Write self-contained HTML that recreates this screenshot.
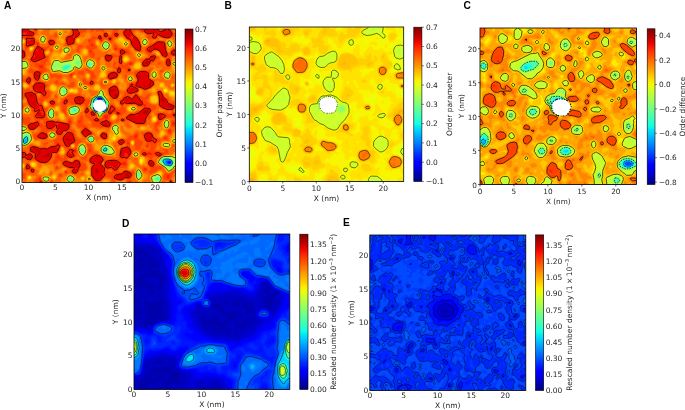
<!DOCTYPE html>
<html><head><meta charset="utf-8"><style>
html,body{margin:0;padding:0;background:#fff;}
svg{display:block;}
</style></head><body>
<svg width="685" height="410" viewBox="0 0 685 410">
<defs><linearGradient id="cbA" x1="0" y1="0" x2="0" y2="1"><stop offset="0.000" stop-color="#800000"/><stop offset="0.025" stop-color="#9b0000"/><stop offset="0.050" stop-color="#b60000"/><stop offset="0.075" stop-color="#d60000"/><stop offset="0.100" stop-color="#f10800"/><stop offset="0.125" stop-color="#ff1e00"/><stop offset="0.150" stop-color="#ff3800"/><stop offset="0.175" stop-color="#ff4e00"/><stop offset="0.200" stop-color="#ff6800"/><stop offset="0.225" stop-color="#ff7e00"/><stop offset="0.250" stop-color="#ff9400"/><stop offset="0.275" stop-color="#ffae00"/><stop offset="0.300" stop-color="#ffc400"/><stop offset="0.325" stop-color="#ffde00"/><stop offset="0.350" stop-color="#f8f500"/><stop offset="0.375" stop-color="#e4ff13"/><stop offset="0.400" stop-color="#ceff29"/><stop offset="0.425" stop-color="#baff3c"/><stop offset="0.450" stop-color="#a4ff53"/><stop offset="0.475" stop-color="#90ff66"/><stop offset="0.500" stop-color="#7dff7a"/><stop offset="0.525" stop-color="#66ff90"/><stop offset="0.550" stop-color="#53ffa4"/><stop offset="0.575" stop-color="#3cffba"/><stop offset="0.600" stop-color="#29ffce"/><stop offset="0.625" stop-color="#16ffe1"/><stop offset="0.650" stop-color="#00e4f8"/><stop offset="0.675" stop-color="#00ccff"/><stop offset="0.700" stop-color="#00b0ff"/><stop offset="0.725" stop-color="#0098ff"/><stop offset="0.750" stop-color="#0080ff"/><stop offset="0.775" stop-color="#0064ff"/><stop offset="0.800" stop-color="#004cff"/><stop offset="0.825" stop-color="#0030ff"/><stop offset="0.850" stop-color="#0018ff"/><stop offset="0.875" stop-color="#0000ff"/><stop offset="0.900" stop-color="#0000f1"/><stop offset="0.925" stop-color="#0000d6"/><stop offset="0.950" stop-color="#0000b6"/><stop offset="0.975" stop-color="#00009b"/><stop offset="1.000" stop-color="#000080"/></linearGradient>
<linearGradient id="cbB" x1="0" y1="0" x2="0" y2="1"><stop offset="0.000" stop-color="#800000"/><stop offset="0.025" stop-color="#9b0000"/><stop offset="0.050" stop-color="#b60000"/><stop offset="0.075" stop-color="#d60000"/><stop offset="0.100" stop-color="#f10800"/><stop offset="0.125" stop-color="#ff1e00"/><stop offset="0.150" stop-color="#ff3800"/><stop offset="0.175" stop-color="#ff4e00"/><stop offset="0.200" stop-color="#ff6800"/><stop offset="0.225" stop-color="#ff7e00"/><stop offset="0.250" stop-color="#ff9400"/><stop offset="0.275" stop-color="#ffae00"/><stop offset="0.300" stop-color="#ffc400"/><stop offset="0.325" stop-color="#ffde00"/><stop offset="0.350" stop-color="#f8f500"/><stop offset="0.375" stop-color="#e4ff13"/><stop offset="0.400" stop-color="#ceff29"/><stop offset="0.425" stop-color="#baff3c"/><stop offset="0.450" stop-color="#a4ff53"/><stop offset="0.475" stop-color="#90ff66"/><stop offset="0.500" stop-color="#7dff7a"/><stop offset="0.525" stop-color="#66ff90"/><stop offset="0.550" stop-color="#53ffa4"/><stop offset="0.575" stop-color="#3cffba"/><stop offset="0.600" stop-color="#29ffce"/><stop offset="0.625" stop-color="#16ffe1"/><stop offset="0.650" stop-color="#00e4f8"/><stop offset="0.675" stop-color="#00ccff"/><stop offset="0.700" stop-color="#00b0ff"/><stop offset="0.725" stop-color="#0098ff"/><stop offset="0.750" stop-color="#0080ff"/><stop offset="0.775" stop-color="#0064ff"/><stop offset="0.800" stop-color="#004cff"/><stop offset="0.825" stop-color="#0030ff"/><stop offset="0.850" stop-color="#0018ff"/><stop offset="0.875" stop-color="#0000ff"/><stop offset="0.900" stop-color="#0000f1"/><stop offset="0.925" stop-color="#0000d6"/><stop offset="0.950" stop-color="#0000b6"/><stop offset="0.975" stop-color="#00009b"/><stop offset="1.000" stop-color="#000080"/></linearGradient>
<linearGradient id="cbC" x1="0" y1="0" x2="0" y2="1"><stop offset="0.000" stop-color="#800000"/><stop offset="0.025" stop-color="#9b0000"/><stop offset="0.050" stop-color="#b60000"/><stop offset="0.075" stop-color="#d60000"/><stop offset="0.100" stop-color="#f10800"/><stop offset="0.125" stop-color="#ff1e00"/><stop offset="0.150" stop-color="#ff3800"/><stop offset="0.175" stop-color="#ff4e00"/><stop offset="0.200" stop-color="#ff6800"/><stop offset="0.225" stop-color="#ff7e00"/><stop offset="0.250" stop-color="#ff9400"/><stop offset="0.275" stop-color="#ffae00"/><stop offset="0.300" stop-color="#ffc400"/><stop offset="0.325" stop-color="#ffde00"/><stop offset="0.350" stop-color="#f8f500"/><stop offset="0.375" stop-color="#e4ff13"/><stop offset="0.400" stop-color="#ceff29"/><stop offset="0.425" stop-color="#baff3c"/><stop offset="0.450" stop-color="#a4ff53"/><stop offset="0.475" stop-color="#90ff66"/><stop offset="0.500" stop-color="#7dff7a"/><stop offset="0.525" stop-color="#66ff90"/><stop offset="0.550" stop-color="#53ffa4"/><stop offset="0.575" stop-color="#3cffba"/><stop offset="0.600" stop-color="#29ffce"/><stop offset="0.625" stop-color="#16ffe1"/><stop offset="0.650" stop-color="#00e4f8"/><stop offset="0.675" stop-color="#00ccff"/><stop offset="0.700" stop-color="#00b0ff"/><stop offset="0.725" stop-color="#0098ff"/><stop offset="0.750" stop-color="#0080ff"/><stop offset="0.775" stop-color="#0064ff"/><stop offset="0.800" stop-color="#004cff"/><stop offset="0.825" stop-color="#0030ff"/><stop offset="0.850" stop-color="#0018ff"/><stop offset="0.875" stop-color="#0000ff"/><stop offset="0.900" stop-color="#0000f1"/><stop offset="0.925" stop-color="#0000d6"/><stop offset="0.950" stop-color="#0000b6"/><stop offset="0.975" stop-color="#00009b"/><stop offset="1.000" stop-color="#000080"/></linearGradient>
<linearGradient id="cbD" x1="0" y1="0" x2="0" y2="1"><stop offset="0.000" stop-color="#800000"/><stop offset="0.025" stop-color="#9b0000"/><stop offset="0.050" stop-color="#b60000"/><stop offset="0.075" stop-color="#d60000"/><stop offset="0.100" stop-color="#f10800"/><stop offset="0.125" stop-color="#ff1e00"/><stop offset="0.150" stop-color="#ff3800"/><stop offset="0.175" stop-color="#ff4e00"/><stop offset="0.200" stop-color="#ff6800"/><stop offset="0.225" stop-color="#ff7e00"/><stop offset="0.250" stop-color="#ff9800"/><stop offset="0.275" stop-color="#ffae00"/><stop offset="0.300" stop-color="#ffc400"/><stop offset="0.325" stop-color="#ffde00"/><stop offset="0.350" stop-color="#f8f500"/><stop offset="0.375" stop-color="#e4ff13"/><stop offset="0.400" stop-color="#ceff29"/><stop offset="0.425" stop-color="#baff3c"/><stop offset="0.450" stop-color="#a4ff53"/><stop offset="0.475" stop-color="#90ff66"/><stop offset="0.500" stop-color="#7dff7a"/><stop offset="0.525" stop-color="#66ff90"/><stop offset="0.550" stop-color="#53ffa4"/><stop offset="0.575" stop-color="#3cffba"/><stop offset="0.600" stop-color="#29ffce"/><stop offset="0.625" stop-color="#13fce4"/><stop offset="0.650" stop-color="#00e4f8"/><stop offset="0.675" stop-color="#00ccff"/><stop offset="0.700" stop-color="#00b0ff"/><stop offset="0.725" stop-color="#0098ff"/><stop offset="0.750" stop-color="#0080ff"/><stop offset="0.775" stop-color="#0064ff"/><stop offset="0.800" stop-color="#004cff"/><stop offset="0.825" stop-color="#0030ff"/><stop offset="0.850" stop-color="#0018ff"/><stop offset="0.875" stop-color="#0000ff"/><stop offset="0.900" stop-color="#0000f1"/><stop offset="0.925" stop-color="#0000d6"/><stop offset="0.950" stop-color="#0000b6"/><stop offset="0.975" stop-color="#00009b"/><stop offset="1.000" stop-color="#000080"/></linearGradient>
<linearGradient id="cbE" x1="0" y1="0" x2="0" y2="1"><stop offset="0.000" stop-color="#800000"/><stop offset="0.025" stop-color="#9b0000"/><stop offset="0.050" stop-color="#b60000"/><stop offset="0.075" stop-color="#d60000"/><stop offset="0.100" stop-color="#f10800"/><stop offset="0.125" stop-color="#ff1e00"/><stop offset="0.150" stop-color="#ff3800"/><stop offset="0.175" stop-color="#ff4e00"/><stop offset="0.200" stop-color="#ff6800"/><stop offset="0.225" stop-color="#ff7e00"/><stop offset="0.250" stop-color="#ff9800"/><stop offset="0.275" stop-color="#ffae00"/><stop offset="0.300" stop-color="#ffc400"/><stop offset="0.325" stop-color="#ffde00"/><stop offset="0.350" stop-color="#f8f500"/><stop offset="0.375" stop-color="#e4ff13"/><stop offset="0.400" stop-color="#ceff29"/><stop offset="0.425" stop-color="#baff3c"/><stop offset="0.450" stop-color="#a4ff53"/><stop offset="0.475" stop-color="#90ff66"/><stop offset="0.500" stop-color="#7dff7a"/><stop offset="0.525" stop-color="#66ff90"/><stop offset="0.550" stop-color="#53ffa4"/><stop offset="0.575" stop-color="#3cffba"/><stop offset="0.600" stop-color="#29ffce"/><stop offset="0.625" stop-color="#13fce4"/><stop offset="0.650" stop-color="#00e4f8"/><stop offset="0.675" stop-color="#00ccff"/><stop offset="0.700" stop-color="#00b0ff"/><stop offset="0.725" stop-color="#0098ff"/><stop offset="0.750" stop-color="#0080ff"/><stop offset="0.775" stop-color="#0064ff"/><stop offset="0.800" stop-color="#004cff"/><stop offset="0.825" stop-color="#0030ff"/><stop offset="0.850" stop-color="#0018ff"/><stop offset="0.875" stop-color="#0000ff"/><stop offset="0.900" stop-color="#0000f1"/><stop offset="0.925" stop-color="#0000d6"/><stop offset="0.950" stop-color="#0000b6"/><stop offset="0.975" stop-color="#00009b"/><stop offset="1.000" stop-color="#000080"/></linearGradient></defs>
<rect width="685" height="410" fill="#fff"/>
<filter id="blA" x="-2%" y="-2%" width="104%" height="104%"><feGaussianBlur stdDeviation="0.50"/></filter><clipPath id="clipA"><rect x="22.00" y="29.00" width="153.50" height="153.50"/></clipPath><g clip-path="url(#clipA)"><g filter="url(#blA)"><rect x="20.00" y="27.00" width="157.50" height="157.50" fill="#0000bb"/><path fill="#0000e3" d="M22 29l154 0l0 154l-154 0l0-154z"/><path fill="#0000ff" d="M22 29l154 0l0 154l-154 0l0-154zM95.5 108.1l-.2 1.4l1.2 .4l.6-1.4l-.6-.6l-1 .2zM98.5 98.3l.1 1.2l.9 .2l1.3-.2l.7-1l-3-.2z"/><path fill="#0024ff" d="M22 29l154 0l0 154l-154 0l0-154zM96.5 107.4l-1 .2l-.7 .9l.7 1.7l1 .2l1-.9l0-1.2l-1-.9zM98.5 97.9l-.7 .6l.7 1.4l1 .3l2.1-.7l.2-1l-.3-.3l-3-.3zM169.5 161.4l-.7 .1l-.6 1l1.3 1l1-1l-1-1.1z"/><path fill="#0048ff" d="M22 29l154 0l0 154l-154 0l0-154zM95.5 107.3l-1 .9l0 1.3l1 1.1l1.6-.1l.7-1l-.3-1.9l-2-.3zM98.5 97.5l-1.1 1l.2 1l.9 .8l1.5 .2l2.1-1l.1-1l-.7-.7l-3-.3zM104.5 108.7l-.9 .8l.9 1l1-.3l.4-.7l-.4-.7l-1-.1zM167.5 161.4l-.3 1.1l.7 1l1.6 .5l1.1-.5l.4-1l-.5-1.3l-1-.3l-2 .5z"/><path fill="#006cff" d="M22 29l154 0l0 154l-154 0l0-154zM94.5 107.5l-.2 2l.6 1l1.6 .4l1.2-.4l.4-1l-.3-2l-1.3-.5l-2 .5zM98.5 97.3l-1 .3l-.4 .9l.2 1l1.2 1.1l2 .1l2.1-1.2l-.1-1l-1-1l-3-.2zM104.5 108.3l-1 .6l0 1.6l2 .1l.8-1.1l-.6-1l-1.2-.2zM168.5 160.5l-2 .7l-.2 1.3l2.2 1.8l2-.2l1-1.6l-.3-1l-1.4-1l-1.3 0z"/><path fill="#0090ff" d="M22 29l154 0l0 154l-154 0l0-154zM94.5 107.1l-.5 1.4l.5 2l2 .6l1.5-.6l.1-3l-1.6-.7l-2 .3zM97.5 97.4l-.6 1.1l.1 1l1.5 1.4l2 0l2.3-1.4l-.1-1l-1.2-1.2l-4 .1zM103.5 108.3l-.5 1.2l.5 1.3l2-.1l1-1.1l-.3-1.1l-.7-.4l-2 .2zM166.5 160.4l-1.1 1.1l.2 1l.9 1.1l3 1.2l1-.2l1-1.1l.1-2l-1.1-1.1l-4 0z"/><path fill="#00b4ff" d="M22 29l154 0l0 154l-154 0l0-154zM94.5 106.8l-.6 .7l0 1l.6 2.1l2 .7l1.9-.8l0-3l-.9-.8l-3 .1zM97.5 97.2l-.9 1.3l.1 1l1.8 1.7l2 0l2-.9l.6-.8l-.2-1l-1.4-1.3l-4 0zM103.5 108l-.8 1.5l.1 1l1.7 .6l1.6-.6l.5-1l-.1-1.1l-1-.6l-2 .2zM165.5 160.3l-.6 1.2l.1 1l1.5 1.6l3 .9l2-.9l.5-1.6l-.2-1l-1.3-1.4l-2-.3l-3 .5z"/><path fill="#00d8ff" d="M22 29l154 0l0 154l-154 0l0-154zM24.5 139.3l-.4 1.2l.2 2l1.2 .1l1.2-1.1l0-2l-1.2-.6l-1 .4zM94.5 106.5l-.9 1l.9 3.3l2 .7l2.4-1l.2-2l-.6-1.3l-2-1.1l-2 .4zM97.5 97l-1.3 1.5l-.1 1l1.4 1.6l3 .4l2.3-1l.6-1l-.3-1l-1.6-1.5l-4 0zM104.5 107.5l-1 .1l-1.3 1.9l.1 1l1.2 .8l2-.3l.8-.5l.5-1l-.3-1.5l-2-.5zM165.5 159.8l-.9 .7l-.3 1l1.2 2.5l4 1.3l2.1-.8l.7-2l-.9-2l-1.9-.9l-4 .2z"/><path fill="#16ffe1" d="M22 29l154 0l0 154l-154 0l0-154zM25.5 137.5l-1 .8l-.9 2.2l.1 2l.8 .8l2-.8l1.1-2l-.1-2.1l-1-1.1l-1 .2zM96.5 97.5l-1 1.7l-1 .3l0 1.2l1 .5l5 .9l3.3-1.6l-.6-2l-1.7-1.6l-3-.2l-2 .8zM165.5 159.2l-1 .3l-.9 1l.2 2l1.6 2l4.1 1.1l2-.6l1-2.5l-1-2.2l-2-1l-4-.1zM94.5 105.8l-1.2 1.7l1.2 3.4l1 .6l2 .1l2.7-1.1l.1-1l-1.8-3l-1-.7l-3 0zM103.5 106.9l-1.6 1.6l-.3 2l1.6 1l1.3 0l2-1l.4-2l-1.4-1.5l-2-.1zM104.5 148.5l-.7 1l.2 1l1.5 .3l.8-.3l.4-1l-.5-1l-1.7 0z"/><path fill="#33ffc4" d="M22 29l154 0l0 154l-154 0l0-154zM26.5 136.2l-2 1.2l-1.2 2.1l0 3l1.2 1.2l1-.2l1.4-1l1-2l-.1-3l-1.3-1.3zM66.5 66.4l-2.4 1.1l.1 1l2 0l1.8-1l.5-1l-2-.1zM74.5 109.3l-.1 1.2l1.1 0l.1-1l-1.1-.2zM96.5 97.3l-2.9 2.2l-1.1 3l.4 5l1.1 3l1.5 1.1l2 .2l4-.5l3 .4l2-1l.5-2.2l-1.2-2l.9-2l-.9-3l-3.1-4l-1.2-.8l-3-.1l-2 .7zM163.5 159.3l-1.1 1.2l.2 1l1.1 2l1.8 1.6l5 .7l1.8-1.3l.3-3l-2.1-2.2l-4-.6l-3 .6zM104.5 147.9l-1.3 1.6l0 1l1.3 .9l1 .1l1.5-1l.2-1l-.7-1.5l-1-.5l-1 .4zM97.2 103.5l1.3-.6l2 .6l1 1.7l.1 1.3l-1.1 .2l-3.5-2.2l.2-1z"/><path fill="#50ffa7" d="M22 29l154 0l0 154l-154 0l0-154zM25.5 136l-1 .7l-1.6 2.8l0 3l.4 1l1.2 .5l1-.2l1.8-1.3l1.3-3l-.1-1.9l-1-1.7l-1-.3l-1 .4zM64.5 66.3l-1.4 1.2l-.2 1l1.6 .9l3.4-.9l1.9-2l-.3-.7l-1-.3l-4 .8zM74.5 108.5l-1.1 1l.2 1l.9 1l1-.2l1-1.8l-1-1l-1 0zM82.5 149.8l-.7 .7l.7 .8l.7-.8l-.7-.7zM89.5 63.7l-.7 .8l.7 .6l1-.4l0-.4l-1-.6zM98.5 96.4l-1 .1l-4 2.4l-1.8 4.6l.9 4l1.2 3l.7 .8l2 .7l7 0l2-.6l1.2-.9l.4-1l-.5-3l.9-2l-1-3l-4-4.4l-2-.8l-2 .1zM157.5 177.6l-.9 .9l.3 1l.6 .6l1-.1l.7-1.5l-.7-.8l-1-.1zM164.5 158.4l-2.4 1.1l-.5 1l1.5 3l2.3 2l1.1 .3l4 .3l1.3-.6l.8-1l.5-2l-.2-1l-1.4-1.8l-3-1.2l-4-.1zM90.5 138.4l-.1 1.1l1.1 .1l.1-1.1l-1.1-.1zM104.5 147.3l-1.8 2.2l.1 1l.7 .9l1 .4l2-.2l1-1.1l-.1-2l-.9-1.1l-2-.1z"/><path fill="#6dff8a" d="M22 29l154 0l0 154l-154 0l0-42l.5 0l.3 2.5l1.7 .7l1-.1l2.2-1.6l1.4-4l-1.2-3l-1.4-.5l-2.4 1.5l-1.3 2l-.3 1.9l-.5 0l0-111.4zM51.5 112.1l-.9 1.4l.2 1l.7 .6l.8-1.6l-.8-1.4zM65.5 65.3l-2 1l-1.1 1.2l.1 1.6l1 .8l2 0l2-.6l2-1.3l1-1.5l-.1-1l-.9-.5l-4 .3zM73.5 108.3l-.6 1.2l.5 2l1.1 .6l1.7-.6l.7-1l-.3-2l-1.1-.4l-2 .2zM77.5 61.9l0 1.6l1 .1l.3-1.1l-.3-.6l-1 0zM81.5 149.4l-.4 1.1l.4 1l1 .5l1-.3l.4-1.2l-.4-.8l-1-.6l-1 .3zM88.5 63.3l-.4 1.2l.4 .7l1 .6l1.3-.3l.6-1l-.6-1l-1.3-.5l-1 .3zM97.5 96.3l-4.1 2.2l-2 5l.7 4l1.6 3l1.8 1.4l4 .7l6-1l1.4-1.1l.3-1l-.2-3l.6-1l.2-2l-.9-2l-5.4-5.2l-4 0zM138.5 172.8l-.4 .7l.4 1.8l1.1-.8l-.1-1l-1-.7zM156.5 177.5l-.5 1l.5 1.5l1 .8l1-.2l1.1-1.1l-.1-1.6l-1-.7l-2 .3zM163.5 158.2l-2 1.2l-.4 1.1l1.4 3l2 1.7l2 1l4 .2l1-.2l1-.9l.8-1.8l-.1-2l-1.7-2.2l-4-1.3l-4 .2zM64.5 89.8l-.8 .7l0 1l.8 1l1.1-1l-1.1-1.7zM69.5 178l-.6 1.5l.6 .7l1 .5l1.1-.2l.1-1l-.8-1l-1.4-.5zM90.5 137.6l-.9 .9l0 1l.9 1l1-.1l.9-.9l0-1l-.9-.9l-1 0zM104.5 146.9l-1.7 1.6l-.4 2l1.1 1.3l3 .3l1.5-1.6l-.1-2l-1.4-1.5l-2-.1z"/><path fill="#8aff6d" d="M22 29l154 0l0 154l-154 0l0-39.3l2.5 .8l2.6-1l1.6-2l.9-3l-1-3l-1.1-.9l-1-.1l-2.1 1l-1.9 2.7l-.5 0l0-109.2zM51.5 111l-1 .6l-.7 1.9l.5 2l1.2 .6l1-.6l.3-2l-.3-2l-1-.5zM68.5 64.4l-3 .3l-2 1l-1.7 1.8l.2 2l1.5 .9l2 0l2-.5l2-1.2l1.6-2.2l0-1l-.6-.8l-2-.3zM72.5 108.5l-.7 1l-.3 2.5l3 .7l2.4-1.2l.6-2l-1-1.6l-2-.3l-2 .9zM77.5 61l-.9 1.5l.1 1l.8 .9l1 .2l1-1.1l0-1l-1-1.4l-1-.1zM81.5 148.6l-.8 .9l.2 2l1.6 1.1l1-.2l.8-.9l-.3-2l-1.5-.9l-1 0zM88.5 62.7l-.8 .8l-.1 1l.6 1l2.3 .7l1.2-.7l.4-1l-.5-1l-1.1-.8l-2 0zM97.5 96.1l-4.4 2.4l-1.9 5l.4 4l1.9 3l2 1.6l4 1l6-1.4l1.5-1.2l.3-1l.8-6l-.8-2l-5.8-5.6l-4 .2zM105.5 44.1l-.9 1.4l.3 1l.6 .5l1-.1l.5-1.4l-.3-1l-1.2-.4zM137.5 172.4l.1 3.1l.9 1.6l1-.2l.9-1.4l-.3-2l-.6-1.2l-1-.4l-1 .5zM156.5 176.9l-.8 .6l-.1 2l.9 1.4l1 .5l1-.3l1.6-1.6l-.3-2l-1.3-.8l-2 .2zM162.5 158.2l-1.6 1.3l-.3 1l.6 2l1.9 2l3.4 2.1l4 .4l1-.1l1-.8l.9-1.6l.3-2l-.5-2l-1.7-1.7l-4-1.2l-3 0l-2 .6zM63.5 89.1l-.5 1.4l.4 2l1.1 .6l1-.3l.5-1.3l-.5-1.7l-1-.8l-1 .1zM69.5 177.4l-1.1 1.1l0 1l.7 1l1.4 .5l1.8-.5l0-1l-.8-1.1l-1-.9l-1-.1zM90.5 137.2l-1 .6l-.4 1.7l.6 1l1.8 .4l1-.8l.4-1.6l-.7-1l-1.7-.3zM104.5 146.5l-2.1 2l-.3 2l1.4 1.7l3 .3l1.5-1l.3-3l-.5-1l-1.3-.9l-2-.1z"/><path fill="#a7ff50" d="M22 29l154 0l0 154l-19.4 0l0-.5l.9-.1l3-2.9l0-1.2l-1-1.6l-2-.6l-1.9 .4l-1 1l0 2l1.9 3.5l-134.5 0l0-38.8l3.5 .4l2-1.1l1.7-2l1-3l-.8-3l-.7-1l-1.2-.6l-2 .2l-2.2 1.4l-.8 1.3l-.5 0l0-107.8zM51.5 110.2l-1 .3l-1.2 3l.2 2l1 1.1l1 .3l1-.5l.7-2.9l-.3-2l-1.4-1.3zM57.5 62.5l-4 3l-.9 2l.9 .8l1.5-.8l1.5-2l2.1-1l.3-1l-1.4-1zM69.5 63.3l-4 .5l-2 1l-2.7 2.7l.4 2l1.3 1.2l2 .4l3-.5l2-1.1l2-2l.4-1l-.5-2l-.9-1l-1-.2zM73.5 107.4l-2.5 1.1l-.7 1l.4 3l.8 .9l2 .1l3-.9l1.5-2.1l-.2-2l-1.1-1l-3.2-.1zM77.5 60.1l-1.6 1.4l0 3l1.7 2l.9 .5l1-.1l1-2.4l-.3-2l-.7-1.5l-2-.9zM81.5 147.4l-1 .3l-.4 .8l.2 3l1.2 1.6l2 .1l1.3-1.7l-.2-2l-1.1-1.4l-2-.7zM88.5 61.9l-1.2 1.6l.4 2l1.8 1.2l2-.2l1-1l.2-2l-2.2-1.6l-2 0zM96.5 96.4l-3 1.6l-1 1.2l-1.6 5.3l0 2l.6 1.6l3 3.6l5 2l6-1.8l1.6-1.4l.3-1l1.1-6l-.3-1l-5.7-6.5l-3-.4l-3 .8zM105.5 43.1l-1 .5l-.7 1.9l.7 1.7l1 .7l1-.1l1.1-1.3l0-2l-.8-1l-1.3-.4zM114.5 127.3l-.7 1.2l.7 .8l1-.3l.5-.5l-.1-1l-1.4-.2zM138.5 171.1l-1 .6l-.5 1.8l.5 3.6l1 1l1-.2l1.4-2.4l-.8-3l-.6-1l-1-.4zM163.5 157.4l-3.1 2.1l-.4 2l.4 1l5.1 4.1l6 1.5l1-.9l1.4-2.7l.4-2l-.2-2l-3.6-2.8l-3-.5l-4 .2zM166.5 123.6l-.4 .9l.4 1.3l1-1.3l-1-.9zM63.5 88l-.8 .5l-.5 1l.1 2l1.1 2l1.1 .2l1-.4l.9-1.8l-.9-2.4l-2-1.1zM69.5 176.8l-1.4 1.7l.4 2l2 .9l2-.7l.3-1.2l-1.1-2l-1.2-.7l-1 0zM89.5 137.3l-.8 1.2l.5 2l1.3 .8l2-.6l.8-1.2l-.6-2l-1.2-.7l-2 .5zM104.5 146.1l-1 .5l-1.5 1.9l-.1 2l.5 1l1.1 1l2 .5l2.8-.5l.8-2l-.7-3l-1-1l-2.9-.4z"/><path fill="#c4ff33" d="M22 29l154 0l0 34.5l-1.1 0l1.1 .3l0 76.5l-1.7 .2l.2 1l1.5 0l0 17.1l-2.5-.2l-3-1.3l-7 0l-2.5 1.4l-.9 1l-.8 2l.2 1.1l6.9 4.9l2.1 2.3l2-.2l2-1.1l2-3.7l1.5-1l0 19.2l-17.9 0l0-.5l2.4-2.4l.4-1.6l-1.4-2.4l-3-.6l-3.5 1l-.7 1l.2 2.3l1.7 1.7l.7 1.5l-132.9 0l0-38.4l3.5 .3l2.5-1.4l1.6-2l1.2-3l-1.1-4l-1.2-.9l-2-.5l-4.5 1.4l0-4.7l2.5-.2l1.1-1.1l-1.1-1l-2.5-.2l0-60l4.5-.7l.6-1.1l-.9-3l-.7-.3l-3.5 .1l0-33.3zM42.5 37.4l-1 1l-.1 1.1l1.1 1.3l1.1-.3l.9-2l-.6-1l-1.4-.1zM46.5 75.3l-.9 .2l-.4 1l.3 1l1 .9l1-.9l-1-2.2zM51.5 109.5l-1 .3l-.5 .7l-1.1 3l.6 2.9l2 1.2l1.4-1.1l.7-3l-.2-2l-1.9-2zM66.5 48.4l-1 .2l-1 .9l1 2.1l2-.1l1-1l0-1.2l-.8-.8l-1.2-.1zM74.5 56.5l-1 7l.4 2l1.6 .5l2 1.5l2 .4l1-1l.9-2.4l-.9-3.6l-.8-1.4l-.3-2l-.9-1.2l-2-.7l-2 .9zM81.5 145.5l-2 1.9l-.2 2.1l1.2 3.5l2 1.5l2.4-2l.3-3l-1.7-3.5l-.7-.5l-1.3 0zM89.5 60.5l-2 1.7l-.7 2.3l1.5 2l2.2 1l2-1.1l1.3-2.9l-1.3-1.9l-3-1.1zM100.5 91.4l-.4 2.1l-1.8 2l-5.7 3l-1.6 4l-.6 4l.9 2l2.9 3l4.1 2l1.2 1.8l2.1-1.8l3.9-1.5l1.7-1.5l1.6-7l-.8-2l-5.2-6l-.2-2l-.9-2l-1.2-.1zM105.5 42.3l-1 .4l-1 1.3l-.1 2.5l1.1 1.6l2 .5l1-.6l.9-1.5l.1-2l-.6-1l-2.4-1.2zM114.5 126.3l-1 .6l-.5 1.6l.5 1.2l2 1.2l1-.9l1-2.5l-1-1.2l-2 0zM130.5 77.4l-1.3 1.1l.3 1.4l1 .3l.8-.7l.2-1l-1-1.1zM138.5 170.4l-1.3 1.1l-.6 2l.6 4l1.3 1.3l1-.2l1-1.1l.9-2l-.9-3.2l-1-1.5l-1-.4zM144.5 40.4l-1 1l-.2 1.1l.3 1l.9 .4l1.2-.4l.7-2l-.9-1.3l-1 .2zM153.5 75.3l-.1 1.2l1.3 0l.3-1l-.5-.5l-1 .3zM166.5 72.8l-1.3 1.7l.2 2l1.1 .9l2-.1l1-1.5l0-1.5l-2-1.7l-1 .2zM168.5 42.2l.3 2.3l.7 1l1-.2l.4-.8l-.4-2.1l-1-.8l-1 .6zM44.5 177.6l-.7 .9l.7 1.5l1 .7l2-.2l.6-1l-.6-1.3l-3-.6zM52.5 133.4l-1 .2l-1 .9l0 1.2l1 .9l2-.1l.7-1l-.7-1.8l-1-.3zM56.5 61.3l-2 .8l-2.4 4.4l.2 2l1.2 2.1l6-.9l1 .1l3 1.9l4-.1l1.1-.1l3.2-2l.7-.9l1-5.1l-.3-1l-1.3-1l-1.4-.1l-2 .8l-4 .3l-3 .8l-3-1.9l-2-.1zM91.5 136.5l-2 .5l-1.2 1.5l.4 2l1.8 1.2l2-.5l1.2-1.7l-.6-2l-1.6-1zM103.5 146.2l-1.3 1.3l-.8 2l.7 2l1.4 1.3l3 .8l3 0l1.6-.1l2-1l.3-1l-.8-1l-2.1-.4l-1.2-2.6l-1-1l-2.8-.7l-2 .4zM166.5 121.3l-1 .8l-.6 2.4l.6 2l1 .7l1-.5l.9-2.2l-.9-3l-1-.2zM62.5 87.4l-1.6 2.1l-.2 3l1.1 2l1.7 .2l2-.9l1.1-1.3l.1-1l-1.2-3l-1.2-1l-1.8-.1zM72.5 107.3l-2 1l-.9 1.2l0 2l.9 2l1 .5l2 0l4-1.5l1.2-3l-1.1-2l-2.1-.6l-3 .4zM69.5 176.3l-1 .7l-.8 1.5l.4 2l2.4 1.2l2-.6l.9-1.6l-.7-2l-1.4-1l-1.8-.2z"/><path fill="#e4ff13" d="M22 29l154 0l0 33.7l-2.5 .3l-.3 .5l.3 1.1l2.5 .5l0 74.5l-2.5 .5l-.5 1.4l3 .6l0 15.8l-1.5 0l-3-1.2l-8 .1l-3 1.7l-1.7 3l.7 1.8l6.3 4.2l2.7 3.4l3.4-1.4l2.6-3.6l1.5-.8l0 17.9l-17.4 0l.8-1.5l1.2-1l.6-2l-.7-1.8l-1-1.1l-2-.7l-5 1.3l-.8 1.3l.6 3l1.8 2.5l-132.1 0l0-38.1l3.5 .3l3-1.7l2.2-3l.7-2l-.9-3.5l-1-1.5l-3-1l-4.5 1.4l0-3.4l3.5-.7l.7-1.3l-.7-1.2l-3.5-.5l0-58.7l4.5-.5l1.2-1.1l.2-1l-1.4-3.4l-1-.6l-3.5 .2l0-32.7zM41.5 37.2l-.6 1.3l.4 3l2.6 0l1.1-2l-.2-2l-1.3-.7l-2 .4zM45.5 74.3l-2 1.6l-.3 1.6l.5 1l2.8 1l1.4-1l-.1-3l-.6-1l-1.7-.2zM50.5 109.3l-1.5 2.2l-.5 3l1 2.4l2 1.1l1-.3l.9-1.2l.4-4l-.3-1.4l-1-1.4l-1-.6l-1 .2zM56.5 46.1l-.8 1.4l.8 .8l1.5-.8l-.1-1l-1.4-.4zM59.5 33.2l0 1l1 .5l.5-1.2l-.5-.5l-1 .2zM64.5 48.4l-.5 1.1l.2 1l.3 1l1 .8l3.1-.8l.5-2l-.6-1.2l-2-.3l-2 .4zM75.5 55.2l-1.6 1.3l-.5 3l-.9 1.1l-11 2l-3.6-2.1l-3.4 .7l-1 .9l-2 4.4l-.1 1l1.1 3.2l1 .6l6-.9l4 1.8l4 .1l5-2.3l1-2.8l1-.6l1 .1l3 1.6l1 .1l1-.6l1.4-3.3l-1.8-7l-.6-1.2l-1.1-.8l-1.9-.7l-1 .4zM85.5 86.4l-1 .2l-.6 .9l.6 .7l1 .1l1.2-.8l-1.2-1.1zM88.5 60.3l-2 3.2l.4 2l2.6 2.1l2 .2l2.1-2.3l.8-2l-.4-1l-2.5-2.2l-2-.4l-1 .4zM100.5 90.9l-1.8 3.6l-.9 1l-5.4 3l-1.5 4l-.8 4l.7 2l1.7 1.2l1.5 1.8l3.8 2l1.7 3.3l2.7-3.3l3.3-1.4l1.8-1.6l1.8-7l-.8-2l-4.8-6l-1-4l-1-.7l-1 .1zM102.5 67.2l-.3 1.3l.3 .7l1 .4l1-.5l0-1.7l-2-.2zM104.5 42.1l-1.7 2.4l.1 2l1.6 2.3l2 .3l2.1-1.6l.5-3l-.4-1l-1.3-1l-1.9-.7l-1 .3zM113.5 126.2l-1 2.3l.3 1l1.8 2l.9 2.2l1 .3l1-.4l.5-1.1l-.5-3l.5-2l-.3-1l-2.2-.9l-2 .6zM125.5 43l-.6 .5l.1 1l1.5 .3l.5-1.3l-1.5-.5zM129.5 77.2l-.8 1.3l.1 1l.7 1.1l1.8-.1l.7-1l-.3-2l-1.2-.6l-1 .3zM132.5 107.9l-.6 .6l.6 1.1l2 .1l.7-1.2l-.7-.9l-2 .3zM135.5 153l-1 .5l0 2l1 .4l1.5-.4l.6-1l-.3-1l-1.8-.5zM138.5 54l-.6 .5l.1 1l1.5 .6l.6-.6l0-1l-1.6-.5zM144.5 39.4l-1.2 1.1l-.7 2l.9 1.7l2 .3l1-1l.5-2l-.3-1l-1-1l-1.2-.1zM153.5 72.3l-1 1.2l-.1 3l2.1 .6l1.2-.6l.1-3l-.7-1l-1.6-.2zM166.5 72.2l-2 1.9l0 2l1 1.5l3 .4l1-.9l.6-2.6l-.4-1l-1.2-1l-2-.3zM168.5 41.2l-.6 1.3l.5 3l2.1 .5l1.2-1.5l-.2-1.5l-1-1.6l-1-.4l-1 .2zM26.5 108.2l-1 .7l0 1.8l1 1l2 0l.4-1.2l-.4-1.9l-2-.4zM43.5 177.5l-.1 2l1.1 1.2l2 .4l2-.8l.3-1.8l-.5-1l-2.8-.5l-2 .5zM50.5 133.4l-.6 2.1l.6 1.3l2 .6l2-.9l.4-1l-.7-2l-1.7-.6l-2 .5zM61.5 87.4l-1.3 2.1l-.3 3l.6 1.6l1 1.1l2 .4l3-2.4l.4-2.7l-1-2l-1.4-1.3l-1-.3l-2 .5zM80.5 83.1l-1 1.4l.3 1l.7 .4l.7-1.4l-.7-1.4zM90.5 136.3l-2 1.2l-.6 2l1.4 2l2.2 .5l2-1.3l.5-2.2l-1.5-2l-2-.2zM104.5 145.5l-1.9 1l-1.3 2l0 2l1.2 1.9l1 .7l3 .9l4 .1l3-.6l.5-2l-.3-1l-2.2-2.6l-4-2.2l-3-.2zM105.5 81.3l-.8 .2l.1 1l1.1 0l.4-1l-.8-.2zM137.5 170.5l-1.1 2l.1 4l1 2.3l1 .4l1-.1l2-2.6l.2-2l-2.2-4.2l-1-.4l-1 .6zM71.5 107.3l-1.8 1.2l-.8 2l.6 2.5l1 1.2l3 .3l4.5-2l1.2-3l-1-2l-2.7-.9l-4 .7zM80.5 145.3l-1.5 2.2l0 3l1.5 3.2l2 1.2l2.2-1.4l.8-1.8l.3-2.2l-1.3-3.4l-1-1l-3 .2zM165.5 121l-1.2 2.5l0 1l1.2 3l1 .3l1-.3l.6-1l.7-3l-1.3-2.7l-1-.3l-1 .5zM69.5 175.9l-2 2.2l.2 2.4l1.1 1l1.7 .6l2-.6l1.3-2l-.1-2l-2.2-1.4l-2-.2zM165.5 143.5l-2 .8l0 1.3l4 1l1.1-.1l1-1l-.1-1l-4-1z"/><path fill="#ffea00" d="M22 29l154 0l0 33.3l-2.5 0l-1 1.2l1 1.7l2.5 .5l0 73.5l-2.5 .2l-1.1 1.1l0 1l1.1 1l2.5 .1l0 14.6l-4.5-.9l-8 .2l-3.3 2l-1.8 3l0 1l.7 1l6.2 4l3.2 4.1l4-2.1l2-2.9l1.5-.8l0 17.2l-17.1 0l.6-1.2l1.5-1.3l.5-2l-1-2.6l-1-1.1l-2-.6l-5 1.5l-1 1.2l0 2.8l2.1 3.3l-131.6 0l0-37.8l3.5 .2l3.5-1.9l2.3-3l.5-2l-1.3-4.5l-1-.9l-3-1.1l-4.5 1.4l0-2.6l3.5-.4l1-.9l.2-1l-1.2-1.7l-3.5-.5l0-57.6l4.5-.5l1-.8l.9-1.9l-.9-2.6l-1-1.4l-4.5-.2l0-32.3zM42.5 36.3l-1.8 1.2l-.2 3l1 1.7l2 0l1.2-.7l.9-3l-1.1-1.9l-2-.3zM50.5 108.9l-1.8 2.6l-.6 3l.4 1.6l1 1.3l2 1l1.9-.9l.4-1l.2-5l-1.5-2.3l-1-.5l-1 .2zM55.5 46.2l-.3 1.3l.4 1l1.9 .1l1-1.1l0-1l-1-.8l-1-.2l-1 .7zM59.5 32.4l-.6 1.1l.2 1l1.4 .7l.9-.7l.2-1l-.7-1l-1.4-.1zM64.5 48l-1 1.5l1 3.3l3-.3l1.6-1l.5-2l-1.1-1.6l-2-.4l-2 .5zM76.5 54.3l-2.4 1.2l-.7 1l-.6 3l-1.3 .7l-10 1.9l-1-.3l-2-1.9l-4 .6l-1 .7l-2.3 5.3l.1 2l1.1 3l1.1 .3l6-.9l4 1.8l4 0l5.2-2.2l1.8-3.4l1 0l3 1.6l2-.4l1.9-3.8l-.9-4.3l-.9-2.7l-1.1-1.8l-3-1.4zM84.5 86.2l-1.1 1.3l.6 1l1.5 .3l1.3-.3l.5-1l-.6-1l-2.2-.3zM89.5 59.4l-2 1.4l-1 1.7l-.4 2l.4 1l2 1.9l2 1l1-.1l2-1.8l1-2l.1-2l-1.8-2l-3.3-1.1zM100.5 90.4l-1 .8l-.7 2.3l-1.3 1.8l-5.4 3.2l-2.3 8l.7 2.1l2 1.3l2 2.2l3 1.5l.7 .9l.3 2l1 .8l1-.6l2-3l3-1.4l1.9-1.8l2-7l0-1l-5.5-7l-.2-2l-1.2-2.7l-2-.4zM105.5 41.4l-1 .3l-1.7 1.8l-.4 3l2.1 2.8l2 .3l2.6-2.1l.5-3l-1.1-1.7l-3-1.4zM114.5 125.3l-1 .5l-1 1.3l-.2 2.4l1.8 2l.6 2l.8 .9l2 0l1-.9l.2-1l-.6-3l.4-2.1l-1.4-1.9l-2.6-.2zM125.5 42.4l-1.3 1.1l.1 1l1.2 1l1-.1l.9-.9l.2-1l-.8-1l-1.3-.1zM130.5 76.4l-1 .3l-1.2 1.8l.6 2l1.6 .7l1.4-.7l.7-2l-1.1-1.8l-1-.3zM138.5 53.4l-1 .7l-.1 1.4l1.1 1.1l1.4-.1l.9-1l-.1-1l-1.2-1l-1-.1zM144.5 39l-1.8 1.5l-.6 2l1.1 2l1.3 .5l2-.7l1-2.8l-1.2-2l-1.8-.5zM152.5 72.4l-.7 2.1l.1 2l1.6 1.1l2-.4l1-1.7l-.5-3l-1.5-1l-1 .1l-1 .8zM163.5 143.4l-.8 1.1l0 1l1.8 1.2l4 .4l1.1-.6l.6-1l-.1-1l-1.6-1.2l-3-.5l-2 .6zM165.5 72.3l-1.6 2.2l.3 2l1.3 1.6l3.1 .4l.9-.6l1-2.4l-.3-2l-2.7-1.8l-2 .6zM169.5 40.5l-1.8 1l0 3l.8 1.7l2 .4l1.3-1.1l.4-2l-1-2l-1.7-1zM29.5 176.7l-.9 .8l.9 1l.9-1l-.9-.8zM25.5 108.1l-.7 1.4l.4 2l1.3 .9l2-.1l1-1.8l-.6-2l-1.4-1l-2 .6zM44.5 74.2l-1.9 2.3l.4 2l2.5 1.5l2-.3l1-1.2l-.7-4l-1.3-.8l-2 .5zM52.5 132.5l-1 0l-1.6 1l-.5 2l1.1 1.8l2 .5l2-.8l.8-1.5l-.8-2.3l-2-.7zM62.5 86.5l-2 1.4l-1 2l-.2 1.6l.9 3l2.3 1.7l1-.1l2-1.3l1.2-1.3l.6-2l-.4-2l-1.4-2l-1-.7l-2-.3zM70.5 90.2l0 .6l1 .7l.8-1l-.8-1l-1 .7zM73.5 106.4l-3 1l-1.8 2.1l.1 3l.7 1.5l1 .7l3 .1l3.8-1.3l1.1-1l1-2l0-2l-1.9-2l-4-.1zM79.5 83.1l-.3 2.4l1.3 1l1.1-1l0-2l-1.1-1l-1 .6zM89.5 136.4l-1.8 2.1l.2 2l.9 1l1.7 .8l2.7-.8l1.1-2l-.8-2.5l-2-1l-2 .4zM103.5 145.4l-1.3 1.1l-1.2 2l0 2l1.5 2.3l5 1.7l5-.1l1.6-.9l.4-1l-.3-2l-2.7-3.4l-4-1.8l-4 .1zM103.5 66.5l-1 0l-1 1l.5 2l1.5 .8l1.5-.8l.5-1l-.2-1l-1.8-1zM132.5 107.2l-1.7 1.3l.2 1l2.5 .8l1.7-.8l.5-1l-.6-1l-2.6-.3zM138.5 169.4l-1 .5l-1 1.5l-.4 2.1l.4 4.3l1 1.4l1 .5l1-.1l1-.8l1.6-3.3l-1.6-4.6l-1-1.1l-1-.4zM140.5 160l0 2.2l1 .3l.4-2l-.4-.7l-1 .2zM165.5 89.4l-1.1 1.1l1.1 1.2l.8-.2l.4-1l-1.2-1.1zM43.5 177l-.7 1.5l.2 1l1.5 1.6l2.5 .4l1.8-1l.4-2l-.7-1.4l-3-.6l-2 .5zM69.5 175.5l-2.1 2l-.4 2l1.2 2l2.3 1l3-1.6l1-2.4l-.2-1l-1.2-1l-2-1l-1.6 0zM81.5 144.4l-2 1.3l-.9 1.8l-.1 2l1.4 4l1.6 1.6l1 .3l1-.4l1.6-1.5l1.1-4l-1.7-4.3l-1-.7l-2-.1zM88.5 177.8l-.7 1.7l.7 .7l2.2-.7l-.2-1.2l-2-.5zM104.5 81l-.5 1.5l.5 .5l2.4-.5l.2-1l-.6-.5l-2 0zM135.5 152.5l-1.5 1l-.3 1l.8 1.5l2 .3l1.3-.8l.1-2l-1.2-1l-1.2 0zM165.5 120.4l-1 1.2l-.7 2.9l1.2 3l1.5 .7l1-.3l1-1.3l.6-3.1l-1.2-3l-1.4-.4l-1 .3z"/><path fill="#ffc800" d="M22 29l154 0l0 32.9l-2.5 0l-1 .5l-.3 1.1l.3 1.3l1 1.1l2.5 .3l0 72.5l-2.5 .1l-1 .7l-.6 2l.7 1l3.4 .4l0 13.3l-8.5-.4l-4.9 .7l-3.7 3l-.8 2l.4 2l5.3 3l2 2l1.7 2.8l1 .6l4-2.1l2-2.6l1.5-.9l0 16.7l-16.8 0l.3-.8l1.9-1.7l.4-2l-1.3-4.1l-1-.9l-1-.1l-6 1.9l-1.2 1.2l-.2 3l2 3.5l-81.8 0l0-.5l2-1l.8-1l.7-3l-1-1l-3.3-1.5l-2 .7l-1.5 1.8l-.3 1l.1 2l2.3 2l0 .5l-47.1 0l0-16.2l.9-.3l-.4-.7l-.5 0l0-20.2l3.5 .2l2-1l2-1.3l2.5-3l.3-1l-1.6-6l-4.2-2l-.2-1l.7-2l-.5-1.3l-1-.8l-3.5-.4l0-56.8l4.5-.5l2-2.1l.3-1.1l-1.1-3l-1.2-1.4l-4.5-.2l0-31.9zM31.5 47.4l-1.2 1.1l.2 .7l1 .4l1.1-1.1l-1.1-1.1zM41.5 36.2l-1 .9l-.5 1.4l.3 3l1.2 1.1l3-.3l1.2-1.8l.1-3l-1.3-1.3l-3 0zM50.5 108.5l-1.1 1l-1.1 2l-.5 2l.1 2l.6 1.3l1.9 1.7l2.1 .1l1.4-1.1l.3-1l.1-5l-.3-1l-1.5-1.7l-2-.3zM56.5 45.2l-1 .4l-.8 1.9l.3 1l1.5 .7l1.8-.7l.7-1l-.5-1.6l-2-.7zM59.5 32l-.7 .5l-.3 1.3l1 1.7l1 .3l1-.7l.6-1.6l-.6-1.3l-2-.2zM65.5 47.3l-2 1.2l-.3 1l.4 2l-.6 2l.5 .8l5-1.8l1.1-1l.3-1l-.2-2l-1.1-1l-3.1-.2zM75.5 54.2l-2 1.3l-1 3.6l-1 .7l-4 1.1l-6 .8l-1-.4l-2-2.1l-5 1.2l-1 1.5l-1.7 4.6l.1 2l1 3l.6 .7l1 0l6-.9l4 1.8l4 0l2-.5l3.9-2.1l1.1-3l1 0l3 1.5l2-.2l1.1-1.3l1.2-3l-1-5l-1.9-4l-3.4-1.6l-1 .3zM83.5 86.4l-.5 1.1l.5 1.2l2 .6l2.1-.8l.2-1l-1.3-1.5l-1-.3l-2 .7zM88.5 59.3l-2.4 3.2l-.1 3l3.5 2.9l2 .3l2.4-2.2l1-2l.1-2l-1.5-2l-1.8-1l-3.2-.2zM99.5 90.4l-1.5 4.1l-1.2 1l-4 2l-.9 1l-2.5 8l1.1 2.4l2 1.2l2 2.1l3 1.8l1 3.2l1 .5l1-.5l2-3.2l4-2.2l1-1.3l2.2-8l-5.4-7l-.2-2l-1.3-3l-1.3-.4l-2 .3zM101.5 66.5l-.4 2l1.4 2.1l2 0l1.2-1.1l.1-2l-.7-1l-2.6-.5l-1 .5zM104.5 41.3l-2.1 2.2l-.4 3l1 2l1.1 1l2.4 .4l1.1-.4l2-2l.3-3l-1.4-2.1l-2-1.1l-2 0zM113.5 125.3l-1.5 2.2l-.1 2l1.7 2l1.2 3l1.7 .6l2-.5l.7-1.1l-.5-7l-.8-1l-1.4-.6l-3 .4zM124.5 42.1l-.9 1.4l.1 1l.8 1.1l2 .3l1.4-1.4l-.2-2l-1.2-.6l-2 .2zM129.5 76.3l-1.2 1.2l-.3 2l.5 1.1l2 .9l1.8-1l.7-2l-.3-1l-1.2-1.2l-2 0zM137.5 53.3l-.6 1.2l.6 2.1l2 .4l1.3-.5l.4-1l-.7-1.8l-1-.5l-2 .1zM143.5 39.1l-1.7 2.4l.1 2l1.6 1.7l2 .1l1-.5l.9-1.3l.5-2l-.3-1l-2.1-2l-1 0l-1 .6zM153.5 71.1l-1.6 1.4l-.6 3l.9 2l2.3 .4l1-.2l1.2-1.2l.1-3l-.2-1l-1.1-1l-2-.4zM166.5 71.3l-2.6 2.2l-.5 2l1 2l1.1 1.1l3 .3l1-.4l1.1-2l0-3l-2.1-1.8l-2-.4zM168.5 40.3l-1.3 1.2l.3 3.9l1 1.3l2 .3l1.7-1.5l.4-2l-1.8-3l-2.3-.2zM172.5 84.4l-.9 1.1l.9 .6l.7-.6l-.7-1.1zM29.5 176.2l-1 .4l-.4 .9l.4 1.1l1 .3l1-.4l.4-1l-.4-.9l-1-.4zM26.5 107.2l-1.9 1.3l-.1 2.7l2 1.6l2-.1l1.1-1.2l-.1-2.8l-1-1.2l-2-.3zM32.5 163.3l-.6 .2l-.4 1.1l1 .9l1.9 0l.1-1.3l-.7-.7l-1.3-.2zM45.5 73.3l-2.9 2.2l-.5 2l.3 1l1 1l2.1 1l1-.1l2-1l.1-3.9l-1.1-1.8l-2-.4zM50.5 132.5l-1.1 1l-.3 1l.4 2.3l2 1.3l1 .1l2-.8l1.2-1.9l-1.2-2.8l-2-.5l-2 .3zM61.5 86.5l-1.2 1l-1.1 2l-.2 3l1.5 3.1l2 1l1-.1l3-2.3l1.2-2.7l-.5-2l-1.7-2.4l-2-.9l-2 .3zM70.5 89.4l-.7 1.1l.3 1l1.4 .4l1.2-.4l.4-1l-.6-1l-2-.1zM79.5 82.4l-.7 1.1l0 2l.6 1l1.1 .3l1-.4l.5-.9l-.1-2l-.6-1l-.8-.4l-1 .3zM89.5 136.2l-1 .6l-1.2 1.7l.3 2l.9 1.2l2 .9l3-.8l1.1-2.3l0-1l-1.1-1.9l-2-.9l-2 .5zM103.5 145.1l-1.8 1.4l-1.1 2l.5 3l1.4 1.6l3.2 1.4l2.8 .4l4-.1l1-.2l1-.9l.4-1.2l-.2-2l-2.2-3.3l-4-2.1l-5 0zM104.5 80.4l-1 1.1l0 1l1 1l2-.3l1-.7l.1-1l-1-1l-2.1-.1zM113.5 137.2l-.5 1.3l.5 1l1.2 0l.6-1l-.4-1l-.4-.5l-1 .2zM125.5 58.2l-1 .7l0 1.5l1.2 .1l1.4-1l-.6-1.3l-1 0zM130.5 107.3l-1.4 1.2l.1 1l2.1 1l3.2 0l1.2-1l.3-1l-.3-1l-1.2-.7l-2-.1l-2 .6zM140.5 158.8l-.7 1.7l.1 1l.6 2.2l1 .1l1.3-3.3l-.3-1l-1-.9l-1 .2zM154.5 117.5l-1 1l-.1 1l1.1 .9l1-.3l.2-.6l-.2-1.4l-1-.6zM164.5 89.2l-.6 1.3l.6 1.3l1 .3l1.6-.6l.1-1l-.7-1.1l-1-.5l-1 .3zM170.5 92.3l0 1.4l1 .7l2-.4l-.1-1.5l-1.9-.5l-1 .3zM44.5 176.2l-1 .3l-1 1.5l.1 1.5l.7 1l2.2 1.3l2-.1l1-.5l1.1-1.7l-.2-2l-1.9-1.2l-3-.1zM53.5 176.3l-.5 1.2l.5 .5l1-.2l.1-1.3l-1.1-.2zM72.5 106.5l-2.7 1l-1.5 2l0 3l1 2l1.2 .7l3 0l4-1.4l1.3-1.3l1-2l0-2l-2.3-2.3l-3-.2l-2 .5zM80.5 144.4l-1.3 1.1l-.9 2l0 3l2 4l2.2 1.2l1-.3l2-1.9l1-3l0-1.8l-2.2-4.2l-1.8-.5l-2 .4zM88.5 177.2l-1.2 1.3l.2 1.6l1 .6l2-.4l.9-.8l-.1-1l-1.2-1l-1.6-.3zM132.5 141.5l-1 1l.1 1l.9 .8l1-.8l0-1l-1-1zM134.5 152.4l-1 1.1l-.3 1l.2 1l1 1l2.1 .2l1.9-1.2l.1-1.6l-1-1.5l-1-.3l-2 .3zM165.5 120.1l-1.3 1.4l-.9 3l1.2 3l1 1l1 .1l2-1.4l1-3.7l-1-3.1l-1-.5l-2 .2zM82.5 177.9l0 1.3l1.1-.7l-1.1-.6zM137.5 169.4l-1.6 3.1l.2 5l1.4 2.1l2 .5l1-.7l1.4-1.9l.5-3l-1.9-4.2l-1-1l-2 .1zM164.5 142.5l-2 1.2l-.3 1.8l.8 1l4.5 1.2l1-.1l1.6-1.1l.5-2l-.7-1l-2.4-1l-3 0zM22 131.5l3.3 0l-2.8 1.5l-.5 0l0-1.5z"/><path fill="#ffa700" d="M22 29l154 0l0 32.5l-3.5 .3l-.6 1.7l.6 2.1l1 1l2.5 .5l0 71l-2.5 0l-1.8 1.4l-.3 1l0 1l1.1 1.3l3.5 .5l0 11.5l-2.5 .7l-6 0l-5 .7l-4 3.3l-.8 2l.4 2l5.4 3.1l1.9 1.9l1.8 3l1.3 .8l4-2.1l2.2-2.7l1.3-.7l0 15.6l-.5 0l-.1 .6l-15.9 0l0-.5l2.3-2l.3-1l-.6-4l.3-2l-.7-1l-1.6-.7l-7 3.2l-1.6 1.5l-.1 3l1.8 3.5l-80.6 0l0-.5l1.8-1l.6-1l.9-3l-.8-1l-4-1.8l-2.3 .8l-1 1l-.9 2l.1 2l1.7 2.5l-46.1 0l0-15l1.5-.5l.5-1l-.5-1.9l-1.5-.2l0-18.4l3.5 .1l1-.3l3.5-2.3l2.4-2l.5-1l-1.8-7l-.6-.7l-3-1.5l-.5-.8l.3-2l-.8-1.8l-1-.7l-3.5-.4l0-51.9l2.6-.2l.4-1l-.3-1l-1.3-1l1.1-.9l2-.4l1-.8l1.4-1.9l.2-1l-1-3l-1.6-1.8l-4.5-.1l0-17.4l1.5-.3l1.1-1.4l-.3-1l-2.3-.5l0-11zM30.5 47.4l-.6 1.1l.1 1l.5 .6l1 .1l1.6-1.7l-.2-1l-1.4-.5l-1 .4zM40.5 36.4l-.9 2.1l.8 4l2.1 .5l2.5-.5l.8-1l.5-2l-.1-2l-.7-1l-1-.7l-2-.3l-2 .9zM47.5 51.3l-1.4 1.2l.4 1.3l1 0l1-1l0-.9l-1-.6zM55.5 45.2l-1.3 2.3l.3 1.3l2 .9l2-.7l.9-1.5l-.6-2l-1.3-.7l-2 .4zM59.5 31.4l-1 .6l-.4 1.5l1.4 2.6l1 .2l1-.5l.8-1.3l0-2l-.8-.9l-2-.2zM64.5 47.2l-1.5 1.3l0 3l-2.2 3l-.1 1l.8 1l2 0l2.9-3l2.1-.6l1.5-1.4l.1-3l-.9-1l-1.7-.6l-3 .3zM76.5 53.5l-3.4 2l-.8 3l-.8 .9l-4 1.2l-6 .6l-1.2-.7l-1.8-2.4l-2.8 1.4l-2.2 .3l-1.5 1.7l-1.7 6l1.2 4.2l1 1l7-.9l4 1.7l4-.1l6-2.5l1-2.7l1-.4l3 1.5l2-.2l1.6-1.6l1.2-3l-1.1-5l-1.6-4l-4.1-2zM77.5 39.3l-.7 1.2l.2 1l.5 .6l1 0l.7-.6l-.2-2l-.5-.4l-1 .2zM84.5 49.8l-1 .9l-.3 1.8l.7 1l1.6 .5l1-.5l.6-2l-.6-1.3l-1-.5l-1 .1zM88.5 58.9l-1 .8l-1.8 2.8l-.4 2l.3 1l3.9 3.3l2 .3l1.1-.6l1.7-2l1-2l.1-2l-1.9-2.5l-3-1.2l-2 .1zM96.5 85.4l-1.4 1.1l-.5 2l.9 .7l3 0l1-1.7l-.4-1l-1.2-1l-1.4-.1zM97.5 41.5l-.8 1l-.1 1l.9 1l1-.1l.3-1.9l-1.3-1zM99.5 89.7l-1.9 4.8l-5.1 2.9l-.8 1.1l-2.5 8l1.3 2.8l7 5l.8 3.2l1.2 .4l1.2-.4l1.8-3.1l4.5-2.9l1.1-2l1.9-7l-5.2-7l-.3-2l-1.3-3l-.7-.6l-3-.2zM101.5 65.9l-.8 1.6l.3 2l1.5 1.8l2-.1l1.7-1.7l.1-2l-.5-1l-2.3-.9l-2 .3zM104.5 41l-2.4 2.5l-.5 2l.2 2l2.7 2.7l3-.2l2.6-2.5l.2-3l-.3-1l-1.5-1.4l-2-1.2l-2 .1zM113.5 80.2l-.9 1.3l.9 1.3l1-.1l1-1.2l0-1l-1-.5l-1 .2zM119.5 38.2l-.8 1.3l0 1l2.7 1l1.1 1l.9 3l2.1 1l2.2-1l.8-2l-.1-1l-.9-.8l-3-.3l-1-.9l-.4-2l-1.6-.9l-2 .6zM129.5 75.9l-1.5 1.6l-.2 2l.7 1.5l2 .8l2.3-1.3l.7-2l-.3-1l-1.7-1.7l-2 .1zM137.5 52.8l-.9 .7l-.3 1l.5 2l.7 .7l2 .3l1.9-1l.4-1l-.9-2l-3.4-.7zM144.5 38l-2.1 1.5l-.7 1l-.4 2l1.2 2.5l2 .8l2-.5l.8-.8l.9-3l-.2-1l-1.5-1.7l-2-.8zM152.5 71.3l-1.4 2.2l0 3l1.4 1.6l3 0l1.6-1.6l0-4l-.8-1l-1.8-.9l-2 .7zM157.5 52.4l-.4 1.1l.3 1l1.1 .4l.6-.4l-.3-1l-1.3-1.1zM161.5 83.4l-1.3 1.1l.1 2l1.2 .4l1.9-.4l.4-1l-.3-1.3l-1-.8l-1 0zM166.5 71l-2.3 1.5l-1.2 2l0 1l1 2l1.5 1.5l2 .3l2-.3l1.4-2.5l.1-3l-1.5-1.6l-2-1l-1 .1zM167.5 40.4l-.7 2.1l.7 3.7l1 1.1l3-.3l1.7-2.5l-1-3l-1.7-1.6l-2 0l-1 .5zM28.5 176l-.8 1.5l.1 1l.7 .8l2-.2l.9-1.6l-.4-1l-1.5-.7l-1 .2zM32.5 162.3l-1 .3l-.8 .9l0 1l1.8 2.1l2.4-.1l.8-1l-.2-2l-1-.8l-2-.4zM23.5 84.5l-.2 1l1.2 1.7l3.1-.7l-.1-1l-2-1.7l-1 0l-1 .7zM44.5 73.4l-2.3 2.1l-.3 3l2.6 2l2 .4l1-.3l1.4-1.1l.2-1l-.5-4l-1.1-1.3l-1-.2l-2 .4zM54.5 55.1l-.6 .4l.6 .3l2 .2l1.1-.5l-3.1-.4zM50.5 108.1l-1 .8l-1.6 2.6l-.3 4l1.9 2.8l1 .6l2 .1l1.9-1.5l.2-6l-.2-1l-1.7-2l-2.2-.4zM52.5 85.2l-1 .5l-.8 1.8l0 1l1.5 2l2.3 .3l1.3-1.3l0-2l-2.2-2l-1.1-.3zM56.5 107.2l-1 1.3l0 1l1 .9l1 0l1-.8l.2-1.1l-.4-1l-1.8-.3zM61.5 86.1l-1.6 1.4l-1.2 2l.1 4l1.7 2.6l2 .9l1-.1l2-1.1l1.9-2.3l1-2l-.1-1l-1.2-2l-1.9-2l-1.7-.6l-2 .2zM70.5 88.9l-1.6 1.6l.1 1l1.5 .7l3-.2l2 .6l1.8-1.1l-.8-1.8l-1-.3l-2 .4l-1-.8l-2-.1zM74.5 75.3l-1.1 1.2l1.1 1.3l1-.3l.3-1l-.3-.7l-1-.5zM79.5 81.8l-.8 .7l-.6 2l.8 2l1.6 .6l1.9-.6l-.6-4l-1.3-.8l-1 .1zM84.5 85.5l-1.9 1l.3 2l.6 .7l2 .6l2-.6l.8-1.7l-.4-1l-2.4-1.2l-1 .2zM87.5 74.6l-.8 .9l.8 1.9l1-.2l.7-1.7l-.7-.8l-1-.1zM102.5 145.2l-1.5 1.3l-1.1 2l.8 3l1.8 2l3 1.3l3 .4l4 0l2-.9l.7-1.8l-.2-2l-2.5-3.9l-1-.8l-3-1.2l-4 0l-2 .6zM102.5 72.2l-1.4 1.3l-.4 1l0 2l.8 .5l2.9-.5l1-2l-1.9-2.8l-1 .5zM113.5 115.1l-1 .9l-.4 1.5l.4 1.1l2 .3l1-.5l.5-1.9l-.8-1l-1.7-.4zM124.5 57.2l-1 1.3l-.1 1l.1 1l1 1l1.2 0l2.3-1l.6-1l-1.1-2.1l-1-.8l-2 .6zM130.5 106.4l-2 .8l-.8 1.3l.9 2l4.9 .6l1-.2l1.6-1.4l.1-2l-.7-.7l-2-.6l-3 .2zM137.5 63.4l-2 1l-.7 1.1l.2 2l1.5 1.1l2-.2l1.6-.9l.1-2l-.6-2l-2.1-.1zM141.5 127.2l-.6 1.3l.6 .6l2 0l1.3-.6l-.3-1l-3-.3zM152.5 96.4l-1.3 1.1l-.4 3l.4 1l1.7 1l3.7 0l.9-2l-.8-4l-1.2-.8l-3 .7zM153.5 88.6l-.9 .9l.5 1l1.4 0l-.2-1l-.8-.9zM162.5 131.3l-1 .3l-.9 1.9l0 1l.9 1.1l2-1l.6-1.1l-.6-1.7l-1-.5zM165.5 88.3l-1 .3l-1 1.9l.2 1l1.8 1.1l2.6-1.1l-.8-2l-1.8-1.2zM170.5 91.2l-1 .3l-.5 1l.7 2l.8 1.1l3 .6l1.5-1.7l.2-1l-.4-1l-1.3-1.1l-3-.2zM171.5 84.5l-.3 1l.8 1l.5 .1l1.2-1.1l-.2-1.1l-1-.4l-1 .5zM25.5 107.1l-1.3 1.4l-.2 3l1.5 1.4l3 .3l1.5-1.7l-.2-3l-1.3-1.4l-1-.3l-2 .3zM43.5 176.1l-1 1l-.4 1.4l.4 1.3l1.6 1.7l1.4 .6l2-.1l2-1.4l.5-3.1l-.9-1l-1.6-.6l-4 .2zM44.5 102.4l-.5 1.1l.5 2.1l2 0l.6-1.1l-.2-1l-1.4-1.4l-1 .3zM50.5 132.1l-1.5 1.4l-.2 1l.7 3l1 .6l2 .4l2-.7l1.3-1.3l.2-1l-1.3-3l-1.2-.6l-3 .2zM60.5 113.8l-1.1 1.7l.4 2l1.7 1.3l2-.3l.6-1l-.6-2.5l-1-1l-2-.2zM71.5 106.5l-2 .8l-1.6 2.2l0 3l1.6 2.7l2 .5l2-.1l4-1.3l1-.8l1.9-4l-.2-1l-1.5-2l-2.2-.9l-5 .9zM80.5 144l-1 .7l-1.2 1.8l-.4 2l.1 2l1.9 4l1.6 1.3l1 .2l1.4-.5l2-2l.9-3l0-2l-2.3-4.4l-2-.4l-2 .3zM88.5 136.4l-1.5 2.1l-.2 1l1 2l2.7 1.4l3-.6l.8-.8l.7-2l-1.2-3l-2.3-1l-3 .9zM104.5 80l-1.3 1.5l0 1l.6 1l2.7 .1l1.5-1.1l.1-1l-.7-1l-.9-.5l-2 0zM113.5 124.9l-1.4 1.6l-.6 3l2 3l.5 2l-.3 1l-1.2 1l-1.1 2l.1 1l1 .8l2 .3l1.7-1.1l.3-1l-.6-2l.6-.7l2 0l1 1l1 0l.9-1.3l-1.6-3l-.6-3l.1-2l-.8-2l-2-.9l-3 .3zM131.5 141.5l-.3 2l1.3 1.3l1-.6l.4-1.7l-.4-1l-1-.5l-1 .5zM134.5 152l-1.5 1.5l0 2l.5 .7l2 .9l2.4-.6l1-1l.1-1l-.5-1.5l-1-1l-1-.3l-2 .3zM141.5 157.1l-1 .4l-1.2 3l1.2 4l1.1 0l2-3l.5-2l-.5-2l-2.1-.4zM153.5 117l-1.1 1.5l.1 2l1 .8l2-.1l1-1.7l-.5-2l-1.5-1l-1 .5zM163.5 142.4l-1.4 1.1l-.3 1l.7 2.2l2 .9l3 .4l1.9-.5l1.2-1l.3-2l-.4-1.1l-1-.6l-4-.8l-2 .4zM166.5 119.4l-2.2 1.1l-1.5 3l1.2 4l1.5 1.4l2-.3l1-.8l1.4-3.3l-.9-4l-1.5-1l-1-.1zM53.5 175l-1.5 1.5l-.1 1l1.6 1.5l1 .1l.9-.6l.4-1l0-2l-1.3-.9l-1 .4zM61.5 148.4l.8 1.1l0 1l-.8 .8l-.3 1.2l.3 .7l1 .4l1-.4l.3-1.7l-1-1l.3-2l-.6-.8l-1 .7zM72.5 145l-.6 .5l-.1 1l.7 .6l1-.2l.4-1.4l-1.4-.5zM82.5 176.9l-.9 .6l-.1 1.8l1 .9l1-.1l.8-1.6l-.3-1l-1.5-.6zM87.5 171.9l-.9 .6l0 1l.9 .9l1 .2l.7-1.1l-.2-1l-.5-.6l-1 0zM131.5 164.2l-1.5 1.3l-.2 2l.7 1.2l1.3-.2l2.1-2l-.4-1.4l-1-.8l-1-.1zM137.5 168.9l-1.7 2.6l-.1 6l.4 1l1.4 1.5l2 .6l1-.3l1.5-1.8l1-3l-2.5-5.8l-1-.8l-2 0zM87.5 177.2l-.7 2.3l.7 1.2l3 .1l1.4-1.3l-.1-1l-1.3-1.3l-2-.5l-1 .5z"/><path fill="#ff8600" d="M22 29l17.3 0l.2 1.3l1 .5l2-1.3l0-.5l13.2 0l0 .5l2.3 2l0 3l1.5 3l-1 2.2l1.8 1.8l1.2 2.4l2.6-2.4l-.6-2.2l-1.9-.8l-.9-1l2.3-3l-.4-4l.5-1.5l5.1 0l.3 .7l.2-.7l107.3 0l0 31.9l-3.5 .1l-.9 2.5l.9 5.6l2 3.2l1.5 .3l0 19.1l-2.5-1l-5-.8l-2-2.3l-1.8-1.1l-.7-3l-1.5-.8l-2 .3l-.6 .5l-.8 3l.8 1l2.6 .3l1 .7l-.6 2l.6 1.7l1 .8l3-.2l1 .7l.9 2l1.1 1.1l3 1.1l2.5-1.8l0 36.3l-1.5 .5l-3.3 5.8l-.4 1l0 3l-6.3-.9l-2.1 .9l-1 2l.3 2l.8 .7l2 .8l4 .3l2.5-1.8l.5-3.6l4.5 .8l0 9.6l-1.5 .2l-2 1.4l-5 .2l-5 .9l-4.6 3.5l-.5 2l.2 2l5.9 3.5l3.2 4.5l1.8 1.2l4-2.2l3-3.2l.5 0l0 13.6l-1.5 .5l-.3 1.6l-6.6 0l-.1-.7l-.3 .7l-7.3 0l0-.5l2.3-2l-.2-5l.7-2l-1.2-1.9l-2-.6l-8.5 4.5l-.6 1l-.1 2l.4 2l1.4 2.5l-10.2 0l-.3-2.5l2.7-3l0-1l-3.4-7l-2.4-1.4l-1.3 .4l-1.3 2l-.6 2l-.1 4l1.1 3l3.1 2l.2 1.5l-18.2 0l0-.5l-1.9-.2l-1.6 .2l0 .5l-9 0l-.2-1.5l-1.2-.9l-3-.3l-1 .4l-.9 2.3l-25.2 0l0-.5l-.9-.7l-1 .6l-.1 .6l-2.5 0l0-.5l2.2-2l.9-3l-1.5-1.6l-4-1.7l-2 .5l-2.5 2.8l-.7 3l1.4 2.5l-44.7 0l0-14.1l2.1-1.4l.6-2l-.3-1l-.9-.8l-1.5-.1l0-17.1l4.5-.3l5-3.5l3 .1l1 1.7l3 1l1-.2l.8-1.8l-.8-1.8l-1-.4l-4 1l-3-8.9l-1-1.3l-2.8-1.6l-.1-2l-1.1-2.3l-1-.5l-3.5-.5l0-39.6l.5 0l2 2.4l1 .1l3-1.6l-1.1-2l-1.9-1.3l-1-.1l-2.5 .9l0-9.4l2.5 .5l1.7-.6l.3-1l-.5-3l2.9-3l.5-2l-1.9-4.7l-1-.6l-4.5-.1l0-15.9l2.5-1.1l.5-1.6l-.5-1.6l-1-.6l-1.5 0l0-10.3zM30.5 46.9l-.7 .6l-.5 2l1.2 1.4l1-.1l1.6-1.3l.4-2l-1-.8l-2 .2zM41.5 35.1l-1 .6l-1.2 1.8l-.1 2l.8 3l1.5 .8l4-.4l.9-1.4l.3-2l-.6-3l-1.6-1.1l-3-.3zM56.5 44.4l-1.8 1.1l-1.1 2l.9 2.7l3-.1l2-1.5l.6-1.1l0-2l-1.6-.9l-2-.2zM63.5 47.2l-.9 1.3l-.1 3l-3 2.7l-2-1.2l-3-.4l-2.1 1.9l-1.6 5l.4 4l-1.6 4l1.8 5l1.1 .6l7-.7l4 1.7l4-.2l6-2.5l.8-.9l.7-2l.5-.3l3 1.4l2-.1l1-.6l2.7-4.4l-1.4-3l-1-6l-4.3-2.1l-1-.4l-1 .3l-2 1.3l-.8 .9l-1.2 3.2l-4 1.4l-6.3 .4l-.7-1l0-1l4-1.6l2-2.8l3.3-1.6l.8-2l-.1-2l-.6-1l-1.4-.7l-3-.1l-2 .5zM78.5 38.2l-2.1 1.3l-.2 2l.4 1l.9 .5l2 0l.8-.5l.3-1l-1-3l-1.1-.3zM83.5 49.4l-1.4 2.1l.3 3l3.1 .5l1-.2l1.2-2.3l-.1-2l-1.1-1.2l-1-.4l-2 .5zM89.5 58.4l-2 .8l-1.6 2.3l-1.1 2l0 2l4.7 3.6l2 .3l1-.2l1.8-1.7l1.6-3l.1-2l-1.3-2l-1.2-.9l-4-1.2zM96.5 41.1l-.7 1.4l.5 2l2.2 1.1l1-.3l.4-.8l-.8-3l-1.6-1l-1 .6zM105.5 40.4l-2 .9l-2.5 3.2l-.3 1l.3 2l.7 1l1.8 1.8l1 .4l2 0l2-.9l2.3-2.3l.3-1l-.3-2l-1.3-2l-2-1.5l-2-.6zM114.5 79.4l-2 .8l-.8 1.3l.2 1l1.6 1.2l1-.1l1-.8l.7-1.3l.1-1l-.8-.9l-1-.2zM119.5 37.2l-3.1 3.3l-.1 1l1.2 1.4l1 1l2 .4l3 2.4l2 .4l2-.8l.8-.8l.7-2l-.5-2l-3.1-1l-1.1-2l-1.8-1.6l-2-.2l-1 .5zM129.5 75.4l-1 .7l-.8 1.4l-.3 2l1.1 2l2 .6l2.9-1.6l.8-1l0-1l-1.7-2.5l-2-.8l-1 .2zM137.5 32.3l-1 1.2l1 1.2l.6-1.2l-.6-1.2zM143.5 34.3l-2.3 1.2l-.2 1l.5 .5l1-.1l1.5-1.4l.2-1l-.7-.2zM153.5 70.1l-2.5 2.4l-.3 4l.8 1.5l3 .7l2-.7l1.3-1.5l0-3l-.6-2l-.7-.8l-2-.8l-1 .2zM156.5 51.9l-.4 .6l.5 2l.9 .9l2 .3l.4-1.2l-1-2l-1.4-1l-1 .4zM165.5 71.1l-2.6 2.4l-.4 1l.6 2l1.2 2l1.2 .9l3 .4l1-.3l1.7-3l.3-2l-.5-2l-3.5-2l-2 .6zM168.5 39.5l-1.8 1l.1 5l1.7 2.8l1 0l2-.9l2.3-2.9l-2.3-4.7l-3-.3zM161.5 130l-1.4 2.5l-.7 3l.3 1l.8 .4l3-1.3l1.9-2.1l-.3-1l-1.6-1.9l-1-.7l-1 .1zM165.5 119.3l-1.7 1.2l-1.5 3l0 1l1.5 4l.7 .5l2 .3l1-.3l1.7-1.5l1-4l-.8-3l-.8-1l-1.1-.5l-2 .3zM29.5 175.3l-1 .2l-1 .9l-.4 1.1l.4 1.7l1 1l2-.4l1.4-1.3l-.2-2l-2.2-1.2zM31.5 161.9l-1.4 1.6l.5 2l1.9 1.6l3 .2l.8-.8l.2-1l-.1-2l-.7-1l-2.2-.8l-2 .2zM26.5 106.4l-2 1.1l-.7 1l-.4 3l.4 1l1.7 .9l3 .3l1-.6l.9-1.6l-.3-3l-1.6-1.8l-2-.3zM44.5 73l-2.8 2.5l-.4 3l.6 1l2.6 1.5l3 .1l1.8-1.6l-.3-5l-1.5-1.7l-3 .2zM46.5 51.2l-1.1 1.3l0 1l1.1 1.1l1 0l1.5-1.1l.2-2l-.7-.9l-2 .6zM52.5 84.3l-1 .2l-.8 1l-.9 2l0 1l1.7 2.3l3 1l1-.5l1.6-1.8l-.1-2l-2.5-2.5l-2-.7zM60.5 86.2l-2.7 3.3l0 1l.4 3l.9 2l2.4 1.7l2 .1l2-1.1l3-3.4l7 .5l1.9-.8l.6-1l-.1-1l-1.4-1.7l-3 .1l-2-.5l-3 1.1l-4-3.8l-2-.1l-2 .6zM63.5 79.3l0 1.2l1 .6l1 .3l1-.5l0-.7l-1-1.1l-1-.2l-1 .4zM73.5 75.4l-.5 1.1l.5 1.3l2 .3l.7-.6l.1-1l-.8-1.4l-1-.2l-1 .5zM78.5 81.5l-.9 3l.9 2.3l1 .6l2.3 .1l1.7 2.5l1 .3l3-.3l1.3-1.5l.1-1l-1.4-1.7l-2-.8l-2 .5l-.9-1l-.4-2l-.7-.8l-2-.6l-1 .4zM86.5 74.1l-.6 1.4l.5 2l1.1 1l1-.1l1.3-1.9l-.3-2l-2-.7l-1 .3zM95.5 85l-1.5 1.5l-.5 2l.3 1l.7 .5l3.8 .5l0 2l-1.1 2l-5.4 3l-2.9 9l1.5 3l2.1 1.1l4 3.1l1 1.2l.5 2.6l1.5 .7l1.5-.7l1.8-3l4.4-3l.7-1l2.4-8l-2.9-4l.1-2.1l-2-.9l-.1-3l-1.5-2l-1.4-.9l-2-.4l-.5-.7l0-2l-1.5-1.7l-2-.3l-1 .5zM101.5 65l-1.2 1.5l-.1 1l.4 2l1.1 2l-1.6 2l-.5 3l.4 1l1.5 .4l3-.5l1.2-.9l.5-2l-1.1-3l1.9-2l.1-1l-1.6-2.8l-2-.9l-2 .2zM113.5 114.4l-2.1 2.1l-.3 2l.7 1l1.7 .5l2-.7l1-1.3l.2-1.5l-1.2-1.4l-2-.7zM116.5 103.2l0 .7l1 .8l0-1.2l-1-.3zM119.5 78l-1 1.5l.4 1l3.6 2.7l.7-.7l-.1-2l-.6-1l-3-1.5zM124.5 56.3l-1 1l-.4 1.2l.4 3l1 .7l1 0l2-.6l1.5-1.1l.5-1l-.2-1l-1.7-2l-1.1-.6l-2 .4zM128.5 106.4l-1.2 1.1l-.2 2l.5 1l1.9 1.1l5-.3l1.2-.8l1.2-2l-1.1-2l-1.3-.7l-4-.1l-2 .7zM136.5 52.5l-.9 1l.2 2l.7 1.5l1 .9l3 0l2-1.4l2-.2l.4-.8l-1-1l-1.4-.3l-2-1.3l-3-.6l-1 .2zM143.5 37.7l-2.3 2.8l0 3l1.3 2.1l1 .7l2-.1l2.3-1.7l.8-3l-.9-2l-1.2-1.1l-1-.7l-2 0zM153.5 87.4l-1.6 1.1l-1.3 2l1.9 1.4l2 .6l1-.9l.2-2.1l-1-2l-1.2-.1zM171.5 84l-.7 1.5l.7 1.4l1 .2l1.7-1.6l0-1l-.7-.7l-2 .2zM45.5 101.2l-1 .3l-.9 1l-.2 2l1.1 2l2 .1l1-.6l.7-1.5l-.9-2l-1.8-1.3zM56.5 106.3l-1 .8l-1 1.9l-3-1.3l-2.1 .8l-2.2 4l.4 4l1.6 2l1.3 .8l3-.2l1.7-1.6l-.1-5l.4-1.5l2.6 .5l.9 1l-.4 5l2.9 2.6l2 .2l1.4-1.8l-.4-3l-1.4-2l-2.8-1l-1-1l.1-4l-1-1l-1.9-.2zM74.5 105.4l-5 1.3l-1.6 1.8l-.6 2l.2 2l2 3.3l4 .4l4-1.3l1.6-1.4l1.8-3l.1-2l-1.7-2l-1.8-1.1l-3 0zM81.5 143.4l-2 .7l-1 1.3l-.8 2.1l0 2l.3 2l1.4 3l2.1 1.7l1 .1l2-.8l1.7-2l1.1-4l-.5-2l-2.3-3.9l-3-.2zM98.5 131.3l-1 .2l-.8 1l.8 2.2l1-.1l2-3.1l-2-.2zM101.5 140.4l-1 1.2l1.2-.1l-.2-1.1zM105.5 79.4l-2 .8l-.7 1.3l.4 2l1.3 .6l3-.6l1-1l.2-1l-1.2-1.5l-2-.6zM114.5 124.1l-2.1 1.4l-1.4 3l.1 2l1.6 2l-.2 1.7l-2-1.1l-1 .3l-.4 1.1l.2 4l-1.5 2l-.2 1l1.4 2l-5.5 .7l-3 1.6l-1 0l-1.1-1.3l-2.9-1.3l-.6-5.7l-1.4-1.7l-2-.6l-3 .9l-1.2 1.4l-1 2l.8 2l3.4 1.8l4.3 .2l.6 1l-.2 4l.3 .9l4 .8l1 2.3l2 1.6l3 1l4 .6l5-.6l.9-1.6l0-3l-2.3-4l-2-2l-.5-1l.4-1l1-1l3.5-.4l2-2.4l4-1.2l1.3-1l.2-1l-2.5-3.1l-1.3-6.9l-1.7-1.2l-3-.2zM120.5 86.5l-.7 1l.7 .5l1-.5l-1-1zM130.5 163.4l-1.1 1.1l-.6 3l0 1l.7 1l1 .2l2.8-1.2l1.8-2l-.3-1l-1.3-1.5l-2-.9l-1 .3zM131.5 140.9l-.7 1.6l.4 2l1.3 .7l1-.3l.6-1.4l-.1-2l-1.5-.9l-1 .3zM135.5 151.4l-2 .8l-.9 1.3l-.1 2l.6 1l2.4 .9l3.4-.9l.5-2l-.7-2l-1.2-1l-2-.1zM137.5 62.2l-2 1.1l-1.1 1.2l-.9 2.4l-.9 .6l3.9 1.8l4.1-.8l.5-2l-.6-3.4l-1-1l-2 .1zM141.5 126.3l-1.3 1.2l-.3 1l.6 1.2l3 .5l2-.6l.8-1.1l-.1-1l-.7-.5l-4-.7zM152.5 95.4l-1.6 1.1l-.6 1l-.2 4l.9 1l1.5 .7l4 .2l1-.6l.6-2.3l-.6-4l-1-1.3l-1-.4l-3 .6zM43.5 165.8l-3.5 4.7l-1 3l.5 .8l2-.1l3-3l1 2.4l2 .4l1-.5l.9-3l-.6-2l-.9-1l-1.8-1l-2.6-.7zM49.5 132.2l-.9 1.3l-.1 1l.2 2l.8 1.7l3 .8l3-1.5l.8-2l-1.8-3.6l-3-.3l-2 .6zM61.5 147.3l-.5 1.2l.1 2l-1 2l.2 1l1.2 1l1 .1l1-.2l.8-.9l.5-2l-1.8-4l-1.5-.2zM72.5 144.3l-1 .8l-.3 1.4l.6 1l1.7 .1l1-.9l.1-1.2l-.7-1l-1.4-.2zM78.5 132.9l-.4 .6l.4 1.4l.5-.4l-.5-1.6zM82.5 176.2l-1.7 1.3l-.1 2l1.8 1.5l1-.1l1.4-1.4l-.1-2l-.8-1l-1.5-.3zM88.5 170.3l-2 .8l-1.3 1.4l.3 1.3l1.7 1.7l.2 1l-1.1 3l.3 1l.9 .7l3 0l1.5-.7l.4-1l-.2-1l-2.6-3l.4-2l-.2-2l-.3-.9l-1-.3zM140.5 90.3l-.5 2.2l.5 .5l1-1.5l-1-1.2zM140.5 156.5l-1 1l-.7 3l1 4l.7 .6l1 .1l3.2-2.7l.8-3l-.9-2l-1.1-.8l-3-.2zM153.5 116l-1.8 2.5l.1 2l.7 1.3l1 .3l2-.3l1.3-1.3l-.2-3l-1.1-1.4l-2-.1zM54.5 173.4l-1 .5l-3 3.6l-.6-1l-2.4-1.1l-4 .3l-1.6 1.8l.1 2l2.5 2.5l2 .4l2-.4l1-1l1-3.4l3 2l1.7-.1l1.4-2l.1-2l-1.2-1.9l-1-.2zM63.5 168.3l-1 .8l-.7 1.4l.7 1.1l2.4-2.1l0-1l-1.4-.2zM53.4 57.5l1.3 0l1.1 1l-1.3 .4l-2-.4l.9-1z"/><path fill="#ff6400" d="M22 29l8 0l0 .5l1.5 .8l1-.2l.3-1.1l5.6 0l0 4.5l.6 1l-.3 1l-.2 .3l-1-.8l-1 .1l-1 .4l-.5 1l1.5 3.3l2-.4l.5 2.1l1.5 2.3l6 .6l.8-3.9l-.4-4l-2.4-1.8l-4-.8l-.4-.4l.7-1l2.4-2l.7-1.5l6.9 0l-1.6 3.5l.3 1.3l1 1.3l1 0l3-3.2l2-.3l1.9 4.9l-.4 1l-2 2l.1 2l1 2l-1.6 .7l-3.2 3.3l1.2 3l-.3 1l-2.3 3l-1.7 5l.2 2l1.1 1.5l0 1.5l-1 1.1l-2-.1l-1.1 1l.3 1l2.7 2l.5 2l1.6 1.7l1 .4l3-.5l4 .3l5 1.7l4-.9l5.7-2.7l1.3-2.7l2 1.1l3 .2l4-2.8l1-.1l5 2.6l3 .2l1-.5l2.6-5l-.3-2l-1.8-3l-4.5-1.6l-2 0l-1 .7l-3 4l-1-.7l-.1-5.4l3.1-.3l1-.6l.8-3.1l-.2-2l-.6-1l-3-1.5l-2 1.1l-1.4 1.4l-.6 3l-1 .2l-3-1.1l-1 .1l-2.6 1.8l-1.4 3l-1 .9l-3 1.2l-4.2-.1l.3-1l2.5-2l.8-2l2.6-1.2l1.6-1.8l.3-3l-.4-1l-3.5-1.3l-4 .3l-.6-1l.3-1l1.8-2l-.4-3l.5-3l3.3-2l.1-1.1l1.8-1.9l.1-2.5l105.6 0l0 14.9l-1.5-.1l-2-5l-1-.2l-5.6 .9l-.2 1l1.6 10l1.2 1.2l1-.6l1.6-2.6l2.4-2l2.5 .7l0 9.2l-3.8 1.1l-.9 5l0 4l-1.8 3.7l-3-.2l-3 2l-1.6 1.5l-.2 1l.2 1l2.6 3.9l1 .7l3 .4l1-.1l1-.9l2-6.2l3.5 1.1l0 4.7l-.5 .4l.5 0l0 10l-4.5 .2l-2-.4l-2-2.7l-2-1.3l-1.3-2.8l-2.7-.8l-2 .4l-2-1.9l-1 .2l-1 .8l-.4 4.3l-4.6 3.4l-1.6 .6l-1.1 1l-.1 1l2.8 .9l1.7 1.1l-.1 1l-2.1 2l-1 4l.9 2l2.6 1.4l4 .4l1-.3l.7-1.5l.4-3l-.6-3l-2.1-3l1.6-4.6l4 .6l3 5.3l2-1l1 .1l1.6 2.6l2.2 2l.2 1.5l.5 .5l.8 0l3.2-1.6l0 9.2l-.5 0l-1.1 2.4l.6 1l1 .2l0 19.1l-1.5 .2l-.7 .5l-4 6l-.3 3.7l-6-.1l-2 1.3l-.8 2.1l.1 2l1.1 1l2.6 .9l4 .5l2.4-1.4l.5-1l.2-2l.9-.8l3.5 .6l0 1.6l-.9 .6l-.7 2l.8 1l.8 .2l0 1.7l-2.5 .9l-1.7 2.2l-4.3 .2l-5 1l-4.3 2.8l-1.1 1l-.3 1l.1 3l.6 .8l6 3.1l2.5 4.1l1.5 1.3l2 .2l4-2.8l2-2.2l.5 0l0 6l-.5 0l-1.1 2.5l-1.8 2l.7 2l.2 2.5l-4.9 0l-.1-.9l-1-1l-1.5 .4l-.5 1.5l-5.3 0l.3-.8l2.2-1.7l.3-1l-.6-3l1.1-3l-1-2.6l-2-.6l-2 .3l-2.3 1.9l-6.1 3l-.5 1l.3 3l1.7 3.5l-8.5 0l.2-2.5l1.2-.7l2-.2l1-1.1l.3-2l-.3-1.8l-4-1.6l-3-4.9l-3.4-1.7l-4.2-4l-2.4-3.1l-1 0l-.9 1.1l.2 3l-1.1 5l.2 1l2.6 1.1l5.2-2.1l-.8 3l-.2 6l1 2l2.4 2l.4 1.5l-12.9 0l.1-2.5l-1.2-.3l-2 1.2l-6-.1l-.4 1.7l-6.3 0l-.3-2.8l-1-.8l-3-.8l-1 0l-1.3 .9l-2.1 3.5l-7.1 0l-.9-1.5l-.5-3l-2.2-3l.1-3l-.5-4l.5-3l-3-4.1l-1 .1l-.3 1l1.1 2l.9 4l-4.3 4l1.3 3l-3.7 .4l-2 2.1l-1 .4l-1-.1l-.8-1.8l-1.2-.9l-4-1.6l-2-.3l-8.2 4.8l-.6 1l.4 3.5l-13.1 0l0-.5l1.5-1l1-1.9l1-.8l2 1.5l2-.1l1.4-1.7l1-5l2.6-1l3 .8l.4-1.8l1.6-1.6l1.8-.4l-.2-1l-4.6-1.6l-3 3.4l-3 1.4l-1 .1l-1-.3l-.8-1l.1-4l-.5-1l-1.8-1.1l-5 .3l-3-.5l-1.8 .3l-.7 3l-1.5 1.1l-1-.4l-.9-1.7l0-3l-.5-1l-2.6-1.3l-2-.2l-2 .7l-.7 .8l-.2 1l.6 2l1.3 1.5l3.8 1.5l1.2 1.3l2-.2l.4 1.9l-1.3 2l0 1l.9 .8l4 .2l-.9 2l.1 2l1.5 2l1.8 1l0 .5l-14.5 0l0-1.6l2 .6l.5-1.5l2.7-3l.2-1l-1.4-.6l-2 0l-3-1.2l-2 .5l-.8 1.3l0 6.5l-3.4 0l.1-2.5l-1.4-.6l0-8.6l.5 0l2.2-3.8l.4-2l-.6-2.2l-1-.6l-1.5-.1l0-14.5l4.5-1.2l5-3.3l5 2.2l3 .5l1.4-.8l.3-3l0-1l-1.5-1l-1.2-.3l-3 .9l-.7-.6l-2.3-4.6l-.4-3.4l-.6-.9l-3-1.3l-.9-2.8l-1.1-1.8l-4.5-1.1l0-10.1l2.5-.5l5 .3l1.2-1.8l.3-2l-.5-2l-1-1.6l-1-.8l-2-.3l-2.6 1.7l-1.4 3.3l-.5 0l0-7.8l3.5-.1l1-1.4l0-1l-1-1.5l-3.5 2.1l0-14.3l.5 0l2 2l1 .1l3.1-1.4l.6-1l-.3-1l-2.4-2.3l-2-.8l-2.5 .1l0-7l2.5 1.1l2.8-1.1l.7-1l-.7-2l.1-2l2-3l.5-2l-2.4-5.9l-5.5 .1l0-10.9l1.5-.3l.2-4l1.1-1l.7-2l-1-2.3l-2.5-.4l0-9.8zM28.5 56l-.9 .5l-.2 1l1.1 .7l.9-.7l-.1-1l-.8-.5zM31.5 46.2l-2 1l-.7 1.3l-.2 2l.9 1.4l2-.2l2-1.9l.6-1.3l.1-1l-.5-1l-2.2-.3zM37.5 129.5l-2.7 1l-.9 1l1.4 1l1.2-.4l1.1-1.6l-.1-1zM38.5 94.1l-1 .4l1 2.1l1-1.1l0-1l-1-.4zM47.5 49.8l-2.1 1.7l-.5 1l.5 2l1.1 .8l2-.4l1.7-1.4l0-1l-.8-2l-.9-.9l-1 .2zM63.5 77.4l-2.1 2.1l-.2 1l6.3 3.4l1-.3l.7-2.1l-.9-2l-2.8-2.5l-2 .4zM73.5 74.9l-.8 1.6l0 1l.8 .9l2.7 1.1l.6 4l-.3 3.2l-3 1.4l-3-.2l-2 .6l-4-3.2l-3 0l-3 1.8l-4-3l-3-.4l-1.1 .8l-1.6 3l-.1 1l1.8 2.2l2.5 1.8l.1 1l-1.5 2l-.1 2.1l2 .8l.4-2.9l.6-1.4l2.1-1.6l.9 1.7l.8 3.3l.1 1l-1.1 2l-.1 1l1.3 1.3l1-.7l.9-1.6l.1-1.4l-.8-.6l3.8-.6l2.4-1.4l2.6-2.7l1-.4l3-.1l3 .7l1-.3l1.8-1.2l.4-1l0-1l-1.7-3l4.5 .6l.9 2.4l-.6 3l.5 1l1.8 0l1.4-2l-.4 2l.6 2l.8 .9l4-.9l.1 4l-2 6l1.3 3l2.6 1.4l4.4 3.6l.8 3l.8 .7l2 .1l2.7-3.8l2.3-1.2l2.6-2.8l2.7-8l-1.7-3l.7-1l0-1l-1.8-3l-1.5-5.7l-1-.3l-2 .7l-2.4-.7l-.9-3l-1.7-2l-1-.4l-5 3.5l-2 .5l-4-2.2l-3 0l-1-2.7l-1-1.2l-1.2-.5l-1.5-2l-1.3-.5l-1-2.5l-1-.9l-2 .3zM86.5 73.1l-1.1 1.4l-.1 2l1.2 2.4l1 .9l1-.1l1.5-2.2l.1-3l-1.6-1.2l-2-.2zM73.5 45.4l-1.4 1.1l-.2 1l1.6 2.2l1 0l1-1.2l.4-2l-.4-1l-2-.1zM88.5 32.4l-2.2 1.1l-1.5 2l-.3 1.4l-.8 .6l-1.2 .3l-1-1.2l-5 2l-.8 1.9l.2 2l.6 1l2 .5l2.7-.5l4.3-4.4l2-.3l2.8-1.3l.5-2l-.2-1l-2.1-2.1zM96.5 40l-1.3 1.5l.4 3l2.2 2l.8 3l3.9 3.1l1-.1l1.4-1l2.6-.3l3-1.9l.6 .2l-.1 1l-2.9 2l.4 1l1.5 0l1.5-.8l4.2-.2l-3.1-3l-.7-4l-1-2l-2.4-2.2l-2-1.3l-2 0l-3 3.2l-1 .2l-1.5-2.9l-1.5-.7l-1 .2zM108.5 31.4l-.1 1.1l1.1 1.8l.8-.8l.1-1l-.9-1.2l-1 .1zM120.5 35.5l-3 2.6l-2.6 1.4l-.5 2l5.1 5.1l5 1.3l3-.7l1.6-1.7l.6-3l-.4-1l-2.8-1.5l-4-4.1l-2-.4zM131.5 47.5l-1.2 1l.2 1.4l2.7 2.6l1 3l3.3 4.9l.2-.9l5.8-1.3l4-1.7l-.4-1l-3.6-3.4l-2 .6l-4-1l-3-.2l-.8-1l-.6-2l-.6-.7l-1-.3zM135.5 31.5l-.6 1l.3 2l5.3 4.6l.3 4.4l1.7 3l1 .8l1-.2l3.1-1.6l1.3-2l.3-2l-1-2l-3.1-3l.6-1l-.1-1l-2.1-1.5l-3 .5l-2-2.3l-2-.2l-1 .5zM150.5 65.4l-.1 1.1l2.1 0l1.3 1l.3 1l-3.5 4l-.3 4l.8 2l1.4 .6l3 .2l2-1l1 .1l1 1l.5-2.9l-1.4-3l0-2l.9-1.9l2.5-1.1l-.4-1l-1.1-.5l-2 1.3l-1 0l-1.3-.8l-1.7-2.4l-4 .3zM153.5 40.4l-.5 1.1l.5 .3l1.1-.3l.6-1l-1.7-.1zM159.5 37.9l-.4 .6l1.4 1.4l3.9-.4l-1.6-1l-3.3-.6zM171.5 83.3l-1 1.2l.1 2l.9 .9l2-.2l1.6-1.7l0-1l-1.6-1.4l-2 .2zM152.5 112.4l-1.2 1.1l-.3 1l.9 1l.1 1l-1.1 3l.6 4.1l5-1.8l.8-1.3l0-2l-.8-2.3l-2.1-1.7l-.6-2l-1.3-.1zM159.5 108.3l-.8 .2l-.2 1l.1 1l.9 .8l2 .3l3-.7l.3-.4l-2.3-.5l-3-1.7zM169.5 111.4l-.6 .1l-.6 1l1.2 .3l.4-.3l-.4-1.1zM32.5 82.1l-.7 1.4l.7 .7l1.1-1.7l-1.1-.4zM45.5 72.2l-2 1l-2.3 2.3l-.4 4l.7 .9l6 1.6l2.4-2.5l-.6-5l-.8-1.6l-1-.7l-2 0zM57.5 105.4l-2 .7l-1 1.5l-1 .5l-2-.7l-2 .4l-2.9 4.7l.4 4l2.5 2.8l1 .4l5-.1l2-.8l1 .2l3 2.1l4.2 .4l.6-1l-.1-2l-1.1-3l-1.1-2l-3-2l-.7-5l-.8-.8l-2-.3zM73.5 105.2l-5 .9l-1.6 3.4l-.1 2l1.7 4.3l2 1.2l2.8 .5l.5 1l-.3 2l1 1.8l1 .1l.6-.9l.1-2l1.9-4l2.4-3.2l2-.7l.9-1.1l.5-3l-.4-1.2l-3 .3l-3-1.6l-4 .2zM88.5 121.4l-1 .2l-.6 .9l.6 .4l2 .4l1-.8l-1-1l-1-.1zM101.5 57.1l-1.6 4.4l.4 2l-.9 3l1.2 5l-1.9 3l-1 4l-1.6 2l1.4 1.5l1-.1l1.5-2.4l1.5-.8l4-.3l1-1.7l.5-2.2l-.5-3l2-1l3 .3l1.6-1.3l-1.6-1.9l-3 .1l-1-.3l-2.4-2.9l.1-2l-1.2-2l-.5-3l-1-.6l-1 .2zM112.5 61l-1 1.6l1-.1l.4-1l-.4-.5zM120.5 74.5l-1 .5l-2 3.6l-1 .6l-2-.2l-1.9 .5l-2.1 1.9l-1-.2l-3-2.4l-2-.2l-1.8 1.9l.1 3l.7 .7l3 .2l1-.2l2-1.8l1 .2l1 1.8l2 .1l2-.7l2-2.3l1.8 1l.6 1l-1.7 2l.3 1.8l1 1.8l1 .9l4 .6l1-1l1.4-3.1l-.5-3l-3.9-6l-.9-3l-1.1 0zM125.5 55.1l-2 1.2l-.8 2.2l.4 3l1.4 1.7l4-1.5l2.4-2.2l-2.4-3.3l-2-1.1l-1 0zM136.5 60.6l-3.5 4.9l-2.5 1l1.6 3l.4 2.3l1-1.3l1-.5l4-.1l2-.5l1.3-.9l0-2l-1.3-5.2l-4-.7zM154.5 51.3l-.7 1.2l1.7 .9l1.2 2.1l2.6 1l.9 1l-.3 2l.6 .8l3 1.1l1-.5l.2-1.4l-.4-1l-3.5-2l-.8-3l-1.5-2l-2-.5l-2 .3zM164.5 119.4l-2.7 3.1l-.3 2l.4 2l-2.4 .4l-.3 .6l.5 4l-1.2 3l-1.7 1l-.2 1l3.9 1.6l1-.1l3-2.6l2.3-.9l.3-1l-2.2-3l3.9-2l1.3-2l.5-2l-.6-4l-.5-1l-2-.9l-3 .8zM45.5 100.4l-1 .4l-1.5 1.7l-.1 2l1.6 2.7l3-.2l1.3-1.5l0-2l-1.4-2l-1.9-1.1zM50.5 131.3l-2 1.2l-.4 1l.3 4l-.3 2l.4 .5l5-.8l2-1.1l1.1-1.6l-.2-2l-1.9-3.1l-4-.1zM58.5 163.4l-1.2 1.1l1.2 1l1 .1l.7-1.1l-.3-1l-.4-.4l-1 .3zM61.5 146.9l-.6 .6l-.2 2l-1.6 3l0 1l1.4 1.7l2 .4l2-1.2l1-2.9l-.1-1l-1.8-3l-1.1-.7l-1 .1zM71.5 144.4l-.6 1.1l.1 2l1.5 .6l2.2-.6l.4-2l-.6-1.2l-1-.4l-2 .5zM73.5 123.9l-1.3 1.6l-.1 1l3.6 4l1.2 5l2.6 2.3l2 .4l.7-.7l-2-4l-.5-4l-2.2-1.1l-3-4.8l-1 .3zM90.5 127.8l-.5 .7l.3 1l4.1 3l1.8 3l2.3 1.6l1.6-3.6l1.4-1.5l2-1l2.6-.5l-.6-1.2l-7 .1l-4-1.4l-4-.2zM112.5 114.4l-1.7 2.1l-.7 2l.3 1l2.1 1.2l2-.1l2.5-2.1l.3-2l-.6-1l-2.2-1.6l-1-.1l-1 .6zM114.5 100.4l-1 .7l.1 1.4l2.9 4l2 .6l.9-.6l-.9-4l-2-1.7l-2-.4zM120.5 94.4l-1 1.9l0 1.3l1-.2l1.2-1.9l-.2-1.1l-1 0zM128.5 75.2l-1.3 2.3l-.3 2l.7 2l.9 .7l2 .2l5.4-1.9l.3-1l-.6-1l-3.1-3.4l-2-.5l-2 .6zM140.5 89.1l-1 .5l-1.3 3.9l2.3 1.4l2-.6l.8-.8l.1-1l-1-2l-1.9-1.4zM158.5 145.6l-2 2.7l0 1.2l2 .2l1-.5l.2-1.7l-1.2-1.9zM51.5 143.1l-1 .4l-.5 1l1.9 0l0-1l-.4-.4zM71.5 159.3l-.9 .2l.1 1l.8 .1l1.8-1.1l-1.8-.2zM80.5 143.1l-2 1.4l-.6 1l-.7 2l.1 2l1.5 5l1.7 1.6l2 .7l2-.8l1.5-1.5l.9-2l.7-4l-2.1-4.7l-1-1.1l-4 .4zM119.5 121.8l-1.3 1.7l-3.7 .1l-1 .3l-1.6 1.6l-3.5 7l-.2 6l-2.7 2.8l-1 0l-2.6-1.8l-2.4-.9l-1 2.2l-1 .7l-1-.1l-.7-.9l-.8-4l-1.3-1l-2.2-.6l-3 .9l-.8 .7l-2 3l.1 2l2.7 1.4l4 1.3l1.9 6.3l3.8 1l1.2 2l1.1 .7l8 2.1l5.9 .2l1.2 1l.9-1l-.6-1l.2-5l-1.6-2.4l-1.9-4.6l.6-1l2.3-.4l3-2.9l4-1.3l3 .1l.6-.5l-.6-2l-4.3-4l-.6-2l-.1-3.3l1-.5l1.7 .8l-.1 2l.4 1l2 1.9l4 1.2l2 1.6l1 .1l1.1-.8l1.9-3l1-.5l1-.1l2 1l4 .1l4-.8l4 .4l.7-1.1l-2-2l-.7-2.1l-1-.7l-3 1.2l-4-.3l-1.6 .9l-1.4 1.7l-1-.8l-.9-1.9l-5.1-3l-1-.1l-.6 .1l-.1 1l1.8 2l.3 2l-1.4 1l-2 .1l-3.6-2.1l-.8-1l-.1-2l-1.8-1l-2.7-.7zM129.5 105.2l-2.5 1.3l-.7 2l.5 2l1.7 1.7l5 0l2-1l1.8-1.7l0-2l-1.8-1.9l-2-.6l-4 .2zM139.5 108.5l-.9 1l.9 .5l1-.5l.5-1l-1.5 0zM77.5 156.4l-1.1 1.1l.5 1l2.1 0l-.5-1.4l-1-.7zM103.5 162.2l-1.3 1.3l.3 .7l1 .1l0-2.1zM119.5 146.5l-1 .1l-.7 .9l0 1l.7 1.1l1.5-2.1l-.5-1zM123.5 145.2l-.4 .3l.4 .6l1.3-.6l-.3-.7l-1 .4zM131.5 140.3l-1 1.2l0 2l1 2l1 .5l1.8-1.5l.2-3l-1-1.2l-2 0zM134.5 151.1l-2 1.5l-.7 2.9l.2 1l2.5 1.3l4 0l-.3 3.7l.8 3l1.5 1.5l3-.9l3 1.4l.4-1l-.4-3l.5-3l-.7-1l-2.8-2.3l-3.2-.7l-1-3l-1.8-1.6l-3 .2zM64.4 31.5l1.1-.8l2.1 1.8l-3.1 .7l-.1-1.7zM61.4 47.5l.3 0l-.2 3.5l-2 .9l-.8-.4l2.7-4zM89.8 89.5l.7-.2l3 1.8l4-.2l.5 .6l-.5 1.8l-1 1.4l-3 1.4l-3 .2l-.4-2.8l-1.8-2l.3-1l1.2-1zM55.5 112.5l1-.4l1.2 1.4l-.2 1.8l-1 .8l-1-1.4l0-2.2zM103.8 142.5l.7-.7l1 .1l.4 .6l-.1 1l-1.6 0l-.4-1zM50.2 171.5l1.3-.7l1.4 .7l.1 1l-.9 2l-1.6 1.5l-1.3-.5l-.3-1l1.3-3zM83.9 181.5l1.6-.9l2 1.1l4 .4l.5 .9l-10.8 0l.3-.7l2.4-.8z"/><path fill="#ff4300" d="M22 29l7.1 0l0 .5l1.2 1l2.2 .7l1.1-.7l.1-1.5l4 0l-1 3.5l-2.7 4l1.2 2l.3 2l.8 1l2.2 .1l.9 1.9l.3 2l.8 1l5 .8l2-.9l.7-.9l-.4-4l1.1-3l.6-.3l3 .7l2 1l.4 .6l.6 3l-2 1.9l-3.2 1.1l-2.8 2.1l-2.8 2.9l-.3 1l.5 2l.6 .9l1 .7l2 0l.3 .4l-1.3 4.1l-1.4 1.9l-1.3 4l.7 1.9l2 2.1l-1.3 1l-1.7 .4l-3.2 2.6l-.9 2l-.8 4l.8 1l3.1 .2l2.2 .8l1.8 1.7l1 .3l0 1.6l-2.4 1.4l-.4 1l.2 1l3.6 1.6l1.2 1.4l0 1l-.5 3l-.7 1.1l-2 1.3l-3 .8l-2.2 2.8l-.2 1l1.9 4l.5 .4l3 0l.5 .6l-2.1 4l.5 4l2 3l7.1 1.3l3-.6l3 1.6l4 .7l1-.1l1-.8l1-3.6l2 .4l1.1 1.1l.9 3l-1.6 3l.1 4l2.5 .7l1 1.1l.6 3.2l2.4 4.3l4 1.7l.4 1l-3.4 2l-1.6 3l-.1 2l.8 5l-1.2 1l-.3 2l-.6 .8l-4 1.1l-4 0l-.9 1.1l3.6 2l1.3 .2l1-.3l3-2.4l2 .3l2.8 1.2l1.2 1.5l3 1l1.2 1.5l1 3l-.1 1l-.9 1l-3.2 1.6l-2-.2l-1 .4l-3 3.2l-3-.2l-3.7-1.8l.5-3l-7.7-4l-.8-1l-.4-3l-.9-.7l-2-.1l-3 3.2l-1 .2l-1.3-.6l-.5-1l.3-1l1.7-2l.4-3l.8-2l-1.2-1l-1.6 0l-.6 1l0 2l-1.4 3l-2.3 3l-2.3 1.1l-7 0l-2-1.9l-4-1.8l-5 1.3l-4-2.1l-2.5 .5l0-8.8l2.5-.3l1 .6l1 1.7l1 .4l1.1-.7l.3-1l-.4-5l.9-1l2.1-.7l8 2.4l3.7-.7l1.3-.9l2 1.9l1 .1l3-1.8l3.8-1.3l.2-2l-1.8-2l2.8-1.4l1.7-1.6l.3-1l-2-4.8l-1-1.1l-4 .1l-2.6 .8l-.7 1l.6 5l-1.3 1.6l-2 .9l-6-.8l-3 .6l-2-2.7l-.3-2.6l.3-.4l2 .2l2-.8l3.3-3l.7-1l-.2-1l-1.5-1l-1.3-.2l-5 3l-4-.3l-1-1.1l-2-4.2l-2-.3l-2-2.9l-.5 0l0-5.4l3.5 1.3l2-.7l2.3 .8l1.3 1l-.9 2l0 1l3.3 .4l1-.4l.9-1l-2.1-3l.3-4l-1.6-2l-.8-3l-3.5-4l-1.2-5.6l-1-1.1l-1-.1l-2.5 1.6l0-11.5l.5 0l2 2l1 .3l1.5-1.6l1.5-.3l1.3 .3l.1 1l.9 1l1.6 0l-.9-2.7l-.6-.3l3.3-4l.7-2l-2.1-3l.2-3l-.5-1.7l-3.4-1.3l-.6-1.2l2-3.1l1 .1l3 2.3l3-.3l1.5-.8l-1.5-1.7l-4.3-2.3l1.1-1l.2-1l-1-.1l-2-1.4l-1 .1l-1.2-1.6l1.4-3l.6-3l4.4-8l.2-1l-.4-.8l-1.4 .8l-4.6 1.1l-3.1 3.9l-.1 4l-.8 3.4l-1 .9l-2.5 .1l0-9.3l2.5 .2l.7-.3l-.7-4l1.4-4l0-1l-1.4-2.1l-1-.5l-1.5 .2l0-9.1zM39.5 61.5l-2.5 1l.5 .6l2 .1l1.3-.7l-1.3-1zM64.5 132l-.9 .5l-.1 1.3l1 .1l1.1-1.4l-1.1-.5zM73.5 143.4l-2 .5l-.6 .6l-.8 3l1.4 1l3-.1l1.3-1.9l-.4-2l-.9-.9l-1-.2zM37.5 93.2l-.6 .3l-.3 1l.9 3l1 .8l1-.3l1.3-1.5l0-2l-1.3-1.2l-2-.1zM61.5 146.4l-1.2 1.1l-.8 3l-1.8 3l2.8 3.4l2 1.6l1-.2l.5-1.8l1.6-3l1-3l.2-2l-1.3-.1l-3-2.2l-1 .2zM40.5 119.5l-.9 1l.7 2l4.2 3.2l.3-1.2l-1.1-2l.1-2l-1.3-.7l-2-.3zM71.2 29l15.8 0l-.3 1.5l-1.2 1.2l-4 1.5l-2 3l-3.8 2.3l-.4 1l-.1 4l-.7 .7l-5 1.8l-4.9-.5l1.3-3l-.6-3l1.1-3l5.1-2.2l.3-1.8l-.6-3.5zM89.8 29l14.9 0l-.5 2.5l3.3 1.4l1 2l1 .9l1.4-.3l.6-.7l1.5-5.8l6.4 0l-1.6 2.5l1.5 2l.1 1l-.2 1l-1.7 1.8l-3 .3l-1 .9l-1.2 4l-.8 .4l-6-4.2l-1 .2l-3 3.5l-1-.6l-1-1.6l-2-1.5l-1-.2l-2.5 2l-.9 1l1.6 3l1.8 2l.2 1l-.4 1l-3.2 1l0 1l1.8 4l0 1l-.9 2l-1.5 .2l-2.6-1.2l-1.6-7l-3.1-3l3.3-1.4l.5-.6l.2-1l-1.5-2l-.2-1l1-1.3l2.7-.7l1.3-2.4l2 0l2 1.4l2-2.7l1-.5l1 .3l2 1.9l1-4l-4-1.6l-1 .1l-1 1.2l-1-.1l-1-1.9l-1-.2l-2 2l-1 .3l-1.5-1.8l-.2-1.5zM124 29l36.2 0l.3 1l1 .2l1.3-.7l0-.5l9 0l1.7 4l1 0l1.5-1l0 5.1l-3.5-.4l-3 1.8l-2 .2l-5-.8l-4-1.4l-2 2.5l-2 .4l-3-.3l-2 .7l-2.5-2.3l-.5-1l.7-1l-1.7-2l-2-1.3l-3-.3l-2-2.2l-3 .1l-2 1.4l.1 2.3l5.9 6.4l2.2 6.6l0 5l-2.2 .3l-4-1.1l-1-.8l-1.2-2.4l-2.8-2l-.2-3l-.8-1.8l-3-1.6l-3.1-3.6l-1.5-4l2.1-2l0-.5zM55.4 33.5l1.1-.5l.9 2.5l0 1l-1.9 1l-1.4-1l.1-1l1.2-2zM158.2 40.5l2.3 .4l3-.1l1.6 .7l.7 2l.8 7l1.9 2.7l1 .2l3-4.8l1-.6l2.5 .7l0 7.2l-4.5 .2l-1 .4l.5 5l-.5 4.7l-2 1.4l-1-.1l-1-1l-.8-1l-.6-2l.5-5l-4.1-2.6l-1.6-3.4l-1.4-1.5l-3-.7l-2 .5l-2 2.7l1 .5l2-.1l2 2.1l2.3 1.5l-.3 .8l-2 1l-3 3.3l-2 .6l-1 .8l-2.1 2.5l-.9 .5l-4 .5l-1-.7l-.5-1.3l-.3-2l.3-2l2.5-2.7l3.9-1.3l.4-1l-.5-2l-2.8-2l-.5-1l-.4-2l.3-1l3.7-3l1.9-2.6l2 .6l1-.3l4.7-2.7zM113.5 44.5l1-.3l1 .6l3 3.2l3 .1l3 1l3 0l1 .4l.6 1l1.4 3l0 1.3l-5-.5l-2 1l-.7 1.2l-.7 3l.9 5l.5 .5l7-3.5l2-.2l1.3 1.2l-1.3 2.4l-3 .9l-.7 .7l2.4 3l-.5 2l-1.2 1.2l-2 .3l-1.6-.5l-.1-3l-3.3-1.3l-.6 1.3l-.4 3l-2.9 2l-1.1 3l-1 .9l-3 .4l-3 1.4l-1-.2l-2.1-1.5l-.4-1l1-4l1.5-1.5l4-1l2 .3l.8-.8l-.8-2l-1-.1l-1-.9l-.3-2l.6-3l.7-1l1 0l1.3 1l-.2 1l-1.5 2l.8 1l.6 .7l2.2-1.7l-.8-3l.1-4l-.5-1.5l-4 .5l-3 4l-1 .8l-2 .2l-2.6-2l-.8-5l1.4-1.7l4 .6l4-.3l4 1.6l1-1.1l.5-2.1l-.5-1.4l-3-.4l-1.7-1.2l-.3-5zM78 45.5l4.5-.5l.7 .5l.1 1l-3.6 3l-.8 3l-.4 .1l-2.4-1.1l1.9-6zM50.7 48.5l.8-.3l1.3 1.3l-.3 1.4l-1 .6l-1.3-1l-.2-1l.7-1zM69.3 54.5l2.2 0l-1 1.3l-2 0l-.3-.3l1.1-1zM97.7 57.5l.8-.5l1 .6l.3 .9l-.3 1.1l-1 .6l-1.5-.7l0-1l.7-1zM158.3 62.5l1.2-.4l1 .3l.7 1.1l-2.7 1.5l-1-.5l.8-2zM30.4 63.5l1.8 2l-.7 .8l-1-1.1l-.1-1.7zM85.8 68.5l1.7 .1l2 1.4l3.9 1.5l2.5 5l.1 1l-2.6 2l1.7 3l-.1 1l-2.5 2l-2 .2l-7-1.9l-1.4-3.3l.1-1l1.3-1.4l1-.2l2.5 3.6l1.5 .2l2.1-3.2l.3-4l-.6-1l-4.8-3l-.4-1l.7-1zM149.2 69.5l1.3-.9l1 .1l.2 .8l-1.7 3l-.3 5l.8 1.4l3.5 1.6l.6 3l-.6 2l-3.5 2.7l-5 2.5l-1 .1l-4-2.4l-1.4 .1l-.6 3l-1.7 2l2.7 2.6l3 .5l2 .9l3-3l2-.8l.9 .8l-1.3 2l-.6 2.4l-2 1.1l-.2 .5l.7 1l3.5 2.5l2 1l3 .5l.8 1l.1 1l-.9 1.7l-3 1.5l-3.1 3.8l.2 1l1.2 1l0 1l-1.3 2.2l-2-.8l-.7 1.6l.1 3l-1.4 1.3l-7 .5l-7-3.4l-4.3-1.4l-1.3 0l-1.4 1.5l-1 .1l-2-.4l-1.8-1.2l-.2-1l2-1.7l3 .3l1-1.9l3-2.3l2-.6l3 0l3-2.1l3-.1l3.1-2.6l.3-1l-.4-.4l-4 0l-3-2.5l-1-.2l-8 .6l-2-.6l-1.2 1.1l-.1 1l2.1 2l.6 3l-.5 1l-6.7 5l.7 2l-1.9 2.8l-1 .2l-1-1l2.7-3l0-2l-3.7-3.3l-1-.1l-1.9 1.4l-1.6 2l-1 3l.8 1l3.8 2l-3.1 4.7l-2 1.5l-3-1.2l-5 .4l-8-1.7l-1.1-.7l.9-2l-.4-2l-6.7-5l-.2-2l-.8-1l-.2-1l1.1-7l-.6-1.9l-4 1.8l-4-1l-5 .4l-.5-.3l-.5-1.4l-1-.5l-2.9 2.9l-.5 6l1.2 4l-.8 .8l-1.7-2.8l-2.6-2l-.6-2l.4-3l-1-3l.7-2l2-3l5.8-4l2-.4l4 .8l4-1.1l1.5 1.7l2.8 1l1.7 2.3l1 .4l3-.3l.6 .6l-.6 3.2l-1.5 2.8l0 1l.9 2l1.6 2l2 .6l4 3.4l.8 3l1.2 1l2 .3l.7-.3l2.3-3.8l3-1.5l1-1.2l2.9-7.5l1.1-1.2l2 1.2l2.4 3l2.6 1.8l1-.1l1.5-1.7l.2-1l-1.7-3l-.4-3l2.3-2l2.3-3l.7-3l1.1-.9l1.3-3.1l1.5-2l.2-3l4-1.3l3 0l1.4-1.7l-.2-2l-2.8-4l.3-2l.7-1l7.6-1.5l5 .6l1.7-1.1zM132.5 94.5l-1.2 1l.2 1.2l1 .1l1.1-1.3l.3-1l-.4-.4l-1 .4zM160.2 70.5l2.3-.6l1.6 .6l-1.6 1.7l-1 .4l-1-.2l-.6-.9l.3-1zM78.1 71.5l5.4-1l1 1l-.3 3l-.7 1l-2-.7l-4-.2l.6-3.1zM50.2 73.5l2.3 .9l3-.4l3 1l2 .1l1.1 .4l.5 1l-1.6 1.7l-2 .8l-1 0l-1-1.2l-2-.7l-4 1.6l-.6-4.2l.3-1zM70.4 73.5l3.1-1l1 0l1.3 1l-2.3 .8l-.9 1.2l-.6 2l.5 1.7l.7 .3l-3.7-1.3l-1.4-1.7l.2-1l2.1-2zM125.4 73.5l1.4 2l-.3 2.8l-1 1.3l-1.1-4.1l1-2zM28 76.5l1.5-.4l1 .4l1.9 2l0 1l-1.4 3l-.5 2.3l-1 .5l-4-3.4l-2-.9l-1.5-.1l0-1.6l2.5-.1l3.5-2.7zM172.4 76.5l.1-.4l1-.1l.2 .5l-.2 1.4l-1 1.2l-.4-.6l.3-2zM56.2 80.5l1.3-.9l1 1.4l.6 2.5l-1.2 1l-1.4 .1l-2.4-2.1l2.1-2zM101.2 80.5l.3-.4l.2 .4l.4 3l1.4 1.4l3.6 .6l-2.6 1.1l-2 0l-1-.6l-1.2-2.5l.9-3zM71 82.5l1.5-.6l1 .2l1 1l.3 1.4l-.8 2l-1.5 .8l-4 0l-1-.6l0-1.2l2-.8l1.5-2.2zM59.8 83.5l1.7-1l1 .1l2.2 .9l1 1l-5.2 .1l-.7-1.1zM112.5 85.5l3-.6l1 .3l3.6 6.3l.2 1l-2.8 6.5l-5 .3l-1-.6l-2.7-4.2l-.8-4l.2-2l.8-1l3.5-2zM158 90.5l2.5-.2l1 .6l3 6l1 .8l2.7 .8l1.6 3l.7 .5l5.5 .9l0 3.9l-.5 0l-2.7 4.7l3.2 1.3l0 14.6l-4.5-.3l-.4-.6l-.4-5l.8-1.8l2 .3l1.9-.5l-1.1-1l-3.8-1.1l-4 .6l-2 .8l-2 1.8l-1.9 .9l-.7 3l-2.6 2l-.2 1l1.3 3l0 1l-.9 1.2l-2.5-2.2l-1.1-5l.8-2l1.8-1.1l1.4-1.9l-.7-4l-.9-2l.2-1.9l8-.2l5 2.2l1-.7l1.7-2.4l-2.7-1l-2 .4l-3-1.5l-2-.5l-3.8-2.4l-.6-1l.9-6l-.6-3l-1.6-4l.2-1l1-1zM54.7 95.5l.8-.6l1.3 .6l.3 1l-.6 1.5l-1 0l-.5-.5l-.6-1l.3-1zM49.1 100.5l3.4-1l2 .6l1.2 1.4l.8 3l-3 2.8l-3.6-.8l0-2l-1.3-3l.5-1zM22 105.5l0-.7l1.5-.1l1.3 .8l-2.3 3.2l-.5 0l0-3.2zM80.6 115.5l.9-.7l1.2 .7l.5 1l.4 5l-1 2l4.9 2.6l1.6 3.4l3.7 3l1.2 2l-4.5 .6l-4 3.2l-1 .2l-3-4.1l-.7-1.9l.4-2l1-1l.3-1.2l-1-1l-2 .4l-1-.3l-1-1l-.7-1.9l1-4l2.2-3l.6-2zM126.5 124.5l1-.9l2.3 2.9l-1.3 .3l-.7-.3l-1.3-2zM169.9 128.5l.6-.4l1.7 2.4l.1 1l-1 2l-1.8 1.2l-1-.8l-2-3.4l3.4-2zM147.6 131.5l1.9-.1l2.6 1.1l1 1l.8 3l.6 .6l5.7 2.4l.5 1l-.3 1l-.9 .7l-2 .3l-.6 1l-.8 3l-1.8 3l.2 1l5 .5l2 1l2 .3l1.7-.8l-2.6-2l.9-.4l4.4 .4l.6 1l-.4 2l1 1l-6.6 1.8l-4 2.3l-1 .1l-3-1.7l-1.1 .5l-1.7 2l1.6 2l2.2 1.1l0 2.9l1 2.6l2-1.5l2.8 .9l1.4 1l.2 1l-4.4 .9l-2 2.1l-6 2.4l-1.8-1.4l-.2-1l.6-1l1.7-1l-.8-2l-1.7-2l-.8-3l.6-2l1.7-2l-1.3-1.3l-2 0l-5-2.2l-.7-.5l-.1-1l.1-2l.9-2l.8-.7l4.3 1.7l1.7-.1l1.4-.9l.9-5l-.3-.3l-1 .3l0 2l-1 1.5l-2 .3l-.8-.8l-.8-2l1.6-2l-.4-1l-2.3-2l.1-2l-1.4-4l-1.2-1l.2-1.1l3 0l3.1-.9zM101.9 132.5l2.6-.5l2 .5l1 1.2l.3 3.8l-.3 1l-2 1.5l-1 0l-3-1.4l-1.5-2.1l.1-2l1.8-2zM136 132.5l.5-.4l1 .2l1.4 1.2l.3 1l-.9 3l.2 1.4l4.7 2.6l-.7 3.1l-1.3 .9l-.4 1l.1 2l-1.4 1.6l-5-.5l.8-2.1l-.7-2l.6-4l-.4-1l-2.3-1.4l-2.4 1.4l-.3 1l.5 6l1.7 4l-1.2 4l-3.9 5l.7 3l-.1 2.2l-2 2.3l-5-.4l-1 .9l-1 3l1 .7l2 .2l3-2.6l1-.2l5 1.8l3-.7l1 2.7l-.1 1.1l-1.9 1.8l-1.7 3.2l1.6 2l.3 1.5l-6.1 0l.6-3.5l-1.7-.6l-4 1.9l-6-.4l-.6 1.1l.1 1.5l-4.3 0l1-2.5l-.8-2l-1.4-.7l-4-.6l-2 1.2l-3 3.1l-4 .3l-2-.7l-3.6-5.6l-.1-7l.9-3l-.2-1l-2.2-2l-.6-2l.4-2l3-3l.4-1.1l-1-.7l-1 0l-2.4 .8l-1.1 2l-.2 2l-1.3 1.3l-4-.3l-1.4-2l.4-.6l3 .4l3.5-2.8l1.2-6l-1.7-4l.1-1l1.9 0l2.4 1l1.3 3l.6 4l.7 .8l3 .4l5 2.9l2 .8l2 .1l-1 1l1 2l2 .3l5-1.2l5 .4l1.1-.5l.1-5l1.6-5l1.2-1.3l3.5-.7l1.1-1l0-1l-.6-.9l-1 0l-3 1.8l-2.2 .1l-1.5-1l-.9-2l.2-1l2.1-2l2.3-.8l2 .2l2 .9l1.4-.3l2.6-4l3 .5l3.5-3.5zM103.5 161.2l-1.9 2.3l.4 1l1.5 .9l1-2.9l-.2-1l-.8-.3zM109.5 169.5l-2.3 1l2.3 1.6l2 .2l.8-.8l.1-1l-.9-1.1l-2 .1zM164.1 136.5l1.4-.7l2.3 .7l.6 3l-.3 1l-2.5 0l-2.5-1l-.3-1l.3-1l1-1zM45.3 142.5l2.2-.4l.8 .4l-.1 1l-1.7 1.2l-2 .7l-1-.6l-.8-1.3l2.6-1zM172.2 144.5l1.9 0l.2 1l-1.8 2.5l-.3-3.5zM114.6 145.5l.9-.4l.3 .4l-.3 2l-.9-2zM135.1 158.5l1.9 0l-.6 1l-.9 .4l-1.2-.4l.8-1zM26.6 162.5l.9-.3l1 .3l2 4.1l2 1.5l1.5 .4l.9 1l.5 3l-.9 .9l-3 .4l-1-.4l-2-2.2l-3 0l-1-1.7l.9-3l.3-3l.9-1zM55.4 166.5l1.1-.6l1 .1l1.4 1.5l-.1 1l-1.3 1.1l-2 .1l-.7-1.2l.6-2zM142.9 167.5l1.6-.4l2 .6l1 .8l.4 1l-.4 1l-2 1.3l-2-.3l-1.1-2l.5-2zM175.2 169.5l.8-.4l0 1.9l-.5 0l-3.2 3.5l-1.3 4l1.9 3l.1 1.5l-3.8 0l-.7-2.3l-1-.7l-2-.2l-1 .4l-1-1.4l-.2-2.3l2.1-4l3.1 1.1l1-.1l5.7-4zM66.4 170.5l1.9 1l.1 1l-1.9 1.6l-1-.1l-1-1.2l0-.9l1-1.2l.9-.2zM22 173.5l2.5-.5l1 .4l0 3.5l-1 2l-2.5-.3l0-5.1zM50.4 173.5l1.2 0l-1.1 1.2l-.1-1.2zM81 173.5l.5-.7l1.1 1.7l-1.1 .3l-.8-.3l.3-1zM58.9 174.5l1.6-.8l1 .2l1.1 1.6l-1.1 1.3l-2 .4l-.9-.7l.3-2zM39.2 176.5l1.6 0l.9 4l2.4 2l0 .5l-9.3 0l.4-2.5l4-4zM50.7 180.5l.8-1l1.2 1l.8 1l-.1 1.5l-4.5 0l1.8-2.5zM135.5 181.5l1 0l.4 1.5l-1.2 0l-.2-1.5zM162.8 181.5l.7-.7l.7 2.2l-3.5 0l0-.5l2.1-1zM86.6 182.5l2.9-.2l.7 .2l0 .5l-3.6 0l0-.5z"/><path fill="#ff1e00" d="M22 29l6.1 0l0 .5l1.4 1.2l4.8 1.8l-.1 2l-1.7 1.8l-10.5 .1l0-7.4zM34.6 29l2.2 0l-.3 1.5l-1 .8l-.9-2.3zM72 29l5.9 0l.2 1.5l1.8 2l-.1 2l-1.7 2l-3.3 2l-.3 4l-.5 1l-5.5 1.8l-1.6-.8l-1-5l.7-2l.9-.9l4-.8l1-.7l.4-2.6l-.9-3.5zM125.7 29l4.9 0l2.5 5.5l4.5 4l1.8 3l1.5 4l-.4 5.5l-1 .2l-4.4-1.7l-1.6-2.7l-2.2-2.3l-1-4l-3.6-2l-2.2-2.6l-1-2.4l.1-2l.6-1l1.5-1l0-.5zM140.8 29l18.4 0l.1 1.5l1.2 .7l3.9-1.7l0-.5l5.6 0l1.7 2.5l1.1 3l-2.6 3l-1.7 .6l-6-.9l-4-1.9l-1 .4l-.7 1.8l-1.3 1l-2 0l-1.6-1l.6-3.1l-1-.5l-4 .3l-4-2.7l-2-.6l-.7-1.9zM114.3 32.5l1.2 0l2.5 1l.6 1l-1.1 2.1l-2 .1l-1.2-1.2l-.6-2l.6-1zM104.2 33.5l1.3-.6l1.7 .6l.7 2l.1 1l-.5 .6l-2 .1l-1.3-.7l-.4-1l.4-2zM99.2 35.5l1.4 0l1.9 3.5l-.2 1.5l-.8 .9l-3.1-2.9l-.3-1l1.1-2zM25.7 37.5l.8-.4l4 .7l2-.8l1 .4l1.1 1.1l.4 4l-.9 2l-4.6 1.4l-3 2.2l-.9-1.6l.8-6l-1-2l.3-1zM108.2 37.5l2.3-.5l.9 .5l.4 1l-.7 2l-.6 .5l-1.2-.5l-.9-1l-.2-2zM49 40.5l1.5-.7l3 .5l1.1 1.2l.1 2l-1.2 1.2l-3 .6l-1-.5l-1-2.3l.5-2zM88.6 40.5l.9-.7l.9 .7l-.9 1.1l-.9-1.1zM157.7 41.5l5.8 .2l1.3 .8l.5 1l.6 7l1.9 4l-1.3 2.7l-1 0l-3-1.3l-2.7-4.4l-2.3-1.5l-2-.4l-2 .4l-3 2.6l-1-.1l-3-1.8l0-2.2l1-1l3-1.4l7.2-4.6zM37.1 42.5l.8 0l.7 1l-.6 2l2.5 1.9l5 1.8l-1.5 2.3l-.1 2l2.2 4l-.9 1l-10.7 3.7l-3.7-1.7l-.3-1l2.1-4l.7-3l4.1-7l-.9-2l.6-1zM91 44.5l.5-.8l1 0l.8 .8l.2 1.5l-1 .3l-1-.3l-.5-1.5zM115.2 47.5l1.3 .1l.6 .9l-.2 1l-1.4 .4l-.8-.4l-.4-1l.9-1zM120.4 49.5l2.1-.1l2 1.2l3 .9l-.3 1l-2.7 1l-2.5 2l-.3 4l.6 3l-.8 1.6l-1 .2l-1-.9l-.5-1.9l.2-5l.8-2l-.3-4l.7-1zM22 50.5l1.6 0l1.1 1l.4 1l0 4l-.6 1l-1 .4l-1.5 0l0-7.4zM89.7 50.5l.8-.6l.9 1.6l0 1l-.9 .5l-.4-.5l-.4-2zM172.1 50.5l1.4-.9l2.5 .2l0 5.5l-2.5 .2l-2.4-1l-.3-2l1.3-2zM105.3 55.5l1.2-.8l5.9 .8l.1 1l-1 3l-2.3 2l-.7 .2l-2-.7l-1.2-1.5l0-4zM151.6 55.5l2.9-.4l2.4 2.4l-1.4 .9l-2 2.8l-2.7 .3l-.8 2l-2.5 2.8l-4 .2l-1-1l-.3-2l1.3-2.7l2-1.8l4-1l1-2.2l1.1-.3zM167.9 58.5l1.6 .3l1 3l0 3l-1 1.3l-1 .2l-1.6-.8l-.9-2l.2-3l.4-1l1.3-1zM130.4 62.5l1.1 .1l.9 .9l-.6 1l-1.3 .3l-1.5-.3l-.2-1l1.6-1zM38.5 65.5l4-.4l.6 3.4l-.6 .4l-2-.8l-1.9-1.6l-.1-1zM118.3 67.5l1.2-.4l1 .8l.4 3.6l-.4 1l-2.7 1l0 2l-1.1 2l-6.2 1.9l-2.1-.9l-.6-2l1.3-3l4.4-1.7l3.2 .7l.7-4l.9-1zM129 68.5l1.5 .7l0 1.3l-1 .9l-1 .1l-.9-1l.1-1l1.3-1zM35.4 71.5l2.1-.4l5.4 .4l-2.4 2.8l-1.5 5.2l-1.5 1.7l-1-.2l-1-.9l-1.4-2.6l-.2-5l1.5-1zM139.3 71.5l5.2-.6l4.5 1.6l0 6l4.4 3l.4 3l-3.3 3.1l-5 2.1l-2-.4l-3-1.5l-4-.5l1.8 2.2l.1 1l-.9 1.2l-7 2.3l-3-.8l-.7-1.7l.3-2l2.4-3l.3-2l.7-1l2-.4l2 1.3l1-.5l2.2-3.4l.1-1l-1.6-3l-.1-2l1.5-2l1.7-1zM72 73.5l.6 0l-.1 1l-1 2l-1-.1l-.4-.9l.3-1l1.6-1zM92.3 75.5l.2-.4l.5 .4l.2 1l-.7 .3l-.2-1.3zM28.1 77.5l1.4-.3l1.4 1.3l0 2l-1.4 3.3l-1-.1l-2.5-2.2l-.1-1l.5-1l1.7-2zM91 80.5l1.5 .2l1.3 1.8l-.3 1.3l-2 1.1l-1.7-.4l-.7-1l.9-2l1-1zM36.5 82.5l1-.5l2 .2l4 .7l1.2 .6l.7 2l-.7 4l2 3l-.5 4l-2.7 .5l-2-3.5l-2-.9l-4-.4l-2-2.1l-.6-1.6l0-2l1.6-2.4l2-1.6zM112 86.5l1.5-.6l2-.1l1.8 1.7l.9 2l.9 3l-.4 2l-1 3l-1.2 .9l-2 .4l-2-.5l-3.1-3.8l-.6-5l.7-1.4l2.5-1.6zM157.9 91.5l1.6-.5l1.6 .5l3.1 6l2.9 2l1 3l6.4 3l-.2 2l-1.8 2.5l-6-.2l-4-1.7l-3-2.1l-.4-1.5l.3-5l-.5-3l-1.4-4l.4-1zM26.6 92.5l3.9-1l5 1.9l1.8 6.1l.2 2.5l1 1.1l2-.3l3.7 6.7l1.2 5l-.3 2l-.6 1l-2 1l-3-.2l-2 .7l-2.3-1.5l-.4-1l.2-1l2.2-3l-.7-.5l-2 .1l-.6-.6l-.4-2.9l-3-2l-2-3.1l-1.5-5l-1.8-2l-.9-2l-.2-1l.4-.3l2.1-.7zM135.3 94.5l1.2 0l2.9 3l1.1 2.1l2.1 .9l.9 3l1 .7l1.9 .3l.2 1l-1.1 .9l-.9 .1l.9 .4l.1 .6l3.9 .2l1.6 1.8l-.2 2l-1.8 2l-2.6 4.3l-1.5 5.7l-.5 .4l-5 .3l-3-.4l-5-2.6l-4.7-1.7l-.7-1l-.1-1l.5-1l3-2.1l2-.5l3 .2l5-2.1l4.9-4.5l.1-1l-1-1l-4 .4l-4-2.1l-8 .2l-3-.8l-3 1.5l-1.3-1.2l-.2-1l.5-1.6l2.1-1.4l.9-1.9l1-.7l3-1.1l4 2.5l1 0l2.8-3.8zM76.7 96.5l2.8-.3l4 1.1l1.2 2.2l-1.2 3.1l-3 1.9l-5.3-1l-1.3-3l-.2-2l.9-1l2.1-1zM65.6 98.5l.9-.1l1 .5l.8 1.6l-.2 1l-1.6 2.4l-2 1l-1.5-1.4l-.1-1l1.6-3l1.1-1zM41.1 100.5l.4-.6l1 .1l0 .5l-1 .9l-.4-.9zM51.7 100.5l1.8 .1l1.2 .9l.4 2l-1.6 1.6l-3-1.1l-.8-1.5l.2-1l1.8-1zM110.5 105.5l1-.4l2 1l2.4 3.4l.6 1.8l2 .2l2 1l.2 1l-.6 1l-1.6 .6l-1-.4l-2-2.2l-2-.7l-3 2.6l-1 .5l-1-.5l-.6-1.9l1.4-3l1.2-4zM86.2 107.5l.3-.6l1 .1l1.6 3.5l0 1l-.9 1l-1.7 .8l-1-.3l-.6-1.5l1.3-4zM63.4 109.5l.1-.4l1 .1l0 2l-1-.4l-.1-1.3zM90.8 111.5l1.7-.1l3.3 3.1l-.3 .6l-2 .7l-2.8-.3l.1-4zM158.6 113.5l1.9-.3l4 .5l1.5 .8l.8 1l0 1l-4.5 3l-2.8 .9l-1-.7l-.9-4.2l0-1l1-1zM172.3 113.5l1.2-.3l2.5 .6l0 3.4l-1.5-.2l-2.3-1.5l-.3-1l.4-1zM104.1 115.5l1.4-.4l3 .4l-1.2 4l1.2 1.5l2.7 1.5l.3 1l-1 2l-1 1.5l-1 .4l-6-1.2l-2.8-2.7l-.2-1.4l-5-.5l-1-.6l-.9-1.5l3.9-2l2 1.7l1.6 .3l-.4 2l.8 .4l4-1.2l1-1.2l-1.8-3l.4-1zM22 118.5l0-.4l1.1 .4l.3 1l-1.4 .2l0-1.2zM122.3 118.5l1.2 .2l1 .8l.1 1l-1.1 .8l-2.5-.8l-.1-1l1.4-1zM69.2 120.5l.3-.3l1 .4l.4 .9l0 1l-1 2l-.6 4l-.8 1.2l-2 1.4l-3.4 .4l-.7 2l-1.9 1.8l-2-.3l-2-1.8l-.4-1.7l.7-2l-1.3-3.3l-3.8 3.3l-4.2-.1l-1-.1l-.5-.8l.3-3l-.5-3l.5-1l1.2-.6l5-.1l3 1l3-.4l2 .9l7 1l1.3-.8l.4-2zM79.5 120.5l1.5 0l.1 1l-1.6 1.6l-.4-1.6l.4-1zM36.6 121.5l.9-.5l1 .9l2.1 3.6l-3.1 1.2l-1.9 1.8l-2.1 1.2l-2 .1l-2-.7l-1-1.3l-.7-2.3l.7-1l2-1.3l3-.4l3.1-1.3zM157.5 122.5l1-.7l.2 1.7l-2.2 1.3l-.4-.3l.2-1l1.2-1zM171.9 122.5l1.6-.5l2.5 .1l0 2.5l-2.5 .7l-1-.3l-.6-2.5zM84.1 127.5l.4-.9l1 .6l6 5.1l.7 1.2l-3.7 1.5l-3 2.2l-1-.5l-2.8-3.2l-.3-1l.1-1.1l2.5-2.9l.1-1zM167.9 130.5l1.6-.7l1 .7l.3 1l-.3 .9l-1.4 .1l-1-1l-.2-1zM41.1 132.5l2.4-.2l3 1.4l1 1.8l-.4 2l-1.6 1.1l-2 .4l-3-.2l-3.7-1.3l-.3-1l.6-1l4-3zM66.8 132.5l.7-.7l1-.1l4 .8l2.6 6l.6 3l-.1 1l-4.3 1l-1.1 1l-.7 2l-1 .5l-2-.1l-1.8-1.4l-2.1-6l.1-2l4.1-5zM103.4 132.5l3 1l.6 1l.1 3l-.5 1l-1.1 .6l-1 .2l-2-.8l-1.8-2l0-2l.8-1l1.9-1zM147.1 132.5l2.4-.3l2 1l1.1 1.3l.9 3.1l3.6 1.9l.2 1l-1.8 2.7l-1 .6l-2-1.9l-1-.4l-2 .5l-2-.1l-1.9-1.4l-1.7-5l.6-1.5l2.6-1.5zM135.8 134.5l.7-.4l1 1.4l-1 2.6l-1 .6l-1.1-1.2l.1-1l1.3-2zM164.4 137.5l1.1-.4l.8 .4l0 1l-.8 .4l-.9-.4l-.2-1zM120.5 139.5l2.6 0l2 2l-1.5 2l-2.1 1.3l-2.4-.3l-1.1-2l.1-1l.8-1l1.6-1zM57 142.5l.5-.4l1 .3l2.7 3.1l-1.6 2l-.9 3l-2.2 2.5l-3-.3l-1.6 .8l-.2 3l-1.2 2.7l-2 2.3l-2 1.3l-6-.1l-4-2.2l-1.9-2l.3-5l-2.4-1.3l-2-.1l-.3-.6l-.2-3l.5-1.3l1-.8l3-.1l6 2l4-.2l3 .4l3-2l5.1-1l1.4-3zM127.1 142.5l.4-.6l1 .2l.7 1.4l-.5 1l-1.2-.6l-.4-1.4zM146.4 145.5l1.1-.7l.6 .7l-.2 1l-.4 .3l-.7-.3l-.4-1zM126.5 146.5l1-.2l1 .6l2 2.8l.7 1.8l-.5 3l-3.2 3.9l-1 .5l-6-1.2l-.7-1.2l-.1-2l1.4-6l5.4-2zM68.8 149.5l.7-.6l4 .5l2-.4l.7 .5l.3 3l-2 .3l-.7 .7l1.3 2l-.2 1l-4.4 1.3l-4.2-1.3l-.6-1l3.1-6zM89.2 149.5l.3-.5l1 .4l.2 1.1l-.2 1.2l-1 .5l-1-.7l.7-2zM22 152.5l0-.5l2.5-.2l1 .9l1 1.9l4-1.5l2.2 2.4l.3 2l-.5 1l-1.1 1l-1.9 .6l-2-.4l-3-1.9l-2.5 .5l0-5.8zM142.7 152.5l.8-.7l3 .7l3-.2l3 1.2l-1 1.7l-3-.4l-3 1.1l-3.4-1.4l-.1-1l.7-1zM154.6 152.5l3.9-.5l3.5 1.5l1.1 1l-3.6 2.1l-1 .1l-4.8-3.2l.9-1zM95.7 154.5l3.8 .8l3.3 2.2l.7 2l-.2 1l-2.3 3l.4 1l2.1 1.8l1 .3l0-2.1l1-3.2l7-1.6l5 .7l4 2.3l3-1.1l1 .6l.9 2.3l-.9 1.1l-2-.8l-2 .2l-2.1 1.5l-2.6 4l-1.3 .6l-1-.1l-3-2.8l-4 .5l-2-.8l-.6 3.6l1.5 3l-5.9 6.1l-5 .2l-4.1-5.3l.1-8l2-3l-3-1.8l-1-2.2l1-2.8l4-2.9l1.2-.3zM57.2 156.5l.3-.3l.5 .3l.7 1l-.2 .5l-1 .2l-.5-.7l.2-1zM74.5 160.5l2-.8l2.1 .8l1.1 1l1.1 3l-.2 2l-2.5 5l-1.6 1.8l-1 .3l-2-.1l-1.4-1l-.4-1l.9-3l-3.1-.6l-5-2.1l-1.6-1.3l-.3-1l.9-1.8l2-.9l6 1.7l1-.1l2-1.9zM149.2 160.5l1.3-.7l1 .2l2.8 2.5l.1 2l-.9 2.9l-2-.4l-2.3-1.5l-.9-3l.9-2zM26.4 164.5l1.1-.7l1 .5l3 4l2.5 1.2l.3 2l-.8 .9l-1 .3l-1-.5l-2-3l-3.1 .3l-.8-1l.8-4zM55.9 167.5l.6-.6l1.3 .6l-.3 .8l-1 .4l-.6-1.2zM144.1 168.5l1.4-.3l.8 .3l.4 1l-1.2 1.1l-1-.3l-.6-.8l.2-1zM65.4 171.5l1.3 0l.3 1l-.5 .4l-1 0l-.1-1.4zM123.6 171.5l.9-.6l2-.1l4.5 1.7l.8 1l-.1 1l-1.2 3.1l-2 .9l-3-.4l-1 .2l-2 1.5l-2 .6l-7-1.4l-.6-1.5l.4-1l2.1-2l4.1-1.1l2 0l2.1-1.9zM167.1 174.5l1.4 .1l1 .9l0 3l-1 .6l-1.2-.6l-.5-1l.3-3zM39.1 178.5l.4-.6l1 .2l.4 2.4l2.4 2l0 .5l-4.7 0l.6-2.5l-.1-2zM169.5 180.5l1-.5l1 .6l1 2.4l-2.7 0l-.3-2.5zM50.9 181.5l.6-.5l.4 2l-2.2 0l0-.5l1.2-1zM128.3 181.5l1.2-.5l1 .5l.6 1.5l-3.3 0l.5-1.5z"/><path fill="#e40000" d="M22 29l3.3 0l.2 .7l1 .1l1 1l5 2l.9 .7l-.2 1l-1.7 .6l-5.7-.6l1.1-2l-.4-1.3l-2 1.4l-2.5-.1l0-3.5zM72.8 29l3.7 0l-.1 2.5l2.1 2l0 1l-2 1.8l-1 .3l-1-.5l-.2-2.6l.5-2l-1.3-.8l-.7-1.7zM146.4 29l4 0l.1 .6l1 .1l.1-.7l6.3 0l.2 2.5l.4 1l1 .3l5-2.2l5 0l1 .6l.8 1.3l.3 2l-2.1 2.7l-2.5 .3l-4.5-1l-2.1-1l-1.9-2l-2 .4l-4-1.9l-3 1.3l-2-.3l-2.3-1.5l1.2-2.5zM125.7 30.5l1.8-.8l2 .6l.9 1.2l1.1 3l.1 1l-3.1 2.9l-1.5-.9l-2.5-3.6l-.1-2.4l1.3-1zM104.5 34.5l1-.9l1 .3l.4 1.6l-1.4 .7l-.9-.7l-.1-1zM115.5 34.5l1-.5l1 .4l0 1.1l-1 .4l-.7-.4l-.3-1zM99.3 36.5l.8 0l.4 1.1l-1 .5l-.4-.6l.2-1zM153.4 36.5l1.1-.6l1 .6l-1 1l-1.1-1zM67.6 37.5l4.9-.9l1 .2l.3 1.7l-.3 1.8l-.7 1.2l.3 1l-4.6 1.7l-.7-.7l-1-3l.8-3zM132.9 37.5l.6-.7l2 .6l1.2 1.1l1.8 3.1l1.9 4.9l-.9 3.5l-4-1.1l-1.3-2.4l-1.8-2l-.6-3l1.1-4zM30.5 39.5l2-.3l1 .9l.2 3.4l-1.4 1l-1.8 .4l-2.5-.4l-.9-1l.4-2.4l2-.2l1-1.4zM49.4 41.5l1.1-.6l3 .6l.4 1l-.2 1l-3.2 .5l-1-1.2l-.1-1.3zM157 42.5l1.5-.4l2 .5l2-.1l1.4 1l1.1 7l1.6 3l-.1 1.4l-1 1l-3-1.2l-1.5-3.2l-.9-1l-3.6-1.6l-4 .3l-2 2.1l-1-.4l-1.3-1.4l.3-1.1l3-.6l1.4-2.3l4.1-3zM37.2 47.5l1.3-.4l3.8 2.4l.6 4l1.3 3l-.5 1l-4.2 2l-5 1.5l-2.7-1.5l.7-1.4l2-.6l.8-1l-1-3l.2-1.2l1-1.4l1-.4l1 1.1l.9-1.1l-1.9-1l.7-2zM121.2 50.5l1.4 0l1.1 1l.1 1l-1.3 .8l-1 .1l-.8-1.9l.5-1zM22 51.5l0-.4l1.5 .4l.9 2l.1 2l-1 1.2l-1.5 0l0-5.2zM172.4 51.5l1.1-.7l2.5-.1l0 4l-3.5-.2l-.6-1l.5-2zM106.5 55.5l3 .1l1.8 .9l.1 1l-.9 2l-2 1l-2-.8l-.8-2.2l0-1l.8-1zM150.8 57.5l.7-.6l2-.1l.8 .7l-.3 2l-1.5 .8l-1-.4l-1-1.4l.3-1zM146.4 59.5l2.3 0l.9 2l-.4 2l-1.7 2l-4 0l-.5-1l.3-2l3.1-3zM120.5 60.5l.9 2l-.9 .4l-.4-1.4l.4-1zM167 60.5l1.5-.9l.9 .9l.6 3l-.5 1.7l-1 .3l-1.4-1l-.4-2l.3-2zM118.3 69.5l.2-.7l1-.2l.4 1.9l-.4 1.5l-1 0l-.3-.5l.1-2zM35.5 72.5l2-.5l1.2 .5l.6 1l-.4 4l-.4 1.2l-1 .9l-2-1.3l-.8-1.8l-.2-2.2l1-1.8zM139.4 72.5l5.1-.8l2.1 .8l1.1 1l.2 5l.8 1l3.7 2l.9 2l-.4 1l-2.4 2.4l-6 1.8l-3-1.6l-3-.6l-1.8-1l.2-2l1.8-3l-.1-1l-1.5-3l0-1l2.3-3zM111.3 73.5l2.2-.8l2 .5l1.4 1.3l-.2 2l-1.5 1l-3.7 1l-2-.2l-.9-.8l-.1-1.3l1-1.7l1.8-1zM28.4 78.5l1.1 0l.4 1l-.4 2.2l-1 1l-1.4-1.2l.4-2l.9-1zM38.7 83.5l2.4 0l2.6 1l.6 2l-.8 4l.2 1l1 1l-.2 1.1l-1-.1l-1-1.3l-3.2-.7l-2.8-1.6l-2-.4l-.8-2l.5-2l1.3-1.2l3.2-.8zM113.9 86.5l1.6 .1l1.1 .9l1.2 5l.2 2l-.4 2l-1.1 1.2l-1 .3l-2.5-.5l-2.5-2.4l-1-3.3l0-2.3l.6-1l3.8-2zM129 88.5l1.5-1l4 .6l3 1.2l.2 1.2l-1.2 1l-3 .1l-2 1.1l-2-.1l-1.4-1.1l-.2-1l1.1-2zM158.4 92.5l1.1-.7l1.4 .7l2.4 5l3.2 3l.5 3l5.4 2l1.1 .8l.1 1.2l-1.1 1.6l-6-.3l-4-1.7l-2.1-1.6l-.5-6l-1.5-7zM27.6 93.5l2.9-.9l4.5 1.9l0 3l1.1 2l.8 5l2.5 3l-.4 1l-2.5 1l-1-.6l-1.3-2.4l-2.7-.2l-.8-.8l-1.8-3l-.9-4l-1.9-3l-.1-1l1.6-1zM134.9 96.5l.6-1l1 .3l1.6 1.7l1.5 3l1.8 2l.3 1l-.9 1l-2.3-.1l-3-1.7l-5 .5l-4-.6l-1.9-1.1l-.2-2l.4-1l1.7-1.2l2 0l2 1.8l2 .5l1-.7l1.4-2.4zM77.1 97.5l2.4-.3l3 .5l1.2 1.8l-.2 1.3l-1 1.6l-3 1.3l-2-.3l-1.5-.9l-.8-3l.2-1l1.7-1zM51.4 101.5l1.6 0l.9 1l-.4 .6l-2 .3l-.9-.9l.8-1zM121.3 101.5l1.2-.3l1.1 1.3l-1.1 1.1l-1 .1l-.7-1.2l.5-1zM41.1 106.5l.5 0l-.1 1.8l-1.3-.8l.9-1zM41.1 109.5l.4-.9l.3 .9l.2 1l-.5 .8l-.4-1.8zM143.6 109.5l1.9-.8l3 0l1 .4l.7 1.4l-.3 1l-4.8 6l-.3 2l-1.3 3.2l-4 .6l-3-.2l-5-2.9l-4.1-1.7l0-1l3.1-2.7l1-.2l4 1l1.7-.1l1.5-2l4.9-4zM86.2 110.5l.3-.4l1.1 .4l0 1l-1.1 .7l-.8-.7l.5-1zM110.2 110.5l.7 0l.7 1l-.3 1l-.8 .6l-1.4-.6l0-1l1.1-1zM39.2 112.5l1.3-.8l1 3.3l1 .1l1-.9l.2 1.3l-.6 1l-1.6 .4l-4-.8l-.6-.6l.4-1l1.9-2zM91.7 112.5l.8-.5l.8 .5l1.4 2l-1.2 .4l-1.3-.4l-.5-2zM159.3 114.5l2.2 0l1.2 1l-1.2 3.1l-1 .3l-1.2-.4l-.6-2l.6-2zM49.7 121.5l3 0l1.7 1l.6 1l-.9 2l-2.6 2.4l-2 0l-2.1-1.4l0-4l2.3-1zM104.9 121.5l1.6-.2l1.8 1.2l.7 2l-.5 1.2l-1 .3l-3-.4l-2.1-1.1l-.8-1l.5-1l2.8-1zM36.5 122.5l1 .3l.4 1.7l-3.5 4l-2.9 .6l-2-1.1l-.7-1.5l.2-1l1-1l3.5-.6l3-1.4zM58.7 123.5l3.8-.1l4 .9l1.7 1.2l.3 1l-1.6 3l-1.4 .7l-3 .4l-1 2.1l-2 1.1l-1.4-.3l-1.1-1l.5-1.5l1.7-.5l.5-1l-2.2-1.2l-.4-.8l.4-1.9l1.2-2.1zM83.5 130.5l2-1l2 .6l2.5 2.4l.1 1l-3.6 2.1l-1 0l-3-2.6l-.1-1.5l1.1-1zM41.4 133.5l2.1-.1l2.4 1.1l.8 1l-.2 1.5l-1 .7l-2 .3l-3.6-.5l-.7-1l.2-1l2-2zM67.1 133.5l1.4-.8l3 1l.6 .8l.3 2l1.3 2l.4 2l-.6 1.3l-3.5 1.7l-1.4 2l-1.1 .3l-1.1-.3l-2.9-6l0-1l1-1.9l2.6-3.1zM102.5 133.5l1.6 0l1.7 1l.5 1l-.8 2.2l-2 .3l-2-1.3l-.4-1.2l.3-1l1.1-1zM147.3 133.5l2.2-.3l2 1.1l.9 3.2l-.5 2l-1.4 .8l-2 .4l-2-.6l-1.6-4.6l.6-1.1l1.8-.9zM120.2 140.5l1.3-.4l1.6 .4l.5 1l-.3 1l-1.8 1.3l-1.5-.3l-.6-2l.8-1zM31.8 147.5l1.7-.5l3 .4l3 1.7l3 .5l6-.3l2-2l4-.4l3 .9l.5 1.7l-.1 1l-1.4 1.5l-4 0l-1.2 .5l-.4 4l-1.4 2.8l-3 2.4l-2 .5l-4-.5l-4-2.2l-1.1-2l.5-5l-4.4-1.4l-.5-.6l0-2l.8-1zM124.3 148.5l2.2-.4l2 .3l1 .9l1 2.1l-.1 2.1l-.9 1.2l-1 .3l-2-1.7l-2-.6l-.8 .8l.9 2l-.6 1l-1.5 .7l-1-.1l-1-1.6l.9-6l1.1-.8l1.8-.2zM22 153.5l2.5-.5l.2 1.5l-1.2 .7l-1.5-.1l0-1.6zM68.7 153.5l.8-.7l2 1.7l.5 1l-.3 1l-1.2 .3l-1.3-.3l-.7-2l.2-1zM156.9 153.5l1.6-.2l2 1.2l-1.2 1l-2-1l-.4-1zM29.5 154.5l1.9 1l.1 2.3l-1 1l-1 .2l-2.4-.5l-1-1l.1-1l3.3-2zM94.8 156.5l2.7-.8l2 .4l2.1 1.4l1 2l0 1l-2.2 3l.2 1l3.2 4l-1.3 4l1.3 3l-1.3 2l-3 2.3l-3 .4l-1-.4l-3.3-4.3l.6-5l-.6-3l1.3-1.6l2.8-1.4l.4-1l-1.2-1l-3 .2l-1-.3l-1-.9l-.2-2l1.2-1.4l2-.6l1.3-1zM74.7 161.5l1.8-.8l1 .3l1 .6l1 2l.2 1.9l-.5 1l-1.7 1.5l-1 .3l-2-1.8l-3 .7l-2-.4l-2-1.3l-2-.2l-1.4-.8l-.6-1l1-1.3l2-.5l3 1.6l3 .4l2.2-2.2zM108.5 161.5l4-.8l4.2 .8l1.4 1l.6 1l-.1 1l-2.1 3.9l-1 .6l-1.2-.5l-1.8-2.8l-1-.3l-1 .1l-2 1.8l-1 .2l-2-1.8l0-2.2l1-1.2l1 0l1-.8zM149.4 161.5l1.1-.8l1.8 .8l1.2 1.5l-.1 1.5l-.9 .9l-2 .1l-1-.8l-.4-1.2l.3-2zM27.4 165.5l1.1 .4l.4 1.6l-1.4 .5l-.8-.5l.7-2zM74.1 169.5l2.4-.8l1 1.8l-1 1.5l-2 .4l-1.2-.9l0-1l.8-1zM125.3 171.5l1.2 .1l3.7 1.9l.4 2l-1.1 1.9l-2 .3l-3-.9l-2 2.1l-2 .7l-1-.1l-4.1-2l-.1-1l.9-1l6.3-1.4l1.1-1.6l1.7-1z"/><path fill="#bb0000" d="M153.1 29l2.2 0l-.3 1.5l-1.5 .1l-.4-1.6zM167.5 35.5l1 0l.1 1l-1.2 0l.1-1zM107.1 56.5l1.8 0l.7 1l-2.1 .2l-.4-1.2zM146.1 61.5l1.4-.7l1 .9l-.5 1.8l-1.5 1l-1.9-1l.4-1l1.1-1zM36.5 74.5l1 .4l.2 .6l-.2 .6l-1 .4l-.5-1l.5-1zM138.4 76.5l1.1-.8l1 .4l.8 1.4l-.5 1l-1.3 0l-1.1-2zM150.1 81.5l1.5 1l-1 3l-1.1 .9l-1.1-.9l1.7-4zM144.4 84.5l1.3 1l-.3 1l-.9 .3l-.9-1.3l.8-1zM40.3 85.5l2.2 .3l0 1.3l-1 .7l-1-.3l-1.1-1l.9-1zM111 89.5l2.5 0l1-.8l.2 1.8l-.8 1l-2.4 1.5l-1-1.1l0-1.8l.5-.6zM114.5 94.5l1-.8l1 .3l.5 1.5l-.5 1.2l-1 .3l-1.2-.5l.2-2zM30.6 95.5l.9-.8l1 .2l.4 .6l-1.4 1l-.9-1zM78.2 98.5l1.7 0l1.1 1l.1 1l-.5 1l-1.1 0l-2-1.5l-.3-.5l1-1zM160.9 98.5l.6-.8l2.8 1.8l.7 1l-.2 1l-2.3 .7l-1-.6l-.6-3.1zM32.7 101.5l1.8-.4l0 2.6l-1.8-.2l-.5-1l.5-1zM168.4 106.5l1.1-.5l1 .1l1 .4l.5 1l-2.5 0l-1.1-1zM145.1 110.5l2.4-.6l1.1 .6l-1.1 2.6l-2 1.6l-1.2-.2l-1.4-1l.2-1l2-2zM130.1 116.5l1.4-.5l.4 .5l-.4 .8l-1 .4l-.4-1.2zM104.2 123.5l1.3-.8l1.3 .8l-.1 1l-1.7 0l-.8-1zM31.4 125.5l1.1 .9l.4 1.1l-.4 .3l-1.2-.3l.1-2zM84.4 131.5l1.1-.4l1.3 .4l-1.3 1.1l-1.1-1.1zM65.3 138.5l1.2-.5l2 .3l1 .6l2 0l1 .2l.3 1.4l-1.3 .8l-3-1l-2 .1l-1.2-.9l0-1zM33.7 148.5l1.8-.3l1.5 .3l1.5 2l1 .1l1.2 .9l-.2 2.3l-2.1 .7l-.9 2.2l-1 .1l0-1.3l1.3-2l.2-2l-.5-.7l-3.8-1.3l0-1zM47.5 153.5l1-.4l1 .5l.6 1.9l-.6 1.8l-1 .4l-2-.7l-2 .6l-1-.1l-1.4-1l.4-.7l3-.3l2-2zM99.9 160.5l.6-.4l1 .4l-2 2l-.5-1l.9-1zM150.3 162.5l1.2-.1l.4 1.1l-1.4 .2l-.2-1.2zM95.4 168.5l1.1-.5l.6 .5l1.6 3l-.3 1l-2.9 .5l-.5-.5l.4-4zM124.9 173.5l.6-.4l3 1l.9 1.4l-.4 1l-2.2 0l-1.9-3z"/></g><path fill="#b8c0dc" d="M95.5 100.5l1-.8l5 0l3 2l.8 .8l1.9 4l-1.7 3l-4 2.8l-1 .1l-2-.1l-4-2.8l-1.8-3l0-3l2.8-3z"/><path fill="#f4f5fa" d="M96.2 100.5l5.3-.2l2 1.8l1 .2l2 4.2l-1 2.3l-4 2.9l-1 .1l-2-.1l-2-1.8l-1.3-.4l-1.9-3l-.1-2l.1-1l2.9-3z"/><path fill="#ffffff" d="M96 101.5l1.5-.9l3 0l3 1.9l1 1l1.3 3l-.8 2l-4.5 2.9l-2-.4l-3-2l-1.5-2.5l-.4-2l2.4-3z"/><path fill="none" stroke="#000" stroke-width="0.70" stroke-linejoin="round" d="M101.2 99.5l.5-1l-1.2-.5l-2 .1l-.5 .4l.3 1M105.6 103.6l-.1-1.6l-2.2-3.5l-1.8-1.7l-1-.2l-3 .2l-3 2.2l-.9 1.5l-.2 2.1M93 107l1.5 4l1 .6l2.3 .2M102.5 111.5l2 .1l2-1l.4-2.1l-.4-1M25.5 137l-2 2.5l0 3l1 1l2.2-1l1-2l-.2-3.1l-1-.8l-1 .4M104.5 148.2l-1.1 1.3l.1 1.1l1 .5l2-.4l.4-1.2l-.2-1l-1.2-.6l-1 .3M164.5 159.2l-1.5 1.3l.1 1l1 2l1.4 1.3l4 .9l1.4-.2l1.2-1l.6-2l-1.2-2.4l-3-1.1l-4 .2M59.5 32.8l-.4 .7l.2 1l1.2 .5l.9-1.5l-.9-.9l-1 .2M42.5 36.5l-1.5 1l-.3 3l.8 1.4l2 .1l1-.6l.9-2.9l-.9-1.6l-2-.4M144.5 39.2l-1.5 1.3l-.7 2l1.2 2l2 .2l1.2-1.2l.6-2l-1.3-2l-1.5-.3M168.5 40.9l-.9 1.6l.6 3l1.3 .9l1-.1l1.1-.8l.3-2l-1.4-2.4l-1-.4l-1 .2M104.5 41.9l-1.9 2.6l0 2l1.9 2.5l2 .3l2.4-1.8l.4-3l-.4-1l-1.4-1.1l-2-.8l-1 .3M124.5 43.5l.1 1l.9 .7l1-.1l.8-1.6l-.8-.8l-1 0l-1 .8M56.5 45.8l-.9 .7l-.2 1l1.1 1.1l1-.3l.8-.8l-.1-1l-1.7-.7M64.5 48.2l-.7 1.3l.7 2.7l1 .4l1-.1l2.4-1l.4-2l-.8-1.4l-2-.3l-2 .4M76.5 54.5l-2.1 1l-.8 1l-.5 3l-.6 .7l-11 2.1l-1-.2l-2-1.8l-4 .5l-1 .7l-2.1 5l-.1 1l1.2 3.8l1 .3l6-.9l4 1.8l4.3 0l4.7-2.1l.7-.9l.5-2l.8-.7l1 .1l3 1.6l2-.5l1.7-3.5l-1.2-5l-1.5-3.5l-3-1.5M138.5 53.6l-.9 .9l.1 1l.8 .8l1 .1l1-.9l-.1-1l-1.9-.9M88.5 60l-2 2.9l0 2.2l1 1.3l2 1.4l2 .3l1.7-1.6l1.1-2l0-2l-.8-1.2l-2-1.2l-2-.5l-1 .4M176 62.4l-2.5 .2l-.7 .9l.7 1.4l2.5 .6M102.5 66.9l-.7 .6l.5 2l1.2 .5l1-.4l.6-1.1l-.1-1l-.5-.4l-2-.2M22 68.5l4.5-.6l1.4-1.4l.3-1l-1.7-3.7l-1-.4l-3.5 0M153.5 71.9l-1.3 1.6l-.2 2l.5 1.4l2 .5l1.5-.9l.1-3l-.6-1.1l-1-.6l-1 .1M166.5 72l-1.9 1.5l-.5 2l1.4 2.4l3 .4l1-.8l.8-3l-.4-1l-1.1-1l-1.3-.6l-1 .1M44.5 74.5l-1.6 2l.4 2l2.2 1.2l2-.2l.7-1l.1-1l-.7-3l-1.1-.5l-2 .5M129.5 76.9l-1 1.5l0 1.1l1 1.3l2-.2l.7-1.1l-.2-2l-1.5-.9l-1 .3M104.5 81.3l0 1.4l2.1-.2l-.1-1.2l-2 0M79.5 83.5l-.1 2l1.1 .7l.8-.7l0-2l-.8-.7l-1 .7M84.5 86.4l-.9 1.1l.8 1l2.1-.1l.5-.9l-.5-.8l-2-.3M61.5 87.1l-1.6 2.4l-.3 3l.8 2l1 1l2.1 .3l3-2.3l.5-1l0-2l-.9-2l-1.6-1.5l-1-.4l-2 .5M101.5 90.5l-1 .1l-.9 .9l-.6 2l-1.5 2l-5.3 3l-2.3 8l.7 2l1.9 1.3l2 2.2l3.1 1.5l.8 1l.4 2l.7 .6l1-.7l2-2.9l3-1.3l1.8-1.7l1.9-7l-.7-2l-4.8-6l-1-4l-1.2-1M74.5 106.4l-3.9 1.1l-1.7 2l.2 3l1.4 2l3 .1l3-1l1-.4l1.3-1.7l.6-2l-.9-2l-1.8-1l-2.2-.1M132.5 107.4l-1.1 1.1l.2 1l1.9 .6l1.5-.6l.5-1l-.7-1l-2.3-.1M25.5 108.4l-.5 1.1l.5 2l2 .8l1-.3l.7-1.5l-.5-2l-1.2-.7l-2 .6M50.5 109.1l-1.7 2.4l-.5 3l1.2 2.7l2 1l1-.2l1-1.2l.4-4.3l-.4-1.8l-1-1.3l-1-.5l-1 .2M166.5 120.3l-1.7 1.2l-.8 3l1.2 3l1.3 .5l1.2-.5l1.3-3l-.6-3l-.8-1l-1.1-.2M114.5 125.5l-1 .5l-1 1.4l0 1.9l1.8 2.2l.7 2l1.5 .8l1.6-.8l.3-1l-.6-3l.5-2l-.4-1l-1.3-1l-2.1 0M22 130.7l3.5-.6l1-1.6l-1-1.4l-3.5-.6M50.5 133.2l-.8 1.3l-.1 1l.9 1.5l2 .6l2.2-1.1l.4-1l-.6-2.1l-2-.7l-2 .5M89.5 136.5l-1.7 2l.3 2l2.4 1.7l2.4-.7l1.2-2l-.4-2l-1-1l-1.2-.4l-2 .4M176 139.4l-2.5 .3l-.7 .8l-.2 1l.9 .7l2.5 .1M164.5 143.3l-1.5 1.2l.1 1l1.4 1l4 .3l1.4-1.3l-.1-1l-1.3-.9l-4-.3M22 145.1l3.5 .2l3.3-1.8l2.2-3l.6-2l-1.1-4.1l-1-1.1l-3-1.1l-4.5 1.4M80.5 145l-1.7 2.5l0 3l1.7 3.5l2 1.2l1-.4l1.4-1.3l1.1-4l-1.6-4l-1.9-.9l-2 .4M104.5 145.3l-2 1.1l-1.4 2.1l0 2l1.4 2.1l2 1l3 .7l4 0l2.3-.8l.5-2l-2.7-4l-4.1-2l-3-.2M134.5 153.2l-.6 1.3l.6 1.3l1 .3l2-.6l.4-1l-.4-1.2l-1-.6l-2 .5M176 157.6l-1.5-.1l-3-1.1l-8 .2l-3.1 1.9l-1.8 3l0 1l.8 1l6.1 4l3 3.8l3.7-1.8l2.3-3.3l1.5-.6M137.5 170.2l-1.2 2.3l.2 4.7l1 1.8l1 .5l1-.2l2.2-2.8l.1-2l-1.8-4l-1.5-.8l-1 .5M68.5 176.3l-.9 1.2l-.5 2l1.4 2l2 .8l2-.7l1-.9l.7-2.2l-.2-1l-3.5-2l-2 .8M43.5 177.2l-.5 1.3l.2 1l1.3 1.4l2 .5l2.1-.9l.4-2l-.5-1.2l-3-.5l-2 .4M88.5 178.2l-.4 1.3l.4 .4l1.8-.4l-.1-1l-1.7-.3M158.8 183l.7-1.4l1.3-1.1l.5-2l-.8-2.2l-1-1.1l-2-.7l-5 1.5l-1 1.4l.6 3.1l1.8 2.5M27.6 29l0 .5l1.9 1.6l4 1.6l.4 .8l-.4 1.4l-1 .8l-1 .1l-9.5-.4M35.7 29l-.2 .7l-.1-.7M77.1 29l.1 1.5l1.8 2l.2 2l-1.7 2l-3 1.4l-1 5.4l-5 1.5l-1-.6l-1.2-4.7l1.2-2.5l5.6-1.5l.3-4l-1-2.5M129.5 29l3.6 6.5l3.4 2.2l2.5 3.8l1.7 5l-.6 4l-.6 .3l-4-1.4l-3.7-4.9l-1.3-5.4l-3-.4l-3-3.7l-.6-1.5l.1-2l2.5-2l0-.5M158.6 29l.1 1.5l.8 1.3l2-.3l4.5-2l0-.5M167.9 29l0 .5l2.6 1.1l1.6 2.9l-.4 2l-2 2l-2.2 .4l-5-1l-4-2.3l-1 .1l-.8 .8l-.6 2l-1.6 .7l-1.8-.7l-.3-1l1.5-2l.1-1l-1.5-.6l-3 .9l-2.3-.3l-2.9-2l.1-1l1.1-.6l.3-.9M104.8 33.5l1.7-.1l.9 1.1l.1 1l-.6 1l-1.4 .2l-1-.5l-.3-1.7l.6-1M115.2 33.5l2.3 .2l.6 .8l-.6 1.6l-1 .4l-1.5-1l-.3-1l.5-1M98.8 36.5l.7-.8l1 .3l.6 2.5l-.6 .6l-1.4-.6l-.6-1l.3-1M26.1 38.5l.4-.4l4 .4l3-.2l.7 1.2l0 4l-.7 1l-6 1.7l-1-.7l-.1-3l.5-2l-.8-2M109.2 38.5l.3-.4l1-.1l.4 .5l-.4 1.2l-1-.1l-.3-1.1M49.7 40.5l1.8-.2l2 .5l1 1.5l-.2 1.2l-1.8 1.2l-2.4-.2l-1.2-2l0-1l.8-1M156.3 42.5l2.2-.8l5 .5l1 .8l.9 6.5l1.8 5l-.7 1.7l-1 .5l-3-1.2l-2.2-4l-2.8-1.8l-2-.5l-2 .4l-3 2.4l-2.6-1.5l-.6-1l.2-1l1-1l2.8-1l5-4M37.5 46.5l1-.2l4.8 3.2l.5 5l1 2l0 1l-6.4 3l-2.9 1l-1.8 0l-2-1l-.7-1l2.4-4l.9-4l3.2-5M120.3 50.5l1.2-.8l1 .2l2.3 1.6l.2 1l-3.5 2l-1-.9l-.2-3.1M22 50.5l2.2 1l.7 3l-.4 2.2l-1 .7l-1.5-.1M105.9 55.5l1.6-.4l4 .7l.4 .7l-.1 1l-.8 2l-1.5 1.4l-1 .2l-2-.6l-1.1-2l-.1-2l.6-1M176 55l-3.5-.1l-1.2-1.4l.2-1.6l1-1.2l1-.6l2.5 .1M120 56.5l.5-.9l1 .9l-.3 3l.7 3l-.4 .9l-1 .2l-1-1.1l-.1-1l.6-5M150.9 56.5l3.6-.6l.8 .6l-.8 3.1l-1 1.1l-1 .2l-2-.9l-.9 3.5l-2.1 2.4l-4 .1l-1-1.5l0-1l1-2.1l1.9-1.9l1.1-.5l3 .2l1.4-2.7M167.2 59.5l1.3-.5l1 .6l.8 3.9l0 1l-.8 1.2l-2-.2l-.9-1l-.3-3l.9-2M118 68.5l1.5-.7l.7 .7l.3 3l-1 1.2l-1.5-.2l-.4-1l.4-3M128.3 69.5l1.2-.5l.6 .5l-.2 1l-1.4 .3l-.2-1.3M36.6 71.5l2.9 .8l.6 1.2l-1.1 5l-.5 1.2l-1 .6l-2-1.1l-1-1.7l-.3-2l.3-2.7l2.1-1.3M142 71.5l2.5-.3l3.3 1.3l.8 1l-.1 5l1 1l3 1.6l1 1.4l0 2l-2 2l-1.4 1l-4.6 1.7l-1 0l-3-1.5l-4-1l-1.6-1.2l.4-2l1.9-3l0-1l-1.5-3l.2-2l1.6-2.1l2-.8l1.5-.1M112.1 72.5l2.4-.2l2.3 1.2l.7 2l-.4 1l-1.6 1.2l-5 1.3l-1-.2l-1.3-1.3l.3-2.4l1-1.3l2.6-1.3M27.6 78.5l.9-.7l1 0l1 1.7l-1 3.4l-1 .4l-1.9-1.8l-.1-1l1.1-2M90.9 81.5l.6-.3l1 .3l.6 1l-.1 1l-1.5 .9l-1.5-.9l.9-2M36 83.5l1.5-.5l3-.1l2.9 .6l1 1l.4 2l-.5 4l1.6 2l-.4 2l-1 .9l-1-.3l-2-2.4l-5-.9l-2.8-2.3l-.4-3l1.2-1.9l1.5-1.1M131 84.5l.5-.4l1.2 .4l-.9 1l0 1l2.7 .7l3 1.7l.6 1.6l-.6 .9l-7 2l-2-.6l-1-.9l0-2.5l3.8-3.9l-.3-1M112.7 86.5l1.8-.4l2 .8l1 1.6l1 3.8l-.1 2.2l-.9 2.7l-2 1.1l-2 0l-1-.6l-2.2-2.2l-.8-1.7l-.4-4.3l.5-1l3.1-2M158.6 91.5l1.9 0l.9 1l1.7 4l3.9 4l.5 2.3l1 .8l5 2l.6 .9l-.2 1l-1.4 2l-5.5 0l-4.5-1.8l-2.8-2.2l-.5-9l-1.3-4l.7-1M28.6 92.5l2.9-.2l4 2l2 9.5l2 1.8l2-.3l.9 1.2l.6 3l1.5 3l.3 3l-1.3 2l-2 .4l-4-.4l-1-.1l-1-.9l.3-1l3.9-5l-.2-.7l-1 0l-2.7 1.7l-.9 0l-.5-1l.4-1l-1-2l-2.3-.5l-1.3-1.5l-1.8-3l-1-4l-2.1-3l-.2-1l.4-1.1l3.1-.9M135 95.5l.5-.6l1 .2l2.3 2.4l1.5 3l1.4 1l.8 2l-.3 1l-.7 .5l-3 .1l-2-1.3l-2-.6l-7 .3l-3-.9l-2 1.5l-1 .1l-.9-.7l0-2l.9-.8l2-.6l.3-1.6l1.1-1l2.6-1l2 .8l2 1.6l1 0l2.5-3.4M75.8 97.5l2.7-.8l4.6 .8l1.1 2l-.5 2l-1.2 1.5l-2 1.1l-4.2-.6l-1.1-1l-.6-3l.1-1l1.1-1M65.2 100.5l1.3-.7l.6 .7l-.3 2l-1.3 1.2l-1 0l-.5-1.2l1.2-2M50.5 101.5l1-.5l2 .1l1 1l0 1.1l-1 .8l-2 0l-1-.6l-.4-.9l.4-1M110.8 106.5l.7-.4l1.3 .4l1 1l.9 2l-2.2 1.6l-1 2l-2 .7l-1-.9l0-1.4l1.5-2l.8-3M86.7 108.5l.8-.2l.9 2.2l-.2 1l-1.7 1.3l-1-.4l-.3-.9l1.5-3M144.2 108.5l1.3-.4l4 .4l1.2 2l-.3 1l-4.4 6l-1.4 5l-.7 1l-7.4 0l-9.9-5l-.1-1l3-2.6l2-.7l3 .5l4-1.7l5.7-4.5M91.1 112.5l.4-.7l1-.2l2.8 2.9l-.8 .7l-2 0l-1.1-.7l-.3-2M117.5 112.5l1 0l.6 1l-.6 .6l-1-.2l-.5-.4l.5-1M158.3 114.5l2.2-.8l3.5 .8l1 1l0 1l-3.5 2.8l-2 .3l-1-1.3l-.2-3.8M176 116.4l-2.4-.9l-.4-1l2.8 0M96 118.5l.5-.2l2.1 1.2l-.3 1l-1.8 .4l-1.5-.4l-.3-1l1.3-1M121.4 119.5l1.1-.5l1 .2l.4 1.3l-1.4 .3l-1-.3l-.1-1M47.6 121.5l4.9-.4l3 1.3l3-.2l9 1.8l1.2 .5l.3 3l-1.5 2.3l-2 .9l-2 .1l-1 .7l-.8 2l-1.2 .9l-2-.1l-1-.4l-1-1.4l0-1.1l1.4-1.9l-1.4-2l0-2.3l-1-.3l-4 3.7l-3-.3l-1-.5l-.7-1.3l-.3-3.5l1.1-1.5M103.2 121.5l3.3-.9l1 .4l2.5 2.5l-.5 2.4l-1 .8l-1 0l-5-1.3l-1.8-1.9l.4-1l2.1-1M35.1 122.5l2.4-.5l.6 .5l.7 2l-.6 1l-3.2 3l-1.5 .8l-2 .2l-2-.8l-1.2-2.2l.2-1.3l2-1.4l3-.5l1.6-.8M84.1 129.5l1.4-.8l1 .3l4.5 3.5l.4 1l-2.9 1.2l-2 1.6l-1.2 .2l-2.8-2.6l-.7-1.4l.1-1l2.2-2M67.4 132.5l2.1-.2l2.8 1.2l2.4 7l-.2 1.1l-1.1 .9l-2.7 1l-1.2 2.2l-1 .7l-1 .2l-1.9-1.1l-2.2-5l-.4-2l1.5-2.8l2.9-3.2M40.3 133.5l1.2-.6l2 0l3 1.4l.7 2.2l-.5 1l-2.2 1l-2 .1l-3.8-1.1l-.7-1l.2-1l2.1-2M102 133.5l1.5-.6l3 1.4l.2 3.2l-1 1l-2.2 .1l-2-1.3l-.7-1.8l1.2-2M146 133.5l2.5-.9l3 1.1l2 4.7l2.8 1.1l.3 1l-1.1 1.7l-1 .4l-2-2.2l-4 1l-2-.6l-1-1.5l-1.2-3.8l.4-1l1.3-1M119.4 140.5l2.1-.9l1 0l1.3 .9l.4 1l-.2 1l-1.5 1.4l-2.2 .6l-.8-.4l-.9-1.6l.1-1l.7-1M57.3 145.5l.2-.6l1 0l1 1.6l-1.9 5l-1.1 1l-4 0l-1 .8l.1 2.2l-1.1 3l-2.8 3l-2.2 1.2l-5-.5l-4-2.2l-1.4-1.5l.3-5l-1-1l-3.4-1l-.6-1l.1-2.1l1-1.4l1-.3l4 .4l3 1.4l2 .5l3-.3l3 .3l3-2.1l6-.7l.8-.7M125.4 147.5l2.1-.4l2 1.4l1.3 3l-.1 2l-3.2 4.1l-1 .5l-2-.7l-3 .3l-1-.8l-.4-1.4l.9-6l.5-1l3.9-1M70.4 149.5l3.3 1l-1.7 2l1.8 3l-.6 1l-2.7 .9l-2.3-.9l-1.2-2l2.1-4l1.3-1M22 152.5l2.8 0l.7 1l0 2.1l4-1.7l1 .1l1 .6l.9 1.9l-.6 2l-1.2 1l-1.1 .2l-3-1l-2-2l-2.5 .9M157 152.5l1.5 0l3.3 2l-1.3 1.2l-2 .4l-2.4-1.6l-.7-1l1.6-1M142.8 153.5l.7-.7l1-.1l1.3 .8l.3 1l-1.6 .6l-1.7-.6l0-1M94.8 155.5l2.7-.4l2 .6l2.7 1.8l.9 2l-.2 1l-2.1 3l.2 1l3 3l.5 1l-.7 4l.9 2l-.1 1l-4.1 4.5l-1 .5l-4-.1l-3.7-4.9l0-8l.7-1.3l2.5-1.7l-.3-1l-2.2-.2l-2-1.1l-.7-1.7l.2-1l1.4-2l3.4-2M75.2 160.5l2.3-.1l1.6 1.1l1.1 4l-2 3l-.7 3.2l-1 1l-2 .4l-1.5-.6l-.6-1l.2-1l1.7-2l.2-1l-5 0l-5-2.1l-1.1-.9l-.3-1l.4-1.2l2-1.1l2 .2l3 1.5l2 .1l2.7-2.5M109.2 160.5l5.3-.2l3 .8l1.9 1.4l.7 1l.1 1l-3.7 5.2l-1 .4l-1-.3l-3-2.6l-4 .9l-2-1.2l-.6-2.4l.6-2.3l1-.8l2.7-.9M150 160.5l1.5 0l2.3 2l.1 2l-.4 1l-1 .7l-2-.2l-1.5-1.5l-.3-2l.2-1l1.1-1M27.5 164.5l1 .6l1.5 2.4l-1.1 1l-2.4 .3l-.3-1.3l.3-2l1-1M31.2 169.5l1.3-.4l1 .4l.4 1l-.4 1.2l-1 .3l-1-.5l-.3-2M124.2 171.5l2.3-.3l4 1.7l.5 .6l.1 2l-.3 1l-1.3 1.4l-5-.2l-2 1.8l-2 .5l-2-.3l-4-1.7l0-1.5l1-1.4l4-1.1l2-.1l2.7-2.4M40.1 183l.4-1.2l2 .6l.2 .6M50.4 183l.1-.6l.2 .6M128.7 183l0-.5l.8-.4l.6 .9M170.2 183l.3-2.3l1.3 .8l.3 1.5"/></g>
<rect x="22.00" y="29.00" width="153.50" height="153.50" fill="none" stroke="#000" stroke-width="0.8"/>
<text x="22.00" y="190.10" font-size="7.50" text-anchor="middle" font-family="DejaVu Sans, Liberation Sans, sans-serif" fill="#262626">0</text>
<text x="20.30" y="184.40" font-size="7.50" text-anchor="end" font-family="DejaVu Sans, Liberation Sans, sans-serif" fill="#262626">0</text>
<text x="55.30" y="190.10" font-size="7.50" text-anchor="middle" font-family="DejaVu Sans, Liberation Sans, sans-serif" fill="#262626">5</text>
<text x="20.30" y="151.10" font-size="7.50" text-anchor="end" font-family="DejaVu Sans, Liberation Sans, sans-serif" fill="#262626">5</text>
<text x="88.59" y="190.10" font-size="7.50" text-anchor="middle" font-family="DejaVu Sans, Liberation Sans, sans-serif" fill="#262626">10</text>
<text x="20.30" y="117.81" font-size="7.50" text-anchor="end" font-family="DejaVu Sans, Liberation Sans, sans-serif" fill="#262626">10</text>
<text x="121.89" y="190.10" font-size="7.50" text-anchor="middle" font-family="DejaVu Sans, Liberation Sans, sans-serif" fill="#262626">15</text>
<text x="20.30" y="84.51" font-size="7.50" text-anchor="end" font-family="DejaVu Sans, Liberation Sans, sans-serif" fill="#262626">15</text>
<text x="155.19" y="190.10" font-size="7.50" text-anchor="middle" font-family="DejaVu Sans, Liberation Sans, sans-serif" fill="#262626">20</text>
<text x="20.30" y="51.21" font-size="7.50" text-anchor="end" font-family="DejaVu Sans, Liberation Sans, sans-serif" fill="#262626">20</text>
<text x="98.75" y="199.50" font-size="7.50" text-anchor="middle" font-family="DejaVu Sans, Liberation Sans, sans-serif" fill="#262626">X (nm)</text>
<text transform="translate(6.00 105.75) rotate(-90)" font-size="7.50" text-anchor="middle" font-family="DejaVu Sans, Liberation Sans, sans-serif" fill="#262626">Y (nm)</text>
<rect x="185.00" y="29.00" width="8.00" height="153.50" fill="url(#cbA)" stroke="#000" stroke-width="0.6"/>
<text x="195.00" y="185.20" font-size="7.50" font-family="DejaVu Sans, Liberation Sans, sans-serif" fill="#262626">−0.1</text>
<text x="195.00" y="166.01" font-size="7.50" font-family="DejaVu Sans, Liberation Sans, sans-serif" fill="#262626">0.0</text>
<text x="195.00" y="146.82" font-size="7.50" font-family="DejaVu Sans, Liberation Sans, sans-serif" fill="#262626">0.1</text>
<text x="195.00" y="127.64" font-size="7.50" font-family="DejaVu Sans, Liberation Sans, sans-serif" fill="#262626">0.2</text>
<text x="195.00" y="108.45" font-size="7.50" font-family="DejaVu Sans, Liberation Sans, sans-serif" fill="#262626">0.3</text>
<text x="195.00" y="89.26" font-size="7.50" font-family="DejaVu Sans, Liberation Sans, sans-serif" fill="#262626">0.4</text>
<text x="195.00" y="70.07" font-size="7.50" font-family="DejaVu Sans, Liberation Sans, sans-serif" fill="#262626">0.5</text>
<text x="195.00" y="50.89" font-size="7.50" font-family="DejaVu Sans, Liberation Sans, sans-serif" fill="#262626">0.6</text>
<text x="195.00" y="31.70" font-size="7.50" font-family="DejaVu Sans, Liberation Sans, sans-serif" fill="#262626">0.7</text>
<text transform="translate(221.50 105.75) rotate(-90)" font-size="7.50" text-anchor="middle" font-family="DejaVu Sans, Liberation Sans, sans-serif" fill="#262626">Order parameter</text>
<text x="4.00" y="8.80" font-size="10.2" font-weight="bold" font-family="Liberation Sans, Arial, sans-serif" fill="#000">A</text>
<filter id="blB" x="-2%" y="-2%" width="104%" height="104%"><feGaussianBlur stdDeviation="0.60"/></filter><clipPath id="clipB"><rect x="249.30" y="27.00" width="154.40" height="154.50"/></clipPath><g clip-path="url(#clipB)"><g filter="url(#blB)"><rect x="247.30" y="25.00" width="158.40" height="158.50" fill="#00acff"/><path fill="#00c0ff" d="M249.3 27l154 0l0 154l-154 0l0-154zM322.8 101l-.7 .5l.1 4l1.6 .5l1-.7l.5-2.8l-.5-1.1l-1-.6l-1 .2z"/><path fill="#00d0ff" d="M249.3 27l154 0l0 154l-154 0l0-154zM321.8 100.4l-.7 1.1l0 3l1.1 2l1.6 .1l1-.7l1-1.9l0-1.8l-1-1.7l-1-.4l-2 .3z"/><path fill="#00e4f8" d="M249.3 27l154 0l0 154l-154 0l0-154zM321.8 100.1l-1.1 1.4l.1 3.7l1 1.5l3-.2l1.3-3l-.2-2l-2.1-1.9l-2 .5z"/><path fill="#0cf4eb" d="M249.3 27l154 0l0 154l-154 0l0-154zM322.8 99.3l-2 1.2l-.4 4l.4 1.4l1 1l2 .2l1-.4l1-1.4l.5-2.8l-.5-1.6l-1-1l-2-.6z"/><path fill="#1cffdb" d="M249.3 27l154 0l0 154l-154 0l0-154zM321.8 99.5l-1.2 1l-.4 1l0 3l.7 2l.9 .7l2 .1l1-.4l1-1.2l.8-3.2l-.8-2l-1-1l-1-.4l-2 .4z"/><path fill="#29ffce" d="M249.3 27l154 0l0 154l-154 0l0-154zM321.8 99.3l-1 .7l-.8 1.5l-.1 3l.9 2.2l1 .8l2 0l2-1.5l1-3.5l-.8-2l-1.2-1.2l-2-.4l-1 .4z"/><path fill="#39ffbe" d="M249.3 27l154 0l0 154l-154 0l0-154zM321.8 99.1l-1 .7l-1 1.7l0 3.4l.7 1.6l1 1l2.3 .2l2-1.4l1-2.2l.2-1.6l-1.7-3l-1.5-.8l-2 .4z"/><path fill="#49ffad" d="M249.3 27l154 0l0 154l-154 0l0-154zM322.8 98.5l-1.9 1l-.9 1l-.4 4l1.2 2.8l1 .5l2 .1l1-.3l1.1-1.1l1-2l.2-2l-1.5-3l-1.8-1l-1 0z"/><path fill="#56ffa0" d="M249.3 27l154 0l0 154l-154 0l0-154zM322.8 98.3l-2 1.1l-1 1.1l-.4 4l1.4 3.1l3 .4l1-.3l1.3-1.2l.9-2l.3-2l-1.5-3.1l-2-1.1l-1 0z"/><path fill="#66ff90" d="M249.3 27l154 0l0 154l-154 0l0-154zM322.8 98.2l-2 1l-1.1 1.3l-.4 4l1.5 3.3l3 .4l1-.3l1.4-1.4l1-2l.2-2l-1.6-3.3l-2-1l-1 0z"/><path fill="#73ff83" d="M249.3 27l154 0l0 154l-154 0l0-154zM321.8 98.4l-2.2 2.1l-.4 5l1.6 2.5l2 .3l2-.2l1.6-1.6l1-2l0-3l-1.1-2l-1.5-1.1l-2-.4l-1 .4z"/><path fill="#83ff73" d="M249.3 27l154 0l0 154l-154 0l0-154zM321.8 98.2l-2.4 2.3l-.3 5l1.7 2.7l4 .1l1.1-.8l1.6-3l.1-3l-1.1-2l-1.7-1.3l-2-.4l-1 .4z"/><path fill="#90ff66" d="M249.3 27l154 0l0 154l-154 0l0-154zM321.8 98l-2.5 2.5l-.4 5l.9 2l1 .9l3 .3l2.4-1.2l1.5-3l.2-2l-.6-2l-1.5-1.9l-2-1l-2 .4zM340.8 107.5l-.5 1l.9 1l1.6 .4l1-.4l.2-1l-.7-1l-2.5 0z"/><path fill="#a0ff56" d="M249.3 27l154 0l0 154l-154 0l0-154zM322.8 97.5l-3.1 2l-.5 1l-.7 4l1 3l1 1l3.3 .5l2.6-1.5l1.5-3l.3-2l-.7-2l-1.4-2l-1.3-.7l-2-.3zM341.8 106.5l-3 .8l-.5 1.2l.5 1.8l2 1.3l3-.9l.8-1.2l-.2-2l-.6-.6l-2-.4z"/><path fill="#b1ff46" d="M249.3 27l154 0l0 154l-154 0l0-154zM322.8 97.2l-2 1l-1.3 1.3l-.5 1l-.7 5l1.7 3l.8 .6l3 .2l1-.2l1.9-1.6l1.5-3l.2-2l-.1-1l-1.8-3l-2.7-1.3l-1 0zM338.8 106.4l-1 1.1l-.3 2l.3 1l1 .9l2 1l1 0l3.1-1.9l.4-2l-1-2l-1.5-.6l-4 .5z"/><path fill="#beff39" d="M249.3 27l154 0l0 154l-154 0l0-154zM321.8 97.3l-2 1.6l-.9 1.6l-.9 4l.1 2l1.7 2.5l5 .4l2-1.4l1.4-2.5l.4-4l-1.6-3l-1.2-.9l-2-.6l-2 .3zM339.8 105.4l-2 1l-.7 1.1l-.1 3l1.8 1.6l2 1.1l1-.1l2.9-1.6l.8-1l.1-3l-.8-1.5l-1-.5l-4-.1z"/><path fill="#ceff29" d="M249.3 27l121.8 0l-.1 3.5l.8 1.8l1 .2l1.5-1l1-2l-1.1-2.5l2.3 0l.7 1.5l1.6 .7l1-.7l0-1.5l23.5 0l0 154l-26.2 0l-.3-2.5l-3 1.5l-.5 1l-124 0l0-154zM269.8 54.4l-3 1.7l-.6 1.4l.2 1l.4 .8l2-1l1 .1l1.9 1.1l.6 1l-.5 .3l-.2 1.7l.2 .5l1 .2l.6-1.7l-1.2-7l-.4-.5l-1 0l-1 .4zM273.8 101.4l-1 .3l-.3 .8l1.3 .9l.7-.9l-.7-1.1zM275.8 138.3l1 2.3l1 .3l1.4-.4l.3-1l-.8-1l-2.9-.2zM276.8 63.1l-.7 1.4l.1 2l2.6 .6l1-1.6l-.3-2l-1.7-.8l-1 .4zM282.8 92.6l-1 .9l-.3 2l1 2l1.4 1l-.4 2l.3 1.6l1-.6l1.7-3l-2-2l-.7-3.6l-1-.3zM286.8 143.8l-.2 .7l1.2 3.4l1-.9l.1-1.5l-1.1-1.9l-1 .2zM319.8 59.5l-1 .8l-1 2.5l0 .8l1 .4l1-.5l0-4zM321.8 97l-2.6 2.5l-1.4 4.8l-1 1.1l-2.8 1.1l-.5 1l3 2l.4 2l.9 .8l3-1.3l1 0l2 1l1-.3l2.6-3.2l2.1-5l.1-2l-2.8-4l-3-.8l-2 .3zM325.8 62.2l-1.8 2.3l.8 .8l1.1-.8l1.1-2l-.2-.4l-1 .1zM330.8 54.3l-1.6 1.2l.3 1l1.3 .8l1-.1l.6-1.7l-.4-1l-1.2-.2zM332.8 85.5l-3 1.6l0 2.4l2-.8l1-1.6l0-1.6zM334.8 100.1l-1.1 1.4l.1 1l1 .3l.8-.3l-.8-2.4zM339.8 104.4l-2 .5l-1.6 2.6l-.7 3l.3 1l1 .6l4 2.2l1-.1l4-2.4l.6-2.3l-.2-3l-1.4-1.8l-3-.5l-2 .2zM352.8 163.4l-.8 1.1l.8 .8l2.6-.8l-.8-1l-1.8-.1zM398.8 48.2l-2.7 2.3l0 1l1.7 2l1 .3l1.9-1.3l.5-1l-1-3l-1.4-.3zM266.8 128.2l-.5 .3l-.3 1l.6 3l-1.3 2l1.5 3l1 .1l1-.6l.4-2.5l.6-1.1l1 .2l1 .9l.3 1l-1 3l.7 .3l1-.8l2.6-.5l-1.8-5l-1.8-1.5l-1.5-.5l-1.1-2l-2.4-.3zM278.8 99.4l-.6 1.1l.6 .7l1.2-.7l-.2-.9l-1-.2zM279.8 67.7l0 1.8l1 1.5l1 .6l.4-1.1l-.4-1.8l-2-1zM331.8 105l-2.2 2.5l-.2 1l.3 1l1.1 1.2l.7-.2l.3-2l1.4-2l-.4-1.2l-1-.3zM336.8 121.2l-.9 1.3l.9 1.8l1 .8l2.1-3.6l-1.1-.5l-2 .2zM332.8 116.4l-2.8 1.1l-.7 1l1.5 .3l2.5-.3l.8-2l-.3-.9l-1 .8z"/><path fill="#dbff1c" d="M249.3 27l120 0l-.7 1.5l-5.8 3l-.2 1l1.2 1.1l3 .7l3 .1l4-1.1l3-2.3l3 0l.8-.5l.8-1l0-2.5l21.9 0l0 19.6l-2.5-.6l-4 .4l-1.1 1.1l-1.3 3l1.6 6l3.8 1.7l3.5-1.3l0 124.1l-24.5 0l.1-1.5l-1.3-2l-.8-.4l-5-.2l-1 .3l-1.1 1.3l.1 2.5l-120.5 0l0-133.2l.5 0l1.3 2.7l1.8 2l1.9 .5l2.4-.5l3.3-4l-1.2-4l-1.5-1.2l-4-.5l-4.5 1.4l0-17.2zM271.8 52.5l-5 2.4l-1.5 1.6l-.2 2l1.7 4.9l3.1 3.1l3.9 .4l4 1.9l3 4.1l1 .2l1-.5l.9-3.1l-.9-5.5l-1-2.3l-3.9-5.2l-6.1-4zM287.8 75.4l-1 .3l-.2 1.8l1.2 1.2l1-.1l.4-1.1l-.3-1l-1.1-1.1zM331.8 52.3l-3.3 1.2l-3.7 2.8l-4 .8l-2 1l-1 1.2l-1.1 3.2l-.1 1l1.2 1.8l2 1l5 .3l4-3.7l2-.8l3-.4l1.8-1.2l.4-1l-1.2-3l.6-2l-.6-2l-1-.6l-2 .4zM351.8 40.5l-1 0l-1 1.7l.2 1.3l.8 .6l1-.1l.7-1.5l-.7-2zM352.8 162.4l-1 .2l-.8 .9l0 2l.8 .9l1 .4l3-.2l1.1-1.1l.4-1l-.3-1l-2.2-1l-2-.1zM379.8 85.1l-1 .8l-.3 1.6l.4 1l.9 .3l1.1-.3l.8-2l-.9-1.4l-1 0zM381.8 114.5l-2.7 1l0 1l2.7 .2l2-.8l.4-1.4l-2.4 0zM255.8 118.4l-.2 1.1l.9 1l1.5 0l0-2l-1.2-.4l-1 .3zM265.8 127.5l-3.1 3l-.3 2l1 3l2.4 4.4l4 1l7.2 4.6l2.1 4l2.2 11l.5 .6l1 .3l2.1-3.9l1.4-5l2.5-3.5l.9-2.5l-1-4l.1-2.2l-1-1.3l-7-.9l-3-.9l-1.8-1.7l-1.4-3l-3.8-4.1l-2-1.1l-3 .2zM282.8 89.5l-3.8 4l-3.2 2.2l-2.8 3.8l-4.9 5l-.3 1.5l1 1.5l4 1.3l8 .8l4-2.1l3-2.9l1.3-7.1l-1.3-2.3l-1-.7l.6-2l-.5-2l-1.6-1l-2.5 0zM322.8 96.5l-2 .7l-1.8 2.3l-1.2 4.2l-6 1.7l-1 1l-1 2.6l.2 2.5l3.7 7l1.1 1.1l3 1.3l3 2.4l4 .5l1.9 2.7l3.9 2l2.7 1l2.5-.3l2-1.3l2.3-4.4l3.2-3l1.7-3l2.8-3.5l.5-2.5l-.7-2l-.5-5l-1.3-.9l-3-.6l-4-2.2l-2-2.5l-2-1l-2-.2l-3-1.3l-4 .7l-3 0zM326.8 78.1l-2 1.9l-.9 1.5l-.1 2.4l1 2.6l2 3l1 1l3 .9l1.2-.9l1.2-2l.7-3l-.1-2.3l-3.2-4.7l-3.8-.4zM332.8 71.2l-.7 4.3l1.6 2l2 0l1.2-1l.3-1l.3-2l-.4-1l-2.3-1.6l-2 .3zM378.8 137.3l-2 3.3l-2 1.3l-.4 3.6l.4 .8l2-.9l1 .4l.6 .7l-.3 2l.3 1l2.4 1.9l3.9-1.9l2.1-2.4l.8-2.6l-.3-3l-.6-2l-3.2-2l-2.7-.7l-2 .5zM341.8 176.1l-.3 .4l.3 1.3l1 .5l1.4-.8l-.4-1.4l-1-.3l-1 .3zM344.8 169l-.5 .5l.1 1l1.4 .6l.7-.6l.1-1l-.8-.7l-1 .2zM327.5 112.5l1.3 0l.5 1l-.5 1l-1-.1l-.5-.9l.2-1zM321.1 115.5l1.7-.3l.7 .3l.3 1l-2 .4l-1-.3l.3-1.1zM329.5 123.5l1.1 0l.2 1.3l-1-.1l-.3-1.2z"/><path fill="#ebff0c" d="M249.3 27l119 0l-.5 1l-5 2.5l-.8 1l-.2 1.1l1 1.4l4 1.5l4-.4l6-1.7l3 1.5l2.2 2.6l1.8 .8l1-.7l.3-1.1l-.3-1.3l-2.5-2.7l.8-3l-.1-2.5l20.3 0l0 18.8l-2.5-.7l-4.2 .4l-1.8 1.6l-1.3 3.4l1.2 6l1.1 1.4l4 1.2l3.5-1.3l0 90.4l-1.5 .6l-1.2 2.7l1.2 2.6l1.5 .8l0 26.1l-21.2 0l-.7-1.5l-3.6-2.8l-1-.4l-5-.2l-1 .2l-1.5 1.2l-.9 2l0 1.5l-119.1 0l0-129.7l4.3 2.2l3.2 .2l3-2.6l1.6-2.6l-1.2-4l-1.4-1.7l-2-.8l-4-.5l-3.5 1.1l0-1.9l2.5-.9l.3-1.3l-.3-1.1l-2.5-.7l0-9.7zM269.8 52.5l-4 2.3l-1.3 1.7l.1 3l1.6 5l4 3l3.6 .2l3 1.2l1 .7l2.8 3.9l2.2-.1l1-1.5l.7-2.4l-.7-5l-1.8-4l-3.3-4l-5.9-4.1l-1-.5l-2 .6zM286.8 74.9l-1 1.2l0 1.4l2 1.9l1 0l1-.9l-.1-2l-.9-1.4l-1-.4l-1 .2zM299.8 167.8l-1 1.7l.5 1l1.5 .6l1.7 1.4l1.3-.5l.3-.5l-2.4-3l-.9-.8l-1 .1zM331.8 51.4l-4 1.7l-4 2.9l-3.9 .5l-2.1 1.5l-1.2 2.5l-.7 3l1.9 2.8l3 1.2l4-.2l4-3.6l2-.9l3-.4l2-1l1-1.9l.2-5l-1.2-2.4l-1-1l-3 .3zM349.8 40.2l-.9 1.3l0 2l.9 1.4l2 .3l1-.7l.6-1l-.3-3l-1.3-.9l-2 .6zM379.8 84.4l-1.7 1.1l-.5 2l.3 1l1.9 1.1l1.9-1.1l.6-2l-.5-1.6l-1-.6l-1 .1zM382.8 113.4l-4 1.2l-.9 .9l-.1 1l2 1.2l2 .1l2-.7l1-.9l.5-1.7l-.8-1l-1.7-.1zM395.8 64.1l-1 .9l-.5 1.5l-.1 1l.5 1l3.1 1.3l2.5-.3l-.1-2l-1.6-3l-1.8-.8l-1 .4zM255.8 117.5l-1 1l0 1l1.9 2l1.1 .2l1.3-1.2l.1-2l-1.4-1.1l-2 .1zM264.8 127.3l-3 3.4l-.2 1.8l.7 3l2.9 5l4.6 1.6l7.1 4.4l1.5 3l2.1 11l.6 1l1.7 .7l1-.7l1.9-4l1.6-5l2.8-5l.2-2l-.8-3l.2-2l-.7-2l-1.2-.8l-9-.8l-2-1.4l-1.5-3l-4.5-5l-3-.8l-3 .6zM282.8 88.2l-7 6.4l-3 4.1l-5.5 5.8l-.5 1l.4 1l1.6 1.7l4.2 1.3l7.8 .7l5-2.5l2.8-3.2l1.4-7l-2.1-7l-.7-1l-1.4-.8l-2-.7l-1 .2zM316.8 74.3l-1.1 1.2l.2 1l.9 1.1l2 .7l.4-1.8l-.3-1l-2.1-1.2zM332.8 70.2l-1.2 1.3l-.3 5l-.5 .7l-4 0l-1 .5l-2.3 2.8l-.6 2l.5 3l1.4 3l2 2.2l3 1.4l2.3-.6l.9-1l1.3-3l0-5l-2.1-4l.6-.5l2 .5l1-.3l2-1.6l.4-1.1l.2-2l-1.3-2l-2.3-1.3l-2 0zM350.8 162.3l-.7 1.2l.1 2l.6 1.3l1 .5l2 .5l2-.2l1.9-2.1l.1-2l-1.1-1l-3.9-.8l-2 .6zM378.8 136.4l-4 3.5l-1 1.9l-.4 3.7l.4 1.1l2 2.2l4 3l2 .1l2.9-1.4l2.1-2l1.4-3l0-3l-.4-2.1l-1.2-1.9l-4.8-2.3l-3 .2zM327.8 95.3l-2 .6l-3 0l-2 .8l-2.6 3.8l-.4 2.6l-1 .5l-5 .8l-1 .7l-1.4 2.4l.1 4l4.3 7.9l1 .7l2 1l3 2.4l4 1.4l3.2 2.6l2 1l3.8 1.5l3-.1l2.1-1.4l3-5l3.4-3l3.5-5.2l1.2-2.8l0-4l-1-4l-1.2-1.3l-4-1l-4-2.7l-2-2.3l-1-.5l-5-1.8l-3 .4zM341.8 175.3l-1.1 1.2l.1 1l.9 1l1.1 .6l1.8-.6l.6-1l-.4-1.4l-1-.8l-2 0zM343.8 168.5l-.2 2l.8 1l1.4 .4l1-.5l.7-1.9l-.4-1l-1.3-.5l-2 .5z"/><path fill="#f8f500" d="M249.3 27l88.2 0l.3 1.1l1 .5l2-.6l.4-1l26 0l0 .5l-5.4 3.2l-.6 1.8l1.2 2l4.4 2l4-.3l4-1.2l2 .2l2.2 1.3l3.8 5.1l1 .4l2.5-2.5l.4-2l-.2-3l-1.9-4l-.1-3.5l11.9 0l.4 1.2l1 .2l1-.6l.2-.8l4.3 0l0 5.8l-1.9 .7l-1.1 2l-1.5 .8l-1 1.4l-.7 1.8l2.7 .6l2 2.4l1.5-.1l0 2.5l-2.5-.9l-6 1l-.6-.5l-.4-1.5l-1 .2l-3 2.3l-1.2 2l-.1 1l1.3 .5l3-2.4l.5 .9l-.5 3l.4 5l.6 2l-1.4 2l-.1 1l1.1 2l.4 2l-1.5 5l.4 1l2.1 .9l8.5-1.2l0 20.3l-1.5 .2l-2-.9l-2.3-3.3l-.7-.2l-1.6 1.2l1 4l1.6 2.6l3 1.1l2.5 .1l0 49l-2.5-.2l-2 1.7l-3.5 1.7l-1.5 1.6l-.3 1.4l.8 2l1.5 1.6l3 .8l4.5 2.2l0 8.2l-.5 0l-.3 1.2l.3 .7l.5 0l0 13.8l-18.2 0l-.3-2.2l-2-.9l-2-2l-2 .3l-2-.5l-5-.2l-1 .1l-1.5 .9l-2 3l-.3 1.5l-84.6 0l1-2.5l-2.6-1.1l-.9 1.1l.5 2.5l-31.1 0l0-12.1l.9-.4l.6-3l1.6-4l-1.1-3l0-2l1.5-1.4l2.8-.6l.4-1l-.5-1l-3.4-3l-2.8-.3l0-52.7l3.5 1.4l2-.1l3 1.7l1-.1l.6-.9l-.6-1.1l-3-.6l-1-.9l-.5-2.4l.1-3l-.6-1l-2-1.1l-2.5 .4l0-36.8l3.5 1.7l4 .7l2-1.3l2-2.3l1.2-2.3l0-1l-1.8-5l-4.4-3.2l-3-3.6l-3.5-.8l0-7.9zM270.8 51.5l-5 2.5l-1.6 1.5l-.3 3l1.5 6l4.4 3.6l4 .2l3 1.1l1.2 1.1l1.8 3.1l1 .4l2 .1l1.3-1.6l1-3l-.6-5l-1.1-3l-3-4l-2.1-2l-5.5-3.7l-1-.5l-1 .2zM286.8 74.2l-1.3 1.3l-.3 2l1.6 1.9l2 .6l1.7-1.5l-.2-2l-1.5-2.2l-2-.1zM289.8 62.5l-.4 1l.4 1.4l1-1l.2-1.4l-.2-.7l-1 .7zM294.8 117.5l-1.3 1l.3 1.3l1 .5l2-.4l.7 .6l-1.2 3l0 2l.5 .8l2.2 1.2l1.4 0l-.1-9l-.5-.8l-5-.2zM299.8 54.5l.6 1l1.6 0l-1.2-1.6l-1 .6zM309.8 80.8l-.5 .7l.5 1.5l1 1.5l1-.1l.8-.9l.3-2l-1.1-.8l-2 .1zM332.8 50.2l-5 2.2l-4 3l-4 .4l-2.6 1.7l-2.1 6l.3 1l2.4 2.8l2 .8l5-.2l4-3.6l2-.9l4-.7l1.7-1.2l1.7-6l-1-4l-1.4-1.8l-3 .5zM349.8 39.3l-1.7 2.2l-.5 3l.4 1l1.8 .8l3 .1l1.1-.9l.8-4l-1.9-2.2l-2-.3l-1 .3zM364.8 39.4l-1 1.1l.2 1l1.8 1.4l1 0l.9-1.4l-.3-1l-.6-1l-1-.5l-1 .4zM371.8 95.4l-1 2.4l-1 .3l-3-1l-.8 1.4l.8 1.9l2-.1l1 .6l.4 2.6l1.6 2.6l1 .7l.8-3.3l1.1-2l-.1-2l2.2-2l-.2-1l-1.4-1l-1.4-.3l-2 .2zM378.8 84.2l-1.6 1.3l-.3 3l.7 1l1.2 .5l2-.1l1.5-1.4l.7-3l-1.2-1.6l-3 .3zM390.8 86.5l-.5 1l.5 .5l1.7-.5l-.7-.8l-1-.2zM264.8 112.4l-1.4 3.1l-2.6 2.2l-3-1l-2 .2l-1 .6l-.6 1l.5 2l2.1 1.7l1 .2l1-.2l2-2.3l3 .4l2-2l3-.4l0-.8l-2-1.9l-2-2.8zM282.8 87.3l-2 1.2l-2.5 3l-2.5 1.8l-3.5 5.2l-5.7 6l-.1 2l1.7 2l4.6 1.4l8 .9l5.1-2.3l2.9-3.2l1.8-7.8l-1.4-5l-1.4-3.3l-3-1.7l-2-.2zM301.8 82.4l0 1.6l1 .2l.5-1.7l-.5-.8l-1 .7zM333.8 69.4l-1 .1l-1.5 1l-.9 5l-.6 .8l-5 .5l-2 2.3l-1-.8l-.9-3.8l-5.1-3.7l-1.1 .7l-1.6 4l1.7 3.5l1.9 1.5l1.1 2l2 .1l2-1.7l.5 3.6l1.7 4l1.8 2.2l4 2.6l1 0l2-1.2l2.7-3.6l-.2-6l-1.6-3l2.1-.4l2-1.2l.9-1.4l.5-2l-.1-2l-1-1l-2.3-1.6l-2-.5zM357.8 112.4l-1 .3l-2 2.4l-.3 2.4l.3 1.1l1 .6l1-.4l2.2-3.3l-.2-2l-1-1.1zM379.8 113.5l-2 1l-.8 1l0 1l.8 1.1l1 .6l3 .5l2-.4l1-.9l1.2-2.9l-.3-1l-.9-.8l-5 .8zM265.8 126l-3 2.1l-1.6 2.4l-.2 5l1.8 2l2 4.2l4 .7l7 3.9l1 1l1 2.2l.8 4l-.1 2l1.4 3l.3 3l1.6 1.2l1 .4l1-.4l2.6-5.2l1.4-4.5l1.8-2.5l1.1-3l-.3-5l.7-2l-1.3-3.7l-1-.8l-3 .5l-3-.5l-4 .2l-2-1.6l-1.4-3.1l-4.6-4.8l-2-.9l-3 .2zM288.8 109.9l-.8 .6l-.4 2l.5 1l1.7 .6l1-.6l.8-2l-.7-1l-2.1-.6zM328.8 94.1l-4 1.3l-3-.3l-1 .6l-2.5 3.8l-.6 3l-.9 .6l-6.3 1.4l-1.7 3l0 3l.6 2l4.4 7.5l3 1.7l3 2.5l4 1.5l4 2.8l4 1.8l3 .4l2-.8l1.7-1.4l3-5l3.7-3l4.1-7l1.5-5.2l1.4 .2l.5-1l-.9-.8l-2 .6l-2-4.2l-5-1.5l-3-2.1l-3-3.7l-4-1l-2-1.1l-2 .4zM377.8 136l-3 2.3l-1 1.5l-.6 1.7l-.2 5l2.4 3l4.4 3.1l2 .2l3-1.6l2.7-2.7l1.3-3l.1-3l-.8-3l-1.3-1.5l-4-2.2l-3-.2l-2 .4zM289.8 165.4l-1.9 1.1l1.9 3.4l2 1.3l4 1l2 1.8l5 .5l3-1.8l.7-1.2l-.4-1l-2.3-1.2l-3-3.3l-4-.8l-3 1.1l-3-1.1l-1 .2zM320.8 131l-.5 1.5l.5 .8l1 .3l1-.5l.4-.6l-.4-1.3l-1-.5l-1 .3zM338.8 156.5l0 1.1l1.6-1.1l-1.6 0zM343.8 167.2l-1 1.2l-.2 1.1l.8 2l1.4 .9l2 0l1.6-1.9l.1-2l-1.7-1.4l-3 .1zM351.8 160.1l-2.7 2.4l.7 4.9l1 .8l5 .2l2.6-2.9l.1-2l-1.7-1.6l-5-1.8zM387.8 173.6l-.9 .9l-.1 1l2 .7l1-.6l0-1.3l-1-.7l-1 0zM320.8 174.2l-2.7 1.3l-.4 1l1.1 3.4l1-.7l2.5-3.7l.2-1l-.7-.5l-1 .2zM342.8 174.5l-2 .8l-.6 1.2l.1 1l1.5 1.8l2 .4l1.9-1.2l.4-1l-.8-2l-2.5-1zM402.7 58.5l.6 0l0 4.4l-1.5-.5l-1.7-1.9l2.6-2z"/><path fill="#ffe200" d="M249.3 27l10.5 0l0 .5l1 .2l1-.1l.1-.6l14.6 0l1 3.5l1.3 1.3l1.5-3.3l-.1-1.5l31.6 0l0 .5l2 .8l.3-1.3l16.9 0l0 .5l.8 .2l1.1-.2l0-.5l2.7 0l1.2 3.4l1 .6l4.3-1.5l.8-1l.1-1.5l22.7 0l0 .5l-3.9 2.3l-1 1.7l-.2 1l.7 2l3.1 2l-.6 .9l-2 .4l-3-.7l-3 2.2l-1 .2l-3-1.1l-2 .2l-5 4.5l-2.6 4.4l-2.4 1l-1 .1l-1-.6l-1.7-3.5l-2.8-2l-.7-3l-2.8-1.1l-1.8 .1l-.5 1l.3 3.4l.4 .6l2.6 1l1.4 4l-.4 1l-4 2.2l-4 3.1l-5 .4l-1-.2l-.4-2.5l-.6-.7l-1 .1l-2 4.3l-.6-.7l-1.4-.3l-2 1.4l-1 .1l-5-.8l-3-3.7l-6 2.2l-4 3.9l-1 .6l-2-.1l-1.1 .7l-.6 1l.7 1.3l0 1.9l-1 .8l-.6-4l-.9-1l-5.5-4.3l-7-4.5l-6 2.4l-2.5 2.4l-.3 1l.5 5l2.3 4.5l4 3.1l1 .3l3-.4l3 1l3 4.2l2 .5l1 0l1.4-1.2l1.6-3.9l1-1.1l4 3.6l1 .5l1.2-.1l0-1l-1.9-4l.4-4l1.8-4l4.5-3.5l4 .3l6 2.8l2-.9l2 .2l2-.7l1 .6l0 2.7l-1.6 3.5l2.6 2l.1 1l-3.1 1l-1.3 2l-1.2 5l.1 3l-1.6 .5l-3-.1l-4-2l-1-.3l-1 .4l-.4 .5l.7 2l-.5 3l.2 2l1 1.4l3 1.5l1 1.7l2.6 2.4l-.2 1l-3.2 2l1.8 4l3.9-4l.2-1l-1.2-2l-.5-3l6.3 0l.5-3l.8-.7l6 .6l2.4 5.1l2.7 3l-2.1 .7l-2-2.2l-1.6 .5l-2 3l-2.4 7l-6 1.1l-1.3 .9l-1.1 2l-.4 2l.3 3l4.5 8l1 1.2l3.1 1.8l2.7 3l-.8 .7l-2 .2l-3.3 2.1l-.9 1l.1 1l-.8 2l.9 1.7l1 .2l.6-.9l-.3-3l1.7-.6l1.5 .6l.2 2l-1.1 4l2.4 3.8l1-.1l2-1.4l4 .4l3 1.4l4 .5l4 1.8l2 1.6l.5 1l-.6 2l-3.2 4l.3 1l3.2 0l0 1l-2.2 1.2l-3-1.6l-.6 .4l0 1l-1.1 2l-1.3 1.2l-3 .3l-1 .5l-2.4 2l-.4 1l.5 1l1.3 .5l3-.3l4 3.1l3-.4l2 .3l1 2.1l2 1.2l1.7 3.5l-1.7 1.5l-1.2 2.5l.7 2l2.1 2l0 .5l-20.9 0l.7-2.5l4.6-6l-.6-3l-.4-.6l-1-.2l-3 1l-3 3.4l-1 .3l-2-.8l-1 .6l-.6 5.3l.3 2.5l-27.9 0l-1-4.5l-.8-.8l-4-.5l-1 0l-1.4 1.3l-.4 2l.2 2.5l-11 0l0-1.5l.9-3l-.5-1l-2.8-2l-3 .4l-2.3 1.6l-.7 1.5l-.1 4l-9.4 0l0-9.7l1.5-.6l2-1.7l2.3-.5l1.1-4l1.2-2l1.2-6l1.2-2l.4-2l1.6-.9l2 .2l.6 .7l-.6 1.6l-2.3 1.4l1.7 5l1.6 1.5l4 .5l.7 3l1.7 3l-.5 3l.4 2l1.7 1.7l2 .4l2.9-2.1l.2-4l3.3-3l.2-1l-2.6-1.7l-2.1-3.3l-.2-1l1.3-1.8l1.2 .8l.1 3l3 3l4.1 7l4.6 2.8l3-.9l1 .2l2 2l2 .8l4 .1l2-1.2l1 0l2 1.7l1.5-.5l.5-1l-.6-3l.5-3l-2.9 0l-2.7-1l-4.3-5.4l-4-.8l-2-2.3l-2 .9l-2 2.4l-4 .1l-.5-.9l.5-2.9l1.5-2.1l1.5-4.7l1.8-1.3l.5-1l.4-7l2.9-2l.7-2l-.3-.7l-2-.3l-2-3.1l-1-.7l-4 .2l-2-.9l-4 1.3l-2-.5l-1.6-4.3l-4.5-5l-1.3-6l.8-5l-2.8-1l-2.6-3.5l-1-.2l-1.5 .7l-.8 1l-.7 2.5l-1.9 1.5l-5.1 1.2l-1.4 1.8l-.1 1l1 2l5.5 3.8l1.7 2.2l-1.7 4.9l-2.5 .1l1.1 5l-.3 4l1.1 6l-.4 1l-1 .2l-1-.5l-2-2.1l-1-.4l-3 1.1l-1.5 .1l0-43.8l3.5-2.2l4 1.6l4-.8l1.7-1.2l0-1l-1.5-2l-5.2-2.8l-.5-1.2l.5-6l-2-.9l-2.4-2.1l.5-2l-.6-3l-.2-4l.2-1l1.7-2l.1-1l-1.3-1.2l-2.5 .5l0-18.2l7.5 2.8l1 .1l1-.6l3.8-6.4l-.5-4l.8-4l-.9-3l.2-2l-1.4-1.4l-.9 .4l-.3 2l-.8 .4l-5-2.8l-4.5-.5l0-6.6zM301.8 34.7l-2 2.4l-1-.1l-2-1.3l-3 1.4l-1.6 2.4l-.1 1l.5 1l3.2 .3l3 1.2l2 0l3 1.5l2 .2l2-.6l1.7-1.6l.4-1l-.3-2l-.8-1l-3 .2l-1-.5l-2-2.9l-1-.6zM268.8 72.5l-.3 1l.4 1l.9 .9l1.4 .1l.6-1l-1-2.2l-1-.5l-1 .7zM282.8 86.3l-4 1.1l-1.6 3.1l-2.4 1.5l-2.4 5.5l-3.2 4l-3.1 3l-.1 2l1.8 2.6l4 1.1l9 1.3l3-1l1.2 0l-.2 3l2.4 2l1.6 3.2l1-1.2l1 .1l.4 1.9l2.2 3l-.1 4l.5 .8l4 .7l4 2.9l1 .1l1.2-1.5l.7-3l-1.9-4l.2-3l-.4-4l-.7-1l-2.1-.7l-1.8-1.3l-2.2-3.8l-1-.9l-3 1.1l-3-.7l-.8-.7l1.3-2l.5-3l1.6-4l-.1-2l-3.2-8l-2.3-1.6l-2-.7l-1 .1zM287.8 73.3l-2.4 1.2l-.8 3l.4 1l1.8 1.6l2 .6l2.1-1.2l.5-1l0-1l-1.6-3.3l-2-.9zM315.8 145.4l-1.3 1.1l.3 5.1l1 .4l2-.9l5-.2l.5-.4l-.2-1l-1.3-1l-4.9-3l-1.1-.1zM294.8 153.1l-1 1.1l-.2 1.3l.3 1l.9 .5l1.7-1.5l-.1-1l-1.6-1.4zM271.8 83.1l-.4 .4l.3 1l1.1 .3l0-1.1l-1-.6zM277.8 126.4l-.5 .1l-.3 1l.2 1l1.6 .9l1-.2l1.7-2.7l-.7-.7l-3 .6zM298.8 141l-.4 1.5l.4 .3l1-.3l.5-1l-.5-.8l-1 .3zM386 27l8.6 0l.5 2.5l2.3 5l-.1 2l-2.5 3.8l-5 2.7l-1.1-.5l-1-5l.1-3l1-1.6l4-1.4l.4-1l-2.4-.9l-4 .3l-.8-1.4l0-1.5zM401.3 27l2 0l0 3.2l-1.5-.7l-.5-2.5zM375.7 37.5l1.7 0l.7 1l-.3 .6l-1 .1l-1-.7l-.1-1zM370.2 42.5l4.6-.7l2 1.1l.8 1.6l-1.8 .9l-3-1l-2.8 .1l-.4-1l.6-1zM356.2 44.5l1.6-.5l1 .5l.6 1l.9 4l-1.5 2l2 4l1 .4l1.1-.4l1.4-3l3.5-4.1l1.9-2.9l.1-.7l.1 .7l.9 .4l2 2.9l1 .6l4 .3l1-.2l2-1.6l1 0l.9 .6l.5 2l4.6 2.2l2-1.5l1.9 .3l.4 1l-.3 1.5l-3 .8l-.4 1.7l1.5 3l2.5 3l.6 3l-1.2 2.6l-2.3 2.4l-.2 2l.5 .5l2 .2l5-1.6l6.5-.7l0 9.8l-3.3-.2l-.6 1l1.3 1l2.6 .1l0 6.6l-2.5-.1l-1-.7l-2-4l-1-.4l-3 .1l-3.8-1.6l-1.4-3l-1.8-1l-1 .6l-2 2.4l-7 3l-1-.1l-1-3.9l-2-3.4l-1-.3l-.3 2.7l-1.8 1l-.5 2l4.5 6l.6 3l-.5 .9l-1 .1l-4-2.3l-8-.1l-2-.7l-.6 2.1l.3 1l2.3 1.1l1.7 1.9l1.6 8l4.7 .3l1 .6l1.6 2.1l.1 3l-1.7 1.6l-4-.2l-1-.4l-1.7-2l-.3-2l-1-.6l-2 3.3l-1 .3l-1.3-1l-1-2l.4-4l-.9-1l-3.2 0l-2 1.8l-1 .3l-2-1.6l-4-.5l-4-3l-.5-2l1.1-6l1.3-2l.3-3l1.5-3l-.1-1l-3-5l-.1-1l1.1-3l-.9-1l-4.7-2.4l-3-.6l-1 .2l-4 2.1l-3 .2l-2-.4l-2 .8l-1-.2l-.3-.7l.3-1.1l3-.1l3-1l4-3.8l6-1.2l1.4-1.8l1.9-6l.7-1.2l2-1.4l3-1.3l7 1.6l1-.3l.2-3.4l2.4-2l.8-3zM364.8 67.9l-2 1.6l-2 0l-1.3 1l.1 1l1.9 1l.6 1l-1.2 3l.9 .9l1 .1l3-2.9l2-.4l2-2.2l4-1.7l1-1.8l-1-.4l-5 1.1l-4-1.3zM347.8 80.4l-1.3 1.1l-.3 1l.5 1l1.1 .6l1.3-.6l.5-2l-.8-1.3l-1 .2zM353.8 79.4l-.6 1.1l.3 2l2.3 4.5l2 1.5l.8-1l0-2l-2.2-2l-.7-3l-.8-1l-1.1-.1zM385.1 45.5l.7-.5l1 0l.3 .5l-.3 1.4l-1 1l-1-.4l-.2-1l.5-1zM328.5 73.5l.3-.4l.5 1.4l-.5 .7l-1.2-.7l.9-1zM305.3 81.5l1.5-.6l1 .3l1.2 1.3l.5 2l-.7 1.7l-1 .9l-2-.8l-1-1.1l-.5-1.7l.2-1l.8-1zM383.5 87.5l.3-.8l1-.2l1.9 1l-.2 3l1.3 1l3-.8l2 1.9l2 .7l1.7 4.2l-.2 3l.5 .5l.5-2.5l1.5-.4l4.5 .4l0 25.2l-.5 0l-2.5 3.8l.6 1l2.4 .3l0 12.4l-3.5 1.6l-2 2.1l-4 2.1l-1.7 2.5l-.7 4l8.4 2.6l3.5 2.6l0 5.4l-.5 0l-1.4 3.4l.4 1.2l1.5 .6l0 4.6l-1.7-.4l-1.3-4l-1.5-.6l-3.4 .6l-4.6 2l-2-1.2l-1-.2l-2 .8l-.8-.4l0-2l1.5-3l.3-2l-3-5l1-1l1-.1l2 .8l1-.6l1.3-2.1l.2-1l-4.5-.3l-.8-.7l-.1-1l3.4-4l1-3l-.2-6l-.4-1l-4.6-3l0-1l.7-1l-.6-2l.2-1l-1.6-.5l-1 .5l-.4 1l0 3l-2.2 0l-.3-3l-1.6-3l-4.5-3.6l-1-.1l-1 .7l-.2 1l.3 2l1.3 3l-.6 4l.9 4l-.3 7l2.2 3l3.8 3l.9 3l1.2 2l-2.5 1.2l-.4 .8l.2 1l.9 1l-4.1 4l-.3 2l.7 .8l1 .4l3-1.1l1 .7l0 1.2l-1 2l1 2l-.7 1l-1.3 .3l-8-.2l-1 .5l-2 2.6l-3-.2l-.9 1l-.2 2.5l-4.5 0l-.9-1.5l-2.5-1.1l-1 .1l-.5 1l.2 1.5l-9.6 0l0-.5l1.9-.7l4-.1l1.9-1.2l-.6-2l-2-2l.7-2l1-1.2l2-1.2l3 .7l1-.9l2.4-4.4l.2-2l-.7-1l-2.7-2l0-2l-.7-1l-2.5-1.5l-3 1.3l-2 2.9l-1-.1l-1.9-1.6l-.7-1l.5-3l-.2-1l-2.2-2l-.6-1l.4-2l-.3-1l-1.3-1l-.4-1l2.7-2.7l0-1.8l-2-1.4l-3 .5l-1-.6l-1-2.4l-1-.7l-2-.1l-3 .8l-4-1l-.7-.6l1-3l-.4-1l-.9-1.4l-2.9-2.6l.9-.6l1 .1l8 4.3l4-.2l3.4-2.6l3-5l3.9-2l1.7-4.2l2.9-3.8l.4-2l1.7-.5l.6 .5l-.5 1l-1.9 1l1.4 4l-.3 3l.7 1.2l3.4 .8l.5 1l-1.4 6l-.5 .9l-2.9 1.1l.5 1l2.4 1.4l1 .3l1-1.8l3-.4l.7-1.5l-.8-4l1.3-3l-2.5-2l.9-3l1.4-1.4l1-.3l3 .2l2-1.7l2.7 .2l-2.1 2l1.9 3l2.5 .2l3-3l1-.2l2.8 2l.2 3.4l.9 1.6l1.1 1l4 .9l4 2.4l2 .1l1-1.7l2.5-.7l-.3-2l-2.2-2.9l-5-2.7l-.8-1.4l.8-4.2l1.2-1.8l2-6l1.8-1.7l2.5-.3l-.4-1l-2.1-.2l-1-.6l-1-4.7l-1-.5l-6 .7l-3-2.4l-2.8-1.3l-.5-1l.5-1l4.8-1.6l1.7-2.4zM350.8 150l-1.9 1.5l2.9 1.2l.4-2.2l-.4-.5l-1 0zM356.8 141.3l-.7 1.2l.7 .4l2 0l.3-.4l-.3-1.3l-1-.2l-1 .3zM393.8 129.1l-2 1.4l-1.7 8l3.7 1.8l3 .4l1-.4l1-1.8l-1-3.4l-1.4-1.6l1.7-2l-.1-1l-1.2-1.3l-2-.4l-1 .3zM381.3 101.5l1.5-1l1.3 1l.4 1l-.7 1l-1-.2l-1.5-1.8zM375.4 104.5l1.4-.8l.8 .8l.6 2l1.8 1l2.9 4l-5.3 2l-1.6 1l-1.2 1.8l-1 0l-1.3-.8l-.2-1l1.9-2l1-3l.2-2l-.6-2l.6-1zM264.2 124.5l1.6-.5l.9 .5l-1.9 .3l-.6-.3zM267.7 143.5l1.1-.1l4 1.8l3.4 2.3l1.1 2l.6 4l-1.1 2l-1 .8l-2 .3l-3-.9l-3-.1l-.8-1.1l-.3-2l-1.7-1l-.1-2l2.2-3l.6-3zM379.7 162.5l2.1-.6l.3 .6l-.3 .3l-2.1-.3zM345.5 174.5l.3-.8l1.9 .8l-.9 .9l-1.3-.9zM399.1 177.5l1.7-.3l2.5 .7l0 3.1l-6.2 0l2-3.5zM388.1 179.5l.8 0l.7 1.5l-2.3 0l.8-1.5z"/><path fill="#ffd000" d="M249.3 27l7.3 0l-.9 3.5l-.9 1.2l-5.5 .2l0-4.9zM264.3 27l2.8 0l-.3 3.5l1 1l4-2.1l1.7 .1l1.3 1l1 2.8l1 1.2l-1 .4l-1.2 1.6l.8 1l3.4 1.2l2 3.6l1 .3l2-.5l1.7 1.4l.5 1l-.6 3l.4 .5l2 .3l1-.4l.4-.4l-.1-1l.7-1l2-1.3l1-.5l3-.1l3.5 1.9l1.5 4l-.4 1l-1.6 .9l-3 .4l-3.9 2.7l-1.1 1.6l-1 .5l-3-1.3l-6 .2l-3.9-2l-5.3-5l-4.8-2.1l-3-2.2l-.2-2.7l1.6-3l.6-.6l6.1-1.4l-.8-1l-1.3-.7l-4 .4l-2.2-4.7l.7-3.5zM283.8 27l14.6 0l.1 2.5l1.2 1l-.9 .8l-3-1.4l-1 1.6l-.4 3l-.6 .6l-2 1l-3 0l-4 1.4l-1-.3l-1.4-1.7l-1.3-2l-.5-2l.8-2l2.4-2l0-.5zM317.5 27l2 0l0 .5l-.7 .4l-1.3-.4l0-.5zM322.1 27l7 0l.7 1.5l1 .5l3 .1l3.8 4.4l.4 1l-.3 1l-1.4 1l-4.5 .6l-3-.9l-2-.2l-2 .6l-2.4 1.9l-.3 1l.5 1l1.4 1l.4 1l-.9 2l.3 1l4 .2l1 .8l-1.1 4l-1.9 2.2l-2 1.3l-3-.4l-1-.7l-1-2.4l0-3.3l-2-.1l-3 1.6l-1-.7l-.2-1.5l.6-2l-1-2l-.6-4l.4-1l.8-.3l2 1.5l1 .1l1.9-1.3l2.4-7l1.7-1l.3-2.5zM347.9 27l2.4 0l.5 .9l2 .9l1.2-.3l.3-1.5l7.2 0l-.1 1.5l-1.1 2l-.8 3l-4.9 4l-4.8 .1l-2 1l-2-.5l-1 .3l-2.1 2.1l.1 2l-.5 1l-1.5 .5l-1.5-1.5l-1.3-5l.1-1l2.7-4.2l1-.2l.8 .4l2.2 2l1.9 0l.4-1l-.7-2l1.5-4.5zM362.3 27l1.9 0l0 .5l-1.4 .2l-.5-.7zM306.3 28.5l.5-.3l2 1.2l2 0l1.2 1.1l-2.2 1.9l-1 3.2l-2 1.2l-2-1.1l-1.5-2.2l-.5-2l.2-1l3.3-2zM390.7 33.5l3.1-.6l2 1.4l.6 1.2l-.6 1.9l-2 2.1l-2 1.2l-1.3-.2l-1.9-3l.2-2.6l1.9-1.4zM305.4 46.5l1.4-.3l2 .5l1.7 2.8l.7 3l-.3 1l-2.1 1.8l-3 .2l-2-.4l-2.5-4.6l0-1l4.1-3zM263.7 48.5l.1-.4l1 .5l.1 1.9l-2.1 2.3l-.2-1.3l1.1-3zM249.3 53.5l.5-.2l5 2l1.5 1.2l.3 1l-1.3 3l1.1 2l-.3 4l.7 .6l1-.3l2.6-2.3l1.4-.5l2 .6l1.4 1.9l1.5 3l-.5 1l-1.4 1.2l-2.5 .8l-3.3 2l-.3 1l1.1 1.4l1-.3l1-1.8l1-.5l3 .7l1 .8l1.8 2.7l-1.4 4l2.5 3l2.7 5l-.5 1l.4 3l-.4 2l-3.1 4.5l-2.9 2.5l-.8 2l.3 2l-5.2 4l-1.9 3l-4.5 1.7l-2.5 3.3l-.4 3l-1.1 .7l-.5 0l0-18.3l3.5-1.4l2 .9l2 0l5-1.5l2.9-1.4l2.3-3l3-2l.3-3l.7-2l-1.2-2l-5-1.7l-.6 4.7l-1.4 3l-1 .7l-1-.1l-4.2-1.6l-.5-2l.7-3.2l1-1.3l5.6-1.5l-.9-2l1.1-3l-.7-2l-1.1-.5l-4 0l-3 2.4l-1.2-.9l-.3-1l.4-4l3.7-4l.1-1l-1.7-.8l-1-1.3l-2-.4l-3.5-1.7l0-12.8zM343.2 53.5l2.6-.7l3 .4l5 1.6l4 4l3-.9l4 1l1.7-.4l-.8-1l.1-1.4l3.1-1.6l.9-1.9l1 .1l.6 3.8l-.2 3l1.6 1l1.3 0l.3-1l-.5-3l.9-1.2l1 .1l2.2 4.1l-.3 1l-.9 .6l-2 .3l-.6 4.1l-1.1 1l-4.3 1.5l-2.9-1.5l-1.1-1.7l-3 .7l-2-.2l-2 1.5l-3 .7l-2 1l-1.3 2l.1 2l-.8 .6l-1.9-2.6l-2.1-.3l-2 .9l-1 .1l-5.7-2.7l-1.2-4l1.6-6l1.4-3l1.9-1.6l1.4-.4zM382.5 53.5l1.3-.7l1.5 .7l2.4 6l3.9 3l.8 2l-.6 2.1l-3.3 2.9l-1.3 4l-1.4 2l-1 .7l-4 .6l-1.4-.3l-.6-.7l-1.7-3.3l-.1-3l.7-2l1.1-1.3l4.5-1.7l0-1l-3-4l-.2-1l.7-2.3l1.7-2.7zM298.5 56.5l4.3 .6l3.9 2.4l2 3l.5 4l-.6 2l-2 3l-1.8 1.7l-2 1l-6 .5l-1.7-1.2l-2.5-4l-.9-2l-.1-2l1.5-5l1.7-1.7l3.7-2.3zM273.6 70.5l1.2-.3l2 .6l3 4.2l4 .5l.1 3l.5 1l5.1 3l-1.7 1.4l-5 .1l-1-.1l-2-1.9l-1-.4l-3 1.2l-1-.3l-1.4-2l1.4-6l-1.4-3l.2-1zM401.3 71.5l2-.2l0 8.6l-7.5 .4l-1.3-1.8l-.7-2.4l-.6-.6l1.2-2l2.4-1.5l4.5-.5zM390.7 75.5l1.1 .3l.2 .7l-1.2 1.2l-1.3-1.2l1.2-1zM363.9 79.5l.9-.1l1.6 1.1l.2 1l-.5 1l-1.3 .9l-3.5-1.9l-.5-1l3.1-1zM290.4 82.5l1.4-.7l.9 .7l-.2 1l.8 1l3.5 .1l1 .5l3.2 3.4l0 1l-1.2 1.2l-2 3.7l-1 .6l-5-.7l-1-1.4l-1.9-5.4l1.5-5zM305.1 82.5l.7-.7l2 .1l1 1.6l0 1l-.7 1l-1.3 .3l-1-.6l-.9-1.7l.2-1zM400.4 83.5l2.9-.1l0 5.3l-2.5-.3l-1.2-.9l-.5-1l.1-2l1.2-1zM345.5 86.5l1.3 .2l5 2.6l1.7 2.2l.2 1l-2.2 4l-2.5 2l-.2 1l-4 1.4l-1.4-.4l-.9-1l-.7-1l-.2-2l.9-3l1.8-2l.2-4l.3-.7l.7-.3zM365.3 86.5l2 0l-.5 .8l-1.5-.8zM317.8 88.5l1-.1l0 1l-1 0l0-.9zM382.4 90.5l1.4-.7l.1 .7l-.1 3.3l-1 .3l-2.6-1.6l.2-1l2-1zM316.5 91.5l.5 0l0 1l-1.2 1.3l-.9-1.3l1.6-1zM310.9 95.5l1.9-.8l2-.1l1 .3l.9 1.6l.1 3.1l-1.4 1.9l-1.6 1l-4 .4l-2.1-1.4l-.3-1l.4-2l1-1.4l2.1-1.6zM295.4 99.5l2.4-.8l1 .4l4.5 3.4l1.5 .4l2 1.6l.7 2l-.4 5l.4 1l2.3 2.2l4.2 7.8l-.2 .8l-4-.7l-3 1.6l-1-.6l-.6-1.1l1.5-3l0-1l-.3-4l-.6-.9l-3 .5l-4-1.4l-1.7-2.2l-1.3-4.6l-3-.5l-2 1.7l-.9-.6l.9-4.9l1-1.2l3.6-.9zM401 102.5l2.3-.8l0 20.9l-.5 0l-3 4l-3 .3l-1-.7l-3.2-4.7l-.8-3.7l-3 .3l-1.2-.6l-.4-1l.6-1.6l3-1.7l1.5-1.7l1-4l2.5-.1l3-3.9l2.2-1zM366.2 104.5l2.6 0l1.5 1l.9 2l0 1l-1.4 1.8l-4 0l-1.3-.8l-.8-2l0-1l1.1-1.6l1.4-.4zM271.3 111.5l2.5-.1l2 .9l7 .2l1.4 2l2.2 2l1 6l.4 .6l2.1 .4l.9 1.2l1.3 3.8l.7 .4l4-.4l3.4 2l1.1 2l-.5 3.5l1-.3l2-2.3l2.6-.9l-.3-2l.7-1.8l1-.2l1 .6l1.1 4.4l3.9 4.6l2.1 1.4l.9 2l-.1 1l-.9 .9l-3.5 2.1l1.8 4l-1.3 3.1l-2 1.4l-5 .2l-2-1.6l-1.7-2.1l.3-3l-2.6-.9l-.3-1.1l2.8-2l.1-3l-2.6-3.6l-5 0l-2-.9l-2-4.2l-.7 .7l-1.1 0l-1.2-.9l-3-.6l-2-1.2l-.7-1.3l.7-1.4l1.7-1.6l.1-1l-1.8-.2l-7 .9l-3-1.7l-1.3-3l-.1-2l2.5-5l-2.6-2zM343 123.5l1.8-.7l2 0l3 1.2l1-.6l1 .2l1.8 .9l.3 1l-.4 2l-.7 .9l-2 .6l-1.9 3.5l3.1 2l.6 1l-.8 .6l-1-.1l-7-3.5l-4-.4l-3 1.1l-1-.7l3.6-3l2.6-5l1-1zM364.2 126.5l3.6-.7l1.1 .7l.6 4l-.9 5l.3 2l1.5 3l0 1l-1.1 2l1.7 4l4.7 4l.6 1l-2.1 2l0 1l1.1 2l.3 3l-.8 1.8l-1 .5l-3 .3l-.8-.6l-.1-1l-1.1-.5l-2 .3l-2 1.1l-3-.1l-3.1-1.8l-1.5-3l-.2-4l1-3l.8-.9l8-1.1l1 .2l2 1.9l.6-.1l.4-.8l-.1-1.2l-3.9-2.1l-1.1-1.9l.1-2l-2-2.2l-2-.9l-1.3-1.9l.3-1.4l2.4-1.6l-1.1-6l.7-1.4l1.4-.6zM257.3 127.5l.5-.3l1 .9l0 1.5l-1.3-1.1l-.2-1zM249.3 131.5l0-.8l4.5 0l2 1.8l1.3 2l.8 3l-.2 2l-.9 3l-2 1.9l-5.5 .8l0-13.7zM402.1 131.5l1.2-.4l0 7.8l-1.5 .2l-1.1-.6l-.8-4l2.2-3zM320.7 140.5l1.1-.9l4 .2l3 1.4l4 .5l3 1.4l1.5 1.4l.4 3l-2.9 3.6l-4.7 1.4l-.3 1.4l-1 .4l-3-2.3l-2-2.9l-3-2l-1.4-1.6l-.3-3l1.6-2zM345.8 141.5l1-.7l.6 .7l-.6 2.1l-1-.6l0-1.5zM390.3 141.5l.5-.4l1 .3l3.5 2.1l-4.5 4.4l-1 0l-.1-.4l.6-6zM269.5 146.5l1.3-.9l1 .1l4 2.3l1.2 2.5l0 2l-.5 1l-1.7 .7l-5.1-1.7l-2.3-3l2.1-3zM346.2 146.5l.6-.9l1 .8l0 1.1l-1.5 0l-.1-1zM355.4 147.5l1.4 0l.6 1l-1.6 .7l-.7-.7l.3-1zM315.7 155.5l2.1-.8l.9 .8l1.6 3l1.3 5l2.4 1l1 1l-.2 1l-1.4 1l-3.6 .4l-2 1.4l-5 1.1l-.9-2.9l-1.1-.5l-4 1.5l-2.3-1l-2-3l-.8-4l3.1-4.2l1-.6l4 1.3l2 1.7l1-.1l2.9-3.1zM391.9 155.5l1.9-.5l5 1.1l2.3 1.4l1.7 2.6l.5 0l0 2.9l-.5 0l-2 4.1l-1 .8l-7 1.4l-2-.6l-1-1.2l-1.7-3l-.8-3l2.5-4.2l2.1-1.8zM287 159.5l.8-.6l2-.3l.4 .9l-.4 1.1l-1 .8l-1 0l-1-.3l.2-1.6zM259.2 162.5l.6-.8l1-.2l1 .6l1.5 1.4l.4 2l1.1 .9l2-.8l1 .3l1.7 2.6l-.7 1.9l-1 .7l-6 .6l-2-.4l-2-1.1l-1-1.2l0-2.4l.8-2.1l1.6-2zM362.1 164.5l1.7-.6l5 .1l1 2.1l2 2.4l-.3 2l-.7 .8l-3-.3l-2 .7l-2-.6l-2.5-3.6l0-2l.8-1zM330.5 169.5l3.3 .3l1.2 1.7l3.4 3l.6 3l1.5 3.5l-16.5 0l1.7-2.5l1.1-2.9l2.9-2.1l-.2-3l.3-.8l.7-.2zM252.7 171.5l2.1-.4l2 2.4l.4 7.5l-7.9 0l0-8l3.4-1.5zM358.6 173.5l.3 0l.5 2l-.1 1l-.5 .3l-1-1.3l.8-2zM294.7 176.5l3.1 1.6l3 .8l1.5 2.1l-8 0l-.4-3.5l.8-1zM270.5 177.5l1.1 0l.7 1l0 1l-1.5 .7l-1-.5l-.3-1.2l1-1zM273.7 179.5l2.1-.2l.8 1.7l-3.7 0l.8-1.5z"/><path fill="#ffc100" d="M249.3 27l5.7 0l0 .5l-.3 1l-.9 .8l-4.5 1.2l0-3.5zM324.6 27l.5 0l-.2 1.5l.9 .5l.8 1.5l-.3 2l-.5 .7l-3 .7l-.4-.4l.2-1l2-3l0-2.5zM357.3 27l1.6 0l-.1 2.7l-1 .2l-.4-.4l-.1-2.5zM283.2 28.5l1.6-.6l2-.1l4 1l1 .7l.4 1l-.4 3l-.8 1l-4.2 1.7l-2 .1l-1-.5l-1.9-2.3l-.7-2l1-2l1-1zM305.3 31.5l1.5-.1l.9 1.1l.1 1.8l-1 .8l-1-.2l-1.2-1.4l-.1-1l.8-1zM267.9 38.5l5.9-.1l4.5 2.1l.8 2l-.1 2l-.5 1l2.3 .4l.4 .6l-.7 2l.3 1l2 1.6l2.2 .4l-.2 .7l-5 .6l-2-.3l-.9-1l.4-2l-.6-2l-8.2-2l-3.7-1.8l-.5-1.2l.5-1.6l1-1.4l2.1-1zM305.5 47.5l1.3-.3l1.7 1.3l1.2 4l-.3 1l-1.5 1l-3.1 .1l-1-1.1l-.5-4l2.2-2zM342.4 54.5l4.4-.7l3.5 .7l3.5 1.3l3.8 4.7l-.3 3l-.8 1l-1.7 1l-4 0l.3 2l-1.3 1.3l-2-.5l-3 .9l-1-.1l-3.6-1.6l-1.4-1.8l-.7-2.2l.7-3.3l1.6-3.7l2-2zM345.8 59.5l1 1.1l1.1-.1l.5-1l-1.6-.4l-1 .4zM383.7 55.5l.5 1l-.3 1l-1.1 .9l-.8-.9l.8-1.7l.9-.3zM252.1 56.5l.7-.6l2.1 .6l0 2l-1.2 2l1.8 2l.2 1l-.9 2.7l-2 .9l-1.5-.6l-1.5-1.7l-.5 0l0-2.6l2.4-1.7l-.5-2l.8-1l.1-1zM297.2 57.5l2.6-.8l4 1.2l2.3 1.6l1.8 3l.6 3l-.3 2l-2.3 4l-2.1 1.6l-2 .6l-5 .1l-1.6-1.3l-3.1-5l-.1-3l1.5-4l3.7-3zM369.4 62.5l1.4-.7l1 .5l0 1.8l-3 1.8l-1-.1l-.4-1.3l.4-.8l1.6-1.2zM388.7 63.5l1.1-.5l1 .3l0 1.7l-2-.1l-.1-1.4zM379.8 66.5l3-.9l3 .2l1.3 .7l.5 1l-.2 4l-1.5 3l-1.1 .9l-2 .5l-2-.1l-2.3-2.3l-.7-2l-.1-2l.8-2l1.3-1zM261.3 67.5l.5-.3l1 .3l-1 1.3l-1-.3l.5-1zM396.5 72.5l6.8-.8l0 7.7l-5.5 .2l-2-.8l-.8-1.3l-.4-2l.6-2l1.3-1zM305.6 82.5l1.2-.5l1.2 .5l.4 1l-.6 1.6l-1 .1l-1-.7l-.4-1l.2-1zM400 84.5l.8-.5l2.5-.2l0 4.4l-1.5 0l-1.6-.7l-.7-2l.5-1zM295 87.5l1.8-.4l1.1 1.4l-.1 2l-1 1.6l-1 .3l-.7-.9l.6-2l-.7-2zM259.5 88.5l2.3-.1l1.5 1.1l-.5 2.3l-2 2.9l-2.8-.2l-1.2-1l0-1.4l.9-2.6l1.8-1zM347.1 94.5l1.7-.9l1.2 .9l-.4 1l-1.8 1.1l-1-.2l-.2-.9l.5-1zM313.4 96.5l1.7 1l.2 1l-.5 .7l-4 .8l-.7-.5l1.7-2l1.6-1zM297.9 103.5l1.9-.9l3 .3l2 .8l1.7 1.8l.4 2l-.4 3l-1.7 2.6l-2 .4l-2-.3l-2.7-1.7l-1.2-3l.2-4l.8-1zM262.6 104.5l1 1l-1.8 3l-3 1.9l-2 2l-4 1.8l-1.4 2.3l-2.1 1.1l0-9.8l13.3-3.3zM365 105.5l2.8-.7l2 .6l1 2.1l-.7 2l-2.3 .6l-2.6-.6l-1.1-2l.9-2zM399 108.5l1.8-.6l2.5 .3l0 12.7l-.5 0l-.4 1.6l-2.6 3.5l-2 .4l-2-1l-2.7-3.9l-.3-7l2.4-3l3.8-3zM276.8 113.5l2-.4l3.4 .4l.9 2l1.7 1l.7 1l.6 3l-.3 1.1l-1 .6l-3-1.3l-1 .6l-.3 2l-2.4 1l-2.3-.3l-2-1l-1.3-2.7l.2-3l2.1-2.5l2-1.5zM344.2 123.5l1.6-.3l2 .7l2.3 2.6l.1 1l-.7 2l-1.7 2.2l-1 .3l-2-.3l-2-1.1l-.8-1.1l.1-4l.7-1.1l1.4-.9zM293.6 130.5l2.2-.9l3 .7l1.1 1.2l-.1 2l-2 2.3l-3.9-.3l-.8-1l.5-4zM249.3 131.5l3.5-.2l2 .8l1.3 1.4l1.3 3l0 3l-.8 2l-1.4 2l-1.4 .8l-4.5 .3l0-13.1zM306.6 138.5l.4 0l.8 1l2 .2l.2 .8l-.7 1l-3.5 2.6l-1 0l-.6-1.6l.2-1l1.4-1.7l.8-.3l0-1zM321.4 140.5l1.4-.6l2 .2l3.4 1.4l4.6 .6l3.9 2.4l.7 2l-.1 1l-3.5 3.6l-5 1l-2-.3l-3-3.3l-2-1.2l-1.7-1.8l-.1-3l1.4-2zM305.5 145.5l1.3-.6l3 .1l3 2.5l.6 1l0 2l-1.3 2l-1.3 .8l-4 0l-1-.1l-2-1.5l-.8-1.2l-.1-1l1.4-3l1.2-1zM270.8 148.5l1-.9l3 1.3l1 1l0 1.9l-1 0l-3.4-2.3l-.6-1zM362.8 149.5l3-.3l2 .6l3.7 3.7l.6 2l-.6 2l-2 2l-5.7 2.2l-3-.7l-1.9-1.5l-1.4-4l.3-2l1-2.3l1-.8l3-.9zM391.2 156.5l1.6-.9l4 .2l3 1.2l1.7 1.5l1 2l0 2l-1.2 3l-1.5 1.8l-6 1.5l-2-.4l-1.2-.9l-2.4-4l-.3-2l2.3-4l1-1zM315.5 160.5l2.3-.8l1 .7l.8 2.1l0 1l-.7 1l-3.1 .3l-2.5-1.3l.2-1l2-2zM304.7 161.5l4.1 1l1.3 1l-.1 1l-1.2 1l-2 .7l-3.3-2.7l.3-1.9l.9-.1zM260.4 166.5l1.4 .3l1 1.7l-.1 1l-1.9 .6l-2-.9l-.6-.7l.2-1l2-1zM251.4 174.5l1.4-.3l2 1.2l1 3.1l.1 2.5l-6.6 0l0-5.8l2.1-.7zM329.5 176.5l2.3-.7l5 1.7l1 .5l.9 1.5l.2 1.5l-12.7 0l.6-1.3l2.7-3.2z"/><path fill="#ffae00" d="M249.3 27l1.5 0l-1 1.8l-.5 0l0-1.8zM284.3 28.5l3.5-.1l2.3 1.1l1.1 2l-.4 2l-1 1l-4 1.4l-2-.8l-1.4-1.6l-.6-2l.9-2l1.6-1zM266.7 40.5l1.1-.8l1 .2l.4 .6l-.4 1.7l-1 .3l-1-.5l-.1-1.5zM297.7 57.5l3.1-.5l3 1.2l1.8 1.3l1.9 3l.5 3l-.4 2l-2.2 4l-2.6 1.6l-6 .1l-3-3.2l-1.4-2.5l-.1-3l1.5-3.9l3.9-3.1zM250.4 62.5l2.4-.8l2 .7l.4 1.1l-.6 2l-1.8 1l-1-.3l-1.5-1.7l.1-2zM343.2 63.5l.6-.7l1-.3l.9 1l-.9 1.2l-1 .1l-.6-1.3zM380.9 66.5l1.9-.4l2 .6l1 .5l.9 1.3l.5 2l-1.1 3l-1.3 1.4l-2 .5l-2-.2l-2.3-2.7l-.1-4l.8-1l1.7-1zM397.7 72.5l5.6-.5l0 7l-5.5 .1l-1-.3l-1-.9l-.5-1.4l0-2l.5-1l1.9-1zM306.4 82.5l1.4 .5l0 1.6l-1 .1l-1-1.1l.6-1.1zM400.8 84.5l2.5-.3l0 3.7l-2.5-.4l-.8-1l0-1l.8-1zM299.3 103.5l1.5-.4l3 .6l2.2 1.8l.4 2l-.4 3l-1.2 1.9l-1 .6l-2 .1l-2-.6l-2-2.1l-.6-1.9l.2-2l.7-2l1.2-1zM365.8 105.5l3-.2l1 .7l.6 1.5l-.6 1.7l-1 .5l-3-.2l-1.2-2l.1-1l1.1-1zM254.6 108.5l1.2-.5l1 .2l.4 .3l.1 1l-.6 1l-1.9 .6l-1.1-.6l0-1l.9-1zM399.3 110.5l4-.5l0 3.5l-2.5-.9l-1 .9l1.8 2l1.1 4l-.7 3l-2.2 3l-2 .5l-1.3-.5l-1.6-2l-1.3-2l-.4-2l1.2-4l3.4-3l1.5-2zM278.5 114.5l.7 0l.1 1l-1.6 1l-.3-1l1.1-1zM343.4 124.5l2.4-.8l2 .7l1.1 1.1l.5 1l-.1 2l-1.5 2.5l-1 .3l-2-.2l-2.1-1.6l-.2-3l.9-2zM249.3 132.5l0-.7l4.5 .1l2 1.9l1.3 2.7l.1 2l-1 3l-2.4 2.4l-4.5 .3l0-11.7zM322.2 140.5l2.6 0l3 1.3l4 .3l3 1.3l1.4 1.1l.8 2l-.1 1l-3.1 3.2l-5 .7l-2-.2l-2.3-2.7l-3.9-3l-.1-3l1.7-2zM305.5 146.5l2.3-.8l2 .2l3 2.4l.4 1.2l-.4 1.3l-2 2l-5-.2l-2-1.8l-.3-1.3l.9-2l1.1-1zM360.8 150.5l2-.6l3-.2l1 .1l2.1 1.7l2.3 4l-.9 2l-1.5 1.8l-3 1.5l-2 .4l-2-.3l-2.4-1.4l-1.1-2l-.3-3l1.2-3l1.6-1zM391.9 156.5l1.9-.7l3 .4l3 1.1l1.3 1.2l1 2l.1 2l-1.3 3l-1.1 1.3l-6 1.5l-2-.5l-1.5-1.3l-1.6-3l-.3-2l2.3-4l1.2-1zM249.3 178.5l3.5-.5l1 1.3l0 1.7l-4.5 0l0-2.5zM327.7 180.5l1.1-.7l1 .1l.1 1.1l-2.2 0l0-.5z"/><path fill="#ff9f00" d="M283.5 29.5l3.3-.7l2.3 .7l1.1 1l.3 1l-.4 2l-3.3 1.6l-2 .1l-1-.7l-1.3-2l.2-2l.8-1zM298.4 57.5l2.4-.2l3.1 1.2l2.1 2l1.3 3l-.1 4l-2.3 4l-2.1 1.2l-6 0l-2.9-3.2l-1.1-2l-.2-3l1.2-3.2l1-1.3l3.6-2.5zM251.6 62.5l2.3 0l.7 1l-.8 2.1l-2 0l-.9-1.1l-.2-1l.9-1zM379.9 67.5l2.9-.9l2 .7l1.3 1.2l.6 2l-.9 2.5l-1 1.3l-3 .6l-1-.2l-1.2-1.2l-.9-2l0-2l1.2-2zM400.5 72.5l2.8-.2l0 6.3l-5.5 0l-1-.4l-1.1-1.7l.1-2.1l1-1.1l3.7-.8zM400.5 85.5l1.3-.7l1.5 0l0 2.7l-1.5-.1l-1-.5l-.3-1.4zM298.7 104.5l1.1-.7l2-.1l2 .4l1.6 1.4l.5 1l0 3l-.9 2l-1.1 1l-3.1 .1l-2-1.1l-1.2-3l1.1-4zM365.3 106.5l1.5-.8l2 0l1 1.1l0 1.7l-2 .9l-2-.5l-.8-1.4l.3-1zM396.9 114.5l1.9-.5l1 .8l1.5 1.7l.8 2l-.6 4l-2.7 3l-1.2 0l-1.5-1l-2.5-4l.2-2l.8-2l2.3-2zM344.1 124.5l2.7-.2l1.5 1.2l.7 2l-1.3 3l-1.9 .3l-2.4-1.3l-.4-3l1.1-2zM249.3 132.5l2.5-.4l2 .2l2 2.1l.9 2.1l0 3l-.9 2l-2 2l-4.5 .3l0-11.3zM321.6 141.5l1.2-.7l1 .1l2 .3l2 1l4.1 .3l3.8 2l.9 2l-.2 1l-1.7 2l-1.6 1l-4.3 .5l-2-.2l-2-2.5l-3.6-2.8l-.6-2l1-2zM306.9 146.5l1.9-.2l3 1.5l.9 1.7l-.9 2l-2 1l-3-.2l-2-1l-.6-.8l.3-2l.7-1l1.7-1zM361.8 150.5l4-.5l1 .2l1.6 1.3l2.1 4l-1.7 3.1l-3.4 1.9l-1.6 .3l-2-.3l-2-1.2l-1.1-1.8l-.3-3l1.4-3l2-1zM392.6 156.5l1.2-.3l3 .3l2.6 1l1.2 1l1 2l.2 2l-2 3.8l-3 1.2l-3 .5l-1.7-.5l-1.3-1l-1.7-3l-.3-2l2-3.5l1.8-1.5zM249.3 180.5l0-.7l.5 0l1 .4l.2 .8l-1.7 0l0-.5z"/><path fill="#ff8d00" d="M285.8 29.5l2 0l1.6 1l.5 2l-.5 1l-3.6 1.3l-1-.2l-1-.9l-.8-2.2l.8-1.2l2-.8zM297.5 58.5l2.3-.9l3.4 .9l2.4 2l1.2 2.5l.4 2.5l-.4 2l-2 3.6l-2 1.2l-5 .2l-1-.3l-3.6-4.7l-.3-3l1.2-3l.7-1.1l2.7-1.9zM251.6 63.5l1.2-.4l1 .4l0 1l-1 .5l-1-.4l-.2-1.1zM381 67.5l1.8-.3l1.1 .3l1.5 1l.6 1l-.2 2.4l-.8 1.6l-1.2 .8l-2.1 .2l-.9-.5l-1.2-1.5l-.2-3l.2-1l1.4-1zM397.7 73.5l5.6-.9l0 5.4l-5.5-.1l-.9-.4l-.5-1l.1-2l1.2-1zM401.6 85.5l1.7-.1l0 1.4l-1.9-.3l.2-1zM299.4 104.5l1.4-.4l2 .2l2.1 1.2l.6 2l-.3 2l-.4 1.4l-1 1l-3 .2l-1.4-.6l-.8-1l-.4-3l.4-2l.8-1zM366.2 106.5l2.6-.2l.6 1.2l-.3 1l-1.3 .4l-1.6-.4l-.6-1l.6-1zM396.5 115.5l2.3-.6l1.8 1.6l1 2l.2 1l-.8 3l-2.2 2.4l-2-.3l-2.6-4.1l.6-3.2l1.7-1.8zM343.8 125.5l2-.9l1.7 .9l.8 2l-.5 2l-1 .6l-1 0l-2-1l-.3-1.6l.3-2zM251.2 132.5l1.9 0l1.7 1.1l1.1 1.9l.7 3l-1.3 3l-1.5 1.5l-4.5 .5l0-10.9l1.9-.1zM322.5 141.5l1.8 0l3.5 1.3l3-.1l2.4 .8l1.9 1l.7 .9l.1 2.1l-2.1 2.3l-5 .8l-1.4-.1l-2.6-2.7l-3-2.3l-.6-2l1.3-2zM306.2 147.5l2.6-.6l1.5 .6l1.5 1l.1 2l-1.1 1.1l-1 .3l-4-.7l-.8-.7l-.3-1l1.5-2zM363.7 150.5l2.1-.1l2 1l2.2 4.1l-1.8 3l-4.4 1.9l-3-.9l-1-.9l-1.1-3.1l1.1-3.3l1-.8l2.9-.9zM391.8 157.5l2-1l1 .1l3 .6l2.3 1.3l1.3 3l-.4 2l-1.2 2.2l-5 1.8l-2-.1l-1.4-.9l-2.2-4l.6-2l2-3z"/><path fill="#ff7e00" d="M287 31.5l.8-.6l1 .3l0 1.7l-3.1 .6l-.1-1l1.4-1zM298.2 58.5l2.6-.5l3 1.2l1.3 1.3l1.4 3l.4 2l-.5 2l-1.6 3l-2 1.3l-6-.2l-3.2-4.1l-.2-3l1.2-3l3.6-3zM381.2 68.5l1.6-.5l1.7 .5l.8 1l.2 1l-.7 1.9l-1 1.2l-2 .2l-1-.8l-.3-1.5l.7-3zM400.8 73.5l2.5-.3l0 3.9l-3.4-.6l-1-1l1.9-2zM299.6 105.5l1.2-.6l2 .6l1.1 1l.2 3l-.2 1l-.9 1l-2.2 .1l-1.3-1.1l-.5-2l.7-1l-.1-2zM396.7 116.5l2.1-.6l1 .6l1.2 2l-.2 3.2l-2 2.3l-1 .1l-.8-.6l-2.3-3l.2-2l1.8-2zM345 126.5l.9 0l0 1l-1.1 0l.2-1zM249.3 133.5l3.5-.6l1 .4l1.2 1.2l.9 2l.2 2l-1.3 2.9l-1.1 1.1l-4.4 .4l0-9.4zM322.7 142.5l5.1 .9l4 0l3 1.5l.8 1.6l-.8 1.5l-1.7 1.5l-5.3 .6l-1-.5l-1-1.7l-3.5-3.4l-.4-1l.8-1zM307.1 148.5l1.7-.5l1.2 .5l.7 1l-.9 1.1l-1.5-.1l-1.5-1l.3-1zM361.9 151.5l3.9-.6l1.5 .6l1.8 3l.3 1l-.6 1.2l-1.9 1.8l-2.1 1.1l-2 .1l-2-1l-1-1.2l-.4-3l1-2l1.5-1zM392.6 157.5l1.2-.4l3 .3l3 1.5l1.1 2.6l-1.1 3.2l-3.1 1.8l-1.9 .5l-2-.1l-1-.7l-2.1-3.7l.1-1l2.8-4z"/><path fill="#ff6c00" d="M299.4 58.5l2 0l2.2 1l1.2 1.5l1.3 3.5l.1 2l-1.4 3.1l-1 1.1l-1.8 .8l-1.2 0l-2-1l-2-1.9l-2-.6l-1-1.5l0-1.7l1-1.8l2.5-.5l.3-2l1.8-2zM252.7 133.5l1.1 .6l.9 1.4l.5 3l-.3 1l-2.1 2.3l-3.5 .2l0-7.5l3.4-1zM331.4 145.5l.4-.4l2 .2l.8 1.2l-1.8 1.9l-1-.1l-1.7-.8l1.3-2zM365.2 151.5l.9 0l1.3 1l.5 2l-2.1 1l-2 2.9l-1.7-.9l-.1-2l1.7-3l1.5-1zM392.9 158.5l.9-.6l1.8 .6l-.8 2.5l-1 0l-1-.9l.1-1.6zM391.4 163.5l.4-.6l1 .4l2-.3l.9 2.5l-1 1l-1.3 0l-1.2-1l-.8-2z"/><path fill="#ff5900" d="M300.6 60.5l.2-.6l1.5 .6l-.5 .3l-1.2-.3zM304.4 65.5l.4-.4l.3 .4l-.3 1.8l-.5-.8l.1-1z"/></g><path fill="#ffffff" d="M323.5 97.5l6.3-.9l5 1.9l2.2 4l.2 2l-1.2 5l-1.9 3l-5.3 .9l-4-.4l-2-1l-2-2.2l-1.5-4.3l.1-4l1.1-2l3-2z"/><path fill="none" stroke="#333" stroke-width="0.90" stroke-dasharray="1.2 1.6 0.6 1.2" d="M329.7 96.5l5.1 1.8l1.4 2.2l1 2l.2 2l-1.2 5l-1 2l-1.4 1.3l-5 .7l-5-.7l-3.3-3.3l-1.3-4l.3-5l4.3-3.3l5.9-.7z"/><path fill="none" stroke="#000" stroke-width="0.55" stroke-linejoin="round" d="M368.3 27l-.5 1l-5 2.5l-.8 1l-.2 1.1l1 1.4l4 1.5l4-.4l6-1.7l3 1.5l2.2 2.6l1.8 .8l1-.7l.3-1.1l-.3-1.3l-2.5-2.7l.8-3l-.1-2.5M349.8 40.2l-.9 1.3l0 2l.9 1.4l2 .3l1-.7l.6-1l-.3-3l-1.3-.9l-2 .6M249.3 40.7l2.5-.9l.3-1.3l-.3-1.1l-2.5-.7M403.3 45.8l-2.5-.7l-4.2 .4l-1.8 1.6l-1.3 3.4l1.2 6l1.1 1.4l4 1.2l3.5-1.3M249.3 51.3l4.3 2.2l3.2 .2l3-2.6l1.6-2.6l-1.2-4l-1.4-1.7l-2-.8l-4-.5l-3.5 1.1M331.8 51.4l-4 1.7l-4 2.9l-3.9 .5l-2.1 1.5l-1.2 2.5l-.7 3l1.9 2.8l3 1.2l4-.2l4-3.6l2-.9l3-.4l2-1l1-1.9l.2-5l-1.2-2.4l-1-1l-3 .3M269.8 52.5l-4 2.3l-1.3 1.7l.1 3l1.6 5l4 3l3.6 .2l3 1.2l1 .7l2.8 3.9l2.2-.1l1-1.5l.7-2.4l-.7-5l-1.8-4l-3.3-4l-5.9-4.1l-1-.5l-2 .6M395.8 64.1l-1 .9l-.5 1.5l-.1 1l.5 1l3.1 1.3l2.5-.3l-.1-2l-1.6-3l-1.8-.8l-1 .4M332.8 70.2l-1.2 1.3l-.3 5l-.5 .7l-4 0l-1 .5l-2.3 2.8l-.6 2l.5 3l1.4 3l2 2.2l3 1.4l2.3-.6l.9-1l1.3-3l0-5l-2.1-4l.6-.5l2 .5l1-.3l2-1.6l.4-1.1l.2-2l-1.3-2l-2.3-1.3l-2 0M316.8 74.3l-1.1 1.2l.2 1l.9 1.1l2 .7l.4-1.8l-.3-1l-2.1-1.2M286.8 74.9l-1 1.2l0 1.4l2 1.9l1 0l1-.9l-.1-2l-.9-1.4l-1-.4l-1 .2M379.8 84.4l-1.7 1.1l-.5 2l.3 1l1.9 1.1l1.9-1.1l.6-2l-.5-1.6l-1-.6l-1 .1M282.8 88.2l-7 6.4l-3 4.1l-5.5 5.8l-.5 1l.4 1l1.6 1.7l4.2 1.3l7.8 .7l5-2.5l2.8-3.2l1.4-7l-2.1-7l-.7-1l-1.4-.8l-2-.7l-1 .2M327.8 95.3l-2 .6l-3 0l-2 .8l-2.6 3.8l-.4 2.6l-1 .5l-5 .8l-1 .7l-1.4 2.4l.1 4l4.3 7.9l1 .7l2 1l3 2.4l4 1.4l3.2 2.6l2 1l3.8 1.5l3-.1l2.1-1.4l3-5l3.4-3l3.5-5.2l1.2-2.8l0-4l-1-4l-1.2-1.3l-4-1l-4-2.7l-2-2.3l-1-.5l-5-1.8l-3 .4M382.8 113.4l-4 1.2l-.9 .9l-.1 1l2 1.2l2 .1l2-.7l1-.9l.5-1.7l-.8-1l-1.7-.1M255.8 117.5l-1 1l0 1l1.9 2l1.1 .2l1.3-1.2l.1-2l-1.4-1.1l-2 .1M264.8 127.3l-3 3.4l-.2 1.8l.7 3l2.9 5l4.6 1.6l7.1 4.4l1.5 3l2.1 11l.6 1l1.7 .7l1-.7l1.9-4l1.6-5l2.8-5l.2-2l-.8-3l.2-2l-.7-2l-1.2-.8l-9-.8l-2-1.4l-1.5-3l-4.5-5l-3-.8l-3 .6M378.8 136.4l-4 3.5l-1 1.9l-.4 3.7l.4 1.1l2 2.2l4 3l2 .1l2.9-1.4l2.1-2l1.4-3l0-3l-.4-2.1l-1.2-1.9l-4.8-2.3l-3 .2M403.3 148.2l-1.5 .6l-1.2 2.7l1.2 2.6l1.5 .8M350.8 162.3l-.7 1.2l.1 2l.6 1.3l1 .5l2 .5l2-.2l1.9-2.1l.1-2l-1.1-1l-3.9-.8l-2 .6M299.8 167.8l-1 1.7l.5 1l1.5 .6l1.7 1.4l1.3-.5l.3-.5l-2.4-3l-.9-.8l-1 .1M343.8 168.5l-.2 2l.8 1l1.4 .4l1-.5l.7-1.9l-.4-1l-1.3-.5l-2 .5M341.8 175.3l-1.1 1.2l.1 1l.9 1l1.1 .6l1.8-.6l.6-1l-.4-1.4l-1-.8l-2 0M382.1 181l-.7-1.5l-3.6-2.8l-1-.4l-5-.2l-1 .2l-1.5 1.2l-.9 2l0 1.5M285.8 29.5l2 0l1.6 1l.5 2l-.5 1l-3.6 1.3l-1-.2l-1-.9l-.8-2.2l.8-1.2l2-.8M297.5 58.5l2.3-.9l3.4 .9l2.4 2l1.2 2.5l.4 2.5l-.4 2l-2 3.6l-2 1.2l-5 .2l-1-.3l-3.6-4.7l-.3-3l1.2-3l.7-1.1l2.7-1.9M251.6 63.5l1.2-.4l1 .4l0 1l-1 .5l-1-.4l-.2-1.1M381 67.5l1.8-.3l1.1 .3l1.5 1l.6 1l-.2 2.4l-.8 1.6l-1.2 .8l-2.1 .2l-.9-.5l-1.2-1.5l-.2-3l.2-1l1.4-1M403.3 78l-5.5-.1l-1-.5l-.5-1.9l.2-1l1.2-1l5.6-.9M403.3 86.8l-1.9-.3l.2-1l1.7-.1M299.4 104.5l1.4-.4l2 .2l2.1 1.2l.6 2l-.3 2l-.4 1.4l-1 1l-3 .2l-1.4-.6l-.8-1l-.4-3l.4-2l.8-1M366.2 106.5l2.6-.2l.6 1.2l-.3 1l-1.3 .4l-1.6-.4l-.6-1l.6-1M396.5 115.5l2.3-.6l1.8 1.6l1 2l.2 1l-.8 3l-2.2 2.4l-2-.3l-2.6-4.1l.6-3.2l1.7-1.8M343.8 125.5l2-.9l1.7 .9l.8 2l-.5 2l-1 .6l-1 0l-2-1l-.3-1.6l.3-2M249.3 132.6l3.5-.2l1 .4l2 2.4l.8 3.3l-1.3 3l-1.5 1.5l-4.5 .5M322.5 141.5l1.8 0l3.5 1.3l3-.1l2.4 .8l1.9 1l.7 .9l.1 2.1l-2.1 2.3l-5 .8l-1.4-.1l-2.6-2.7l-3-2.3l-.6-2l1.3-2M306.2 147.5l2.6-.6l1.5 .6l1.5 1l.1 2l-1.1 1.1l-1 .3l-4-.7l-.8-.7l-.3-1l1.5-2M363.7 150.5l2.1-.1l2 1l2.2 4.1l-1.8 3l-4.4 1.9l-3-.9l-1-.9l-1.1-3.1l1.1-3.3l1-.8l2.9-.9M391.8 157.5l2-1l1 .1l3 .6l2.3 1.3l1.3 3l-.4 2l-1.2 2.2l-5 1.8l-2-.1l-1.4-.9l-2.2-4l.6-2l2-3"/></g>
<rect x="249.30" y="27.00" width="154.40" height="154.50" fill="none" stroke="#000" stroke-width="0.8"/>
<text x="249.30" y="190.90" font-size="7.50" text-anchor="middle" font-family="DejaVu Sans, Liberation Sans, sans-serif" fill="#262626">0</text>
<text x="246.10" y="184.90" font-size="7.50" text-anchor="end" font-family="DejaVu Sans, Liberation Sans, sans-serif" fill="#262626">0</text>
<text x="282.79" y="190.90" font-size="7.50" text-anchor="middle" font-family="DejaVu Sans, Liberation Sans, sans-serif" fill="#262626">5</text>
<text x="246.10" y="151.39" font-size="7.50" text-anchor="end" font-family="DejaVu Sans, Liberation Sans, sans-serif" fill="#262626">5</text>
<text x="316.28" y="190.90" font-size="7.50" text-anchor="middle" font-family="DejaVu Sans, Liberation Sans, sans-serif" fill="#262626">10</text>
<text x="246.10" y="117.87" font-size="7.50" text-anchor="end" font-family="DejaVu Sans, Liberation Sans, sans-serif" fill="#262626">10</text>
<text x="349.78" y="190.90" font-size="7.50" text-anchor="middle" font-family="DejaVu Sans, Liberation Sans, sans-serif" fill="#262626">15</text>
<text x="246.10" y="84.36" font-size="7.50" text-anchor="end" font-family="DejaVu Sans, Liberation Sans, sans-serif" fill="#262626">15</text>
<text x="383.27" y="190.90" font-size="7.50" text-anchor="middle" font-family="DejaVu Sans, Liberation Sans, sans-serif" fill="#262626">20</text>
<text x="246.10" y="50.84" font-size="7.50" text-anchor="end" font-family="DejaVu Sans, Liberation Sans, sans-serif" fill="#262626">20</text>
<line x1="249.30" x2="249.30" y1="181.50" y2="183.50" stroke="#000" stroke-width="0.6"/>
<line x1="247.30" x2="249.30" y1="181.50" y2="181.50" stroke="#000" stroke-width="0.6"/>
<line x1="282.79" x2="282.79" y1="181.50" y2="183.50" stroke="#000" stroke-width="0.6"/>
<line x1="247.30" x2="249.30" y1="147.99" y2="147.99" stroke="#000" stroke-width="0.6"/>
<line x1="316.28" x2="316.28" y1="181.50" y2="183.50" stroke="#000" stroke-width="0.6"/>
<line x1="247.30" x2="249.30" y1="114.47" y2="114.47" stroke="#000" stroke-width="0.6"/>
<line x1="349.78" x2="349.78" y1="181.50" y2="183.50" stroke="#000" stroke-width="0.6"/>
<line x1="247.30" x2="249.30" y1="80.96" y2="80.96" stroke="#000" stroke-width="0.6"/>
<line x1="383.27" x2="383.27" y1="181.50" y2="183.50" stroke="#000" stroke-width="0.6"/>
<line x1="247.30" x2="249.30" y1="47.44" y2="47.44" stroke="#000" stroke-width="0.6"/>
<text x="326.50" y="200.70" font-size="7.50" text-anchor="middle" font-family="DejaVu Sans, Liberation Sans, sans-serif" fill="#262626">X (nm)</text>
<text transform="translate(231.80 104.25) rotate(-90)" font-size="7.50" text-anchor="middle" font-family="DejaVu Sans, Liberation Sans, sans-serif" fill="#262626">Y (nm)</text>
<rect x="413.80" y="27.20" width="8.10" height="154.30" fill="url(#cbB)" stroke="#000" stroke-width="0.6"/>
<line x1="421.90" x2="423.90" y1="181.50" y2="181.50" stroke="#000" stroke-width="0.5"/>
<text x="425.90" y="184.20" font-size="7.50" font-family="DejaVu Sans, Liberation Sans, sans-serif" fill="#262626">−0.1</text>
<line x1="421.90" x2="423.90" y1="162.21" y2="162.21" stroke="#000" stroke-width="0.5"/>
<text x="425.90" y="164.91" font-size="7.50" font-family="DejaVu Sans, Liberation Sans, sans-serif" fill="#262626">0.0</text>
<line x1="421.90" x2="423.90" y1="142.92" y2="142.92" stroke="#000" stroke-width="0.5"/>
<text x="425.90" y="145.62" font-size="7.50" font-family="DejaVu Sans, Liberation Sans, sans-serif" fill="#262626">0.1</text>
<line x1="421.90" x2="423.90" y1="123.64" y2="123.64" stroke="#000" stroke-width="0.5"/>
<text x="425.90" y="126.34" font-size="7.50" font-family="DejaVu Sans, Liberation Sans, sans-serif" fill="#262626">0.2</text>
<line x1="421.90" x2="423.90" y1="104.35" y2="104.35" stroke="#000" stroke-width="0.5"/>
<text x="425.90" y="107.05" font-size="7.50" font-family="DejaVu Sans, Liberation Sans, sans-serif" fill="#262626">0.3</text>
<line x1="421.90" x2="423.90" y1="85.06" y2="85.06" stroke="#000" stroke-width="0.5"/>
<text x="425.90" y="87.76" font-size="7.50" font-family="DejaVu Sans, Liberation Sans, sans-serif" fill="#262626">0.4</text>
<line x1="421.90" x2="423.90" y1="65.77" y2="65.77" stroke="#000" stroke-width="0.5"/>
<text x="425.90" y="68.47" font-size="7.50" font-family="DejaVu Sans, Liberation Sans, sans-serif" fill="#262626">0.5</text>
<line x1="421.90" x2="423.90" y1="46.49" y2="46.49" stroke="#000" stroke-width="0.5"/>
<text x="425.90" y="49.19" font-size="7.50" font-family="DejaVu Sans, Liberation Sans, sans-serif" fill="#262626">0.6</text>
<line x1="421.90" x2="423.90" y1="27.20" y2="27.20" stroke="#000" stroke-width="0.5"/>
<text x="425.90" y="29.90" font-size="7.50" font-family="DejaVu Sans, Liberation Sans, sans-serif" fill="#262626">0.7</text>
<text transform="translate(452.40 104.35) rotate(-90)" font-size="7.50" text-anchor="middle" font-family="DejaVu Sans, Liberation Sans, sans-serif" fill="#262626">Order parameter</text>
<text x="224.60" y="8.80" font-size="10.2" font-weight="bold" font-family="Liberation Sans, Arial, sans-serif" fill="#000">B</text>
<filter id="blC" x="-2%" y="-2%" width="104%" height="104%"><feGaussianBlur stdDeviation="0.50"/></filter><clipPath id="clipC"><rect x="480.00" y="28.00" width="156.50" height="156.50"/></clipPath><g clip-path="url(#clipC)"><g filter="url(#blC)"><rect x="478.00" y="26.00" width="160.50" height="160.50" fill="#0048ff"/><path fill="#006cff" d="M480 28l156 0l0 156l-156 0l0-156zM626.5 162.3l-1 1.2l.1 1l1.9 1l1.8 0l1.7-1l.5-.9l-1.7-1.1l-3.3-.2z"/><path fill="#0090ff" d="M480 28l156 0l0 156l-156 0l0-156zM627.5 161.5l-1 0l-1.3 1l-.5 2l.8 .9l3 .9l2.3-.8l1.2-1l.3-1l-.8-1.1l-4-.9z"/><path fill="#00b4ff" d="M480 28l156 0l0 156l-156 0l0-156zM554.5 108.4l1 1.2l2-.1l-.3-1l-.7-.3l-2 .2zM625.5 161.4l-1.4 2.1l.4 2l4 1.3l3-1.2l1.1-1.1l-.1-1.8l-1.8-1.2l-3.2-.4l-2 .3z"/><path fill="#00d8ff" d="M480 28l156 0l0 156l-156 0l0-156zM483.5 139.5l-1 .3l-1 1.7l.7 2l1.3 .9l1-.6l1.1-2.3l-.3-1l-1.8-1zM556.5 99.5l-3 2.8l-1.1 2.2l.1 4l1 2l1 1l4 2.1l2.3-.1l4.8-2l1.7-2l.8-3l-1.4-4l-1.9-2l-2.1-1l-4.2-.6l-2 .6zM625.5 160.9l-1 .7l-.9 1.9l.2 2l.7 .6l3 1l2-.1l2-.9l1.6-1.6l-.2-2l-1.4-1.1l-2-.6l-4 .1z"/><path fill="#16ffe1" d="M480 28l156 0l0 156l-156 0l0-156zM482.5 138.4l-1.7 2.1l.3 2l1.4 2l2 .3l1.6-2.3l.2-2l-.8-1.3l-1-.6l-1-.6l-1 .4zM525.5 66l-1 1.4l.2 1.1l1.8 .5l.8-.5l.3-1l-1.1-1.7l-1 .2zM556.5 98.4l-3.2 2.1l-1.6 4l.4 4l1.4 2.7l3.1 2.3l1.9 .4l4-.2l4-2.2l1-1.1l1.2-3.9l-1.3-4l-1.9-2l-2-1.2l-4-1.1l-3 .2zM625.5 160.4l-1.7 1.1l-1 2l.2 2l1.1 1l3.4 1l2 0l3-1.5l1.2-1.5l-.3-2l-1.9-1.7l-4-.6l-2 .2zM564.5 150.3l-1.1 1.2l1.1 1.1l2 .1l2-1.2l0-1l-1-.7l-3 .5z"/><path fill="#33ffc4" d="M480 28l156 0l0 156l-156 0l0-42l.5 0l2 2.9l2 .4l1.1-.8l1.4-3l-.4-4l-2.1-2l-1 0l-2 2.7l-1.5 1l0-111.2zM483.5 64.3l-1 .4l-.3 .8l.3 1.6l1 .5l1-.3l.3-.8l-.3-1.6l-1-.6zM526.5 64.3l-2.2 1.2l-1 2l.6 2l1.6 .6l2.4-.6l3.4-3l-.1-1l-1.3-1l-1.4-.4l-2 .2zM557.5 97.4l-2 .7l-3.3 2.4l-.2 2l-.8 2l.6 4l1.5 3l3.2 2.3l2 .5l4-.3l4-2.2l1.3-1.3l1.3-4l-.3-1l-1.1-3l-3.1-3l-2.1-1l-5-1.1zM624.5 160.2l-1 .3l-2.5 3l1.7 3l1.8 .9l3 .6l2-.1l3-1.4l1.9-2l-.9-2.7l-2-1.5l-4-.5l-3 .4zM563.5 149.5l-1.1 1l-.1 1l.3 1l1.6 1l2.8 0l1.8-1l.6-1l-.8-2l-1.1-.5l-4 .5z"/><path fill="#50ffa7" d="M480 28l156 0l0 136.1l-.5 0l-3-3.9l-5-.9l-5 1l-2.5 3.2l.4 2l1 1l5.1 1.9l4-.5l5.5-3.3l0 19.4l-156 0l0-41.2l.5 0l2 2.4l2 .4l1.5-1.1l1.5-3l-.2-4l-2.8-3.1l-1 0l-1 .8l-1.2 2.3l-1.3 .8l0-110.3zM482.5 64l-1 1.5l.1 1l.9 1.4l2 .1l1-1.5l-.5-2l-1.5-.8l-1 .3zM527.5 63.3l-3 1.2l-1.7 2l-.4 2l.4 1l1.4 1l2.9 0l5.9-3l-.7-3l-2.8-1.4l-2 .2zM540.5 149.5l-1.2 1l.2 1.4l1 .8l3-.2l.1-2l-.8-1l-2.3 0zM555.5 97.3l-3 1.1l-1.1 1.1l.2 3l-.9 2l1.1 5l1.7 2.6l3.9 2.4l4 0l2.1-.6l3.7-2.4l1.3-1.9l.9-3.1l-1.4-4l-2.5-2.7l-2.1-1.3l-4.9-1.5l-3 .3zM616.5 179.3l-1 .6l0 1.2l.4 .4l1.5 0l.6-1l-.5-.8l-1-.4zM531.5 110.5l-1 1l-.1 1l1.1 1.2l2 .2l1.8-1.4l.3-1l-1.1-1.2l-3 .2zM565.5 148.3l-3.2 1.2l-.6 1l.1 2l1 1l1.7 .6l2 0l1.8-.6l1.3-1l.4-1l-.5-1.7l-2-1.4l-2-.1z"/><path fill="#6dff8a" d="M480 28l156 0l0 135l-.5 0l-3-3.3l-5-.9l-5 .9l-2.7 2.8l-.5 1l.2 1.5l1 1.5l5 2.3l5-.4l5.5-3l0 18.6l-156 0l0-40.6l.5 0l2 2.1l2 .4l1.1-.4l.9-1l1.5-3l-.5-4.9l-3-2.8l-1 0l-1 .6l-1.9 3.1l-.6 .1l0-109.6zM482.5 63.4l-1.2 1.1l-.3 1l.4 2l1.1 1l2 .1l1.1-1.1l0-3l-1.1-1l-2-.1zM528.5 62.4l-4 1.6l-2.5 2.5l-.8 2l.5 1l1.2 1l1.6 .7l2 0l7-2.5l4-4.1l0-1.7l-2-1.2l-7 .7zM541.5 148.5l-2 1l-.8 1l-.1 1l.9 1.4l1 .6l2 .1l1-.4l1.1-1.7l-1.1-2.3l-2-.7zM556.5 96.4l-4 .7l-1 .5l-1 1.6l.6 3.3l-1 2l1.1 2l.3 3l2 2.9l3.3 2.1l2.7 .3l3.4-.3l3.6-2.2l1.8-1.8l1.2-3.1l-.1-1.9l-1.1-3l-2.8-3l-2-1.3l-4-1.5l-3-.3zM615.5 178.1l-.8 1.4l0 2l.8 .9l1 .1l2-.7l.6-1.3l-.3-1l-2.3-1.3l-1-.1zM523.5 90.1l-.3 1.4l1.1 0l.5-1l-1.3-.4zM530.5 110.3l-.7 2.2l1.7 1.8l2 .3l2.6-2.1l.1-1l-.4-1l-1.3-.9l-3 .2l-1 .5zM563.5 148.3l-2 1.1l-.5 1.1l.1 2l1.4 1.5l2 .6l2.3-.1l2.5-1l1-1l.2-2l-2-2.3l-2-.5l-3 .6zM627.5 125.3l0 1.3l1 .6l0-2.1l-1 .2z"/><path fill="#8aff6d" d="M480 28l156 0l0 134.4l-.5 0l-3-3.3l-5-.8l-5.5 1.2l-2.8 3l-.3 2l.6 1.5l1.6 1.5l4.4 1.8l5-.5l5.5-2.6l0 17.8l-156 0l0-40.3l.5 0l2 2.1l2 .4l1-.3l2.6-3.4l.3-2l-.4-4l-3.5-3.3l-2 .6l-2 3l-.5 0l0-108.8zM482.5 63l-1.8 1.5l-.1 2l1.2 2l2.7 .6l1.6-1.6l-.1-3l-1.5-1.5l-2 0zM510.5 113.5l-1.3 1l-.2 2l1.5 1l1 0l1-1l.1-2l-.9-1l-1.2 0zM529.5 61.4l-5 2l-2.3 2.1l-1.6 2l-.2 1l1.1 1.9l3 1.4l2-.1l4-1.6l3-.6l4.2-4l.9-2l-.4-1l-1.7-1.3l-7 .2zM540.5 148.2l-2.4 2.3l.4 1.9l1 1.3l1 .3l3-.2l1.3-1.3l0-2l-1.3-2l-1-.4l-2 .1zM550.5 62.1l-.5 1.4l.3 1l1.2 .2l.7-1.2l-.3-1l-1.4-.4zM552.5 96.3l-2 1.2l-.5 1l-.3 1l.9 2l-.1 1.2l-1 .2l-.7-.4l-1.3-3.3l-1.1 1.3l1.4 3l2.7 1.9l.8 4.1l2 3l3.2 2.1l4 .4l3-.5l4-2.7l1.1-1.3l1.3-4l-1.3-4l-3.1-3.4l-2-1.3l-5-1.8l-6 .3zM564.5 42.9l-1.1 1.6l.1 1.4l1 1.1l2-.2l1-1.3l0-1.2l-1-1.1l-1-.5l-1 .2zM576.5 128.3l-2 1.2l-.3 1l.3 .5l2 .5l1.8-1l.3-1l-.3-1l-1.8-.2zM599.5 173.4l-1 .4l-.9 1.7l0 1l.9 1l1.2 0l1.2-1l0-2l-.4-.9l-1-.2zM613.5 74.4l-.1 1.1l1.1 1l1-.1l.9-.9l.1-1.1l-1-.9l-2 .9zM627.5 75.7l-1 1.8l1 1.2l1 0l.9-1.2l0-1l-.9-1l-1 .2zM630.5 41l-1.1 1.5l.4 1l1.7 .5l1-.5l.4-1l-.4-1.2l-1-.6l-1 .3zM523.5 88.8l-1.6 1.7l.6 1.8l2 .3l2.2-1.1l.2-1l-.7-1l-1.7-.9l-1 .2zM530.5 109.5l-1.3 2l0 1l2.3 2.4l2 .1l1-.4l2.2-2.1l.1-1l-1.3-2.1l-2-.4l-3 .5zM551.5 139.4l-1 .1l-1 1l.5 1l1.5 .6l1.3-.6l.2-1l-1.5-1.1zM564.5 147.4l-2.8 1.1l-1 1l-.4 2l1.2 2.5l2 .9l2 .1l2-.2l2.7-1.3l1-2l-.1-1l-1.4-2l-2.2-1.2l-3 .1zM563.5 91.1l-.1 1.4l1.1 1.1l0-1.4l-1-1.1zM615.5 177.3l-1 1l-.4 1.2l.3 3l1.1 .6l2 0l2-1.6l.1-2l-1.1-1l-3-1.2zM628.5 123.4l-1 .1l-.8 1l-.3 2l.7 2l1.4 .6l1.3-.6l.7-2l-1-2.4l-1-.7z"/><path fill="#a7ff50" d="M480 28l156 0l0 133.7l-.5 0l-3-3.1l-5-.9l-5 1l-1 .7l-2.8 3.1l-.2 2l.8 2l1.2 1.2l5 2.1l5-.5l5.5-2.3l0 17l-17.9 0l0-.5l2-2l.1-2l-1.7-1.7l-3-1.2l-1.3 .9l-.6 2l.1 3l.7 1.5l-134.4 0l0-40l.5 0l2 2l3 .2l1.1-.7l1.4-2l.9-3l-.4-4l-3-3.4l-1-.5l-2 .4l-2 2.7l-.5 0l0-68l2.5 1.7l2 .2l1.6-1.1l.5-2l-.2-2l-.9-1.4l-1-.6l-2 0l-2.5 1.4l0-35.9zM509.5 113l-1.1 1.5l-.3 2l1.4 1.3l1 .4l2-.4l.7-1.3l-.1-3l-1.6-.8l-2 .3zM534.5 60.5l-5 .2l-6 2.8l-3.6 4l.1 2l.5 .9l3 1.8l2 .2l6-2.1l2-.1l1-.7l4-4l.8-2l-.2-1l-1.6-1.5l-1-.5l-2 0zM541.5 147.4l-1 .2l-2.4 1.9l-.5 2l.9 1.9l1 .9l3 .3l2-.9l1-2.2l-1.3-3l-.7-.6l-2-.5zM549.5 61.5l-.4 1l.1 2l.9 1l1.4 .1l1.3-1.1l.1-2l-1.4-1.4l-1-.1l-1 .5zM556.5 95.4l-6 .5l-1 .6l0 1.2l-1 1.3l-1-.6l-1 .9l-.3 2.2l1.3 2.3l3 2.1l.6 3.6l2.4 3.4l4 2.2l6-.4l3.4-2.2l1.9-2l1.2-3l0-2l-1.2-3l-4.3-4.5l-5-2.3l-3-.3zM559.5 89.5l-2 1.7l0 1.2l1-.3l1.8-1.6l.4-1l-1.2 0zM564.5 41.8l-1.5 1.7l-.4 2l.3 1l1.6 1.3l2 0l1.3-1.3l.7-2l-.4-1l-1.6-1.4l-2-.3zM576.5 127.4l-2 .9l-1 1.4l0 1.7l1 .7l3-.1l1.1-.5l.6-1l0-2l-.7-1l-2-.1zM598.5 172.9l-1.6 1.6l-.1 2l.7 1.4l2 .4l1-.4l1-1.4l0-2.3l-1-1.4l-2 .1zM613.5 73.4l-1 1.1l0 1l.7 1l1.3 .8l2-.7l.6-1.1l-.1-2l-1.5-.6l-2 .5zM627.5 74.9l-1 .8l-.6 1.8l.6 1.3l2 .7l1.2-1l.4-2l-.6-1.3l-2-.3zM630.5 40.1l-1 .7l-.7 1.7l.7 1.5l2 .7l2-1.2l.2-1l-1.2-2.4l-2 0zM523.5 87.9l-2.4 2.6l.4 1.6l1 1l1 .2l3.4-.8l.9-1l-.4-2l-1.9-1.5l-2-.1zM534.5 108.5l-4 .3l-1.5 1.7l-.4 2l.4 1l1.5 1.4l2 .7l2-.4l2.8-2.7l-.2-2l-1.6-1.7l-1-.3zM549.5 139.2l-.8 1.3l.2 1l1.2 1l2.4 .2l1.3-1.2l.1-1l-1.4-1.6l-1-.3l-2 .6zM562.5 147.5l-1.7 1l-1.1 2l.6 3l1.2 1.3l2 .5l3 0l2-.4l2.5-1.4l.9-2l-.1-1l-2.3-2.8l-3-1l-4 .8zM563.5 90.2l-.9 .3l-.1 1l1 2.7l1 .6l.2-3.3l-1.2-1.3zM626.5 123.5l-.7 2l.3 3l1.4 1.4l2 0l1.4-1.4l.3-3l-1.7-2.5l-2-.2l-1 .7z"/><path fill="#c4ff33" d="M480 28l156 0l0 132.6l-.5 0l-1.8-2.1l-1.2-.7l-5-.7l-6 1.7l-3 3.2l-.5 2.5l.5 1.8l1 1.2l4 2.8l1 .2l6-.3l3.4-1.7l2.1-.5l0 16l-16.6 0l1.5-2.5l.2-2l-1.6-1.9l-3-1.8l-2 .4l-1.2 1.3l-.6 3l.3 3.5l-80.4 0l.4-2.5l-1.3-1l-.2-1l-1-.5l-.7 .5l1 2l.4 2.5l-25.5 0l-.2-.6l-.1 .6l-25.4 0l0-39.6l2.5 1.8l3 .3l2.2-2l1.3-2l.5-2l-.3-4l-3.7-4.6l-1-.4l-2 .3l-1.2 .7l-.8 1.6l-.5 0l0-65.2l2.5 1.1l2 .3l2-1.5l.5-2.3l-.5-3l-2-1.7l-2 .2l-2.5 1.1l0-35.1zM509.5 112.1l-1.5 1.4l-.6 3l2.1 2.2l1 .3l2-.4l1-.9l.5-1.2l-.1-3l-1.4-1.5l-3 .1zM536.5 59.5l-7 .3l-7 3.1l-3.6 4.6l.1 2l.6 1l2.9 2.2l2 .6l7-2.2l2 .1l1-.5l2-2.5l2.4-1.7l1.1-2l.1-2l-.6-1.1l-2-1.7l-1-.2zM541.5 146.3l-1 .2l-3.4 3l-.4 2l1.8 3l1 .7l3 .2l2-1l1.5-2.9l-1.5-3.6l-3-1.6zM549.5 60.1l-1.3 1.4l0 3l1.3 1.7l2 .2l1-.5l1-1.4l.1-2l-.4-1l-1.7-1.3l-2-.1zM559.5 89.1l-2 1.3l-.7 1.1l-.5 3l-6.8 1l-2 1.6l-1.7 3.4l1.1 3l.9 1l1.7 .7l1 1.2l.3 3.1l1.7 2.8l4 2.7l3 .4l4-.4l3.7-2.5l1.8-2l1.4-4l-1.4-4l-3.5-4.1l-2-1.6l-5.1-2.3l0-1l2.1-1.7l1 .4l2 3.1l1 .3l.5-1.1l.2-2l-.7-1.9l-2-1.2l-3-.3zM563.5 41l-1 1.5l-.6 3l.2 1l1.4 1.8l2 .5l1-.2l2.2-2.1l.8-2l-.3-1l-2.7-2.8l-3 .3zM576.5 126.5l-2.2 1l-1.8 3l1 2l2 .7l4-1.1l.8-1.6l-.1-2l-.7-1.3l-1-.8l-2 .1zM597.5 172.2l-1.7 2.3l-.2 2l1.9 3.5l1 .5l3-3l.4-3l-.4-1.8l-1-.9l-3 .4zM604.5 43.1l-.4 .4l.4 1.1l1.1-1.1l-1.1-.4zM614.5 72.4l-2 .9l-.7 2.2l1.7 2.3l2 .4l1.9-1.7l.4-3l-1.3-1.2l-2 .1zM626.5 74.4l-1 1.7l0 1.9l1 1.6l2 .7l1.9-1.8l.5-2l-.3-1l-1.1-1.5l-1-.4l-1 0l-1 .8zM630.5 39.2l-1 .4l-1.2 1.9l.1 2l.9 1l2.2 .9l4-1.9l-.1-1l-1.9-2.6l-1-.7l-2 0zM522.5 87.3l-1.9 2.2l-.3 1l1.2 2.5l1 .7l2 .1l3-.5l.9-.8l.5-2l-1.4-2.2l-3-1.5l-2 .5zM530.5 108l-1 .7l-1.3 1.8l-.6 2l.3 1l1.6 1.6l2 1l3-.1l3.6-3.5l-.1-2l-2.5-2.5l-5 0zM532.5 93.5l.1 1l2 2l-.1-2.5l-1-.6l-1 .1zM549.5 138.4l-1 .8l-.5 1.3l.7 2l2.8 1l2.3-1l.8-1l0-1l-1.1-1.7l-2-1l-2 .6zM563.5 146.5l-2.5 1l-1.8 2l-.1 3l1.4 2.6l1 .5l4 .4l5-1.3l1.5-1.2l.9-2l-.1-1l-2.6-3l-2.7-1.2l-4 .2zM626.5 122l-1.3 2.5l-.2 4l.5 1.4l1 1l3 .2l2-1.8l.6-3.8l-1.1-2l-1.5-1.6l-3 .1zM631.5 140.4l-.7 2.1l.7 1.1l1-.1l.7-3l-.7-.7l-1 .6z"/><path fill="#e4ff13" d="M480 28l156 0l0 12.4l-1.5-.6l-2-1.6l-2 0l-2.2 1.3l-.7 3l1 2l2.9 1.6l1 .1l2-1.3l1.5-.3l0 38l-1.5 0l-1 .6l-.4 1.3l.3 3l.6 1l2 .6l0 51l-4.9-2.6l-2.6-.1l-2.9 1.1l-2.8 5l.7 2.1l5 2.3l2.9-.4l4.6-2.3l0 12.9l-7.5-1.7l-6 1.4l-1.4 .7l-2.8 3l-.7 3l1 3l3.9 4l2 1l2 2l5-.3l1-.9l.6-1.8l1.4-1.8l1.5-.3l0 14.6l-15.3 0l1.8-4.1l0-1.7l-2-2.2l-4-1.2l-6.5 1.7l-2.5 1.8l-.4 3.2l.3 2.5l-5.8 0l-.9-3.5l1.5-4l-.3-5l2.7-8l0-1l-3.1-6.2l-1-.9l-5-2.3l-2.6 1.4l-.3 1l.9 4l2 2.5l1.5 4.5l-1.2 5l-2.1 4l1.4 5l.1 3.5l-45 0l1-3.5l-3.7-3.1l-1 .1l-1.1 1l-.2 1l.2 2l1.3 2.5l-12.9 0l1.5-3.5l-.7-2l-1.2-1l-3.9-.6l-1.2 .6l-1 2l0 2l1.2 2.5l-20.8 0l1.1-2.5l-.3-3.1l-1-.8l-4-.2l-2 1l-.5 1.1l.4 2l1.1 1l.5 1.5l-12.2 0l.5-1.5l1.7-2l.1-1l-.6-1.1l-1.4-.9l-2.6-.5l-2 .5l-2 2l1.4 4.5l-5.9 0l0-39.3l3.5 2.1l2.7-.3l1.2-1l2-3l.9-3l-.5-5l-.9-3l-1.9-3l-1.5-.5l-2 .2l-2 1.9l-1.5 .6l0-60.8l3.5 1.1l2-.3l1.2-1.2l.7-3l-.4-3l-1.6-2l-1.9-.4l-3.5 1.4l0-34.5zM501.5 34.4l-1.6 1.1l-.6 1l.2 3.6l1.9 2.4l2.1 .2l1.8-1.2l.6-1l.5-3l-3.6-3l-1.3-.1zM508.5 111.4l-1.4 2.1l-.3 3l2.1 3l1.6 .7l1-.2l2-1.2l.9-1.3l.7-2l-.4-2l-2.2-2.2l-2-.3l-2 .4zM517.5 29.5l-1.7 1l-.6 1l-.4 4l.7 2.6l2 .7l2-.9l1-2.4l-.3-4l-.7-1l-2-1zM525.5 46.3l-2 .7l-1.2 1.5l.2 1.5l1 1.4l4 .5l2.4-.4l1.6-2.6l-.4-1.4l-2.6-1.4l-3 .2zM529.5 30.4l-.6 1.1l.5 1l1.1 .4l1.3-.4l.6-1l-.8-1l-2.1-.1zM536.5 41.5l.2 1l.8 .1l0-1.1l-1 0zM546.5 44.7l-1 .9l-.7 1.9l.7 1.9l1 .4l1-.2l1-.9l.4-1.2l-.4-2l-2-.8zM558.5 89.1l-1.5 1.4l-1.5 3l-1 .8l-4 .3l-3 1.6l-1.7 3.3l-.2 2l1.7 3l2.2 1l.7 1l.4 3l1.9 3.2l4 2.5l4 .5l3-.5l4-2.7l1.7-2l1.5-4l-1.5-4l-4.6-6l1-4l-.7-2l-1.4-1.3l-2-.6l-3 .5zM563.5 39.9l-1.6 1.6l-.8 4l.2 1l1.2 2.1l2 1l2 .2l1.8-1.3l1.4-2l.6-2l-.2-1l-2.6-3.4l-1-.5l-3 .3zM575.5 61.8l-1 2.2l-.1 1.5l1.1 .4l1.1-1.4l-.1-1.7l-1-1zM580.5 71.5l-1.1 2l.1 2.1l1 2l1-.1l1-1.2l.6-1.8l-.6-2.4l-1-.8l-1 .2zM586.5 58.1l-.3 1.4l.3 .3l1-.2l.3-1.1l-1.3-.4zM591.5 75.4l-3 1.2l-1.2 .9l-.2 1l.9 2l2.5 1.3l2-.3l1.3-2l-.3-2.7l-2-1.4zM595.5 52.3l-1.8 1.2l-.3 1l.4 1l1.3 1l1.4 .5l2-.1l2.7-1.4l.3-1.3l-2.1-1.7l-1.9-.4l-2 .2zM603.5 38.3l-1.3 3.2l.5 3l.8 1.1l3 .1l1.1-1.2l.1-5l-2.2-1.8l-1 0l-1 .6zM612.5 72.4l-1 1.3l-.4 1.8l.4 1.3l1.5 1.7l2.5 .8l2.6-1.8l.6-1l.2-2l-.9-2l-2.5-.9l-3 .8zM620.5 53l-.6 .5l.6 1.3l1 .2l.8-.5l0-1l-1.8-.5zM627.5 71.2l-2 2.5l-.6 3.8l1.6 2.9l2 .6l2-1.7l1.2-2.8l-1.9-5l-1.3-.7l-1 .4zM482.5 162.3l-1.7 1.2l.1 1l1.6 .4l1.1-.4l-.1-2l-1-.2zM483.5 107.5l-1.4 1l-1 3l3.4 2.5l1 .4l1-.3l1.2-1.6l-.5-3l-1.6-2l-2.1 0zM503.5 74.5l-2 2.7l0 1.3l1.9 2l2.8 0l1.3-1.3l.1-3.7l-1.1-1.1l-3 .1zM511.5 133.5l-1 .1l-1 1.9l1.5 2l1.5 .3l1-.7l.1-1.6l-.5-1l-1.6-1zM515.5 45l-1 .8l0 1.4l2 .5l.8-1.2l-.4-1l-1.4-.5zM531.5 54.3l-10.8 5.2l-2.2 1.6l-4 1.2l-3 1.6l-1.1 2.6l.1 1l3 2.2l4 .5l5 3.6l3.5 1.7l1.5 2l1 .4l3-.2l2-1l2.2-2.2l1.8-3.3l2.7-1.7l1.7-2l.6-4.8l-2-4.2l-2.1-2l-.9-2.4l-3 .8l-3-.6zM548.5 59.3l-1.4 2.2l.3 4l2.1 1.5l3-.2l1.6-2.3l.1-2l-.7-1.9l-3-1.8l-2 .5zM550.5 137.4l-2 .9l-.9 1.2l-.1 3l2 1.3l3 .2l2.2-1.5l.5-1l-.1-2l-2-2l-1.6-.4l-1 .3zM562.5 146.1l-2.5 1.4l-1.8 2l-.2 1l.4 3l1.3 2l1.8 .7l4 .4l5-1.2l2.5-1.9l.9-2l-.3-2l-3.7-3l-3.4-.8l-4 .4zM561.5 66.4l-.6 2.1l.6 1.3l1 .4l2-.4l.4-1.3l-.4-1.5l-1-.8l-2 .2zM574.5 126.3l-2.5 3.2l0 2l.5 1l1.4 1l1.6 .4l4-.2l2-1.2l.4-3l-1.4-3l-2-.9l-4 .7zM593.5 108.3l-1.5 1.2l.8 1l1.7 .5l4 .2l1.1-.7l.5-1l-1.6-1.6l-5 .4zM605.5 126.4l-1 .2l-.5 .9l.4 3l1.1 .5l1.4-.5l.7-2l-.1-1l-2-1.1zM625.5 89.5l-1.2 1l1.2 1l1.1-1l-1.1-1zM628.5 119.2l-3 1.3l-.7 1l-.7 7l.4 1.8l1 1.6l1 .7l2 .2l1.7-.3l1.3-1.7l1.4-4.3l-1.4-5l-1.7-2l-1.3-.3zM631.5 117.5l.6 1l1.2 0l-.1-1l-.7-.5l-1 .5zM513.5 84.3l-.9 .2l.2 1l.7 .3l.4-.3l-.4-1.2zM518.5 179.5l-1.1 1l1.1 .7l1.2-.7l-1.2-1zM521.5 86.4l-2.1 3.1l.1 1l2 3.2l2 .6l3-.1l7 3.6l2.2-.3l.6-1l-.8-3l-1-1.5l-3-2.6l-2.7-1.9l-3.3-1.4l-2-.2l-2 .5zM538.5 82.4l-2 1l-1.1 1.1l.1 1.2l2.3 1.8l1.7 .5l4-.1l1.3-.4l.9-1l.4-2l-1.4-2l-3.2-.9l-3 .8zM563.5 82.4l0 1.1l1 1.3l2.6-.3l.4-1.3l-1-1.2l-2-.3l-1 .7zM593.5 142l-1 .5l-.2 1l.2 2.8l1 .7l1-.5l.5-3l-.3-1l-1.2-.5zM530.5 107l-1 .5l-2 2.2l-.8 2.8l.2 1l1.6 2.3l4 1.5l2-.2l4-3.5l.5-3.1l-.5-1.1l-2.2-1.9l-1.8-.5l-4 0zM538.5 144.3l-2 2.7l-1.6 3.5l2.6 5l1 1l4 .2l2-1.5l1.7-2.7l.2-2l-.5-2l-2.4-4.1l-3-.6l-2 .5zM600.1 164.5l.4-.5l1 .3l0 1.2l-1 .5l-.4-1.5z"/><path fill="#ffea00" d="M480 28l36.9 0l0 .5l-1.8 1l-.9 2l-.1 5l.4 1.6l1 1.3l2 .4l2-.9l1.2-1.4l.8-2l.6-4l-.7-1l-2.8-2l0-.5l117.4 0l0 11.5l-3.5-2.1l-2-.2l-2 1.2l-.9 1.1l-.6 3l1.1 2l3.4 2.3l1 .3l3.5-1.9l0 36.4l-2.5 .7l-1.1 2.2l.5 4l1.1 1l2 .3l0 49.5l-6.4-2.8l-3.8 1l-1.5 1l-2.3 5l.5 2l1 1l5 2.3l2.7-.3l4.8-2.5l0 11.2l-7.5-1.4l-6 1.4l-2 1.2l-2.8 3.1l-.6 3l.7 3l4.7 4.9l2 1.1l2 1.9l5-.3l1.1-.6l1.9-3.5l1.5-.5l0 13.5l-14.4 0l1.8-4.5l-.3-2l-1.6-2l-4-1.4l-4.5 .4l-6.5 3l-.4 1l.7 5.5l-4.1 0l-1-4.5l1-3l0-5l.4-2l2.6-6l-.1-1l-3.8-7l-5.3-3.3l-1 0l-2.3 1.3l-1.2 1l-.1 1l.6 3.6l2.3 4.4l1 4l-1.3 4.6l-1.4 2.4l1.1 6l.1 3.5l-43.3 0l1.2-3.5l-4.7-3.8l-1 0l-1.8 1.8l-.8 3l-2.4 1.8l-.1 .7l-7 0l1.4-2.5l-.2-3l-2.1-1.7l-4-.7l-2 .9l-1 2l-.1 2.5l1.4 2.5l-19.1 0l.9-3.5l-.7-3l-1.4-1.1l-4 0l-2.2 1.1l-1.2 2l.3 2l1.7 2.5l-10.1 0l1.5-2.5l.1-3l-2.1-2.1l-2-.3l-3 .5l-2.5 1.9l-.4 1l1.2 4.5l-4.8 0l0-18.9l3.5 .6l1-1.2l.1-1l-1.1-2l-1-.2l-2.5 1.3l0-17.6l3.5 2.1l3-.3l1.5-1.3l1.9-3l1-3l-.4-6l-1.1-3l-1.9-2.6l-1-.5l-3 0l-3.5 2.5l0-17.9l3.5 2.5l2 .6l2-.9l1.1-2.7l-.8-3l-2.3-1.7l-3 .1l-1.4 .6l-.6 1.4l-.5 0l0-38.3l3.5 1.3l2-.5l1.8-1.9l.6-3l-.4-3.2l-2-2.5l-2-.4l-3.5 1.5l0-33.9zM494.5 110.1l-1 2.4l1 1l1.4 0l.9-1l-.3-1.6l-1-1l-1 .2zM500.5 34.1l-1 .8l-.9 1.6l.1 4l.8 1.6l1 .8l1 .6l2 0l3-2l.6-1l.5-3l-.5-1l-4.6-3l-2 .6zM508.5 110.1l-1 .8l-1 2.2l-.3 3.4l2.3 3.6l2 .9l1-.2l3-2.3l1.1-2l.2-2l-.9-2l-2.4-1.9l-4-.5zM514.5 44.5l-1 2l.2 1l1.4 1l2.4-.3l.7-1.7l-.7-1.8l-2-.6l-1 .4zM524.5 29.7l-.7 .8l.7 1.1l.7-1.1l-.7-.8zM526.5 45.4l-3.7 1.1l-.9 1l-.3 2l.9 1.8l1 .9l3 .7l4-.7l1.6-2.7l0-2l-3.2-2l-2.4-.1zM528.5 30.2l-.7 1.3l.4 1l1.3 .9l2 .1l1.3-1l.3-1l-.6-1.2l-2-.6l-2 .5zM535.5 41.5l1 2.3l1 .1l.6-.4l.4-2l-1-.9l-1-.1l-1 1zM542.5 30.5l-.9 1l-.1 1l1 1.1l1-.3l.9-1.8l-.9-.8l-1-.2zM545.5 43.5l-1 1l-.7 3l1 2l1.7 1l2.2-1l.7-1l.2-2l-1.2-2l-1.9-1.1l-1 .1zM559.5 88.3l-2 .9l-3 4.4l-4 .6l-3 1.5l-1.4 1.8l-1.2 4l1.8 3l3.2 2l.4 3l1.6 3l4.6 2.9l3 .7l4-.7l4-2.6l1.9-2.3l1.7-4l-1.6-4l-3.9-5l-.3-1l.8-4l-.7-2l-2.9-2.3l-3 .1zM563.5 39.2l-2.4 2.3l-.9 4l.2 1l.9 2l1.2 1l3 1.4l1-.1l2-1.2l2-2.7l.4-1.4l-.2-2l-3.2-4.3l-1-.3l-3 .3zM574.5 61.2l-.9 4.3l.6 1l1.3 .3l1.5-1.3l.2-3l-.7-1.4l-1-.4l-1 .5zM578.5 37.3l-1.3 1.2l.3 .7l1 .5l1.3-1.2l-1.3-1.2zM581.5 70.5l-2 .9l-1.4 2.1l1.3 4l1.1 .9l1-.1l1-.9l1-1.4l.4-1.5l-.4-2l-1-1.5l-1-.5zM586.5 40.9l-1 1.5l0 1.4l1 .9l1.9-.2l.4-1l-.3-1.3l-1-1.2l-1-.1zM589.5 75.2l-3.1 2.3l.2 2l.9 1.5l2 1.2l2 .4l1-.3l1.7-1.8l.3-3.4l-.9-1.6l-1.1-.7l-1-.2l-2 .6zM596.5 51.3l-2.8 1.2l-.9 1l-.3 1.2l.8 1.8l2.2 1.2l2 .2l4-1.8l.8-1.6l-.8-1.6l-2.5-1.4l-2.5-.2zM603.5 37.4l-2 3.8l.1 2.3l1.9 2.8l3 .4l1-.5l1-1.6l0-5.1l-2-2.1l-2-.4l-1 .4zM613.5 71.4l-2 1.2l-.9 1.9l0 2l1.9 2.5l3 1l3.9-2.5l.4-1l-.2-3l-2.1-2.1l-2-.4l-2 .4zM619.5 52.4l-.5 1.1l.5 1.7l2 .8l1.4-.5l.6-1l-.1-1l-.9-.9l-2-.6l-1 .4zM627.5 70.2l-2.6 3.3l-.4 4l1.3 3l1.5 1l1.2 .1l1-.4l1.6-1.7l1.3-3l-1.9-5.2l-1-1.1l-2 0zM504.5 73.4l-2.5 1.1l-1.6 3l.1 1l1.4 2l3.6 .9l1.8-.9l.8-1l.2-4l-1.8-2l-2-.1zM509.5 133.4l-.8 2.1l.8 1.9l2 1.3l2-.4l1-1.8l-1-2.7l-2-1.2l-2 .8zM531.5 53.5l-15 7.4l-2 .3l-3 1.4l-1 .9l-.8 4l3.8 3.2l4 .4l2 1.1l8 6.5l4 .1l1-.4l3-2.5l2-2.9l2.9-1.5l.8-1l1.9-3l.5-4l-.9-3l-3.5-5l-.7-2.5l-1-.4l-2 .8l-4 .1zM548.5 58.3l-2 2.6l.1 4.6l.7 1l1.7 1l3.5 0l1.3-1l.8-2l.1-2l-.5-2l-2.7-2.4l-1-.3l-2 .5zM551.5 136.4l-3 1.3l-1.5 1.8l-.3 3l.4 1l1.4 .8l4.1 .2l1.9-1.1l1.4-1.9l.3-2l-1.1-2l-3.6-1.1zM562.5 145.4l-3.7 2.1l-1.4 2l.2 4l1.9 2.7l6 1l5-1l2.7-1.7l1.2-2l.3-2l-.3-1l-1.9-2l-4-2.1l-6 0zM562.5 65.2l-1.9 1.3l-.6 2l.8 2l1.7 .8l2.7-.8l.5-2l-.2-1.3l-1-1.4l-2-.6zM575.5 125.2l-2 1.2l-1.7 2.1l-.5 2l.6 2l.8 1l1.8 .8l5 .3l1-.4l2.3-2.7l-.5-4l-1.8-2.1l-5-.2zM578.5 46.9l-.3 .6l.7 1l1.4 0l.2-1.1l-1-.9l-1 .4zM586.5 57.1l-1 .7l-.2 1.7l.4 1l.8 .5l1-.3l1-.9l.3-1.3l-.9-1l-1.4-.4zM593.5 107.3l-2 .9l-.5 1.3l.5 1.4l2 .8l5 .4l1.4-.6l1.4-2l-.4-1l-2.4-1.5l-5 .3zM599.5 65.3l-1.7 1.2l-.1 1l.8 1.2l1 .4l1-.3l.9-1.3l-.9-2l-1-.2zM603.5 126.5l-.2 3l1.1 2l2.1 .2l1-.7l1.2-1.5l.2-1l-1-2l-2.4-1l-2 1zM611.5 99.2l-1.1 1.3l.4 1l1.7 0l.8-1l-.4-1l-1.4-.3zM618.5 97.2l-1.1 1.3l.1 1l1 .6l1-.5l.4-1.1l-.4-1.2l-1-.1zM624.5 89l-1.1 1.5l.4 1l1.7 1l1-.3l1-1.7l-.4-1l-1.6-.8l-1 .3zM631.5 116.2l-2 2.1l-4 1.4l-1.2 .8l-.4 1l-.6 3l.2 5l1 2.3l2.6 1.7l2.4 .1l1-.5l1.9-2.6l1-3l0-4l.4-1l-.3-2l1.4-2l-1.4-2.3l-1-.4l-1 .4zM513.5 83.4l-1 .1l-.9 1l.9 1.7l1 .5l1.3-1.2l-.3-1.5l-1-.6zM517.5 179.1l-.8 1.4l.7 1l1.1 .4l1.4-.4l.6-1l-.3-1l-.7-.5l-2 .1zM522.5 85.3l-2 .7l-1.8 3.5l.2 1l2.6 3.8l5 .5l7 4.1l2-.4l1.5-1l.2-1l-.7-2l-1-2.4l-1-1l-5.7-4.6l-3.3-1.3l-3 .1zM538.5 81.4l-2 1l-1.8 2.1l-.1 1l.6 1l2.3 1.7l2 .5l5-.1l2.6-2.1l-.1-3l-1.5-1.5l-4-1.1l-3 .5zM548.5 76.1l-.9 .4l-.4 1l1.3 .9l1.2-.9l-1.2-1.4zM565.5 80.4l-2 .6l-1.4 1.5l1.8 3l2.6 .4l1-.3l.8-1.1l0-2l-.8-1.4l-1-.7l-1 0zM593.5 141.2l-1 .3l-1 2l.2 3l1.8 1.5l1-.4l1-1.1l.4-2l-.3-2l-1.1-1.1l-1-.2zM618.5 132.3l-1 .9l0 1.3l1 1.1l1-.1l.9-1l.1-1l-1-1l-1-.2zM525.5 156.9l-.7 1.6l.7 1.1l1 .2l1-.8l0-1.5l-1-.9l-1 .3zM530.5 106.1l-1.9 1.4l-1.8 2l-.6 2l0 2l1.3 2.4l3 1.8l2 .5l3-.6l2.9-2.1l1.1-2l.3-3l-.3-1.4l-1.1-1.6l-1.9-.9l-6-.5zM538.5 143.3l-1 .6l-1.8 2.6l-1.4 3l.1 2l3.1 5.1l2 .9l3 0l2-1.4l2.2-3.6l.3-2l-.4-3l-1.7-3l-1.4-1l-3-.5l-2 .3z"/><path fill="#ffc800" d="M480 28l29.8 0l.7 1.3l2.5 1.2l.9 9l.6 .7l2 .5l2-.3l2-1.7l3-5.4l3-.7l4 1.5l2-.6l1-1l.6-1l0-1l-.6-.5l-4-.9l-2 .7l-1-.3l-.8-1.5l90.8 0l0 .6l1 .1l.1-.7l18.4 0l0 10.4l-2.5-1.4l-3-.6l-3 2.2l-1.1 3.9l1.3 2l4 3l1.6 0l2.7-1.7l0 20.5l-.9 .2l-.7 1l1.6 1.1l0 12.2l-1.5 .1l-1 .6l-1 1.1l-.5 1.9l.5 4.5l1 1l2.5 .4l0 14l-.6 .1l-.7 1l.3 1l1 .6l0 10l-2.5-1.8l-2 .2l-2 1.9l-5 2l-1 .9l-.9 4.2l.2 5l1.4 3l2.3 1.5l2 .3l2-.4l1-1.1l2.7-5.3l.3-3.1l1.5-.2l0 14.6l-6.5-3l-5 1.4l-2 1.2l-3-.7l-1.1 .8l-.5 5l.6 .8l2-2.1l1 3.3l.8 1l6.2 3l3-.3l4.5-2.3l0 2.4l-.7 .2l-.2 1l.9 .7l0 5.4l-7.5-1.7l-7 2.1l-4.3 4.5l-.6 3l.1 2l.8 1.6l4.2 4.4l4.8 3.6l5.6-.6l1.5-1l1.3-3l1.1-.4l0 12.9l-13.7 0l1.7-4.5l-.1-2l-2.4-2.8l-4-1.3l-5 .6l-7 2.9l-.7 1.6l1.3 5.5l-2.6 0l-1-4.5l.8-2l.2-7l2.8-7l0-2l-1.4-3l-3.3-4l-2.2-1l-2.9-2.2l-2 .7l-3.3 2.5l.7 5l2.2 5l-.8 2l.2 2l-1 2.8l-1-.7l-.3 .9l.6 1l1.8 8l0 3.5l-41.7 0l1.2-3.5l-3.6-2.4l-2-1.9l-1-.1l-2 1.6l-1.1 2.8l-2.4 2l-.6 1.5l-5.3 0l1.6-3.5l-.2-2l-.8-1l-2.2-1.3l-5-.7l-1.8 1l-.9 2l-.1 3l1.4 2.5l-17.1 0l.1-5.5l-.9-2l-1.7-1.2l-5 .5l-3 2.7l-.2 1l.5 2l1.5 2.5l-8.3 0l1.2-2.5l0-3l-1.7-2.7l-2-.7l-5 .5l-1 .6l-1.6 3.3l1.2 4.5l-4.1 0l0-8.8l4.5-.2l.8-.5l.3-1l-1.1-1.1l-4.5-1.4l0-5.2l3.5 .7l1.2-1l.4-2l-.6-1.8l-1-1l-1-.4l-2.5 .6l0-15.6l3.5 2.1l2 0l2.2-.9l3.8-6l.2-5l-1.6-5l-2.6-3.3l-4-.3l-3.5 2.2l0-16.4l3.5 2.4l2 .6l2.4-1.2l1.3-3l-.6-3l-2.1-1.8l-6.5-1.5l0-3l.5 0l.6-1.7l-.6-2.1l-.5 0l0-27.3l1.4 .4l1.1 1l-.2 2l1.7 3l-.2 1l-1 1l0 1l.7 1l1 .4l1.3-1.4l-.3-1.4l-.9-.6l.5-4l-.3-2l3.2-3l.3-2l-.6-5l-1.8-2l-2.4-.7l-3.5 1.4l0-33.2zM488.5 37.2l-.8 .3l0 1l-2.2 .8l-.5 1.2l-.3 2l.8 1.9l1 .5l3.8-5.4l0-1l-1.8-1.3zM494.5 109.4l-1.2 1.1l0 3l1.2 .6l2 .1l1-1.6l-.3-2.1l-.9-1l-1.8-.1zM500.5 33.5l-2 1.9l-.5 2.1l.2 4l1.9 2l1.4 .6l2-.1l4-1.9l2-1.6l2 0l.7-1l.2-1l-.9-1.5l-5-1.6l-4-2.6l-2 .7zM515.5 43.3l-1 .3l-1 1.2l-.5 2.7l1.5 1.5l3 0l1.4-1.5l0-2l-1.4-1.7l-2-.5zM524.5 45.4l-2.7 1.1l-.8 1l0 2l2 3l5 2l-3.5 1.4l-8 4.3l-6 1.3l-.6 1l-.8 5l4.4 4.2l3-.2l2.4 1l6.6 6.3l2 .7l4 .1l3.4-2.1l3.6-4l2 .2l2-1l2-.3l.2-.9l-.7-2l.1-7l-.8-3l-3.3-4l-1.5-3.9l-4 1.3l-3-.4l1.4-4l-.1-1l-.9-1l-3.4-1.6l-4 .5zM535.5 40.2l-.8 1.3l.6 2l1.2 1.2l1 0l1.5-1.2l.3-2l-.8-1.2l-3-.1zM541.5 30.3l-.6 1.2l.3 2l1.3 .9l1-.1l1.4-1.8l.2-1l-.7-1l-.9-.4l-2 .2zM552.5 53.4l-2.2 3.1l-3.1 2l-1.4 2l-.1 5l.5 1l2.3 1.5l3 .3l2-.5l1.5-2.3l-.1-5l-2-3l.1-1l2.3-2l.3-1l-1.1-.4l-2 .3zM556.5 34.1l-.7 1.4l.7 1.5l1 .2l1.5-.7l-2.5-2.4zM564.5 38.4l-2 .4l-1.8 1.7l-1.5 5l-.1 2l.3 1l1.3 1l5.8 2.7l3-2.3l1.6-2.4l.6-2l-.9-3l-2.3-3.1l-2-1.2l-2 .2zM574.5 60.2l-1 1.3l-.6 4l.6 1.2l2 .6l1-.5l1.1-1.3l.1-3l-1.2-2.3l-2 0zM577.5 37l-1 1.5l.2 1l1.8 .8l1.7-.8l.1-2l-.8-.7l-2 .2zM584.5 37.7l.5 6.8l1.5 .9l2 .1l.8-1l-.1-3l-.6-1l-4.1-2.8zM590.5 74.1l-4 2.4l-.8 1l-.1 1l.6 2l.9 1l2.4 1.3l2 .4l1.7-.7l1.3-1.5l.7-3.5l-.6-2l-1.1-1l-1-.4l-2 0zM594.5 51.4l-2.4 2.1l-.2 2l.6 1.6l3 2.1l2 .1l4-2.5l1.2-1.3l-.2-2.3l-3-2.3l-3-.2l-2 .7zM604.5 36.4l-1 .3l-1.5 1.8l-1.2 3l.1 2l1.1 2l1.5 1.4l4 .3l1.7-1.7l0-6l-1.7-2.2l-3-.9zM613.5 59.4l-1.4 2.1l-.3 2l.7 1.1l2.5 1.9l1.5 .1l3-3l0-1.1l-2 1.1l-1.8-3.1l-.2-1.4l-1-.2l-1 .5zM627.5 69.1l-3.3 4.4l-.2 4l1.5 3.5l1 .8l2 .3l1.6-.6l1-1l1.8-3l.2-1l-1.3-4l-1.3-2.2l-1-.9l-2-.3zM486.5 155.4l-1.6 1.1l-.4 1l1 1l1.2 0l1.2-1l.1-1l-.5-.8l-1-.3zM502.5 73.4l-1.3 1.1l-1.3 2l-.3 2l1.4 2l1.4 1l4.1 .2l2.2-2.2l.3-4l-.5-1l-2-1.6l-4 .5zM511.5 83.3l-.5 1.2l1.1 2l1.4 .6l1.6-.6l.3-2l-.9-1.6l-1-.2l-2 .6zM517.5 178.4l-1.2 1.1l-.1 1l.5 1l1.8 .8l2.2-.8l.5-1l-.7-1.7l-1-.6l-2 .2zM540.5 80.3l-3.9 1.2l-2.1 2.1l-.5 1.9l.3 1l2.2 1.7l2 .9l6 .2l3-1l2-1.8l-.1-1l-1.9-3.2l-3-1.5l-4-.5zM544.5 43.1l-1.5 3.4l.1 1l2.1 3l2.3 .3l1.9-1.3l.6-1l-.1-3l-2.4-2.3l-2-.6l-1 .5zM547.5 75.9l-.8 1.6l.6 1l1.2 .5l1.3-.5l.5-1l-.4-1l-1.4-1l-1 .4zM555.5 83.1l-1.1 1.4l0 1l1.9 3l-.1 1l-1.4 3l-1.3 1l-4 .5l-2.8 1.5l-1 1l-1.2 3.4l-1 .1l-.6-.5l-.2-2l-1.2-2.1l-1-.7l-.8 .8l1.4 4l0 4l-.6 1l-3 1.1l-3.8-.1l-2.1-1l1.9-4l2-.7l2.6-2.3l.1-1l-2.7-5.5l-6-5l-3-1.2l-3-.6l-3.4 1.3l-2 4l1.8 4l1.6 1.4l5 .5l3.5 2.1l.8 1l-1.4 1l-.4 1l.5 1.5l1.9 2.5l-1.9 1.3l-2.6 2.7l-1.2 3l-.1 2l1.9 3.3l3 2l2 .5l3-.9l3-1.7l1.4-2.2l1.3-6l1.7-1l.5-2l1.1-1.2l1 .1l4 2l.4 3.1l1.7 3l1.9 1.5l4 2l3 .4l3-.6l4-2.7l1.4-1.6l3.3-6l1.3-.3l.5-.7l-.5-.6l-1 .1l-1 .9l-4.4-5.4l-1-2l-.2-1l.6-3.8l.7-.2l.5-1l-1.2-1.3l-4-2.5l-4.9-.2l-.3-4l-.8-.6l-1 .2zM563.5 64.4l-2 .4l-.7 .7l-1.6 3l.7 2l1.6 1.3l3-.2l1.5-1.1l.3-2l-.4-2l-1.4-1.8l-1-.3zM577.5 46.3l-.5 .2l-.1 1l2.8 3l.8 2.2l1.5-.2l1.5-1l.5 1l-.9 3l1.4 1.3l.4 3.7l1.6 1.5l1 .1l2.8-2.6l-.2-1l-1-1l-2.2-1l-.8-1l-.4-5l-3.2-.6l-2-3.7l-1-.3l-2 .4zM592.5 106.3l-1.7 1.2l-.7 2l.3 2l1.1 .7l7 .6l2-.8l1.3-1.5l0-2l-2.3-1.9l-5-.7l-2 .4zM596.5 59.6l-.7 .9l.3 1l1.4 .9l1-.2l.5-.7l-.5-1.1l-2-.8zM599.5 64.5l-2 .8l-.7 1.2l.5 2l2.2 1.4l2-1l.5-1.4l-.5-2.2l-2-.8zM603.5 125.5l-1 2l.3 3l.6 1l1.1 .8l1 .1l2-.6l2.1-2.3l.2-1l-.9-2l-2.4-1.6l-3 .6zM606.5 103.6l-.8 .9l.8 1l1.1-1l-1.1-.9zM615.5 70.4l-4 1.4l-1.1 1.7l-.6 2l.3 2l2.4 2.3l2 .9l1 0l2-1l2-1.5l1-1.7l-.1-3l-.6-1l-2.3-1.9l-2-.2zM619.5 51.3l-1.3 2.2l.6 2l3.3 2l.6 1l.8 .3l1-.3l.9-1l0-1l-.9-3l-3-2.2l-1-.3l-1 .3zM624.5 88.3l-1.4 1.2l-.1 2l1.5 1.4l2 .2l1.5-1.6l-.2-2l-1.3-1.2l-2 0zM506.5 108.4l-1 7.1l.4 2l2.6 3.4l2 .9l1-.2l3.1-2.1l2.3-4l-.1-1l-1.9-3l-2.4-1.7l-5-1.7l-1 .3zM525.5 156.2l-1.3 1.3l.2 2l1.1 1l2-.2l.6-.8l.1-1l-.7-2l-1-.5l-1 .2zM550.5 136.2l-3.6 2.3l-1.6 3l.2 2.1l-1-.8l-6-.2l-1.7 .9l-1.4 2l-1.7 4l-.1 2l2.5 5l1.4 .9l1 .5l4 .3l2-1.2l2.2-3.5l.7-2l.2-4l-.7-2l.6-.4l2 .2l4-.5l2.7-2.3l1.5-4l-.5-2l-1.7-.8l-5 .5zM561.5 145.3l-3.8 2.2l-1 2l.6 5l2.2 2.6l6 .7l5-.9l3.6-2.4l1.1-2l.1-2l-.8-1.8l-2-2l-3-1.7l-6-.4l-2 .7zM560.5 75.3l-.3 1.2l1.3 1.2l1 0l.9-1.2l-.9-1.2l-2 0zM563.5 80.1l-2.4 1.4l-.4 1l2.8 3.6l4 .9l1.4-1.5l0-3l-1.4-2.3l-1-.6l-3 .5zM580.5 70l-3 2.5l-.4 2l2.4 3.9l2 .6l2.5-2.5l.5-3l-.7-2l-.9-1l-2.4-.5zM587.5 63.8l-.9 1.7l.3 2l.6 .7l1-.2l1-1.1l.3-1.4l-1.3-2l-1 .3zM592.5 140.9l-1.5 1.6l.1 4l1.4 1.9l1 .4l1-.3l1.8-2l.4-3l-1.2-2.1l-1-.6l-2 .1zM611.5 98.3l-1.6 1.2l-.5 1l-.2 1l1.3 1l2-.3l1-.6l.5-1.1l-.5-1.4l-1-.8l-1 0zM618.5 96.4l-1 .6l-.7 1.5l.7 2l1 .2l1.5-1.2l.5-2l-1-1.4l-1 .3zM510.5 131.9l-1.8 1.6l-.6 3l1.4 2.5l.7 .5l3.3-.5l1.4-1.5l-.1-3l-2.3-2.2l-1-.5l-1 .1zM577.5 124.5l-3 .4l-1 .8l-2.3 2.8l-.4 3l1.7 2.6l2 .8l6 .1l2-1.9l.9-1.6l.2-1l-.5-3l-1.6-2.4l-1-.5l-3-.1zM617.5 131.6l-1 .9l.6 3l1.4 1.2l1 .3l1.3-1.5l.6-2l-.5-1l-1.4-.8l-2-.1zM519.4 28l3.2 0l0 .5l-1.1 1l-2-.9l-.1-.6z"/><path fill="#ffa700" d="M480 28l12.1 0l.4 3.9l1 .4l1.6-1.8l.3-2.5l1.6 0l0 .5l1.5 .7l.7-1.2l4.3 0l.8 1.5l4.2 .7l4 3.2l0 2.2l-2-1.4l-2 .7l-2-.1l-4-3.3l-.1-1l-.9-.7l-1 .2l-.7 .5l.4 2l-2 2l-1.4 6l-.3 .7l-1.1 .3l.1 1.2l2 .1l2 1.3l3 .8l3.5-1.4l4.5 .3l2-.6l.5 .3l-.8 4l1.3 2l4 .4l2-1.4l2.2 4l3.6 2l-3 1l-.7 1l-5.1 3.2l-2-.1l-1-1l-1 0l-3 1.4l-1 1.5l.5 3l-.5 2l.7 2l2.2 2l1.1 2.3l2 .7l2-1.1l2.6 1.1l.8 1l1.6 4.8l2 1.2l-.5 3l-3.8 2l-1.6 4l.9 3.5l-1.4 1.5l.4 1.2l1 .4l1-1.3l3 .9l3 .1l3 1.7l-.8 3l1.4 4l-3.5 5l-.8 3l.2 2l.6 1l3.4 4l-.5 1.6l-2.6 .4l.2 1l1.4 .4l2-.8l2 .2l3-2.4l4-1.2l1-.7l1.9-3.5l.4-3l4.4-3l.4-1l.9-.7l1 .1l.3 1.6l2 4l1.1 1l4.6 2.4l4 1.3l3-1l4-2.8l4-5l4.4-2.9l-.3-2l-5.1-.7l-3.1-3.3l-1-3l.1-2l1-.8l2 .8l2-.7l2.3-2.3l-.2-2l-2.1 2.7l-2-.4l-1.4-1.3l-.4-1l.8-1.6l1-.7l2 0l.3-.7l-1.3-1l-1-3l-3-3.9l-3 .4l-.6-.5l1.1-1l.3-1l-.3-1l-1.5-1l-3-.7l-2-1.1l-1 .1l-.3 .7l.3 1l2 .9l1 2.1l0 1l-2 1.5l-2.5 .5l-2.3 4l.1 3l1.8 3l-.6 2l-1.5 .7l-3.3-.7l-.7-1l.6-2l2.1-3l0-1l-.9-2l-2.8-2.6l-6-1.5l-5 1.3l-2.1 1.8l-.7 1l-.4 2l1.2 2.4l2 1.4l5.1 1.2l-1.1 1.6l-2 .7l-1-.3l-2-2.9l-2.2-1.1l-3.7-4l1.4-1l0-1l-.5-.3l-.8 .3l-1.2 1.3l-1-.3l0-2l1-1l3 0l8-4l2 0l1-1.2l3.2-1.8l.7-2l-.5-3l.6-.4l4 1l5.1-.6l.4-1l-.2-4l-.7-5l.7-2l1.7-2l1-.2l2 .8l1.2 2.4l-.8 3l1 2l-.1 1l-3.1 4l-.3 1l.6 2l1.5 1.7l4 .1l1.9-.8l.6-1l.1-3l-.5-2l.9-.3l2 .9l.4-1.6l-.6-1l-1.8-.6l-3-2l-1.7-2.4l.3-1l2-3l4.4-2l2-2.6l1-.5l3-.6l2.9 1.7l.9 3l-.8 3l3 1.4l2-.1l1.8 5.7l-.7 2l-.1 4l-1 .3l-3-.4l-4 2.5l-.8 1.6l.4 2l.4 1l4 3.2l2-.1l2-1.6l.1 2.5l1.1 1l5.8 2.4l1 0l2-1.8l.8-1.6l.7-4l.5-.8l1.3-.2l.7-.7l.2-1.3l-.2-.9l-1-.4l-3 1.6l-3-.5l-2 .5l-3 1.8l-1 .1l.1-3.2l3.3-2l2.5-4l-.9-3.2l1-.9l1 .5l.7 .6l0 3l2.3 .8l3 3.7l1 .1l2-1.2l.9-1.4l.2-5l.9-.9l2.4-1.1l.5-1l-.9-.9l-1-.1l-1 0l-2 1.2l-1-.2l-1-1l.4-1l2.6-1.8l.9-2.2l-.7-2l-4.2-3.7l-.6 .7l-2.4 .5l-3 2l-1 1.5l-1 3.3l-2-.4l-1.3-.9l-.1-5l-.8-2l-.8-.5l-3-.2l-.6-1.3l-1.4-1l-2-.4l-3 .4l-1 1.8l-1 .7l-.5-.5l-1.6-5l-2.9-4.3l-2-1.1l-3.3 .4l-1.8-2l-2.1-1l-2.8-2.7l-3-.9l-2-1.2l-1 .2l0 2.1l2 2.4l2.4 4.1l.6 .5l2.7 .5l.2 1l-.9 2.6l-2 1.9l-.9 1.5l-.3 1l.6 3l-.4 .8l-3.1 1.2l-3.9 4.6l-4 1l-2-1.4l-1.3-2.2l-.7-6.3l-1 .5l-2.1 2.8l-2.9 .8l-.8-.8l.7-4l-.5-1l-1.4-.9l-3-1.2l-2-.1l-4 .9l-2 .9l-2.9-3.6l2.9-2.8l3-4.5l3-1l4 .5l2-.5l3.7-2.7l.3-1l-.5-2.5l75.6 0l2.5 3.5l1.4 .7l1 0l2-1.2l1-1.5l.2-1.5l3.5 0l1.4 3.5l-.5 3l.4 .6l4.1 .4l-.1 1l-2.1 3l-.7 3l1.8 2.2l4 3.3l2 .5l2 3l.5 0l0 13.5l-1.5 .4l-2.1 2.1l2.1 2l1.5 .7l0 4l-.8 .3l-.7 2l-4.9-9l-1.1-1l-2-.1l-1 .2l-1.1 .9l1.2 2l-2.3 5l.5 4l1.3 3l1.4 .9l2 .1l3.4-1l-.4 6l.5 2l1.5 1.3l2.5 .4l0 8.5l-1.5 .2l-2.9 1.6l-.7 1l1.2 2l.4 3l1 1.2l2.5 .8l0 6.3l-3.5-1.2l-3 1.9l-7 3l-1 1.9l-.5 .1l.5 .4l.4 4.6l-.4 1.9l-1-.1l-.7-1.8l-.3-3l.9-2l-.3-1l-4.6-2.2l-1-.8l-.9-2l-3.1-2.3l-.2 .3l.3 2l2.3 4l-.3 3l2.2 3l-1.6 3l-.4 3l.4 1l2.3 1.3l1.6 3.7l.3 3l-.5 4l.6 1.6l1 1.5l5 .3l2 .6l1 1l.2 1l-1.2 1.4l-1.2 .6l-2 3l-5.2 5l-.9 2l-.4 2l.4 3l4.3 4.8l0 .7l-3-.5l-5 .8l-4 1.4l-1 0l-2.1-1.2l-.9-1.3l-.1-2.7l3.1-7.2l1-.8l1 .2l2 1.8l1-.4l1.4-1.6l.5-2l-1.9-1.8l-2 .8l-1-.4l-.5-1.6l-1.5-1.4l-1-.1l-2 1.5l-2-3l-3-.8l-1.4-2.2l-.6-.3l-3 .7l-3.4 2.6l-.6 1l.5 5l1.9 4l-.4 .8l-1.8 1.2l-1.2 2.1l-1 .8l-1.1 .1l0-2l-1.9-2.3l-1-.2l-1.5 1.5l.3 2l1.3 2l.2 2l3.6 1l3.7 4l.6 4l-.2 1.7l-2-1.2l-1 .1l-.5 1.4l.2 1.5l-31.8 0l-.9-3.7l-1-1.1l-2 .3l-2-.6l-4-3.2l-1-.3l-2 .5l-2 4.3l-2 1.2l-.9 2.6l-3.8 0l2.4-4.5l-.9-2l-2.8-1.7l-7-1.2l-3 .7l-2.7-.8l-.4-1l1.4-2l.5-2l-.7-2l-1.1-.4l-1.5 1.4l-.9 3l-1.1 2l0 1l2.5 1.3l.7 1.7l-3.7 .3l-1.1 .7l-.7 2l.8 1.4l2 .8l1 0l1.9-1.2l.7-1l-.3-2l.7-.6l1 .2l1 1l.2 2.4l1.5 2.5l-14.7 0l-.7-3.5l-.4-7l-.5-2l-1.4-.8l-1.7 .8l-.6 1l-.3 2l-3.4 .3l-4.3 3.7l-.1 1l2.4 4.5l-5.9 0l.5-5.5l-.9-4l-2.7-1.1l-3 .1l-3.5-3l.7-6l-.9-4l.7-.6l2-.3l1-.6l1.2-1.5l.5-2l-.5-1l-2.2-1.6l-1 .1l-4 4.3l-2.5-.6l0-2.9l2-1.3l.1-1l-2.1-.4l0-5.4l2.5 1.7l2 .6l2-.2l3-1.2l2 1l6 .8l2-1.9l2 0l2-2.1l1 0l4-2.6l6-2.4l1.1-1.9l.1-2l-1.2-2.7l-2-1.5l-2-.3l-2.6 2.5l-.6 4l-.8 1.3l-6 3l-2 .3l-2-.8l-2 2l-4 1.9l0-1.1l1.7-2.6l.3-3.1l1.2-.9l.3-1l-2.5-4.4l-.4-1.6l-2.6-3l-2-1.2l-3 0l-3.5 1.8l0-14.8l3.5 2.5l2 .6l3.1-1.9l1.1-2l.1-2l-.5-2l-1.1-1l-1.7-1.2l-3-1l-1.8-1.8l.2-11l.6-1.2l3-.2l.6-1.6l-.6-1.2l-1-.5l-4.5 .9l0-8.6l.5 0l4 3.4l1-.2l1.9-1.8l.2-2l-1.3-7l2.4-3l.3-2l-.7-5l-1.8-2.4l-3-1l-3.5 .7l0-10.1l1.8-.2l.3-1l-2.1-1l0-6l2.5 .4l3 5.2l1 .3l1.4-.9l3.3-4l1.4-3l-1.1-3.6l-4-.7l-2 1.3l-3 3.8l-2.5-.9l0-11.4zM493.5 71.1l-.3 .4l.8 2l.5 4.5l1 1.4l6 2.5l2 .4l3 0l2.2-1.8l.5-1l.5-4l-.3-1l-1.9-1.8l-2-.5l-3 .7l-3 2.2l-2.8-1.6l-2.2-2.4l-1 0zM506.5 47.3l-1.3 1.2l.3 1l5 3.9l2 2.6l1 .1l1.9-1.6l.1-1l-.9-1l-2.2-1l-3.4-3l-.5-1l-1-.4l-1 .2zM514.5 73.7l-1.2 1.8l-.4 4l.2 2l-2.6 2l-.1 1l1.1 2.1l2 1l1.1-.1l1.3-1l.3-2l-.8-3l1.8-4l-.5-2l-2.2-1.8zM524.5 156.1l-1.2 1.4l-.1 1l.3 2l1 1.8l3-.5l2.2-1.3l-2.2-4.6l-1-.4l-2 .6zM538.5 121.4l-1.1 3.1l1.1 .4l2.2-3.4l-1.2-.9l-1 .8zM554.5 133.3l-1 1.2l-2 .4l-4 2.3l-5 4.6l-4 0l-3 .9l-2-.9l-1 .4l-1.4 2.3l.4 .5l2-.2l.6 .7l-.2 2l-1.4 3l-1.6 1l.6 1.5l2 1.2l-.5 2.3l.5 1.5l3 1.7l1-1l1-.1l4 .7l2.5-1.8l2.6-5l2.1-6l4.8-1.5l1-.7l1.8-1.8l2.2-4.3l1.9-1.7l-2.9-1.2l-3-2.3l-1 .3zM561.5 144.3l-2 1.3l-2.7 .9l-1.2 2l.8 6l2.1 3l1 .7l6 0l5-.7l4.5-2l1.3-3l-.4-3l-3.4-3.8l-3-1.6l-3 .2l-3-.6l-2 .6zM564.5 135.2l-1.8 1.3l.8 1l4 1.8l1-.3l.3-1.5l-.4-1l-1.9-1.4l-2 .1zM570.5 119l-1.1 1.5l.9 1l2.2 1.4l1.5-.4l-.5-3.2l-2-.7l-1 .4zM547.5 75l-1.1 1.5l-.2 1l.3 .8l1 1l2 .1l1.3-.9l.2-1l-1.5-2.1l-1-.6l-1 .2zM574.5 56.7l-.5 2.8l-1.3 2l-.6 4l1.4 1.8l2 .6l1-.5l1.6-1.9l0-4l-.6-1.5l-1.9-1.5l-.1-1.5l-1-.3zM586.5 118.3l-1.8 1.2l-1.2 2.4l-1 .8l-3 1l-5 .2l-1 .8l-2.8 3.8l-.8 2l0 1l1.6 2.6l2 1.1l3.7 .3l2.3 .7l1 .1l1-.8l2.1-3l.8-2l-1.1-5l.2-1l1-1.3l3 .3l1.2-1l.3-1l-.5-2.3l-1-1l-1 .1zM593.5 103.5l-2 .8l-1.9 3.2l-.5 4l1.1 3l1.3 .1l2-1.3l5 .3l3-.8l1.3-3.3l-.8-2l-2.5-1.7l-3-.5l-3-1.8zM598.5 96.4l-1.1 1.1l.3 2l1.8 .7l2.8 2.3l1.5 2l.7 2.1l3 1.3l1.6 2.6l1.4 .3l.6-3.3l-.6-3l3.8-3l.4-1l-1-2l-2.2-.9l-4 1.1l-2 1.3l-2-2.5l-1-.6l-2-.7l-2 .2zM601.5 85.3l-.5 .2l-.3 1l.8 1l4 1.3l-1.8-2.3l-2.2-1.2zM542.5 29.4l-1 .1l-1 .9l-.3 1.1l.2 2l1.9 2l.3 1l-2.1 3.6l-5-.6l-3 .2l-.6 .8l1.6 1.4l1.8 2.6l1.2 .9l2-.2l2-1.7l2-.3l.3 1.3l-.9 2l.3 1l2.3 3l1 .6l2 .2l2.7-1.8l.8-2l-.1-1l-1.1-2l-3.8-3l-.7-4l-.9-2l1.5-4l-.2-1l-3.2-1.1zM587.5 30.4l-2.1 1.1l-.9 2.3l-1 1.2l-6.4 1.5l-1 1l-.6 2l.7 1l1.3 .3l2-.1l2-1l1 .5l1.5 1.3l.1 3l.4 .9l3 2l1-.1l1.6-1.8l.3-4l-.4-1l-2.5-2l-.5-1l.3-2l3.1-4l-1.5-1l-1.4-.1zM603.5 35.5l-1 .6l-2.2 4.4l-.3 3l2.5 3.5l4 1.4l2-.1l3.1-1.8l-1.1-1.5l-.6-2.5l.6-3.3l4-2.4l1.3-.3l-.3-.9l-3-.6l-5 .9l-4-.4zM622.5 36l-2 1.9l-1 .4l-2-.3l-.9 .5l.9 3l1 1l1 0l2.7-1l.7-1l.4-4l-.8-.5zM625.5 87.3l-2.3 1.2l-1.1 2l-.1 1l.5 1.3l3 1.4l2-.8l1.5-1.9l-.4-2l-.8-1l-2.3-1.2zM609.5 165.4l-.2 2.1l1.2 1.1l1.4-1.1l-.1-1l-1.3-1.6l-1 .5zM503.5 150.4l-3.4 1.1l-1.2 2l.6 .8l2-2.5l2 0l2 1l1-.5l0-1.8l-1-.4l-2 .3zM493.5 109.4l-.8 1.1l-.1 3l.9 1l1 .3l2 .3l1-.5l.8-3.1l-.6-2l-2.2-1l-2 .9zM498.5 97.2l-1 .7l0 1.9l2 1.1l1.7-.4l.2-1l-.9-2l-2-.3zM506.5 106.7l-1 .9l-.7 1.9l0 7l2.4 4l4.3 2.8l2-1.8l2-.6l2 1.8l1 .4l1-.3l.4-1.3l-.4-1.6l-1-.9l-2 .5l0-1.2l1-1l2-.7l.3-1.1l-2.1-3l-.2-1.6l-1-.6l-1 .2l-1.6-1l.3-2l-2.7 .7l-5-1.5zM509.5 97.2l-.3 .3l.3 .5l2.2-.5l-.2-.6l-1-.3l-1 .6zM526.5 164.2l-.4 .3l.4 .6l1 .3l0-1.3l-1 .1zM538.5 131.4l-1 .9l0 .8l2.1-.6l-1.1-1.1zM535.5 169.4l-1.5 1.1l0 1l1.5 1.2l1.3-2.2l-.3-.6l-1-.5zM542.5 160.3l-2.4 2.2l-.4 1l1.8 1.5l1 3.4l1 .9l1-.4l.5-2.4l2.2-3l.1-1l-3.8-2.6l-1 .4zM558.5 162.1l-.7 .4l-.3 1l1 2.7l1 .7l3-1.1l.8-2.3l-.7-1l-2.1-.7l-2 .3zM571.5 138.1l-.5 .4l.1 1l1.8 0l0-1l-1.4-.4zM592.5 140.2l-1.9 1.3l-.4 1l.2 4l.8 2l2.3 1.2l1-.1l2.4-2.1l.6-4l-.3-1l-1.7-1.8l-1-.5l-2 0zM593.5 131.2l-.1 1.3l1.1 .4l.4-1.4l-.4-.9l-1 .6zM603.5 123.6l-1.9 2.9l.1 3l.2 1l1.6 2.2l1 .7l1-.1l2-.9l2.3-1.9l1.1-2l-.2-1l-2.2-2.7l-5-1.2zM608.5 122.3l0 1.2l1.2 0l.4-1l-1.6-.2zM606.5 94.3l-.8 1.2l.8 .9l1-.3l.2-.6l-.2-1.3l-1 .1zM617.5 47.5l-4 .5l-.9 2.5l-1.5 2l.1 1l1.3 1.5l1 .4l1.5-2.9l1.5-.8l.9 .8l0 2l.8 2l2.3 2l-1 .2l-3-2.2l-3-1l-1 .9l-2.8 8.1l.3 1l4.5 2.5l3.2 .5l-1.2 .2l-5 2.3l-3 4.2l-1.2 .3l1.6 2l3.5 3l1.1 2l1 .7l6.4-5.7l.6-4l-1.5-3l0-1l.6-3l1.1-1l.3-1l.1-3l1.4-1.1l5.2-1.9l1.1-1l-.1-1l-8-6l-2.2-2.8l-2-.2zM499.5 167.3l-2 2l-.1 1.2l3.1 2l1-.2l2.2-1.8l-.1-2l-3.1-1.3l-1 .1zM495.5 121.4l-1 .5l-1.1 1.6l-.3 1l.4 1.7l1 .1l1.2-.8l2.8-.6l.9-1.4l.3-1l-.3-1l-1.9-.5l-2 .4zM511.5 124.2l.3 1.3l1.7 2.7l2 .3l1 .9l1.8 5.1l1.2 .7l1-.7l1.5-4l-.4-2l.4-3l-.3-1l-2.2-.6l-1.4 1.6l-1.6 .6l-4-1.9l-1 0zM540.5 171.4l.1 1.1l.9 1.5l2 1.4l.5-.9l-1.7-3l-.8-.5l-1 .4zM562.5 178.4l-.3 2.1l.4 1l1.9 .9l1.7-.9l.7-2l-.8-1l-2.6-.9l-1 .8zM603.5 148l-2.3 1.5l1.3 2.5l1 .9l3-1.9l2-.6l1-.9l-2-1.4l-4-.1zM615.5 84.4l-.3 3.1l-1.7 2.3l-2.9 .7l-.2 1l4.1 0l1.6-1l.6-3l-1.2-3.1zM619.5 93.4l-1 .4l-2.3 4.7l-.1 1l1.4 1.6l2-.2l3-6.4l-.9-1l-2.1-.1zM493.5 126.8l-1.1 1.7l.1 1.2l1 0l1.1-1.2l-.1-1.2l-1-.5zM516.5 156.3l-1.3 1.2l.2 1l2.5 0l.5-1l-1.9-1.2zM519.5 149l-.8 1.5l.8 1l1-1l-1-1.5zM520.5 143.1l-.7 .4l-.3 1l1.1 0l.4-1l-.5-.4zM515.5 162.4l-.7 1.1l0 1l1.7 0l1.3-1l-.3-1l-2-.1zM528.5 28l4.6 0l0 .5l-1.6 .3l-3-.3l0-.5zM630.2 28l5.8 0l0 8.6l-6.5-1.5l-.7-.6l0-3l1.4-3.5zM635.5 46.5l.5 0l0 2.2l-1.4-.2l.1-1l.8-1zM480 72.5l0-.7l1.3 .7l-.8 1.3l-.5 0l0-1.3zM559.7 85.5l.8-.5l1 .3l.4 1.2l-2.4 0l.2-1zM543.9 90.5l1.7 0l.4 1l-.5 .7l-1.2 .3l-.6-1l.2-1zM634.7 128.5l1.3-.5l0 10.3l-5.2-2.8l-.1-1l4-6zM620.4 130.5l.1-.7l1-.2l.5 .9l-.5 .8l-1.1-.8zM624.4 134.5l1.4 0l2 1l-2.3 .5l-1.2-.5l.1-1zM632.1 151.5l.4-.3l2 1.5l1.5 .3l0 2.9l-5.1-1.4l-.2-1l1.4-2zM480 166.5l.6 0l1 1l-1.1 1l-.5 0l0-2zM634.9 172.5l1.1-.6l0 12.1l-13 0l1.8-5.5l-.1-1l-1.3-2l-.1-1l2.2 1.9l2 .5l4-.7l3-1.2l.8-.5l-.4-2zM480 178.5l0-.6l1.8 .6l1.8 5.5l-3.6 0l0-5.5z"/><path fill="#ff8600" d="M480 28l7.2 0l-.4 2.5l.7 .7l1-.2l1 1.5l-.1 1l-2.9 .8l-4 4.4l-2.5-.4l0-10.3zM542.2 28l3 0l0 .5l-1.7 .3l-1.3-.3l0-.5zM553.2 28l8.1 0l-1.1 3.5l1.3 .3l2-2l1 .3l-.6 3.4l-.4 .5l-3.2-.5l-3.8-3.8l-2-.3l-1.3-.9l0-.5zM565.8 28l6.1 0l0 .5l-2.4 3.7l-1 .3l-2.9-3l.2-1.5zM575.4 28l3.8 0l.4 1.5l2.6 3l-1.7 .6l-4 2.7l-2.5 2.7l-.4 2l1.8 2l-.2 1l-1.7 .6l-1-1l-1.7-3.6l.8-4l4-2l.7-3l-.9-2.5zM583.5 28l2.7 0l0 .5l-1.7 .5l-1-.5l0-.5zM603.6 28l6.7 0l1.9 4.5l-.9 1l-3.8 1.2l-4.6-1.2l-.6-1l1.3-4.5zM633.5 28l2.5 0l0 7.2l-3.5-.4l-2.8-1.3l-.1-2l.9-2l1-.8l2-.2l0-.5zM620.8 30.5l.7-.6l1 .5l.7 1.1l-.7 2.1l-2 .8l-1-.8l0-1.1l1.3-2zM547.4 31.5l.8 0l-.1 1l-.6 .7l-.4-.7l.3-1zM593.7 31.5l4.8-.5l1.6 1.5l.7 1l-.1 1l-1.4 3l-4.1 3l2.1 2l-1.5 5l-4.7 5l-1.6 3l-1 0l-.5-2l.5-4l3-3l0-4l1.7-2l-2.7-.5l-2-1.2l-.7-2.3l.7-1.7l2-1.8l3.2-1.5zM505.5 32.5l1-.8l1 .4l.3 1.4l-1.3 .2l-1-1.2zM536.9 33.5l1.6-1l2.3 4l0 1l-.7 1l-2.6 .4l-7-1.4l-1 .4l-.4 .6l.2 2l4.1 4l-1.9 .3l-3-1.1l-3-.2l-4 .7l-.8-.7l-.3-2l3.1-4.5l3.7-1.5l4.3-.1l5.4-1.9zM494.8 34.5l1.1 0l.7 1l-.1 2.8l-1 .5l-1-.3l-.5-1l0-2l.8-1zM548 38.5l.5-.3l1.1 .3l1.4 2l3 2l-1.5 2l-1 .6l-3-2.6l-.7-1l.2-3zM613.5 39.5l1-.2l1 1.1l.9 3.1l-1.9 0l-1-.9l-.5-2.1l.5-1zM579.3 41.5l3.2 .4l.5 1.6l-.5 1.1l-1 .2l-5.5-1.3l-.4-1l3.7-1zM622.7 42.5l1.8 .1l1 .7l7.6 6.2l2.4 3.8l.5 0l0 10.7l-1.5 .3l-2 1.5l-2 .1l-2-.6l-2-1.6l-2.6-1.2l.5-1l2.1-.4l1.9-1.6l2.9-1l.6-1l-.8-1l-8.4-6l-3.2-4l-2-1l0-1.2l5.2-1.8zM480 43.5l0-.6l.5 0l2 1.3l.8 1.3l-.5 1l-2.8-.7l0-2.3zM499.9 45.5l1.9 0l1.7 1l1.4 5l-.2 3l.5 1l-.7 .4l-.3 1.6l.3 1.4l.9-1.4l.1-2l1-1.8l1 .2l3.1 2.6l.1 1l-3.1 2l-.9 2l1.3 3l-.3 3l2.5 3l0 1l-.7 .7l-3-1.2l-5 1.6l-2.1-.1l-1.2-1l0-1l2.2-3l.4-2l-1.3-.7l-6-.4l-1 2.6l-2 .4l-1-1.5l-.3-4.4l.5-4l1.9-4l-.1-.8l-3 1l-3-.5l-2.2 2.3l-.1 1l.8 1l-4 .4l0-7.5l4.5-.1l2-1.1l2-.3l3 1.6l1-.3l5-4.5l2.4-.2zM534.9 46.5l.9 0l.9 1l-.8 3l-1.4 .5l-.4-1.5l.4-2.8l.4-.2zM601.7 48.5l.8-.3l2 .5l2.2 2.8l-1.2 2.3l-1 .6l-.2-.9l-2.4-3l-.2-2zM541.2 49.5l.3-.5l1-.1l3 2.7l2 .4l2-.5l0 1l-2 3.2l-4 1.1l-1-.1l-1-1.2l-.7-2l.4-4zM575 51.5l2.5-.1l.6 2.1l-.6 .8l-2.8-.8l-.9-1l1.2-1zM567.4 54.5l1.1-.3l3 .9l1.6 1.4l-.1 3l-1.5 2.2l-1 .5l-3-.5l-2-1.1l-.9-1.1l-.4-2l1-2l2.2-1zM558 56.5l1.3 0l.2 1.1l-1 .6l-.7-.7l.2-1zM515.5 57.5l1-.5l1.3 .5l-1.3 1.2l-1.1-.2l.1-1zM556.7 61.5l.8-.5l2.2 1.5l-.1 2l-1.1 1.2l-1-.3l-.8-3.9zM579 61.5l.5-.7l3 .1l1.3 1.6l-.3 1.1l-3.2 2.9l-.9 2l-4.5 3l-.3 2l1.9 5.4l3.5 1.6l1.5 1.7l7.2 1.3l1.7 1l-.2 2l1.3 .8l3-.3l1.5-1.5l-1.1-2l1.6-5.9l3.6-2.1l.9-3l2.2-4l.8-3l.5-.7l1 .1l2 2.5l3 .3l1.1 .8l.5 1l-2.6 3.1l-1 .6l-4 0l-1.2 .3l-.8 1l9 6l2.5 4l.2 3l-1.7 1.8l-3 0l-3-1.5l-5-3.7l-1-.2l-1.5 .6l-.3 2l1.5 3l4.1 1l.9 1l-.1 1l-2.6 2.2l-6 .9l-4-1.6l-2.1 3.5l-.1 6l-2 3l-.3 9l-1.5 1.1l-3 .1l-2 2.5l-1 2.6l-1 .7l-1.2 0l-1-1l-.9-3l-1.1-1l-2.8-.7l-2-.1l-2 1.3l-2 .7l-.2 .8l1.2 .5l4.5 4.5l0 1l-2.5 4.1l-1 .6l-2.1 .3l-1.9 1.1l-1-.3l-2.6-2.8l-1.4-.3l-2 2.8l-2-.5l-4 .7l-3-1.6l-1 .1l-1 .7l-1 2.2l-1 .3l-1-.4l-5-4l2-2.4l3-.3l1-1.3l-1.5-1l.2-2l.7-1l-1.6-2l1-3l0-3l1.2-2.3l3-.8l1 .3l1.9 3.8l7.2 3l1.9 2.6l1-.2l7-5l4-4.6l2-.5l2 .8l1.9-.1l-.8-1l.1-1l1.8-2.1l1 0l2 1.5l1.9-1.4l.6-1l-.9-4l2.1-2l-.3-4l.9-1l3.7-2l.6-2l-.6-2.3l-3-.3l-1.8 .6l-1.9 3l-1.3 .3l-2 2.7l-2 .3l-1 .7l.7 1l3.3 1.9l1.3 2.1l.2 1l-3.5 2.3l-8-.6l-2.8-2.7l-.5-2l.3-1.7l7.7-1.3l.5-2l-.4-2l.2-1.4l1 .8l2 .6l1-.1l.7-.9l.3-6.1l-1-.4l-2 .9l-1 1l-1 3.3l-1-.1l-3.4-3.6l-.8-2l-2.9-4l-.6-2l.2-2l.6-1l1.9-2.3l1.2-.7l1.1-2l.7-.5l4 .3l1.9-1.8l.6-5zM545.5 117.4l-1.4 2.1l.4 .7l1 .1l.9-.8l.1-1.1l-1-1zM581.5 108.5l-2.5 1l3.3 3l.2 1.1l0-1.8l-1-3.3zM622.5 69.5l1-.1l.8 1.1l-.8 1.2l-1-1l0-1.2zM632.4 70.5l.1-.3l1 .3l0 1.5l-1.1-1.5zM548.8 71.5l.7-.6l4-.4l.9 1l0 3l2.8 3l-.7 .6l-4-.3l-3.9-4.3l.2-2zM488.9 73.5l1.6-.2l2 .5l.7 1.7l.4 4l.9 .7l5 1.7l2 1.4l5-.3l2-1l1.7-2.5l.3-2.2l.6 1.2l.1 2l-1.9 3l.6 2l2.6 2.5l2 .3l2-.7l.3 .9l0 3l-1.3 2l1.3 3l-1.8 3l1.5 1.3l1-.3l3-4.1l4 .3l1.3 .8l-3.3 2.2l-.6 2.8l-3.4 6l-1-.4l-1-1.8l-1-.3l-4 1.1l-3-.8l-3-1.7l-1.8 .9l.1 2l-.7 2l1.5 4l-.4 4l1.5 3l-1.2 1.4l-1 .1l-1.9-1.5l-5.1-2l1.6-3l1.4-4.6l1.4-1.4l.1-1l-.5-1.2l-3-.6l-5.5 2.8l-.5 1l.1 3l.4 1l3.1 2l.4 1.6l1 .4l-1 .7l-2-.9l-1 .1l-.9 1.1l-.4 5l.3 2l-1 1.8l-2-2l-2-.7l-3 .1l-3.5 1.4l0-13l.5 0l2.5 2.4l.1 3l1.4 2.4l4 1.1l1-.5l.4-1l-.9-3l-1.5-1l-.1-1l2.4-2l1.4-3l0-2l-2.2-2l-5.5-3l-1.2-2l.9-7l1.3-1.7l4-1.3l4 1.1l1.6-.1l-3.2-3l-1.4-2.5l-1 .3l-1-.4l-1.3-2.4l1.3-1.3l1-.1l1 .6l1-.6l.9-1.6l0-1l-1.9-1.6l-1-2l-.3-3.4l.7-1zM495.5 94.4l1 5.4l1 2.1l2 .7l3.2-1.1l.5-1l.2-3l-1-2l-2.9-1.7l-4 .6zM509.5 94.3l-2 1l-.8 1.2l-.1 1l.9 2.5l6.1-1.5l-1.1-3l-2-1.4l-1 .2zM545.3 75.5l.4 1l-.2 2.8l-2.1-.8l-.2-1l.3-1l1.8-1zM621.9 77.5l.6-.9l1.2 3.9l-.2 1.1l-2 1.8l-2.8-1.9l.3-1l2.9-3zM550.1 80.5l1.4-.2l.4 1.2l-.4 .7l-1.3-.7l-.1-1zM480 81.5l.5-.2l1 .7l1.7 2.5l.2 1l-.5 1l-1.4 .7l-1.5 .2l0-5.9zM517.4 82.5l1.1-.8l2 0l1 .6l.1 1.2l-4.1 2l-.1-3zM625.8 83.5l4.7-.6l.5 2.6l-.5 3.3l-1 .1l-3.2-2.4l-.5-3zM620.6 87.5l.9-.6l1 .6l-2 2.1l-.3-1.1l.4-1zM568.9 88.5l1.6-.6l1.3 .6l.3 1l-.6 1.5l-1 .5l-1.6-1l-.4-1l.4-1zM552.1 90.5l.5 0l.6 1l-.7 1l-1.3-1l.9-1zM635.2 92.5l.8-.1l0 5.9l-7.5 1.2l-.5 5l-4.5 4.7l-3 .4l-.7 .9l.5 2l-.8 .6l-2-.5l-3 .6l-1-.3l-.8-3.4l.4-3l1.4-4l1-1.2l3 1l1-.5l2-3.9l2-1.7l4-.6l3 .1l2-.8l2.7-2.4zM618.5 103.3l-1.3 2.2l1.3 .6l1.4-1.6l-.4-1l-1-.2zM610.7 93.5l3.8 0l1 .7l.5 1.3l-.5 2.5l-1 .1l-4-2l-.6-1.6l.8-1zM594.5 99.5l1-.6l.1 .6l3.9 1.9l1.7 2.1l.3 1.3l-3 .2l-2-.5l-2.2-3l.2-2zM524.8 102.5l.7-.9l1 0l1 2.3l-1.7 2.6l-1.3 4.4l-1 1l-1 .1l-1.2-1.5l2.3-3l.6-2l0-2l.6-1zM627.3 108.5l1.2-.9l1 .2l.5 .7l-.5 1.8l-1 .2l-1-.7l-.2-1.3zM604.3 109.5l1.6 0l.4 1l-.8 1.9l-1-.4l-.2-2.5zM633.8 111.5l2.2-.8l0 3.8l-3.5-.9l-3 1.6l-.5-.7l1.5-2.6l2 .5l1.3-.9zM622.8 112.5l1.7-.1l.9 1.1l.1 1l-1 1.3l-1 .1l-1-1.4l-.2-1l.5-1zM600.7 114.5l4.8-.8l3 2.6l.8 1.2l.2 1.5l-4 1.4l-3.3 2.1l-1.7 1.7l-4-.1l-5 3.2l-3.2 .2l-.2-2l2.1-3l.3-5l4-2.3l6.2-.7zM521.8 116.5l.7-.6l1 .3l1.9 2.3l-2.9 3.2l-1-.7l-.8-2.5l1.1-2zM506.7 122.5l1 0l.9 3l2.1 2l.3 1l-.5 .5l-1 .4l-1-.2l-1.4-1.7l-1-3l.6-2zM523.9 124.5l1.6-.8l1 0l3 1.3l2 2.4l1.8-.9l1.2-1.7l1.1 1.7l1.9 2l.5 0l-.5 .1l-3 5.5l-.9 .4l-.7 1l0 4l-4 5l-1.4 3l-1 .1l-1-.5l-.5-1.6l-1.8-2l-.8-3l.1-2l2-3.9l1-.7l7 .6l-1-.5l-3-3l-4-.7l-1.1-.8l-.6-1l0-2l1.1-2zM500.3 126.5l1.2-.4l1 .8l1.8 3.6l2.2 1.4l.4 1.6l-.2 3l-1.2 2l-5 2.3l-2-.3l-2.5-2l-.8-4l.3-3l3-2.6l1.8-2.4zM598.3 129.5l3.8 4l.5 5l1.9 2l1-1.1l1.9-5.9l2.1-1.5l1 .2l2 2.2l2 .8l2.4 4.3l0 2l-.9 3l1.2 5l-.7 1.1l-1 .3l-1-.5l-6-5.1l-3 1l-6 .7l-.9-.5l0-3l-1.1-2.4l-2-1.4l-2-.2l-5 1.1l-3 .1l-1.7 .8l-1.1 1l.7 5l-1.9 .7l-3 2l-1.8-2.7l.9-2l0-2l1.4-2l.5-2.7l3.1-1.3l1.9-4.4l1 .1l1 1.7l1 .5l1.3-.9l.5-2l1.2-.5l1 .5l1.6 2l2.4 .2l2-1.2l-.2-3l.2-.7l.8-.3zM634.6 130.5l1.4-.2l0 7.5l-1-.3l-3.1-3l2.7-4zM546.6 134.5l1.9-.8l1.1 .8l-4.1 3.1l-2 .4l-2 2.6l-4-.1l-1.4-1l-.3-2l2.7-2.4l1-.4l4 1.3l3.1-1.5zM574.7 136.5l2.8 0l.7 1l-.7 .8l-1 .2l-1-.5l-.8-1.5zM517.3 137.5l1.2 .2l.9 .8l-.3 2l-1.3 2l.9 5l-1 3l.8 3l-2.1 1l-1.9 2.2l-2 1.3l-1.1 1.5l-.2 1l1.3 3l-.3 2l-.7 .9l-2 1.5l-1-.2l-2-2.1l-1-2.1l-8.8 2l-1.2 2.5l-4 2.9l-3 .5l-1.7-.9l-.1-1l.8-1.8l1-.2l2 1.2l2-.4l.7-2.8l1-1l.4-1l-1.1-1.8l-1-1.1l-1.6-.1l.6-.7l1 .6l1 0l2-1.6l7.8-2.3l1.6-1l1.6-1.8l1.1-2.2l-2-4l.5-3l3.4-2.4l2-.7l4.9-.9l.1-2l.8-1zM560.8 139.5l1 0l.7 2l-.9 1l-1.1 .2l-.9-1.2l1.2-2zM564.9 142.5l.6-.9l1 0l1.4 .9l-.4 .9l-1 .2l-1.6-1.1zM588.3 144.5l1.2-.5l0 1.6l-2 1.2l-1 .2l-.5-.5l2.3-2zM480 146.5l.5-.3l2 2.1l.8 .2l-.8 .7l-2.5 .2l0-2.9zM551.8 146.5l2 0l.1 3l1 3l-.4 3l2.6 3l-.4 1l-3.2 .6l-2.5-1.6l-.5-2.2l-3.7 .2l-.1-1l5.1-9zM488.3 149.5l3.2-.9l4 .2l2 1.2l.5 1.5l-.5 1.1l-2 1.5l-3 .9l-3.5-2.5l-.8-2l.1-1zM522.3 150.5l.2-.7l1 .1l2 2.5l3 .3l1 .8l1.6 3l-.6 1.7l-1-.3l-1.5-2.4l-1.5-.8l-4 1.1l-.7-.3l-.5-1l1-4zM587.2 151.5l1.6 0l1.1 1l-1 2l.6 2.3l-2 .6l-1 1.3l-2 .6l-3 3.7l-4 0l-1.6 1.5l.1 1l1.5 2.3l1 .4l2-.4l.9 .7l-.5 2l.5 1l2.1 1.8l3 .3l2 2.5l2 .3l1 .9l0 1.2l-4.4 1l-.4 1l1.1 3.5l-21.9 0l0-.5l2.6-2.8l3.2-1.2l.2-1l-.4-.8l-2.6-1.2l-1-2l.2-1l2.4-1.5l3-.4l1.6 .9l.4 3l2 5.5l1 .1l1 1l1-.1l2.6-1.5l-.3-1l-2.7-2l-.9-3l-2.3-4l-1.4-.5l-2-1.8l-2 1.8l-4.4 1.5l.3 2l-.9 1.3l-1 .3l-2-1.6l-1 .6l-1.6 7.4l1.6 2.5l-3.3 0l-1.7-3.5l-1-3.1l-3 1.3l-2-.2l-1.6-1l-4.2-4l.4-6l2.7-4l2.7-2.5l2-.2l3 2.9l2 4.3l4 2.1l1 .1l1-.7l-.7-2l.5-5l-1.8-2l-.4-1l.4-.4l6-1l2 .2l4-1.1l3 .2l1.4-.9l.4-1l-.7-2l.1-1l.8-.6l7 2.3l.4-.7l-.3-1l.6-1zM609.7 153.5l.8-.7l1 .1l.7 1.6l-.7 .8l-1-.4l-.8-1.4zM618.1 154.5l.8 0l.4 2l-1.8 2.3l-1 0l-1.7-2.3l3.3-2zM486.5 161.5l1 .2l.6 .8l-.6 1.3l-1-.3l0-2zM531.2 163.5l1.3-.7l2 0l3 2.7l-.2 1l-3.8 1.2l-2.2-.2l-.8-.5l-.3-1.5l.1-1l.9-1zM515.9 166.5l1.6-.3l.9 1.3l-.7 4l-1.2 1.2l-2-.6l-1.4-1.6l.5-3l2.3-1zM606.4 166.5l1.1 .6l.2 1.4l-1.2 1l-1-1l.9-2zM527.1 167.5l1.4 0l1.3 1l-.7 3l.4 .8l1-.2l1 .5l2 1.9l-2.3 0l-1.8-1l-.2-1l-.7-.2l-3 1.2l-1-.6l.8-4.4l1.8-1zM611.2 171.5l3.3-.9l.2 .9l-1.2 .4l-2.3-.4zM496.8 174.5l.7-.3l1.5 .3l-.1 1l-1.4 1.1l-1-.2l-.2-.9l.5-1zM513.6 176.5l1.9-.5l1.3 .5l-1.9 3l.7 2l.9 .9l2 .8l4-.8l1.2 1.6l-10.7 0l-.4-3.5l1-4zM632.4 176.5l3.6-.1l0 7.6l-3.6 0l-.9-1.5l-2-1.2l-1.7-1.8l-.2-1l.8-1l4-1zM480 179.5l.5-.3l1 .4l1.1 1.9l.4 2.5l-3 0l0-4.5zM624.8 181.5l.7-.8l.7 .8l.6 2.5l-3 0l1-2.5zM497 182.5l.5-.4l1 .6l.5 1.3l-2 0l0-1.5zM536.8 183.5l.7-.9l1 .6l0 .8l-1.7 0l0-.5z"/><path fill="#ff6400" d="M480 28l4.6 0l.7 3.5l-.6 3l-2.2 3.1l-2.5-.3l0-9.3zM567.7 28l2.6 0l0 .5l-.8 1l-1 .4l-.8-1.9zM604.5 28l4.9 0l.8 4.5l-1.1 1l-1.6 .4l-3.4-1.4l-.4-1l.8-3.5zM631.6 29.5l.9-.1l3.5 1.4l0 2.7l-3.5 .4l-2-.7l-.3-1.7l1.4-2zM592.6 32.5l3.9-.5l2 .2l1.1 1.3l0 1l-1.8 3l-2.3 1.4l-5 .4l-2-1.5l0-1.8l1.1-1.5l3-2zM536.7 36.5l.8-.3l.8 .3l.4 1l-1.2 .4l-.9-.4l.1-1zM524.4 38.5l2.1-.8l1 1.8l-.1 2l-.9 .3l-3-.9l-.1-1.4l1-1zM621.1 43.5l2.4-.2l2 .8l6.7 5.4l2.3 3.1l.3 .9l-.3 1.6l-1 .9l-2-.2l-2.6-1.3l-5.4-4l-3.6-5l.1-1l1.1-1zM497 47.5l1.5-.7l3-.2l1.1 .9l1.4 4l-.3 4l-1.8 6l-1.4 1.7l-2 .8l-4.2-.5l-2.8-1.8l-.5-1.2l.8-5l1.5-4l3.7-4zM542.2 50.5l.3-.2l2 1.5l2 .8l.9 .9l-.7 1l-3.2 .8l-1-.4l-.7-2.4l.4-2zM480 51.5l0-.6l3.5 .4l.6 1.2l-.2 1l-1.4 1.4l-2.5-.2l0-3.2zM566.2 55.5l2.3-.5l3.8 1.5l.2 2l-1.1 2l-1.9 .8l-3-.8l-1-.8l-.6-1.2l0-1l1.3-2zM634.4 58.5l1.6-.4l0 4.6l-1.5 .1l-1.5 1.7l-1.5 .7l-3-.8l-1.2-1.9l.8-2l2.4-.7l3 .5l.9-1.8zM501.8 69.5l.7-.9l1 0l.8 1.9l-2.2 1l-.9-1l.6-1zM604.4 69.5l1.1-.8l2.6 .8l.7 1l-.4 1l-2.9 .3l-1.1-.3l0-2zM569.5 72.5l1-.5l2 .1l2 3.5l.5 3.9l-.5 1.7l-1 .7l-3-.1l-1-.7l-1.4-2.6l-.3-2l.3-2l1.4-2zM489.5 75.5l1-.4l1.3 .4l.7 2l-1 1.5l-1.7-1.5l-.3-2zM601.4 76.5l2.1 .1l7.1 3.9l3 5l-.1 2l-.8 1l-2.2 .3l-3-1.2l-6-4.4l-4.2-1.7l-.7-1l.5-2l4.3-2zM494.3 81.5l2.2-.1l2.7 1.1l1.4 2l.9 2.9l1 .5l.6-.4l1.4-2.8l2-.4l1 .4l5.5 4.8l0 1l1 2l-.5 1.7l-3-2l-4-.1l-.8 .4l.2 2l-1.4 1.2l-1-.5l-3-3.1l-4 .8l-3-1l-2.3-2.4l-.4-3l1.1-3l2.4-2zM480 83.5l0-.8l1.3 .8l.1 1l-.9 1.1l-.5 0l0-2.1zM583.4 84.5l2 0l-1.9 1.1l-.1-1.1zM627.1 84.5l1.4-.9l1 .1l.8 .8l0 1l-.8 1.3l-1-.1l-1-.7l-.4-1.5zM570.4 88.5l1.1 1l-1 1.3l-.8-.3l-.5-1l1.2-1zM592.7 88.5l2.8-.6l1.5 .6l.3 3l-.8 1.5l-2 .1l-2.7-1.6l0-2l.9-1zM488.2 93.5l1.3-.2l4 1.5l1 .9l1.1 2.8l.7 5l-1.6 3l-2.2 1.3l-2-.2l-6-3l-1.5-2.1l.1-3l1.2-4l3.9-2zM587.2 94.5l2.3-.9l.7 .9l-1.9 5l.8 2l-.2 2l-2.4 1.8l-1-.9l-.9-2.9l.2-1l2.6-2l-.7-3l.5-1zM514.2 95.5l.3-.4l1 .5l.3 .9l-.3 .7l-1-.1l-.3-1.6zM569.7 96.5l1.8-.5l4-.1l4.3 3.6l-.7 1l-3.6 1.1l-5 0l-2-1.6l-.8-1.5l.1-1l1.9-1zM623.2 97.5l1.3-.2l1.8 1.2l.8 2l.2 3l-.3 1l-3.5 3.8l-1 .5l-2-.2l-1.4-1.1l1.8-3l-.5-3l1.1-2.5l1.7-1.5zM509.6 100.5l2.9-.6l2 .7l1.4 1.9l0 1l-1.4 2l-3 .8l-3.3-.8l-1-1l-.2-2l2.6-2zM596.1 101.5l1.4-.4l1 .3l.8 2.1l-.8 .7l-1 0l-1-.6l-.6-1.1l.2-1zM584.6 106.5l.9-.7l1 .3l.7 2.4l-.7 3l-1 .4l-1-.3l-1.3-2.1l.3-2l1.1-1zM545.3 110.5l2.2-.3l1 .7l.4 1.6l-.7 2l-1.7 .5l-2-.2l-.5-2.3l.3-1l1-1zM570.6 110.5l.9-.6l2-.1l2 .8l4 .6l1.4 1.3l.3 1l0 3l-1.7 1.5l-1-.1l-6-2l-5.6-.4l.6-.3l.8-1.7l2.3-3zM500.2 111.5l1.3-.4l1.9 1.4l.5 1l-1.4 5.1l-2-.6l-1-1.7l-.3-2.8l1-2zM548.2 115.5l1.3-.9l2 .1l3 .8l3.3 2l0 1l-1.3 2.6l-3 1.1l-2 3.1l-4-.3l-.3-.5l1.1-4l-.6-3l.5-2zM598.2 115.5l4.3-.5l2 .4l1.8 1.1l.5 1l-.5 1l-5.8 4.2l-5 .5l-3 1.3l-.9-1l-.4-3l.4-2l1.9-1.6l4.7-1.4zM480 118.5l0-.4l.5 0l1 1.1l1.4 3.3l1 1l0 1l-3.4 1.1l-.5 0l0-7.1zM562.5 119.5l5 1.5l2.8 2.5l.8 2l-.3 1l-2.3 2.7l-4 .6l-4.2-3.3l-.5-2l.1-3l2.6-2zM524.1 125.5l1.4-1l3 .9l1.1 1.1l.9 2.5l4 .5l.5 1l-.3 1l-1.5 1l-3.7-2.4l-5-.7l-.9-.9l-.2-1l.7-2zM499.2 131.5l1.3-.7l3 1l2 1.5l.6 3.2l-1.5 2l-4.1 1.6l-2-.5l-2-1.6l-.5-1.5l.2-2l1.3-2l1.7-1zM634.5 132.5l1.5-.2l0 4.6l-1-.4l-.1-2l-.9-1l.5-1zM526.1 135.5l2.4-.2l2 .5l.8 .7l.7 2l-.5 2l-1 1.3l-3 2.5l-1 .1l-2.3-.9l-.7-1l-.4-2l.3-2l2.1-2.8l.6-.2zM590.6 136.5l.9-.9l1 .1l2.1 .8l.4 1l-1.5 .8l-1-.1l-2-.7l.1-1zM608.6 136.5l1.9-.9l2 .1l2 1l1 1.2l.9 1.6l.1 2l-2 4.6l-4-.9l-3.6-2.7l0-4l1.7-2zM584.8 137.5l.7-.6l2 .5l.7 1.1l-2.7 .6l-1-.6l.3-1zM600.2 141.5l1.3-.6l1 .4l1.3 1.2l.4 1l-.2 1l-1.5 .8l-2 0l-.4-.8l.1-3zM510.2 142.5l3.3-.7l2 .1l1.1 .6l1.4 5l-.8 2l-.2 3l-3.3 4l-10.2 6.9l-6 .7l-1-.3l-1.2-2.3l.3-1l3.9-2l5-1.7l2.3-2.3l1.4-3l-1.6-6l.4-1l3.2-2zM490.9 149.5l1.6-.3l3 .2l1.4 1.1l.2 1l-.6 1.1l-2 1.1l-2 .2l-2.4-1.4l-.5-1l.1-1l1.2-1zM550.8 150.5l.7-.5l1 .2l.6 1.3l-.7 2l-1.9 .9l-1-.3l-.4-.6l1.7-3zM582 154.5l1.5 .2l.8 1.8l-2.8 4.1l-1 .7l-1-.1l-.7-.7l0-1l2.4-3l.8-2zM566.5 159.5l2-.4l2 .9l3-1.3l1.4 .8l-.4 1l-2.3 1l-.3 1l1.1 4l-1.1 2l-1.4 1.1l-4 .2l-1.2-1.3l-.4-4l.9-3l-.2-1l.9-1zM551.2 162.5l1.3-.3l3 1.4l1.2 1.9l.8 2.6l2.7 1.4l.9 1l.2 5l-.7 4l-1.1 1.8l-1-.2l-1-3.9l-1-1.1l-3 1.9l-2 0l-2-1.4l-2.6-3.1l-.3-1l.5-5l2.4-3.6l1.7-1.4zM515.2 168.5l1.3 0l0 2.3l-1 .2l-.5-.5l.2-2zM571.4 173.5l1.7 0l.4 1l-.3 1l-.7 .4l-1.7-.4l-.4-1l1-1zM630.4 177.5l5.6 .1l0 6.4l-1.2 0l-.2-1.5l-4.1-2.3l-1-1.7l.9-1zM480 180.5l.5-.3l1 .5l.8 1.8l.2 1.5l-2.5 0l0-3.5zM514.4 182.5l.1-.4l2 1.1l1.6 .3l0 .5l-3.7 0l0-1.5zM568.9 182.5l1.6-.3l.6 1.8l-2.8 0l.6-1.5zM584.1 182.5l1.4-.2l.9 1.7l-3 0l.7-1.5z"/><path fill="#ff4300" d="M481.2 28l1.8 0l1.5 3.5l-2 2.9l-1 .9l-1.5 .1l0-6.4l1.2-.5l0-.5zM605.3 28l3.3 0l.4 3.5l-.5 1.2l-2 .2l-1.8-1.4l.6-3.5zM631.5 30.5l1-.2l1 .6l.8 .6l-.2 1l-2.6 .3l-.4-1.3l.4-1zM592.3 33.5l1.2-.5l4-.2l1.1 .7l0 1l-.9 2l-1.2 1l-2 .9l-4 .2l-1.4-1.1l0-1l.4-1.1l2.8-1.9zM621.3 44.5l2.2-.2l3 1.2l5.5 5l1.6 2l.2 2l-1.3 .5l-3-1.1l-6-4.4l-2.1-3l-.4-1l.3-1zM500.2 47.5l1.3 .3l1.4 2.7l-.3 6l-2.1 5.6l-2 1.2l-2 .1l-2-.8l-2.2-2.1l.2-4.4l2.8-5.6l2.2-2l2.7-1zM480 51.5l2.5 .2l.7 .8l-.3 1l-1.4 .6l-1.5-.2l0-2.4zM566.2 56.5l2.3-.7l2 .5l1 .7l.1 1.5l-1.1 1.5l-1 .4l-3-.8l-.8-1.1l.5-2zM628.4 61.5l1.1-.9l1 0l1.3 .9l.5 2l-.8 .7l-2-.3l-1-.9l-.1-1.5zM570 73.5l1.5-.2l2 1.9l.6 3.3l-.9 2l-2.7 .4l-1-.8l-1.1-3.6l1.6-3zM601.7 77.5l1.8 .1l6.9 3.9l2.3 4l-.2 2.3l-1 .3l-4-1.3l-2-2.1l-2-.9l-5-3.9l-.2-.4l3.4-2zM494.4 82.5l3.1 0l1.6 1l.5 1l.4 5l-2.5 2.2l-3-.3l-2.4-1.9l-.5-2l.2-2l.7-1.5l1.9-1.5zM593.2 89.5l2.3-.5l.7 1.5l-.6 1l-1.1 .2l-1-.6l-.3-1.6zM488.5 94.5l2-.1l2.5 1.1l1.8 3l.6 4l-.9 2l-1 1.2l-1 .5l-2 .3l-2-.6l-3.1-1.4l-1.4-2l-.2-3l1.3-3l1.1-1l2.3-1zM569 97.5l2.5-.8l4 .3l1 .7l.4 1.8l-1.4 1.2l-4 .4l-1.9-.6l-1.1-1l-.2-1l.7-1zM622.9 98.5l1.6-.1l1 .8l1 2.3l0 2l-3.3 4l-1.7 .5l-1.2-.5l.2-1l1.4-2l-.4-4l1.4-2zM510 101.5l2.5-.4l1.2 .4l.8 1l-.7 2l-2.3 1l-3-.8l-.5-1.2l.4-1l1.6-1zM585.6 101.5l.9-.9l1.3 .9l0 1l-1.3 .4l-.9-1.4zM572.2 110.5l4.3 1.4l3 .2l1 1.4l-.4 2l-2.6 .8l-4-1.3l-4-.3l-.4-1.2l.4-.8l1-1.3l1.7-.9zM545.2 111.5l2.3-.3l.4 1.3l-.3 1l-2.1 .6l-.6-.6l.3-2zM500.3 112.5l1.2-.3l1 .8l.4 .5l-.4 1.4l-2 .1l-.5-1.5l.3-1zM550.3 115.5l4.2 .8l2.1 1.2l-.2 1l-.9 .9l-2-.3l-1 .7l-2 2.8l-.2-2.1l-1.7-3l.3-1l1.4-1zM597.4 116.5l5.1-.5l1.6 .5l.8 1l-1.1 2l-3.3 2.1l-7 .1l-1.2-1.2l.8-2l1.4-1.1l2.9-.9zM480 120.5l.5-.1l.4 1.1l-.4 1.3l-.5 0l0-2.3zM562 121.5l4.5-.2l2 1.1l1.4 2.1l-.4 2.3l-1.9 1.7l-2.1 .3l-1.6-.3l-2.4-2l-.3-1l0-3l.8-1zM525.6 125.5l.9-.1l2.1 1.1l.3 1l-.4 1.3l-1 .3l-2.8-.6l-.4-1l.2-1l1.1-1zM502 132.5l1.5 .4l1 1l.7 2.6l-.5 1l-4.2 1.9l-3-1.4l-.9-1.5l.9-2.2l2-1.5l2.5-.3zM527 136.5l2.5-.1l1 .7l.6 2.4l-.6 1.2l-2 1.8l-1 .6l-2 .1l-1.1-.7l-.3-3l1.4-2.3l1.5-.7zM609.2 137.5l3.3-.5l2 1l1 1.2l.4 2.3l-1.4 2.7l-1 .5l-2-.1l-3-2.1l-1-3l1.7-2zM513.4 142.5l2.1 .2l.7 .8l1 4l-1.3 5l-2.1 3l-10.3 7.1l-3 .7l-3-.2l-1.1-1.6l.9-1l8.2-3.5l1.7-1.5l1.9-4l-1.6-6l2.3-2l3.6-1zM490.9 150.5l1.6-.6l2 .2l1.2 .4l.3 1l-1.5 1.1l-2 .4l-2-1.5l.4-1zM567.3 162.5l2.2-.6l2 2.2l.6 2.4l-1.6 2.1l-3 .4l-1-.5l-.6-4l.6-1.5l.8-.5zM551.4 163.5l2.1 .1l2 .9l1.2 4l.8 .9l2.5 1.1l.7 4l-1.2 4.8l-2-5l-1-.3l-.6 1.5l-1.4 1.2l-2 .8l-1-.2l-1.3-.8l-2.7-3.9l.6-5.1l2-3l1.3-1zM480 181.5l.5-.2l1 .9l.2 1.8l-1.7 0l0-2.5z"/><path fill="#ff1e00" d="M606.4 29.5l.7 1l-.6 .9l-.4-.9l.3-1zM594 34.5l.9 0l.7 1l-.5 1l-.6 .2l-.5-.2l-.2-1l.2-1zM497.4 60.5l1.1-.4l1 .4l0 1l-2.3 1l-.8-1l1-1zM493.6 84.5l1.5 0l.2 1l-1.8 2.2l-.5-1.2l.6-2zM493.4 100.5l.6 1l-.5 1.6l-1-.6l-.1-1l1-1zM623.4 100.5l1.2 0l-.1 1.8l-1.1-1.8zM513.2 147.5l.3-.6l1 .1l.5 .5l-.5 1.1l-1.3-1.1zM498.8 161.5l1.7-.7l1.4 .7l-1.4 .6l-1.7-.6zM553.4 165.5l1.1-.5l.4 .5l-.4 1.5l-1.1-1.5zM549.4 169.5l.1-.8l1 .2l.5 1.6l1.5 1l0 1l-1 .4l-1.9-1.4l-.2-2z"/></g><path fill="#ffffff" d="M557 99.5l2.5-.5l4 .3l5 2.2l1.3 2l1.1 3l-1.2 4l-1.7 3l-2.5 2.2l-6 0l-5-2.2l-1.3-2l-1.2-3l.1-5l.4-1l4.5-3z"/><path fill="none" stroke="#111" stroke-width="1.10" stroke-dasharray="1.6 1.2 0.8 1.6" d="M556.5 99.5l2-.7l5 .2l5 2.1l1.6 2.4l1.1 3l-1.2 4l-1.7 3l-2.8 2.5l-6 0l-5-2.1l-1.6-2.4l-1.1-3l0-5l.7-1.4l4-2.6z"/><path fill="none" stroke="#000" stroke-width="0.70" stroke-linejoin="round" d="M484.1 28l.9 3.5l-1.4 4l-1.1 1.5l-2.5-.2M569.6 28l-.1 .7l-1 .1l-.2-.8M609.1 28l.8 3.5l-.2 1l-2.2 1.2l-2.8-1.2l-.7-1l.8-3.5M593.4 32.5l4.1-.3l1 .4l.7 .9l.1 1l-1 2l-.9 1l-2.9 1.4l-3 .2l-2-.5l-.9-1.1l.4-2l1.5-1.4l2.9-1.6M636 32.6l-3.5 1l-1-.1l-1.1-1l.5-2l.6-.6l1-.2l3.5 2.1M525.2 39.5l1.3-.4l0 1.5l-1.3-1.1M620.4 44.5l1.1-.8l2-.1l3 1.4l6 5.2l1.7 2.3l.3 2l-1 1l-1 .2l-4-1.8l-5.5-4.4l-2.2-3l-.5-1l.1-1M497.4 47.5l4.1-.5l1 1l1.2 3.5l-.3 4l-1.4 5l-1.5 2.3l-3 1l-2.5-.3l-1.6-1l-1.3-1l-.7-2l.7-4l1.7-4l3.6-4M480 51.1l2.5 .1l.7 .3l.6 1l-.3 1l-1 1l-2.5-.1M542.4 51.5l1.1-.1l3 2.1l-1.6 1l-1.4 .1l-1.1-1.1l0-2M566.8 55.5l1.7-.3l3.4 1.3l.3 2l-1.7 2.3l-3-.2l-1.8-1.1l-.5-2l.4-1l1.2-1M628.5 60.5l2-.4l2.6 1.4l.3 1l-.8 2l-2.1 .3l-2-.8l-.8-1.5l.8-2M636 62.1l-1.8-.6l.5-2l1.3-.5M570.3 72.5l1.2-.1l1 .4l2.1 3.7l.1 3l-1.2 1.8l-3 .2l-1-.7l-1.2-2.3l-.3-2l.4-2l1.9-2M490.1 76.5l.4-.6l1 .1l0 2l-1-.6l-.4-.9M600.1 77.5l1.4-.6l2 .1l6.6 3.5l3.2 5l-.1 2l-1.1 1l-1.7 0l-3.9-1.8l-6-4.5l-3-1.3l-.5-1.4l.5-.9l2.6-1.1M493.4 82.5l2.1-.9l3.2 .9l1.1 1l1.7 5l1 .4l2 .3l1-.4l-.2-2.3l1.2-1.1l4 3.1l.7 1l-.1 1l-.6 .7l-1 0l-4-.4l-2 .7l-3-.3l-3 1.3l-3-.5l-2.2-1.5l-.8-1l-.4-2l.5-3l1.8-2M627.7 84.5l1.8-.3l.3 1.3l-.3 .4l-1 .1l-.8-1.5M593.5 88.5l2-.3l1 .6l.5 1.7l-.5 1.4l-.7 .6l-1.3 .1l-2-1.1l-.2-2l1.2-1M569.4 89.5l1.1-.6l.6 .6l-.6 1.1l-1.1-1.1M503.3 92.5l.2-.9l.1 .9l1.6 1l.2 1l-.9 .6l-1-.4l-.6-1.2l.4-1M486.7 94.5l2.8-.9l3 1l2 1.7l1.6 6.2l-1.4 3l-1.2 1.4l-2 .4l-2-.4l-4.8-2.4l-1.2-1.6l-.3-1.4l.3-3l1.4-3l1.8-1M588.5 94.5l.7 1l-.7 1.4l-1.1-1.4l1.1-1M570.3 96.5l5.2-.3l1.7 1.3l1.2 2l-1.1 1l-2.4 1l-4.4-.1l-2-1.6l-.6-1.3l.6-1.3l1.8-.7M622.1 98.5l1.4-.8l2.3 .8l1 2l.2 3l-.4 1l-2.1 1.9l-1 1.5l-1 .7l-1 0l-1.9-1.1l1.6-3l-.5-3l1.4-3M510.6 100.5l2.9-.1l1.4 1.1l.5 1l-.1 1l-1.6 2l-3.2 .4l-1.9-.4l-1-1l-.4-1l.3-1l1-1l2.1-1M585.2 100.5l1.3-.7l1 .1l1.2 1.6l-.2 1.8l-2 .9l-1-.7l-.6-2l.3-1M596.8 101.5l.7-.2l1 .6l.4 .6l-.4 1.3l-1 .1l-.7-.4l-.6-1l.6-1M584.4 107.5l1.1-.3l1 1.1l0 1.4l-1 .9l-1-.2l-.7-.9l-.1-1l.7-1M546.1 110.5l1.5 0l.9 1l.1 1l-1.1 1.9l-2 .4l-1-.7l-.2-1.6l.3-1l1.5-1M501.3 111.5l1.2 .6l1.1 1.4l-.1 1.3l-2 2.2l-1.7-1.5l-.4-1l.4-2l.7-.9l.8-.1M569.5 112.2l1.5-1.7l1.5-.5l7 1.5l1.5 2l0 2l-.5 1l-2 .7l-6-1.6l-3.1-.1l-1.3-1l.2-.8M548.8 115.5l1.7-.6l3 .5l4 2.1l-.1 1l-1.4 2l-2.5 .6l-1 1l-1 2.2l-1 .5l-1.8-1.3l.2-3l-.9-3l.8-2M601.4 115.5l2.1 0l2 1l.6 1l-.4 1l-2.2 2l-4 2.1l-6 .3l-1-.4l-1-2l.6-2l1-1l3.4-1.4l4.9-.6M480 119l.5 0l1 1.2l1.2 3.3l-.8 1l-1.9 .2M561.9 120.5l.6-.3l4 .6l3 2l1.2 2.7l-.2 1l-1.6 2l-4.4 .9l-3.7-2.9l-.5-1l0-3l.4-1l1.2-1M524.5 125.5l2-.6l2 .9l1 1.7l-.4 2l-4.6-.5l-.8-1.5l.8-2M531.3 130.5l1.2-.4l1.4 .4l-.4 1.1l-1-.1l-1.2-1M498.2 132.5l2.3-.7l3.5 .7l1.6 2l.2 2l-.4 1l-1.2 1l-3.7 1.4l-3-1.3l-1.1-1.1l-.2-2l.3-1l1.7-2M525.3 136.5l1.2-.7l3 0l1.3 .7l.7 1.4l.2 1.6l-.5 1l-3.7 3.4l-1 .1l-2-.6l-1-1.8l0-2.4l1.8-2.7M609.3 136.5l3.2-.3l2 .9l1 1.2l.6 1.2l.2 2l-1.8 3.6l-3 .1l-4-2.7l-.5-2l.2-2l2.1-2M510.8 142.5l3.7-.4l2 .8l1.2 4.6l-.8 2l-.2 3l-3.2 3.8l-10 6.8l-3 .6l-3.6-.2l-1.2-2l.5-1l8.3-3.5l2.7-2.5l1.2-3l-1.5-6l.5-1l3.4-2M600.8 142.5l.7-.7l1.5 .7l.4 1l-.5 1l-1.4 .3l-.5-.3l-.2-2M491.7 149.5l3.8 .3l1 .7l.3 1l-.8 1l-1.5 .8l-2 .3l-2-1.1l-.6-1l.2-1l1.6-1M550.6 151.5l.9-.7l.9 .7l-.9 1.8l-1 .3l-.4-1.1l.5-1M581.2 157.5l1.3-.9l.2 .9l-1.2 2.3l-1 .5l-.7-.8l1.4-2M567.1 160.5l1.4-.6l2 1.3l2.2 4.3l0 1l-1.1 2l-2.1 1.1l-3-.2l-1.3-1.9l.2-4l1.7-3M550.3 163.5l1.2-.8l1-.1l3 1.3l1 1.6l.9 3l2.3 1l1 1l.3 5l-.5 3.2l-1 2.1l-1-.3l-1-4.4l-1-.4l-2.4 1.8l-2.6 .3l-1.8-1.3l-2.4-3l-.4-1l.5-5l2.9-4M636 180.2l-2.5 .7l-1-.2l-1.7-1.2l-.5-1l1.2-.7l4.5 .5M480 180.6l1.5 .5l.7 2.9M515.6 184l0-.5l.9 0l.2 .5M516.9 28l0 .5l-1.7 1l-1 2l-.1 5l.4 1.5l1 1.4l2 .3l2-.8l1.1-1.4l.9-2l.5-4l-.7-1l-2.8-2l0-.5M528.5 30.2l-.7 1.3l.4 1l1.3 .9l2 0l1.2-.9l.4-1l-.6-1.2l-2-.6l-2 .5M542.5 30.5l-.9 1l0 1l.9 1.1l1-.3l.9-1.8l-.9-.8l-1-.2M500.5 34.2l-1 .7l-.9 1.6l.1 4l1.2 2l1.6 1l1.8 0l3.1-2l.6-1l.5-3l-.4-1l-4.6-3l-2 .7M578.5 37.3l-1.3 1.2l.3 .7l1 .5l1.3-1.2l-1.3-1.2M603.5 37.4l-2 3.8l.2 2.3l1.8 2.8l3 .4l1.6-1.2l.4-1l0-5l-2-2.1l-2-.4l-1 .4M563.5 39.2l-2.4 2.3l-.8 4l.1 1l.9 2l1.2 1l3 1.4l1-.1l2-1.2l2-2.7l.4-1.4l-.2-2l-3.2-4.2l-1-.4l-3 .3M636 39.5l-3.5-2.1l-2-.1l-2 1.1l-.9 1.1l-.6 3l1.2 2l3.3 2.3l1 .3l3.5-2M536.5 40.5l-1 1l.1 1l.9 1.3l1 .1l1-1.3l0-1.1l-1-.9l-1-.1M586.5 40.9l-1 1.5l0 1.4l1 .9l1.8-.2l.4-1l-.2-1.2l-1-1.3l-1-.1M545.5 43.5l-1 1.1l-.7 2.9l1 2l1.7 1l2.2-1l.7-1l.2-2l-1.2-2l-1.9-1l-1 0M515.5 44.1l-1 .4l-.6 1l-.2 2l.8 .8l2.3 .2l1.2-1l0-2l-.8-1l-1.7-.4M526.5 45.4l-3.6 1.1l-1 1l-.3 2l.9 1.7l1 .9l3 .7l4-.6l1.6-2.7l0-2l-3.2-2l-2.4-.1M578.5 47l-.3 .5l.7 1l1.4 0l.2-1.1l-1-.8l-1 .4M596.5 51.3l-2.8 1.2l-.9 1l-.3 1.1l.9 1.9l2.1 1.2l2 .2l4-1.8l.8-1.6l-.8-1.6l-2.6-1.4l-2.4-.2M619.5 52.4l-.5 1.1l.5 1.7l2 .8l1.4-.5l.5-1l0-1l-.9-.9l-2-.6l-1 .4M532.5 53.5l-2 .3l-14 7.1l-2 .4l-3 1.3l-1 .9l-.8 4l3.8 3.2l4 .3l2 1.2l8 6.4l4 .2l1-.5l3-2.4l2-2.9l2.8-1.5l.8-1l2-3l.5-4l-.9-3l-3.5-5l-.7-2.4l-1-.5l-2 .8l-3 .1M586.5 57.1l-1 .7l-.2 1.7l.4 1l.8 .4l1-.2l1-1l.3-1.2l-.9-1l-1.4-.4M548.5 58.4l-2 2.5l.1 4.6l.9 1.2l1.6 .8l3.4 0l1.3-1l.8-2l.1-2l-.5-2l-2.7-2.4l-1-.3l-2 .6M574.5 61.2l-.9 4.3l.6 1l1.3 .3l1.5-1.3l.1-3l-.6-1.4l-1-.4l-1 .5M562.5 65.2l-1.9 1.3l-.6 2l.8 2l1.7 .8l2.6-.8l.6-2l-.2-1.3l-1-1.4l-2-.6M599.5 65.3l-1.7 1.2l-.1 1l.8 1.2l1 .4l1-.3l.8-1.3l-.8-2l-1-.2M581.5 70.5l-2 .9l-1.4 2.1l1.3 4l1.1 .9l1-.1l1-.9l1.4-2.9l-.4-2l-1-1.5l-1-.5M627.5 70.2l-2.6 3.3l-.4 4l1.4 3l1.4 1l1.2 .1l1-.4l1.6-1.7l1.2-3l-1.8-5.2l-1-1.1l-2 0M480 70.6l3.5 1.2l2-.5l1.8-1.8l.5-3l-.3-3.1l-2-2.5l-2-.5l-3.5 1.5M613.5 71.4l-2 1.2l-.9 1.9l0 2l1.9 2.5l3 1l3.9-2.5l.4-1l-.2-3l-2.1-2.1l-2-.4l-2 .4M504.5 73.4l-2.5 1.1l-1.6 3l.1 1l1.5 2l3.5 .9l1.8-.9l.7-1l.3-4l-1.8-1.9l-2-.2M589.5 75.3l-3 2.2l.1 2l.9 1.4l2 1.3l2 .4l1-.3l1.7-1.8l.3-3.4l-.9-1.6l-1.1-.7l-1-.2l-2 .7M548.5 76.1l-.8 .4l-.5 1l1.3 .9l1.2-.9l-1.2-1.4M565.5 80.4l-2 .6l-1.3 1.5l1.8 3l2.5 .4l1-.3l.7-1.1l.1-2l-.8-1.4l-1-.7l-1 0M538.5 81.4l-2 1l-1.8 2.1l-.1 1l.6 1l2.3 1.6l2 .6l5-.1l2.6-2.1l-.1-3l-1.5-1.5l-4-1.1l-3 .5M636 81.6l-2.5 .7l-1.1 2.2l.5 4l1.1 1l2 .3M513.5 83.4l-1 .1l-.9 1l.9 1.7l1 .4l1.3-1.1l-.3-1.5l-1-.6M522.5 85.3l-2 .7l-1.8 3.5l.2 1l2.6 3.8l1 .4l4 .1l7 4l2-.3l1.5-1l.2-1l-.7-2l-1-2.4l-1-1l-5.8-4.6l-3.2-1.2l-3 0M624.5 89l-1.1 1.5l.4 1l1.7 1l1-.3l.9-1.7l-.4-1l-1.5-.8l-1 .3M618.5 97.2l-1.1 1.3l.1 1l1 .6l1-.6l.3-1l-.3-1.2l-1-.1M611.5 99.2l-1 1.3l.3 1l1.7 0l.7-1l-.3-1l-1.4-.3M567.7 100.5l-2.4-4l.7-5l-1.5-1.9l-2-1.3l-2-.2l-2 .5l-1.2 .9l-2.8 4.1l-4 .6l-3.9 2.3l-1.7 4l0 1l1.8 3l2.8 1.4l.8 3.6l1 2l1.2 1.5l1.4 .9M530.5 106.1l-3.6 3.4l-.7 2l0 2l1.3 2.3l3 1.9l2 .5l3-.6l2.9-2.1l1-2l.4-3l-.3-1.3l-1.2-1.7l-1.8-.9l-6-.5M593.5 107.3l-2 .9l-.5 1.3l.5 1.4l2 .8l5 .4l1.3-.6l1.5-2l-.5-1l-2.3-1.5l-5 .3M494.5 110.1l-.9 2.4l.8 1l1.5 0l.9-1l-.3-1.6l-1-.9l-1 .1M508.5 110.2l-1 .8l-1 2.2l-.3 3.3l2.3 3.6l2 .9l1-.2l3-2.3l1.1-2l.2-2l-.9-2l-2.4-1.9l-4-.4M480 112l3.6 2.5l1.9 .5l2-.9l1.1-2.6l-.8-3l-2.3-1.7l-3 .1l-1.3 .6l-.7 1.6l-.5 0M554.9 114.5l1.6 .9l2.5 .6M631.5 116.2l-2 2.1l-1.2 .2l-3.8 1.8l-1.1 3.2l.2 6l1.6 3l1.9 1l2.4 .1l1-.5l1.9-2.6l1-3l0-4l.4-1l-.4-2l1.5-2l-1.4-2.3l-1-.4l-1 .4M575.5 125.2l-2 1.3l-1.7 2l-.5 2l.6 2l.8 1l1.8 .8l5 .3l1-.5l2.3-2.6l-.5-4l-1.8-2.1l-5-.2M603.5 126.5l-.2 3l1.1 2l2.1 .2l1.5-1.2l.9-2l-1-2l-2.4-1l-2 1M618.5 132.4l-1 .9l0 1.2l1 1.1l1-.1l.9-1l.1-1l-1-1l-1-.1M509.5 133.5l-.8 2l.8 1.9l2 1.3l2-.5l1-1.7l-1-2.7l-2-1.2l-2 .9M551.5 136.4l-3 1.4l-1.4 1.7l-.4 3l.5 1l1.3 .8l4.1 .2l1.9-1.1l1.4-1.9l.3-2l-1.2-2l-3.5-1.1M636 139.3l-5.5-2.6l-1-.2l-3.7 1l-1.5 1l-2.2 5l.4 2l1 1l5 2.3l2.6-.3l4.9-2.5M593.5 141.2l-1 .4l-1 1.9l.3 3l1.7 1.5l1-.4l1-1.1l.4-2l-.3-2l-1.1-1.1l-1-.2M538.5 143.3l-1 .6l-1.8 2.6l-1.4 3l.1 2l3.1 5.1l2 .9l3 0l2-1.4l2.2-3.6l.3-2l-.4-3l-1.8-3l-1.3-1l-3-.4l-2 .2M480 145l3.5 2.1l3-.3l1.5-1.3l1.9-3l1-3l-.4-6l-1.1-3l-1.9-2.5l-1-.6l-3 0l-3.5 2.5M562.5 145.4l-3.7 2.1l-1.3 2l.1 4l1.9 2.7l6 1l5-1l2.7-1.7l1.2-2l.3-2l-.4-1l-1.8-1.9l-4-2.2l-6 0M525.5 156.9l-.6 1.6l.6 1l1 .3l1-.8l0-1.5l-1-.9l-1 .3M636 157.2l-7.5-1.4l-6 1.5l-2 1.2l-2.7 3l-.7 3l.7 3l4.7 4.8l2 1.1l2 1.9l5-.2l1.1-.6l1.9-3.5l1.5-.5M480 165.1l3.5 .5l1-1.1l.1-1l-1.1-2l-1-.2l-2.5 1.3M517.5 179.1l-.8 1.4l.7 1l1.1 .4l1.4-.4l.6-1l-.3-1l-1.7-.7l-1 .3M492 184l1.5-2.5l.1-3l-2.1-2.1l-2-.3l-3 .5l-2.5 1.9l-.4 1l1.2 4.5M508.6 184l1-3.5l-.8-3l-1.3-1l-4-.1l-2.2 1.1l-1.2 2l.4 2l1.6 2.5M534.4 184l1.4-2.5l-.2-3l-2.1-1.6l-4-.7l-2 .9l-1 2l-.1 2.4l1.4 2.5M551 184l1.2-3.5l-4.7-3.7l-1-.1l-1.8 1.8l-.7 3l-2.5 1.8l-.1 .7M602.7 184l-1-4.5l1-3l0-5l.4-2l2.5-6l0-1l-3.9-7l-5.2-3.3l-1 .1l-2.2 1.2l-1.3 1l-.1 1l.6 3.5l2.3 4.5l1 4l-1.3 4.7l-1.4 2.3l1.1 6l.1 3.5M621.6 184l1.8-4.5l-.3-2l-1.7-2l-3.9-1.4l-4.4 .4l-6.6 3l-.4 1l.7 5.5"/><path fill="none" stroke="#000" stroke-width="0.70" stroke-linejoin="round" stroke-dasharray="1.6 1" d="M630.5 41.3l-.7 1.2l.5 1l1.6 0l.6-1l-.4-1l-1.6-.2M564.5 43.4l-.7 2.1l.7 1.1l1.7-.1l.8-1l0-1l-.8-1l-1.7-.1M530.5 61.4l-4 1.2l-3 1.8l-2.6 3.1l.2 2l1.4 1.2l3 1l8-2.5l.9-.7l3.7-4l.2-1l-.4-1l-2.4-1.3l-5 .2M482.5 63.1l-1.6 1.4l-.1 2l1.3 2l2.4 .4l1.4-1.4l-.1-3l-1.3-1.3l-2-.1M614.5 74.2l-.6 1.3l1.6 .5l.5-1.5l-.5-.5l-1 .2M627.5 76.1l-.6 1.4l.6 .8l1 0l.5-1.8l-.5-.5l-1 .1M523.5 89.2l-1.3 1.3l.3 1.4l1 .5l2.5-.9l.4-1l-.8-1l-1.1-.5l-1 .2M547.5 99.5l-.9 1l.9 2.1l.5-.1l0-2l-.5-1M566.7 100.5l-3.2-2.5l-5-1.8l-6 .4l-1.6 .9l-.9 2l.8 3l-.3 .5l-1 .2l-1-.5l-.4 .8l2.4 1.7l.9 4.3l2.1 3.1M531.5 109.4l-1 .4l-1 1.7l-.1 1l.6 1l2.5 1.4l2-.5l1.9-1.9l.2-1l-.5-1l-1.6-1.3l-3 .2M510.5 114l-1 .8l-.1 1.7l2.1 .6l.6-.6l0-2l-.6-.6l-1 .1M556.4 114.5l.2 .1M627.5 124l-.7 1.5l.2 2l.8 1l1.3 0l.9-1l-.2-2l-1.3-1.7l-1 .2M577.5 128.4l-2 .8l-.8 1.3l.8 .4l2-.2l.7-1.2l-.7-1.1M550.5 140.1l-.3 .4l.3 .8l1.6 .2l.4-1.1l-1-.4l-1 .1M480 143.6l.5 0l2 2.1l2 .4l1-.3l2.4-3.3l.3-2l-.4-4l-3.3-3.1l-1 0l-1 .6l-2 3.2l-.5 0M565.5 147.4l-3 .9l-1.5 1.2l-.4 1l.2 2l1.7 1.8l2 .5l3-.2l2.3-1.1l.9-1l.1-2l-1.3-1.9l-2-1.1l-2-.1M540.5 148.4l-2.2 2.1l.5 2l1.7 1.3l3-.2l1.1-1.1l.3-1l-.4-1.3l-1-1.4l-1-.5l-2 .1M636 162.7l-.5 0l-3-3.4l-5-.8l-5 .9l-3 3l-.4 1.1l.3 2l1.1 1.4l5 2.2l5-.5l5.5-2.7M598.5 174.3l-.4 2.2l1.4 .7l1-.5l0-2.6l-1-.3l-1 .5M615.5 177.6l-1.2 1.9l.2 2.7l1 .6l2 0l1.7-1.3l.4-1l-.3-1l-1.2-1l-2.6-.9M557 99l-.9 .5M482.5 139.5l-1 1.2l0 1.8l1 1.5l1.4 .5l1.6-2.2l.1-1.8l-2.1-1.3l-1 .3M624.5 161.4l-.7 1.1l-.4 2l1.1 1.7l3 1l2-.1l2-.9l1.7-1.7l-.2-2l-2.5-1.7l-4-.3l-2 .9"/></g>
<rect x="480.00" y="28.00" width="156.50" height="156.50" fill="none" stroke="#000" stroke-width="0.8"/>
<text x="480.00" y="194.20" font-size="7.30" text-anchor="middle" font-family="DejaVu Sans, Liberation Sans, sans-serif" fill="#262626">0</text>
<text x="477.00" y="188.00" font-size="7.30" text-anchor="end" font-family="DejaVu Sans, Liberation Sans, sans-serif" fill="#262626">0</text>
<text x="513.95" y="194.20" font-size="7.30" text-anchor="middle" font-family="DejaVu Sans, Liberation Sans, sans-serif" fill="#262626">5</text>
<text x="477.00" y="154.05" font-size="7.30" text-anchor="end" font-family="DejaVu Sans, Liberation Sans, sans-serif" fill="#262626">5</text>
<text x="547.90" y="194.20" font-size="7.30" text-anchor="middle" font-family="DejaVu Sans, Liberation Sans, sans-serif" fill="#262626">10</text>
<text x="477.00" y="120.10" font-size="7.30" text-anchor="end" font-family="DejaVu Sans, Liberation Sans, sans-serif" fill="#262626">10</text>
<text x="581.84" y="194.20" font-size="7.30" text-anchor="middle" font-family="DejaVu Sans, Liberation Sans, sans-serif" fill="#262626">15</text>
<text x="477.00" y="86.16" font-size="7.30" text-anchor="end" font-family="DejaVu Sans, Liberation Sans, sans-serif" fill="#262626">15</text>
<text x="615.79" y="194.20" font-size="7.30" text-anchor="middle" font-family="DejaVu Sans, Liberation Sans, sans-serif" fill="#262626">20</text>
<text x="477.00" y="52.21" font-size="7.30" text-anchor="end" font-family="DejaVu Sans, Liberation Sans, sans-serif" fill="#262626">20</text>
<line x1="480.00" x2="480.00" y1="184.50" y2="186.50" stroke="#000" stroke-width="0.6"/>
<line x1="478.00" x2="480.00" y1="184.50" y2="184.50" stroke="#000" stroke-width="0.6"/>
<line x1="513.95" x2="513.95" y1="184.50" y2="186.50" stroke="#000" stroke-width="0.6"/>
<line x1="478.00" x2="480.00" y1="150.55" y2="150.55" stroke="#000" stroke-width="0.6"/>
<line x1="547.90" x2="547.90" y1="184.50" y2="186.50" stroke="#000" stroke-width="0.6"/>
<line x1="478.00" x2="480.00" y1="116.60" y2="116.60" stroke="#000" stroke-width="0.6"/>
<line x1="581.84" x2="581.84" y1="184.50" y2="186.50" stroke="#000" stroke-width="0.6"/>
<line x1="478.00" x2="480.00" y1="82.66" y2="82.66" stroke="#000" stroke-width="0.6"/>
<line x1="615.79" x2="615.79" y1="184.50" y2="186.50" stroke="#000" stroke-width="0.6"/>
<line x1="478.00" x2="480.00" y1="48.71" y2="48.71" stroke="#000" stroke-width="0.6"/>
<text x="558.25" y="204.00" font-size="7.30" text-anchor="middle" font-family="DejaVu Sans, Liberation Sans, sans-serif" fill="#262626">X (nm)</text>
<text transform="translate(463.50 106.25) rotate(-90)" font-size="7.30" text-anchor="middle" font-family="DejaVu Sans, Liberation Sans, sans-serif" fill="#262626">Y (nm)</text>
<rect x="647.20" y="28.80" width="7.80" height="155.70" fill="url(#cbC)" stroke="#000" stroke-width="0.6"/>
<line x1="655.00" x2="657.00" y1="182.06" y2="182.06" stroke="#000" stroke-width="0.5"/>
<text x="659.00" y="184.76" font-size="7.30" font-family="DejaVu Sans, Liberation Sans, sans-serif" fill="#262626">−0.8</text>
<line x1="655.00" x2="657.00" y1="157.68" y2="157.68" stroke="#000" stroke-width="0.5"/>
<text x="659.00" y="160.38" font-size="7.30" font-family="DejaVu Sans, Liberation Sans, sans-serif" fill="#262626">−0.6</text>
<line x1="655.00" x2="657.00" y1="133.29" y2="133.29" stroke="#000" stroke-width="0.5"/>
<text x="659.00" y="135.99" font-size="7.30" font-family="DejaVu Sans, Liberation Sans, sans-serif" fill="#262626">−0.4</text>
<line x1="655.00" x2="657.00" y1="108.91" y2="108.91" stroke="#000" stroke-width="0.5"/>
<text x="659.00" y="111.61" font-size="7.30" font-family="DejaVu Sans, Liberation Sans, sans-serif" fill="#262626">−0.2</text>
<line x1="655.00" x2="657.00" y1="84.52" y2="84.52" stroke="#000" stroke-width="0.5"/>
<text x="659.00" y="87.22" font-size="7.30" font-family="DejaVu Sans, Liberation Sans, sans-serif" fill="#262626">0.0</text>
<line x1="655.00" x2="657.00" y1="60.14" y2="60.14" stroke="#000" stroke-width="0.5"/>
<text x="659.00" y="62.84" font-size="7.30" font-family="DejaVu Sans, Liberation Sans, sans-serif" fill="#262626">0.2</text>
<line x1="655.00" x2="657.00" y1="35.75" y2="35.75" stroke="#000" stroke-width="0.5"/>
<text x="659.00" y="38.45" font-size="7.30" font-family="DejaVu Sans, Liberation Sans, sans-serif" fill="#262626">0.4</text>
<text transform="translate(684.50 106.65) rotate(-90)" font-size="7.30" text-anchor="middle" font-family="DejaVu Sans, Liberation Sans, sans-serif" fill="#262626">Order difference</text>
<text x="463.50" y="9.00" font-size="10.2" font-weight="bold" font-family="Liberation Sans, Arial, sans-serif" fill="#000">C</text>
<filter id="blD" x="-2%" y="-2%" width="104%" height="104%"><feGaussianBlur stdDeviation="0.50"/></filter><clipPath id="clipD"><rect x="134.00" y="234.00" width="155.80" height="155.50"/></clipPath><g clip-path="url(#clipD)"><g filter="url(#blD)"><rect x="132.00" y="232.00" width="159.80" height="159.50" fill="#00009b"/><path fill="#0000ad" d="M134 234l156 0l0 156l-156 0l0-156zM149.5 307.6l-.4 .9l.3 1l1.4 0l.5-1l-1.8-.9zM153.5 314.4l0 1.4l1 0l.3-1.3l-1.3-.1zM172.5 373.9l-.5 .6l0 2l.5 1.1l1 .6l1-.6l.6-1.1l0-2l-.6-.9l-2 .3z"/><path fill="#0000bf" d="M134 234l156 0l0 156l-111.4 0l-.1-1l-1-.4l-1.3 .9l0 .5l-2 0l0-.5l-1.1-1l-2.5-1l-1-1l.9-2.8l1-.4l2 1.1l2 0l6-2.3l.8-1.6l-2.9-5l.6-3l-1.5-.6l-2-1.9l-1 0l-3 1.5l-1-.2l-.8-.8l0-4l1.1-2l-1.3-1.7l-1 .5l-.1 3.2l-.9 1.2l-1 .1l-4-1.8l-2 1.2l-3 .4l-5-1.1l-2 .9l-1.2 2.1l1.2 2l-.8 2l-5.1 2l-2.1 2.7l-2.6 1.3l-2.3 2l-.2 2l1.1 2l.5 4.5l-6 0l0-73.9l3.2 .4l-2.5 4l.8 .8l3-1.6l2-.1l4.3 5.9l1.7 .5l6-1.4l6-4.4l4 .1l2-.6l.8-2.2l-.3-2l-1.2-2l-1.2-7l-1.1-2l.9-1l2.7-1l.2-1l-.8-1l-2.9-2l-.2-2l-1.9-2l-1-.3l-1.9 .3l4.7 5l-.8 1.4l-2 .9l-2-.1l-2-1l-6 1.6l-2.7-1.8l1.2-2l0-1l-3.5-2l-3 1.3l-2 0l-2 1.1l-2.5 .1l0-6.9l3.5-.3l3.3-1.3l.4-2l2.3-1.7l1-.1l1.3 .8l.5 1l.4 3l.8 .6l2-.3l1.2 .7l0 1l-2.2 .9l-.4 1.1l1.4 2.2l2-.8l1.1-1.4l3.3-1l-.1-3l-3.8-2l.5-1.6l1.8-1.4l.4-1l-5.2-1l-1.6-2l-3.2-1l-.4-1l.5-1l1.7-.9l2 .4l2-.9l3 .6l3-.5l2.4 1.3l.6 1l-.5 2l1.8 2l-1.1 1l-2.2 .4l-.7 .6l.8 4l1.9 2.5l1-.1l.1-3.4l1.9-1.6l.7-1.4l-.3-3l.4-3l1.3-2l.1-1l-2.2-2.3l-2 .7l-1.3-.4l-.8-1l-.1-2l-.8-1l-1-.5l-2 .2l-2-.7l-.6-1l1.6-2l1 .1l2 1.9l3-.8l.7-3.2l-5.7-5.5l-3-.5l.4-2l-.4-1.5l-2-1.3l-3.8-1.2l-.7-3l-1.5-1.8l-1-.5l-2-.2l-3 2.2l-3.5 .7l0-15.9zM152.5 251l-.4 1.5l.3 1l1.1 .5l1-.1l.4-.4l-.7-2l-1.7-.5zM213.5 298.6l-.7 .9l.7 2.6l1 .7l1 0l1-2.3l-3-1.9zM217.5 303.5l-4 .5l-1 .5l-.4 2l.4 .7l3 .4l2.1 1.9l2.9 1.2l1 1.8l.2 3l1.8 1.3l1-.1l1-.7l1.2 1.5l.2 2l-5.4 3.2l-2-.8l-1.1-1.4l-.4-4l.4-2l-.9-1.3l-2-.7l-1.7 1l-.4 1l1.6 2l-.1 1l-1.4 .7l-3-.5l-.9 .8l-1.1 2.5l-1.3-.5l-.7-2.5l-3-.8l-1 .9l-.6 1.4l.4 1l2.3 1l-1.9 3l.8 1.4l2 .7l2-1l1 0l6 2.2l.3 .7l-.3 .6l-3-.4l-1.8 .8l-.8 1l1.6 1.4l2 .6l1.3-1l.7-1.2l3 1.4l5 1.1l3-2.2l.9 1.9l3.2 1l.9-.4l.3-.6l-.2-3l-1.2-1l-2.9-.4l-1.4-1.6l.1-1l4.3-4l3-1.7l2.3 1.7l1.1 2l.2 2l-1.9 2l-.1 1l1.4 .7l2-2l4 2l3.8-2.7l.2-2.3l1-1.6l3 .5l2-.4l2.5-2.2l.4-1l-.3-1l-4.6-.5l-10 5.4l-1.5-.9l-.5-1.3l-1.9-1.7l-.3-1l2.9-4l.5-1l-.2-1.3l-2-.6l-3 1.1l-4-.9l-2 1l-1-.3l-3.6-6l-3.4-2.9l-2-.1zM222.5 298.7l-.9 .8l.4 1l2.5 .6l-.1 3.4l.6 1l1.5-.1l1-.7l.7-2.2l-.7-1.6l-2 0l-1.2-1.4l-1.8-.8zM237.5 300.3l-2 .9l-3 2.5l-.5 1.8l.5 1.9l1-1.2l5-.9l1.4-.8l.6-4l-1-.6l-2 .4zM245.5 300.3l-3.4 4.2l1.5 3l3.1 3l-.3 2l1.1 .1l1-.9l4 .5l1-.3l1.3-1.4l-2.1-3l-1.2-4l-1.8 1l.5 2l-.2 1l-1.5 .2l-1.2-1.2l2-2l-.2-1l-1.5-2l-2.1-1.2zM268.5 286.1l-1.1 1.4l-2.7 2l-.2 1l.6 2l2.4 .9l3.5-4.9l-.5-1.5l-1-.8l-1-.1zM275.5 291.2l-2.2 2.3l-3.8 .8l-1-.5l-1.4 2.7l-2.5 2l.1 3l-2.6 3l.4 .3l2-.3l1 .6l1.4 2.4l1.6 .8l3 .8l.9-.6l.1-3.2l2.4-4.8l-.4-.6l-1.9-.4l-.1-1l2.5-3l3.8-2l.1-1l-.4-.4l-1-.6l-2-.3zM145.5 365.4l-.4 2.1l.4 .8l1.8-.8l.3-1l-1.1-1.4l-1 .3zM158.5 360.4l-1 .3l-2 1.7l-1 .1l-.4 1l.4 .4l2 .7l2-2.1l1-.2l3 2.1l1-.4l.6-1.5l-.6-1.4l-2-.9l-3 .2zM217.5 386.3l0 .6l1 .7l.7-1.1l-.7-.4l-1 .2zM235.5 333l-1.9 2.5l.9 .8l1-.4l1-1.4l0-1.9l-1 .4zM240.5 314.8l-1.6 1.7l.6 3.3l3.2-2.3l.5-1l-.7-1.1l-2-.6zM134 253.5l0-.8l1.5 .3l3 2.8l4-1.2l2 1.6l3.1 1.3l1.7 2l-2.8 .9l-1-.6l-2-3.3l-3 1.7l-3-1.6l-3.5 1.1l0-4.2zM134 260.5l.5-.4l3.7 2.4l1 1l0 1l-1.7 1.1l-3.5-.5l0-4.6zM142.9 262.5l2.6-.1l.8 1.1l-.1 1l-.7 .8l-1-.4l-1.6-2.4zM146.2 267.5l1.3 .2l.8 .8l-.1 1l-12.6 10l-.4 1l.3 3.8l-1.5 1l0-9.3l.5 0l.6-1.5l-.6-.9l-.5 0l0-3.7l2.2 .6l.3 2.2l2 .3l1-.6l1-2.5l4-1.2l1.7-1.2zM141.5 298.5l1-.7l1 .5l1.7 2.2l-1.6 3l.1 1l1 3l.4 3l2.8 3l-.7 1l-.6 3l-.8 1l-1.3 .4l-3 .1l-1-1.6l-1.8-.9l-.2-1l2.8-2l2-4l-.3-1l-1.5-.6l-3 .1l-1.1-.5l1.1-2.3l.5-2.7l2.5-4zM134 303.5l0-.3l1.5 .2l.5 1.1l-.4 1l-1.1 .7l-.5 0l0-2.7zM134 310.5l0-1l1.4 1l-.9 1.8l-.5 0l0-1.8zM149.1 313.5l1.4 .6l0 .9l-1 0l-.4-1.5zM157.9 314.5l.6-.6l1 0l.6 .6l.1 1l-1.7 .9l-.9-.9l.3-1zM155.2 318.5l1.3-.1l.2 1.1l-1.4 0l-.1-1zM217.4 327.5l2.1-.9l1.9 .9l-.9 1.7l-1 .5l-1.9-1.2l-.2-1zM163.2 372.5l1.3-.3l4 2.7l1 1l0 1.3l-4 2.2l-1 .1l-1-1l-.7-2l-.1-3l.5-1zM155.5 373.5l1-.4l3.7 .4l.8 1l-.2 1l-1.3 1l-2-.1l-2 .7l-2 2.3l-4.6-1.9l4.6-2l2-2zM157.9 381.5l3.6-.1l2-.9l1 .3l.4 3.7l-.4 .5l-1-.1l-1-1.5l-1 .6l.1 1.5l-1.1 1l-5-1.3l-1 2.3l-2 1.9l-3.6-3.9l.1-1l1.5-1.2l2-.2l2 .6l3.4-2.2zM161.6 388.5l.9-.5l3 .2l1 .4l.7 1.4l-6.5 0l.9-1.5z"/><path fill="#0000d1" d="M134 234l156 0l0 156l-69.1 0l.2-1.5l1.6-3l-.2-.7l-4.3-1.3l.1-2l-.8-.7l-3 .9l-5-.4l-.6 1.2l1.4 2l0 1l-.8 .5l-3-1.1l-2 1.5l-1 0l-.9-4.9l-1.1-.7l-4 .4l-.7 .3l-.5 1l.7 3l1.5 2l.6 2.5l-9.5 0l.3-1.5l-.4-.9l-2-.1l-1.4-1l-.4-1l2.1-4l1.8-2l-2.7-3l-.3-1l.4-2l-2.5-.7l-1.8-1.3l-3.2-1.3l-2.8-2.7l-.9-3l1.5-4l-.4-1l-2.4-1l-1-1.1l-6 .1l-2 1.8l-2-1.4l-6-1.3l-3 2.1l-2 0l-2 .8l-4 0l-1.1 1l-1.6 9l-1.8 6l-1.5 1.4l-2 1l-4.5-.6l0-49.5l3.5-1.3l2-.2l10 2.4l5-4.7l4-2.2l2-.6l6.6-.7l1.9-4l.1-1l-1-2l1.3-3l-.9-1.7l-2.9-1.3l1.9-1.2l1.1-1.8l-4.7-10l.2-1l2.1-2l.3-1l.1-2l-.9-3l1.3-9l-1.4-3l0-3l-2.2-3l-.9-4.4l-2.1-2.6l.2-1l1.5-2l0-1l-2.7-2l-1.4-6l-3.5-1l-1-1.7l-1-.3l-7 1.3l-3-1.2l-5 .4l-3.5-.7l0-11.3zM265.5 280.5l-2.3 1l-2.8 5l-1.3 8l-5.6 5.5l-3 .4l-2-.6l-1-.7l-1.6-2.6l-1.4-.8l-4 .9l-6-1.8l-4 .3l-3-1.2l-2 .4l-2 1.6l-4-.4l-1 .3l-2 1.5l-3-1l-3 .3l-1.1 .9l2 3l.6 2l-1 4l-.8 1l-1.7 .9l-5-.1l-1-.6l-2.6-3.2l-1.3 0l-1.1 1l-.3 1l.3 1.4l1.2 1.6l0 2l-2.2 2l-3-.4l-.6 .4l-.2 1l.8 1.4l3 0l.4 .6l.2 3l1.2 3l.3 2l5.9 5.5l2 3.8l1 .2l2-.5l1 .4l2 2.5l1 .4l5 .4l1-.1l2-1.4l4 1.6l5 0l5 1.3l4-.4l1-.7l.3-2l3.7-1.4l2-2.3l2-1.2l1 0l3 1.1l2-.8l1-1.2l.2-1.2l-1.3-3l2.1-2.2l4-1.1l.8-.7l.2-1l-.9-1l-2.1-.4l-1-.8l-1.9-2.8l.6-3l2.3-2.6l3-1.8l3-.3l5 2.2l2 2.7l1 .6l2.8-1.8l4.4-8l.3-1l-.7-4l1.1-4l-.3-2l-.8-1l-5.8-2.1l-5.8-7.9l-2.2-1zM258.2 301.5l1.6 0l.5 1l-.5 1l-3.3 3.1l-1 .1l-.2-1.2l.4-2l.8-1.2l1.7-.8zM203.6 389.5l.9-.8l.4 1.3l-1.3 0l0-.5zM211.7 389.5l.8-.6l1 .1l.9 .5l0 .5l-2.7 0l0-.5z"/><path fill="#0000e3" d="M134 234l156 0l0 156l-66.8 0l.3-1l2-1.1l.4-2.4l-.7-3l-1.5-2l-1.2-.9l-5-1.6l-2 .3l-2 1l-3-1.7l-3 .4l-3-.7l-4 1.9l-4 .4l-2 1.3l-1-.3l-2.2-3.1l.2-3l-1-2.8l-6-.4l-4-1.5l-2.8-2.3l-.7-3l1.6-5l-.1-2.2l-2-.3l-2-1.5l-4 .9l-3-1.5l-5-1.1l-6 1.2l-3 1.4l-6 1.4l-2 1l-1 1.7l-1.4 9l-1.6 5l-1 1.2l-2 1l-4.5-.1l0-47.8l5.5-.7l5 .6l3 1.3l2 .2l1-.4l2.9-4.3l4.1-2.6l3-1.1l9-.3l1.2-2l-.1-4l-.7-3l1.2-2l-1.1-3l.5-3l-1.7-4l.4-3l-1.4-3l1.4-4l-.7-5l.3-5l-.3-4l-.9-3l0-2l-1.6-4l-1.2-2l-.9-6l.5-3l-.4-1l-2.1-2l-1-3l-1.8-3l-4.6-3.9l-4 .5l-3-.9l-3 .9l-2-.1l-8.5-1.3l0-8.7zM262.5 280.2l-4.1 7.3l-1.5 6l-4.8 2l-1.6 1.6l-2-.6l-4-3.1l-4-.9l-1-.5l-1-1.5l-1-.2l-6 1.8l-5 0l-5 1.6l-4-.6l-2 .9l-4 .5l-3-.1l-1.1 2.1l2.7 3l1.1 2l0 3l-.8 2l-1.9 1.4l-4 .1l-2-1.1l-2-3l-1-.5l-1 .2l-1.8 .9l-.9 1l-.6 1l-.3 3l-4.3 4l-.1 1l1 2.1l4.3 4.9l.3 1l-.8 2l.4 1l3.1 2l2.5 4l2.2 1.3l2 2.4l4 1.1l4 2.2l3 0l3 .7l3-1.1l3 1.9l4 .3l3-.4l5 1.9l4-1.9l2-1.9l5-1.2l3-2.5l3-1.5l2-2.1l1.3-3.2l1.9-1l4.7-5l-.3-1l-1.1-1l-4.5-1.8l-1.3-1.2l-.5-1l-.1-2l1.3-2l3.6-2.6l4-.1l3 1.4l1.4 1.3l.9 3l0 2l.7 .8l1-.1l1-.6l1.2-2.1l2.3-2l1.5-4l3.4-5l.5-2l.2-6l-2.5-4l-6.6-2.9l-6.1-8.1l-1.9-.6l-3 .3z"/><path fill="#0000f6" d="M134 234l2.6 0l-.1 2.9l1.6 2.6l-.1 1l-1.1 1l-2.9 0l0-7.5zM139.5 234l150.5 0l0 12.8l-1.5 .5l-.3 1.2l.9 1l.9 .2l0 140.3l-61.1 0l-1.7-7.5l-2.7-3l-2-1.3l-7-2l-3 .2l-3-.5l-2 .3l-3-.5l-4 1.9l-2 .3l-4-2.2l-1.6-4.2l-2.4-.9l-5 .2l-4-1.1l-2-1.2l-1.6-2l-.2-2l3.6-11l.1-1l-.9-.6l-1.4 .6l-1.6 1.5l-3-.4l-3 1.2l-1-.1l-4-3.2l-13 3.2l-2-.1l-4 1.6l-2 1.5l-1.1 1.8l-1.6 9l-1.9 6l-2.4 1.6l-4.5 .1l0-46.8l9.5 .4l6 1.6l1.6-.9l1.8-4l3.6-2.7l5-1.7l9 .2l1.1-.8l.4-1l-.3-6l1.2-3l-.4-4l.5-3l-2.3-4l.5-3l-1.2-3l.8-5l-.2-11l-1.4-4l-.1-3l-1.6-5.2l-1-1.8l-1.1-9l-5.9-8.7l-4-4l-2-.5l-2 .5l-3-1l-4 .3l-2-.7l-1.6-1.9l-1.4-5.5zM261.5 279.5l-1.1 1l-.7 3l-1.9 3l-2 5l-2.3 1.5l-3 .9l-3-.6l-6.9-3.8l-3.1-.4l-9 .7l-6 2l-2-.3l-2-1.2l-3 .9l-2-.6l-2.9 1.9l-3.1 .7l-1 2.9l.3 1.4l2.7 2l1.5 3l-.5 3l-1 1.4l-3 .9l-3-.7l-1.7-1.6l-1.3-2.5l-1-.2l-2.8 .7l-1.4 1l-2.8 4l-1 .8l-1 .1l-3-1l-1 .3l-.6 .8l-.1 1l2.4 2l.8 3l3.4 5l0 1l-1.1 2l.1 2l2.3 2l2.8 1.1l.7 .9l1.3 3.5l3 1.5l2 1.9l3 .7l8 3.2l8 0l6 1.6l3 1.3l3-.7l4 .9l6-4.3l4-.2l1-.5l3.4-2.9l3.3-2l3.1-4l2.6-2l1.6-2.3l2-1l3 1.1l1.9-1.8l.6-1l-.7-2l.2-1l3-.6l1-.8l1-1.8l3-3.3l1-3.5l3.7-4l.7-2l.1-4l1.8-4l-.3-1l-3-1.4l-3-2.5l-6-2.5l-6-8.1l-2-.7l-4 .2zM261.6 309.5l1.9-.4l2 .2l3.7 2.2l.9 3l-.6 2.4l-1 1.4l-5 .3l-3-.6l-2.5-1.5l-.7-1l-.1-2l1.4-2l3-2z"/><path fill="#0000ff" d="M140.8 234l149.2 0l0 11.5l-2.3 1l-.7 2l1.4 2l1.6 .5l0 52.8l-2.5 .8l-1-.1l-1-1.8l0-3.2l2.1-3l0-1l-.6-1l-4.5-2.2l-2.5-1.8l-6.5-2.9l-3.4-5.1l-2.6-2.9l-5-.8l-2.8 .7l-.9 1l-.6 3l-1.3 2l-1.4 4.2l-1.7 1.8l-2.3 .9l-3-.2l-4.5-2.7l-2.5-.7l-11-1l-6-2.5l-7 .1l-1.4-.9l-1.5 0l-2.7 3l-1.5 3l-3.3 2l-.9 2l-.5 3l2.8 1.5l1.9 2.5l.1 3l-1 2l-2 .9l-3-.2l-2.3-1.7l-1.7-3.2l-2.7 .2l-2.5 1l-3.8 3.2l-5.9 .8l-1.4 2l-.5 2l2.4 2l1.3 4l2.8 3l-1 4l.6 2l.8 1l4.9 3l.4 1l-.1 2l-1.3 2l1 .6l2-1l2 .1l3 2.4l3 .5l3 1.8l6 1.4l12 1l2.5 1.2l2.5 2.6l3-1.4l4-.1l2-.7l4-3.4l4 .1l4-1.7l3.6-2.4l5.4-6.7l7-.8l1-.5l3.9-5l.5-2l3.9-5l3.6-7l4.5-2l1.6-1.5l2.5-.2l0 84.2l-59.9 0l-.4-7.5l-.5-1l-6.7-4.6l-7-2l-3 .1l-4-.8l-4 .3l-5 1.4l-2.3-1.4l-2.1-4l-4.6-.5l-5 .2l-4-1l-2-1.3l-1-1.4l-.2-2l4.7-13l-.3-1l-1.2-.4l-1 0l-4 2l-4 .7l-2-.4l-3-2.9l-1 0l-3 1.4l-6 1.7l-3 .1l-2-.7l-1.8 .5l-2.2 1.8l-2 .8l-2 3l-2.3 11.4l-1.7 4.7l-2 1.4l-4.5 .2l0-45.8l2.5 .1l4 1.2l4 0l4 1.3l2 0l1-.7l.8-3.4l1.1-2l3.1-2.4l6-1.7l8 .8l2-.7l1.1-3l-.8-4l1.9-3l-.3-4l1.4-3l2.4-2l.2-1l-.8-1l-3.2-1l0-3l-2.4-3l.4-9l-.8-4l0-3l-1.3-4l-1.1-13l-.5-2l-2.2-4l-10-13.2l-2-1.2l-3 0l-2-1l-5 .2l-1-.4l-1.2-1.4l-1.5-4.5zM263.5 309.5l2 .2l2 .9l1.8 1.9l.1 3l-.9 1.6l-1 .6l-6 0l-2-.6l-1.6-1.6l-.2-2l.8-1.3l3-2.3l2-.4z"/><path fill="#0008ff" d="M141.8 234l6.9 0l-.4 3.5l-.8 .7l-3 .1l-1-.7l-1-1.4l-.7-2.2zM151.2 234l138.8 0l0 10.3l-1.5 .3l-1.3 .9l-1.3 2l-.1 1l1.7 2.7l2.5 1.1l0 49.6l-1.7-.4l1.2-5l-.2-1l-1.1-1l-7.7-4.1l-6.5-2.9l-4.3-6l-2.2-2.4l-6-.8l-3.8 1.2l-.9 1l-.8 3l-1.9 2l.8 2l-.6 2l-1.8 1.4l-2 .6l-2-.5l-4.4-2.5l-9.6-.8l-4-1l-6-2.3l-4-.8l-5-.3l-2 .3l-3.4 2.9l-1.1 3l-2.8 3l-1.1 4l-.2 1l.6 .7l3 1.2l1.6 2.1l.1 3l-1.2 2l-1.5 .6l-3-.2l-1.9-1.4l-1.2-3l-.9-.8l-3 .3l-2 .7l-5 2.8l-5.3 1l-1.9 2l-1.7 4l2.4 2l.7 4l3.1 3l0 4l.9 2l.8 1.2l3 1.2l1.5 1.6l-.5 1.6l-2 1.4l-1 .1l-3-1.5l-1-.2l-1.1 .6l.3 2l2.1 1l1.8 2l4 1l2.9 1.3l3 0l3-1.4l6 1.7l17 1.7l2 .7l1 1l1.4 4l.6 .9l1 .3l4-3.3l6-1.5l3-1.7l13-4.4l4.1-7.3l.9-.6l6-.4l1.9-1l2.1-1.9l1-.2l1-.9l.9-5l3.3-4l1.8-3.5l1.9-2.5l6.1-3.8l1.5-.3l0 82.6l-24.8 0l-.7-1.6l-1 .5l-.3 1.1l-32.1 0l.3-7.5l-.5-2l-4.4-2.3l-3-2.8l-5-.5l-4-1.8l-2 .5l-5-1.4l-7 1.9l-1.1-.6l-2.9-3.6l-1-.5l-10 .3l-4-1l-1.8-1.2l-1-2l.5-3l3.7-9l2.6-3.7l1.9-1.3l-.2-1l-.7-.5l-2.7 1.5l-3.3-.4l-1 .3l-2.1 2.1l-2.9 1l-3-.1l-4-3.3l-7 2.6l-4 .6l-5-.4l-1.7 .6l-3.3 1.9l-1 1l-1 2.4l-1 2.9l-1.4 8.8l-1.6 5l-2 1.7l-4.5 .2l0-44.9l2.5 .2l5 2l4-.2l3 1.7l1 .1l2-.7l.9-1.1l.1-3l.6-2l3.4-3l4-1.4l3-.4l8 1.3l1.9-.5l2.5-4l.1-1l-1.5-2l-.2-1l2.8-3l-.8-3l.5-3l4.3-4l.5-1l-1.1-1.4l-3-.8l-1-1l-2.3-8.8l-1.8-8l-.2-3l-1.2-4l0-11l-.9-4l-3.3-5l-5-6l-4.3-6.1l-2.8-2.9l-1.2-3.6l-2.3-1.4l0-.5zM243.5 272.1l-1 .5l0 2l1 1.1l5 2.5l2 3.3l4-1l.6-1l-.3-1l-5.2-4l-1-2l-5.1-.4zM278.5 267.3l-1 .2l-.6 1l.5 2l1.1 1.1l2 .2l.5-.3l0-1l-1.5-2.4l-1-.8zM235.5 364.5l-1 .2l-.5 .8l.5 1.4l1 .1l.3-.5l-.3-2zM261.2 310.5l3.3-.6l3.7 1.6l1 2l-.7 2.7l-1 .9l-3 .4l-3-.2l-2.2-.8l-.9-1l-.3-2l1.4-1.8l1.7-1.2z"/><path fill="#0018ff" d="M143 234l4 0l-.2 1.5l-1.3 1l-1-.3l-1-.7l-.5-1.5zM155.6 234l123.6 0l.2 2.5l-.9 2l0 1.7l1.4-.7l.2-2l1.1-2l.2-1.5l8.6 0l0 8.8l-2.5 .9l-3.5 3.8l.5 2l2.3 3l1.4 1l1.8 .5l0 16.1l-1.2 .4l.5 1l.7 .1l0 22.8l-15.5-6.9l-1.2-1l-3.2-5l-2.6-2.7l-5-.9l-6 .3l-3.7-2.7l-3.5-4l-6.8 0l-1 1l.2 2l.8 1.2l5.6 3.8l1.2 3l2.2 2l1.4 3l.2 1l-.7 1l-1.9 .9l-1-.1l-4-2.3l-11-.9l-14-4.3l-5-.2l-3 .5l-2 1l-2 2.4l-.7 3l-2.3 3.1l-1.3 4.9l.3 1.2l3 .4l2.3 2.4l.2 3l-1.4 2l-3.1 .4l-2-.8l-1.3-1.6l-.7-3.2l-4 .2l-7 2.7l-6 1.3l-1.3 1l-2.7 4.1l-1 .3l-1-.8l-.6-1.6l.2-2l1.4-1.2l3-1.3l1-1.3l.2-1.2l-1.2-2.3l-4.1-2.7l-2-4l-3.1-10l-1.7-8l-.2-5l.6-6l-.5-3.3l-3.7-5.7l-5.5-6l-5.3-8l-1-2l-.4-4.5zM216.5 243.5l-.8 1l.1 1l.7 .8l3-1.4l2.6-.4l-.1-1l-1.5-.6l-4 .6zM274.5 261.4l-1 .4l-.9 1.7l.9 2.7l4 5.5l2 1l2.3-.2l.9-1l-1.6-4l-.5-4l-1.1-1l-2.8-1l-2.2-.1zM288.2 309.5l1.8-.7l0 81.2l-22.8 0l-.3-4.5l-.5-1l-1.9-.7l-1 .5l-2 2.9l-.5 2.8l-28.7 0l1.2-7.5l-.3-2l-.9-1l-4.8-2.6l-2-3l-1-.7l-4 .6l-2.8-.3l-1.2-1l-1-2.2l-1-.6l-3 2.1l-5-1.3l-1 0l-3 1.6l-2-.6l-2.1-2l-1.9-.9l-10 .7l-5-1l-2-1.8l-.3-1l.8-4l3.5-7.8l2-2.3l2.8-1.9l1-2l-1.4-2l-1.4-.5l-3 .1l-4 1.6l-1 .6l-2 2.4l-2 .9l-3-.7l-3-3l-1-.2l-7 2.9l-9 .2l-5 1.6l-1 .9l-1 2.6l-1.3 4.6l-1.5 9l-1.7 5l-1.5 1.3l-4.5 .3l0-44.1l2.5 .4l6 2.6l3-.3l3 2.2l1-.2l3-1.2l.9-1l-.3-5l1.2-2l1.2-1.1l5-2l3-.4l9 1.8l2.2-.3l1.6-1l1.2-2l1.2-1l.3-1l-.8-3l.3-.6l1-.7l1 0l1 .3l.6 1l0 2l-.9 2l.6 1l3.7 .4l.9 1.6l-.3 5l-.6 .7l-3 1.1l-1.7 4.2l-.2 2l1.9 3l1 .7l6 .3l2.7 1l2.3 2l3-1l6-.1l3-.6l19 1.6l1.9 1.1l2.1 5.5l1 .9l2 .6l1.8-1l2.2-2.7l2.7-1.3l5.3-.1l1-.4l2-2.1l3-1.7l2-.4l2 .6l1-.5l4.5-3.4l3.5-5.9l5-.6l4-2.6l2-.6l1-1.1l.3-5.2l1.2-2l2.9-3l1.6-2.5l6.7-5.5zM147.5 338.8l-2 1.9l0 1.3l1 .8l2-.7l.5-.6l-.2-2l-1.3-.7zM158.5 335.9l-.9 .6l.9 1.1l1 .1l0-1.2l-1-.6zM224.5 367.5l-.6 1l.6 1.1l1-.1l.3-1l-1.3-1zM239.5 354.2l-2 2.3l-1 3.4l-2 1.7l-2-.2l-1 .8l-.8 2.3l0 3l1.8 1.8l3 0l1.5-1.8l.7-4l1.8-3l1.3-4l-.3-2.6l-1 .3zM246.5 349.4l1 .7l.7-.6l-.7-.7l-1 .6zM260.5 345.6l-.5 .9l.5 2l.5-2l-.5-.9zM261.5 348.4l-1 .1l-2 3.1l3 .6l.9-.7l-.9-3.1zM263.5 354l-.4 .5l.4 .9l1 .2l-.3-1.1l-.7-.5zM271.5 338.1l-2 1.2l-2.7 3.2l-.4 1l1 1l3.1-.4l3.5-2.6l.3-2l-.8-1.6l-2 .2zM262 310.5l2.5-.3l3.2 1.3l.8 1l.3 2l-1.2 2l-2.1 .5l-4 0l-2.7-1.5l-.3-2l1.8-2l1.7-1z"/><path fill="#0028ff" d="M156.5 234l121.8 0l-1.1 6.5l.3 1.2l1 .7l1 0l4.3-1.9l.8-1l-.8-3l1.7-1.9l1 .2l2 1.7l1.5 .5l0 4.3l-2.5 .4l-5 3l-1 1l-.3 1.8l2 4l.8 3l1.5 .8l2.2 .2l1.1 1l-1 2l0 2l.7 1.6l1.5 .6l0 6.4l-1.5 .3l-1.2 1.1l.3 1l2.4 .7l0 21.6l-15.5-6.7l-1.5-1.6l-2.5-4l-3-3.1l-5-.9l-6-.2l-2.7-1.8l-4.3-4.6l-6-.1l-2.3 .7l-.3 1l.2 2l1.4 1.8l5 3.6l1 4.1l2 2.5l0 1.9l-1 .2l-2-1.5l-7 .2l-5-.4l-15-4.7l-6-.1l-3 .4l-2 .9l-1.6 2.1l-1 4l-2 3l-1.6 6l.2 1.2l3-.6l2.4 1.4l.6 1l.3 2l-.3 1.5l-1 1.2l-3 .4l-2.2-1.1l-1-2l.2-3.1l-6 .7l-7 2.3l-3.4 .1l-.6-.4l-1.2-3.6l-4.6-4l-2.2-3l-3.3-9l-2.1-9l-.2-5l.8-6l-1.1-5l-2.9-4l-5.9-6l-4-6l-1.8-4l-.5-4.5zM207.5 273.2l-.7 1.3l.7 2.3l1 .7l1-3.2l-.3-.8l-.7-.4l-1 .1zM217.5 242.4l-2 .6l-.9 1.5l.9 3.2l1 .5l3-1.3l3 .6l3.2-3l-.1-1l-2.5-1l-2.6-.5l-3 .4zM271.5 260.5l.4 5l4.7 6l2.9 1.7l2 .1l1.9-.8l.7-1l-1.6-4l-.1-4l-.4-1l-1.5-1l-6-1.9l-2 .1l-1 .8zM263.4 310.5l3.1 .6l1.6 1.4l.2 2l-.8 1.5l-1.3 .5l-3.7 .2l-2-.4l-1.2-.8l-.4-1l.6-1.8l2-1.6l1.9-.6zM289.3 310.5l.7-.1l0 79.6l-21.1 0l-.5-4.5l-.9-1.8l-1-1.3l-1-.4l-3.5-.5l-.4-1l.2-1l2.7-3l3-1l.9-3l-.1-1l-.8-.3l-1 .1l-1 1.1l-1 3.1l-2.6 1l-1 1l-.5 4l.6 3l-1.2 3l-.2 2.5l-25.2 0l-.2-3.5l1-4l-.4-3l-6.3-4.1l-1-1.3l-.2-1.6l.4-2l.8-1.1l4 1.6l4-.4l1-1l.9-5.1l4.1-7.7l1.1-3.3l0-1l-.7-1l-2.4-1.7l-2 .4l-.2-.7l1.2-1l2.6 0l1.4 1l1 2.2l7 1.3l3 1.3l5 .4l6 4.4l3 1.1l3 3l1 .2l.8-.9l.5-3l1.7-3l-1-.7l-4 2.2l-2.8-1.5l-3.1-5l-.1-2l-1.1-3l0-2l-2.4-2l-.6-1l.3-1l1.8-2l2-3.9l1-.3l1.4 1.2l.3 3l-3.6 6l3.9 3.8l1 .2l6-5.6l1-2.4l-.6-4l-1.1-1l-2.3-.1l-1-.7l-.2-1.2l1.2-1.5l4.1-2.5l.7-2l.3-5l1.9-2.7l4-3.4l4 .9l1-.4l-.9-3.4l.5-1l2.2-2zM161.4 323.5l4.2 0l10.9 3.7l2-1.3l1 0l.9 .6l.4 1l-1.2 5l-2.1 2l.8 3l2.5 3l.3 1l-.6 1.8l-1 1.3l-2.8 .9l-1.1 3l-1.1 .6l-3-.8l-1-3.3l-1-.4l-2 .3l-7 3.5l-3-.3l-5 .6l-6-.2l-1 1l-.9 2l-1.7 8l-.4 4l-2.4 9l-1.6 1.9l-4.5 .4l0-43.3l3.5 .8l5 3.1l2.6 .1l.5 1l-1.1 1.6l-.6 3.4l1.6 4.7l1 .8l3.7-4.5l.1-5l3.2-1.7l1-.2l1 .5l1.4 2.4l1.6 4.2l1 .1l2-.6l.6-.7l-.5-2l.1-3l-3.9-2l-2.3-.1l-1.5-1.9l-.7-3l.6-2l2.1-2l5.4-2zM172.5 341.2l-1.2 1.3l.2 1.3l3 1.1l1.5-.4l-2-3l-1.5-.3zM199 343.5l8.5-.7l5 .1l13 1.1l1.5 1.5l1.3 4l1.2 1.7l3 2.2l3.2 .1l-.2 2.8l-1 1.7l-3 0l-3 7.4l-1 .5l-5.1 .6l-.7 1l.9 3l-.2 1l-2.3 1l-1.6 0l-1-.7l-1.5-3.3l-1.5-1.2l-1 .2l-3 2l-2-.3l-1-.7l.7-2l-.7-1l-2.1 0l-2.9 2l-3-.3l-12 1.7l-5-.7l-2.5-1.7l-.4-2l.9-3l3.1-7l1.9-2.2l3.9-2.8l2.1-2.1l4-1.9l2-1.6l1.5-.4zM250.6 343.5l1.9-.2l4 3.2l.8 2l-.6 1l-1.2 .6l-2-.3l-4.7-3.3l-.3-1l2.1-2z"/><path fill="#0038ff" d="M157.2 234l120.6 0l-1.3 7.5l1.9 4l-.4 2l.3 2l.5 1l2.6 2l.1 3l2 1.1l2.1 1.9l.8 2l0 2l.9 1l2.7 1.2l0 3.3l-4.5 1.3l-1-.6l-.7-2.2l1-3l-1.2-2l-2.1-1.2l-4-.9l-3-1.4l-3 .6l-1 .9l.5 5l1.5 3.2l3.4 3.8l2.6 1.9l2 .5l2-.2l4-1.7l3.5 .7l0 20.5l-1.5-.3l-14-6.2l-3.6-5.2l-3.4-3.5l-11-1.4l-1.9-1.1l-3.5-4l-1.6-1.2l-7 0l-2 1.2l-.1 2l.6 2l5.3 4l1.1 2l-.3 4l-1.3 1l-2.3 .4l-8-.5l-15-4.8l-10.2-.1l-.8-1l.8-7l-.8-1.4l-1-.1l-2.1 .5l-.8 1l1.1 6l1.4 2l.1 1l-1.3 3l-.3 3l-2.3 4l-1.8 6l-1 1l-1 .3l-11 2.4l-2-.1l-2.7-3.6l-4.6-4l-2-3l-3.7-8.8l-1.9-8.2l-.2-5l.9-6l-.8-4.3l-2.9-4.7l-6.1-5.7l-4.2-6.3l-1.5-4l-.6-4.5zM175.5 248l.4 1.5l2.6 0l-1-1.3l-1-.4l-1 .2zM179.5 246.4l.2 2.1l2 0l.3-1l-.5-.7l-1-.6l-1 .2zM197.5 240.4l-4 2.1l-.2 1l1.2 .2l4-.6l.9 .4l-.2 1l-1.7 2l9 .4l3.8-3.4l-4.2-3l-1.6-.6l-7 .5zM219.5 241.4l-5 1.1l-.8 1l.8 5.1l1 2l1 0l2-1.7l1-.3l3 .3l5-3.1l7-2.2l1.5-1.1l-.5-.6l-1-.1l-6 .4l-9-.8zM204.5 261.5l-.2 1l.7 1l1.5 .5l.9-.5l0-1l-.9-1.3l-1-.4l-1 .7zM206.1 299.5l1.4 .2l1 .8l1 2l-.6 3l-1.4 .8l-3-.3l-1-.6l-.9-1.9l.9-2.8l2.6-1.2zM261.6 311.5l2.9-.6l2.1 .6l1.1 1l.3 1l-.5 1.8l-1 .7l-4 .3l-2.5-.8l-.7-1l.1-1l2.2-2zM281.2 318.5l1.3-.6l1 .1l6.5 2.5l0 69.5l-19.4 0l-.6-4.5l-1.5-3l.5-4l2.5-7l0-1.1l-1-1.3l-5 1.4l-3.1 4l-3.9 2.6l-3 1.1l-1 1.3l-.8 3l.8 .7l3 .2l1.3 1.1l.1 1l-1.1 2l0 2.5l-21.9 0l-.3-3.5l.8-8l-4.6-3l-.4-2l1.1-1l5-.6l.6-.4l1-7l4.6-8l1.8-2.1l2-.6l3 .2l9 2.2l5 3.4l4 1.9l1.6 2l.7 3l.7 .7l2-1.4l1-2.3l.6-4l1.7-4l-.3-2.6l-2.6-4.4l-.1-1l.3-2l1.4-2l.9-3l-.6-5l-1-3l2.1-4l.3-6l1.3-1.8l2.7-2.2zM159.1 324.5l3.4-.8l2 0l6 1.6l2.2 1.2l.9 1l.4 3l-2.5 2.5l-6 3.3l-2-.2l-8-3l-1.3-1.6l-.3-3l1.6-2.2l3.6-1.8zM134 332.5l0-.5l1.5 .2l3 1.1l1.9 1.2l1.7 2l2.3 11l-2.2 16l-1.7 7l-1 2.4l-1 1l-4 .6l-.5 0l0-42zM171.5 335.5l2-.9l1 .5l1.4 2.4l-.3 2l-3.1-.1l-4 1.1l-2 1.3l-.2-2.3l3.2-1.4l2-2.6zM152 339.5l.5-.8l2 .2l1 1.2l1.3 3.4l-.8 2l-3.5 1.8l-2.3-.8l1.1-3l.7-4zM176 340.5l.5-.8l1.5 .8l.4 1l-.9 .4l-1-.3l-.5-1.1zM208.1 343.5l5.4 0l5 .7l6 .2l1.6 1.1l1.9 5l2.1 3l-1 4l.1 4l-.7 2l-1 1l-6 1.2l-1.8 1.8l-.2 2.2l-1-.1l-.6-2.1l-1.3-1l-8.1-2.2l-5 .5l-4 .8l-3 1.3l-8 1.5l-5-.3l-2.9-1.6l-.5-2l.4-2l3.7-8l1.3-1.5l6.1-4.5l7.6-4l8.9-1z"/><path fill="#0048ff" d="M157.8 234l119.5 0l-1.4 6.5l.1 5l-1.3 8l-.2 .7l-2 1.3l-2.5 3l-.5 1l.2 2l.9 4l.9 1.8l6 6.1l2 .8l2 .2l5-1.5l3.5 .3l0 19.5l-1.5-.2l-13.6-6l-6.4-8.4l-2-.8l-10-1.3l-1.1-.5l-3.9-4.3l-2-1.4l-8 .3l-1.7 1.4l.7 4.2l4.9 3.8l1.4 2l.1 2l-.8 2l-1.6 .8l-3 .2l-6-.5l-15-5l-9-.1l-1-1.4l.4-7l-.7-1l-1.7-.3l-3 .9l-1 1.4l1.4 8l-.4 3l.5 3l-4.5 10.9l-9 2.4l-4 .2l-3.3-3.5l-3.8-3l-5.9-10.7l-2.6-10.3l-.1-4l1.1-6l-1-5l-2.3-4l-6.1-5.2l-4.6-6.8l-1.7-5l-.4-3.5zM174.5 243.4l-1.1 1.1l-.4 2l.6 2l1.8 2l3.1 .3l3.7-1.3l1-1l0-2l-1.7-2.1l-2-.8l-2 .2l-3-.4zM201.5 238.5l-5 .6l-2.5 1.4l-1.9 2l-.2 1l.6 1.2l4 3.1l2 .4l8-.4l6-3.4l.9 2.1l.6 5l.5 .8l1 .1l4-2.5l3-.1l5-2.7l8-3.1l2.6-2.5l-1.6-.6l-8 .4l-8-.5l-5 .8l-3 1.1l-6-3.3l-5-.9zM255.5 261.5l-.3 1l.3 1.7l2 .9l1 .1l1.6-.7l-.7-1l1.1-.6l.3 1.6l.7 .2l1.6-.2l.9-1l-.5-1.8l-1-.4l-5-.8l-2 1zM204.5 256.4l-2 1.7l-.2 3.4l1.1 2l1.2 1l1.9 .6l1-.1l2-2.3l.8-3.2l-.8-1.6l-1.7-1.4l-1.3-.4l-2 .3zM275.9 255.5l2 0l.8 1l-.2 .5l-1.1 .5l-1.5-2zM204.5 300.5l2-.7l2 1.1l.7 2.6l-.7 2l-3 .5l-2-1.1l-.6-1.4l.2-1l1.4-2zM262.5 311.5l2-.3l2 .7l1 1.2l0 1.4l-1 1l-1 .2l-4.7-.2l-.9-1l.1-1l2.5-2zM280.9 319.5l1.6-.6l1 .2l3 1.1l2 1.6l1.5 .6l0 67.6l-17.9 0l-.4-4.5l-.9-3l.7-3l.1-4l1.4-4l.1-3l1.4-2.7l1.3-6.3l1.7-4l0-2.4l-1.6-3.6l-.3-3l1.4-5l-.5-9l1.1-4l.1-5l.8-2l2.4-2zM160.4 324.5l4.1-.5l6 1.9l2 1.6l.3 2l-.4 1l-2 2l-4.9 2.4l-4-.3l-6-2.3l-1.2-1.8l.2-2.4l2.8-2.6l3.1-1zM134 332.5l3.5 .8l3.1 2.2l1.4 3l1.5 9l-1.7 16l-1.3 5.9l-2 4l-4 .7l-.5 0l0-41.6zM153.3 341.5l1.2 .2l.8 1.8l-.8 1.1l-1 .3l-.7-1.4l.5-2zM206.2 344.5l7.3-.5l11.5 1.5l3.8 8l-.8 4l.2 4l-.9 2l-1.8 .8l-3 .1l-4 1.1l-8.1-2l-6.9 .2l-4 .9l-4 1.9l-7 1.4l-5-.3l-2.3-1.1l-.6-2l.5-2l3.1-7l1.3-1.7l7-4.9l5-2.1l2-1.4l6.7-.9zM246.7 355.5l4.8-.5l9 2.8l4 2.8l3 1.1l1 .8l1 2l-.2 2l-.8 1.2l-4.6 2.8l-3.4 4l-6 3l-3.7 5l-.8 4l.5 .6l2-1.2l1-.1l.6 .7l0 3.5l-4.1 0l-.5-2.7l-1 1.2l-.2 1.5l-11.5 0l-.2-3.5l1.6-10l-.7-.5l-3-.1l-1.1-1.4l1.1-1.2l4 .4l.8-1.2l.1-6l.5-2l2.9-4l1.7-3.8l2.2-1.2z"/><path fill="#0058ff" d="M158.4 234l96.5 0l-.5 1.5l1.1 .3l1.7-.3l1-1.5l18.5 0l-1.5 6.5l-.4 5l-1.9 6l-1.4 2l-1.1 3l-1.5 2l-.3 2l2.4 7l3.6 4l2.9 2.5l4 1.1l5-1.5l3.5 .1l0 18.5l-2.6-.7l-11.9-5.2l-1.1-.8l-2.5-4l-3.4-4l-12-2.1l-5-4.9l-2-1.3l-7 .2l-2 .5l-1 .7l-.4 1.9l.6 3l.8 1.2l5.1 3.8l.6 2l-.3 2l-.9 1l-3.5 .5l-6-.5l-9.5-3l-4.5-1.9l-9-.2l-1-.7l-.4-1.2l.7-6l-1.3-1.9l-1-.2l-4 .7l-3 1.4l-2-.4l-.2 .4l.2 2.5l2 .2l1.5 2.3l0 4l-.8 2l1.8 4l-3.7 9l-.8 .9l-4 1.5l-5 1.1l-2-.2l-1.4-1.3l-.3-1l1.9-2l-.3-2l1-2l-.3-1l-3.6 .2l-.8 .8l-.6 3l-1.6 .3l-1-.7l-.7-1.6l.1-1l1-1l-.1-1l-4.3-2.6l-2-2.8l-1.1-2.6l-2.1-8l.1-5l1.1-5l-1.3-6l-2.6-4l-4.1-3l-3-3.2l-3.5-5.8l-1.4-5l-.2-2.5zM174.5 242.4l-2 2l-.3 2.1l.6 2l1.7 2.2l2 .8l2 .1l4.9-2.1l.8-3l-.9-2l-2.8-1.9l-6-.2zM196.5 238.2l-3 1.7l-2.3 2.6l.3 1.9l1 1.3l5 3.3l9-.5l5-2.7l1 .3l.3 6.4l.7 1.6l3-.9l3-2.2l3-.5l13-5.7l4.3-3.3l-.6-1l-1.7-.4l-9 .5l-8-.4l-8 1.5l-7-3.4l-4-.6l-5 .5zM257.5 259.4l-2 .7l-1.2 1.4l-.1 2l.3 1l1 1l3 .9l2 .1l3-.9l1.2-1.1l.4-2l-.6-1.4l-1-.8l-3-1.1l-3 .2zM193.5 288.5l-1.9 2l2.2 2l3.7 1.1l-2.3-3.1l-.7-1.9l-1-.1zM204.5 255.4l-2 .9l-.9 1.2l-.6 2l.1 2l1.2 2l2.2 1.7l3 .6l2.6-2.3l1.1-4l-.9-2l-1.8-1.7l-2-.6l-2 .2zM205.3 300.5l2.2-.1l1.1 1.1l.1 3l-.9 1l-2.3 .2l-1.9-1.2l-.2-2l1.9-2zM261.9 312.5l2.6-.8l2 .7l.5 1.1l-.5 1.2l-1 .3l-4 0l-.9-.5l.2-1l1.1-1zM280.6 320.5l1.9-.7l1 .3l3 1.3l2 2l1.5 .5l0 66.1l-16.7 0l-1-7.5l.1-6l1.4-4l.4-4l1.8-8l2.2-6l-.1-2l-1.4-4l1.1-7l-.3-9l.9-4l0-5l1.1-2l1.1-1zM162 324.5l2.9 0l5.7 2l1.1 1l.3 1l-.5 2l-2.6 2l-4.4 1.6l-4-.4l-5-2.1l-.9-2.1l.9-2l2.9-2l3.6-1zM134 333.5l0-.5l.5 0l3 .8l2 1.2l1.1 1.5l.9 3l1.3 8l-1.3 15.9l-1.2 5.1l-1.8 4l-2 1l-2 .2l-.5 0l0-40.2zM205.5 345.5l4-.9l4 0l11 1.8l3.2 7.1l-.9 5l.4 3l-.7 1.4l-1.4 .6l-7.6 .9l-7-1.9l-4 .5l-4-.2l-3 1l-4 2l-8 1.6l-4-.3l-2-1.2l-.2-2.4l1.9-5l1.5-3l1.8-1.9l6.6-4.1l5-2l2.4-1.6l5-.4zM247.5 356.5l4-.5l9 2.7l4 2.8l3 1l1 1.5l.1 1.5l-1.1 1.7l-4 2.4l-4 4.3l-5.2 2.6l-4.2 5l-3.2 7l-.2 1.5l-9 0l-.3-2.5l.6-6l2.6-7l-.6-5l.2-4l1.1-2l2.2-2.2l1.6-3.8l2.4-1z"/><path fill="#0068ff" d="M159.2 234l15.9 0l.4 .9l1-.2l.1-.7l76 0l0 .5l-2.1 .8l-.6 1.2l.6 .6l2 .6l6-1.7l1.1-.5l.9-1.5l15.5 0l-.5 3.5l-1.1 3l-.3 4l-3.7 8l-.9 3.9l-2.3 3.1l.1 1l3 7l2.3 3l4.9 4.4l5 1.3l3.6-1.7l3.9-.2l0 17.2l-3.6-1l-11.1-5l-5-7l-1.8-1.8l-12-2.1l-5-4.9l-2-1.2l-8 .4l-1.9 .6l-1.2 1l-.2 1l1.3 5l4.1 3l1.8 3l0 1l-.9 1.4l-4 .7l-6-1.1l-8-2.6l-5-2.3l-4 .5l-4.8-.6l-.7-2l1.1-4l-.7-3l-.9-.8l-2-.3l-6 .9l-1.6-.8l-1.4-1.7l-1.1 2.7l-.3 3l.4 3l1 2l-4.5 7l-5.5 3.4l-2 .4l-4-.2l-5-3.2l-1.4-1.4l-2.3-4l-1.8-6l-.2-5l.7-3.3l5-6.7l.4-1l-.4-1l-1 0l-1 .7l-.9 2.3l-1.1 .9l-1-1.8l-.8-3.1l-1.2-2l-1.9-2l-5.3-4l-2.1-4l-2.4-3l-1.4-5l-.2-2.5zM174.5 241.3l-2 1.6l-1 2.6l.5 3l1.5 2.2l2 1.4l3 .3l5-1.9l1.5-3l.1-2l-.6-1.3l-4-2.7l-6-.2zM188.5 254.5l-.1 1l3.5 2l1.4 0l-1.7-2l-3.1-1zM196.5 237.4l-3.9 2.1l-1.7 2l-.5 2l1.1 2l4 3.4l2 1l10-.9l4-1.9l.4 1.4l-.9 3l.7 4l.8 .9l5-2.5l3-2.2l3-.7l9-4.4l3-.9l8-5.4l4.2-1.8l-3.2-.7l-4 1.5l-6 .1l-3-.4l-3 .8l-8-.3l-8 1.4l-6-3.1l-5-.9l-5 .5zM257.5 258.5l-2 .4l-1.8 1.6l-.4 3l.8 2l2.4 1.2l3 .7l3-.3l2-.9l1.6-2.7l-.1-2l-.6-1l-2.9-1.9l-3-.4l-2 .3zM194.5 258.1l-.5 .4l1.5 2l1.7 0l.4-1l-.6-1l-2.5-.4zM205.5 254.4l-4 1.3l-1.7 3.8l-.1 2l1.2 2l1.6 1.3l2 1.3l3 .5l2-1.1l1.6-2l1.2-3l0-2l-1.1-2l-1.7-1.3l-2-.8l-2 0zM199.7 288.5l.8-.2l1.7 1.2l-.1 1l-.6 .7l-1 .1l-1.9-1.8l1.1-1zM192.9 296.5l1.6-.7l2.1 .7l-.7 1l-3.4 .5l-.3-.5l.7-1zM204.8 301.5l1.7-.9l1 .4l1 1.5l-.4 2l-1.6 .8l-2.3-.8l-.4-1l1-2zM263.9 312.5l1.6 .1l.5 .9l-1.5 .5l-1.7-.5l1.1-1zM280.9 321.5l1.6-.5l1.6 .5l1.4 .7l2 2.2l2.5 .8l0 64.8l-15.6 0l-.8-6.5l.5-3l-.8-4l1.4-4l.2-4l1.4-7l2.4-7l.1-2l-1.1-4l1-7l-.3-8l.9-4l.3-6l1.3-2zM160.8 325.5l3.7-.4l4.5 1.4l1.7 1l.3 2l-1.5 1.6l-3 1.5l-4 .7l-2-.4l-4-1.8l-.9-.6l-.2-1l.4-1l2.1-2l2.9-1zM134 334.5l0-.9l3.5 .8l2.4 2.1l2.2 11l-1.1 15l-1.5 6.9l-1 1.5l-2.5 1.6l-1.5 .4l-.5 0l0-38.4zM207.9 345.5l5.6-.2l3 1l5 .6l2 .8l1 1.1l2 4.7l0 2l-.9 3l.3 3l-.4 .6l-1 .5l-8 .5l-3-.5l-4-1.8l-3 1.2l-4-.2l-4 1.4l-3 1.8l-6.6 1.5l-5.4-.1l-1.3-.9l-.1-2l1.5-5l1.9-3.2l1.9-1.8l14.1-6.7l3 0l3.4-1.3zM248.9 357.5l2.6-.3l9 2.6l4 2.9l2.6 .8l.4 1.8l-1 1.1l-3-.2l-.9 2.3l-2.1 2.5l-2.8 2.5l-3.2 1.3l-4 4l-1.2 1.7l-1.3 4l-3.7 5.5l-5.6 0l-.3-2.5l.5-6l3-7l-1.1-5l.3-4l3.9-4l.8-3l3.1-1z"/><path fill="#0078ff" d="M164.7 234l4.1 0l0 .5l2.7 2.8l0 2.5l-2-.9l-1 .1l-1.2 .5l-2.3 2l-1.5 .1l-1-.4l-.6-.7l-1.1-4l.7-1.3l2 2.5l1 .3l1-.5l.1-1l-.9-2.5zM179.1 234l2.8 0l0 2.5l-.4 .4l-2 .5l-.5-.9l.1-2.5zM191.5 234l24.8 0l-.3 2.5l2.5 .3l.8 .7l-2.4 2l-4.4 .5l-5-3.1l-8-1.8l-7 2.4l-.9-1l-.1-2.5zM221.1 234l2.5 0l.9 1.9l3 0l1.7 1.6l-.7 1l-3-.6l-2 .8l-1.8-.2l-2-1l-.1-1l1.5-2.5zM232.9 234l7 0l0 .5l-.4 1.5l-4 1.2l-1.4-.7l-1.2-2.5zM245.3 234l4 0l0 .5l-.8 1.1l-2 .4l-.7-.5l-.5-1.5zM257.3 237.5l2.2-.2l.6 1.2l-.9 3l-.9 1l-6.8 2.9l-2.8-1.9l-.1-1l1.9-2.3l6.8-2.7zM182.8 238.5l.7-.6l1 .2l3.8 1.4l1.3 1l-1.1 1.3l-1 .3l-3-.1l-1.7-1.5l0-2zM267.1 239.5l1.4-.3l.5 .3l-.5 1.5l-1 .6l-1-.5l.6-1.6zM244.8 241.5l3.4 1l.1 1l-1.8 2.1l-3 0l-4 2.5l-3 4.9l-1 .3l-1-.7l-.6-2.1l-1.4-.5l-2.3 2.5l-.7 3.1l-1.4-.1l-.6-2.1l-2-.2l-1 .4l-.6 1.9l-2.4 2.6l-1 .4l-2-.6l-2 .4l-.5-.8l.2-1l2.3-.8l3-3l7-2.6l4.8-2.6l3.2-.7l2.6-2.3l5.7-3zM272.4 241.5l1 1l-.7 2l-2.2 2.9l-1.9 1.1l-.7 2l-.4 .4l-1-.4l-1.6-2l.6-.9l2-.1l2-2.2l.7-2.8l2.2-1zM169 243.5l1.5-.6l.1 4.6l2 4l-.1 .7l-2.7-1.7l-2.4-3l-.1-1l1.7-3zM188.1 243.5l.4-.5l1 1l5.7 6.5l-2.7 1.3l-4.1-1.3l-.9 .3l-2 2l-1.2-.3l1.5-3l1.5-5l.8-1zM257.1 247.5l1.7 0l.7 .7l2 5.5l.4 2.8l-.4 .2l-2-.3l-3 .7l-1.3-.6l-.5-1l-1.1-4l.1-2l.8-1.1l2.6-.9zM200.3 250.5l3.2 .6l3-.7l.4 .1l-.1 1l-1.3 1.3l-4 .3l-1-.3l-1.1-1.3l.9-1zM173 252.5l2.1 1l-.6 1l-1.5-2zM241.8 252.5l2.7-.9l3 1.1l1 .8l.5 2l2.5 1.4l.7 2.6l-.7 4.8l-3 .9l-.5 1.3l-2.3 1l-6.2 .9l-3-.6l-2-1l-2 3.7l.4 1l1.6 1.8l1 .3l1-.4l1 .5l.5 2.8l1.5 2.3l2 .7l1.3 1l.7 3l-1.6 1l-2.7 0l-6.7-1.8l-2-1.8l-2 .4l-1.8-.8l-.8-2l1.6-1.6l2-1l.9-1.4l.1-2.1l-1-1.2l-1 .2l-3.4 3.1l-1.6 2.5l-3 .2l-1.4 1.3l-1.6 .6l-1.2-.6l-.2-5l1.4-.6l3 .6l1-.4l.3-.6l-.3-2.2l-2-1.8l.1-1l1.6-2l-.5-3l.8-.6l3 .2l2-1.8l3-1.1l2-2.1l3 0l2-1.8l5.3-2.8zM246.5 255.1l-2.3 2.4l-8.7 2.8l-2 1.9l-1 .1l-1 .7l.2 1.5l2.8 1.7l2-3.9l11 .8l.8-1.6l-.4-2l1-3l-.5-1l-.9-.5l-1 .1zM267.1 254.5l.4-.4l1 .4l0 1.2l-1 .9l-1.1-1.1l.7-1zM184.4 257.5l3.1-.7l5 2.2l3.8 3.5l2.6 6l-.5 4l.3 6l-.9 2l-3.3 5l-4 2.6l-2 .6l-4-.4l-5-3.5l-3-4.5l-2.1-6.8l0-5l.7-2l6.4-7.8l2.9-1.2zM214.4 262.5l1.3 1l-.2 .3l-2-.3l.9-1zM267.4 266.5l1.1 0l2.1 3l-.1 1.4l-1.4 1.6l.4 2l-1.5 1l-2.6 0l-3.9-1.5l-3.9-.5l-2.1-2l-2-1l-1.5-2l0-1l.5-.6l1-.2l5.4 1.8l.6 .6l3-.7l3 1.7l1-.1l.7-1.5l.2-2zM213.4 267.5l3.1-.9l1.5 .9l.2 1l-3.7 .4l-.9-.4l-.2-1zM271.1 273.5l1.4-.5l2.2 1.5l-1.8 2l0 1l4.4 1l1.6 1l-.5 1l-1.4 1l-.5 1.4l2 .4l2-1.7l2-.3l1.4 1.2l1.4 4l2.7 1l.5 1.2l-.9 .8l-1.1-.2l-5.4-2.8l-1.6-1.4l-2-.1l-1.1-.5l-2.9-3l-1.4-3l-2.6-4l1.6-1zM286.3 276.5l3.7-.4l0 7.5l-2.5-.4l-2.5-2.7l0-2l1.3-2zM206.3 301.5l1.2 .7l0 1.2l-2 .8l-.8-.7l1.6-2zM282.1 324.5l.4-.5l1-.1l2 2.6l1.6 1l-.4 2l.8 .5l2.5-.3l0 55.5l-1.5 .8l-3.3 3.5l0 .5l-8.9 0l0-2.5l-.8-1l-.7-2l1-4l-1.4-4l.9-4l1.2-10l2.4-7l.6-3l-.2-8l.7-3l-.6-3l.2-4l1.3-4l.2-4l1-2zM162.4 326.5l1.1-.4l2 .4l.7 1l-.3 1l-1.4 .9l-1-.5l-1.3-1.4l.2-1zM134 334.5l3.5 .7l1.6 1.3l2.2 10l-1.1 16l-1.7 6.5l-1-.1l-2-1.1l-1.5 .1l0-2.8l1.1-.6l.2-1l-.4-1l-.9-.2l0-27.8zM206.9 346.5l2.6-.8l3 .1l2.3 .7l3.5 2l.8 1l-.1 1l-2.2 4l.7 1l1 .2l2-.8l1 .1l1.5 1.5l-1 1l-1.5 1l-1 0l-3-1.3l-4 .7l-1-.4l-.4-1l-1.3-1l-3.3-.2l-3-1.5l-3.3 1.7l.4 1l2.4 2l.3 1l-1.4 1l-1.4 .6l-2 0l-1 .4l-2 2.3l-5 1.2l-3 .5l-4-.9l-.2-3.1l.7-3l1.5-2.4l2-2.1l2-1.2l3-.6l2 .5l2 1.4l1-.2l2.5-1.4l1.6-3l5.3-3zM213.9 360.5l1.6-.4l1.4 .4l-.4 .9l-1 .2l-1.6-1.1zM251.5 361.5l1-.5l2-.2l4 1.4l2-.2l1.3 1.5l-.3 2l-1.8 3l-3.2 .4l-2.7 3.6l-1.3 .8l-3.4-3.8l-1.5-4l.1-1l3.8-3zM242.2 366.5l1.3-.5l2.2 .5l.3 1l-.5 4l-1 .7l-2-1.2l-.7-1.5l.4-3zM245.3 381.5l1.2-.7l1 1.7l-1 2.1l-1 .8l-1-.9l.8-3zM240.1 386.5l.4-.5l1.3 .5l-.3 1.2l-1 .6l-.5-.8l.1-1z"/><path fill="#0088ff" d="M183.5 258.5l4-.9l2 .6l3 1.6l3.5 3.7l2.1 5l-.1 9l-.5 2l-4 5.9l-3 2l-2 .7l-4-.4l-4.4-3.2l-3.3-5l-1.7-5l-.1-5l.5-2.2l6-7.7l2-1.1zM223.4 268.5l1.1-.3l.3 1.3l-.3 .3l-.4-.3l-.7-1zM289.4 331.5l.6 0l0 2.7l-1.4-.7l-.3-1l1.1-1zM134 335.5l2.5 .2l2 1.7l2.2 10.1l-1.6 10l-1.6 1.9l-3 .9l-.5 0l0-24.8zM287.1 338.5l1.4-.8l1.5-.1l0 45.5l-.5 0l-4 4.7l-1 .5l-2 0l-1.7-.8l-1.1-2l-2.3-2l-.9-4.8l-.9-2.2l.5-9l1.6-8l2.8-7.6l2-2.7l.2-1.7l-.5-2l1.9-4l3-3zM208.1 346.5l1.4-.4l3 .3l2 .7l2 1.4l.7 1l0 2l-1.7 2.6l-2 1l-5-.4l-2-.5l-2.2-1.7l-.5-1l.2-2l1.5-1.5l2.6-1.5zM189 353.5l2.5-.6l2 .2l1.6 1.4l1 3l-1 3l-1.6 1.8l-4 1.8l-2 .2l-3-1.5l-.6-2.3l.5-2l1.1-1.8l3.5-3.2zM250.7 363.5l1.8-.7l1 .2l1.6 1.5l.8 2l-1.2 3l-2.2 1.4l-2.3-1.4l-1-2l0-2l1.5-2z"/><path fill="#0098ff" d="M185.5 258.5l3-.1l4 2.1l2.8 3l2.2 5l-.2 9l-.5 2l-3.3 5l-2.6 2l-2.4 1.1l-2 0l-2-.6l-4-3l-3.5-5.5l-1.5-5l.2-5l2.3-4l3.5-4.3l4-1.7zM134 336.5l0-.6l1.5 .2l2.1 1.4l1.4 4l1.2 6l-1.2 7l-.7 2l-1.8 2.1l-2 .8l-.5 0l0-22.9zM286.6 339.5l.9-.7l2.5-.2l0 43.2l-1.2 .7l-3.3 4.2l-2 .7l-2-1.2l-2.9-3.7l-.8-2l-1.4-6l.1-8l1-4.9l2.9-8.1l2.8-4l.6-6l2.8-4zM207.1 347.5l1.4-.7l2-.2l4 1.1l1.9 1.8l.2 1l-.6 2l-2.5 1.8l-5-.2l-2-.6l-1.3-1l-.6-2l.9-1.7l1.6-1.3zM190.2 353.5l2.3-.1l1.9 1.1l.8 2l-.6 3l-1.1 1.8l-3 1.7l-2 .5l-2-.3l-1.9-1.7l.2-3l3.4-4l2-1zM250.5 364.5l2-.8l1 .3l1.3 1.5l.2 2l-1.5 2.2l-1 .3l-1-.2l-1.3-1.3l-.4-2l.7-2z"/><path fill="#00a8ff" d="M183.9 259.5l3.6-.7l4 1.6l3.2 3.1l2.3 5l-.1 5l-1 6l-3.5 5l-3.9 2.4l-3.6-.4l-3.4-2.3l-3.5-4.7l-2-5l.1-5l.6-2l3.8-5.6l2-1.8l1.4-.6zM134 336.5l1.5 .2l1.9 1.8l.9 2l1.5 7l-1.7 8l-1.6 2.2l-2 .9l-.5 0l0-22.1zM287.2 339.5l2.8-.6l0 41.8l-1.5 .8l-3 4.2l-1 .7l-1 .1l-2-1.6l-2.9-4.4l-1.7-6l0-8l.6-3.5l3.1-8.5l2.9-4.1l.4-5.9l1.5-3l1.8-2zM208 347.5l2.5-.5l4 1.3l1.2 1.2l.3 1l-.5 1.9l-1 .9l-2 .6l-4-.2l-2-.8l-1.2-1.4l-.1-1l1.2-2l1.6-1zM188.8 354.5l1.7-.7l3 .4l1 1.3l.2 2l-1.1 3l-1.1 .9l-3 1.4l-2 .2l-2.4-1.5l-.3-2l1.1-2l2.9-3zM251.4 364.5l1.1-.2l1 .5l.9 1.7l-.7 2l-1.2 .7l-1-.3l-1.1-1.4l.1-2l.9-1z"/><path fill="#00b8ff" d="M185.9 259.5l1.6-.1l2 .6l3.8 2.5l2.4 4l.8 3l-.2 5l-1.4 5l-4 5l-1.4 1.1l-2 .6l-3-.9l-4-3l-2.7-3.8l-1.5-5l.4-5l2.1-4l3.7-3.9l3.4-1.1zM134 337.5l0-.6l1.5 .3l1.9 2.3l.8 2l1.2 6l-1.3 7l-1.6 2.5l-2 1.1l-.5 0l0-20.6zM288 339.5l2-.3l0 40.5l-1.5 .5l-4 5.1l-1 .1l-2-1.7l-2-3.1l-1.8-5.1l-.5-2l0-7l.6-3l3.6-9l2.1-3l.5-6l.7-2l1.7-3l1.6-1zM209.2 347.5l2.3 .1l3 1.4l1 1.5l-.8 2l-1.2 .6l-2 .2l-3-.2l-2-.9l-.7-1.7l.4-1l3-2zM189.4 354.5l2.1-.4l2 .7l.8 1.7l-.3 2l-1.5 2.4l-3 1.4l-2 .2l-1.8-1l-.5-2l1.1-2l3.1-3zM251.4 365.5l1.1-.3l.6 .3l.4 1.1l-1 1.2l-1.1-.3l0-2z"/><path fill="#00c8ff" d="M183.7 260.5l3.8-.7l4 1.8l2.7 2.9l1.9 5l-.2 5l-1.7 5l-3.7 4l-3 1.6l-2-.2l-4-2.1l-2.7-3.3l-2.1-5l0-5l1.2-3l2.6-3.8l3.2-2.2zM134 337.5l1.5 .2l1.5 1.8l.9 2l1.3 6l-1.4 7l-1.3 1.8l-2 1.2l-.5 0l0-20zM286.8 340.5l1.7-.9l1.5-.1l0 33.2l-.5 0l-.2 .8l.2 2.2l.5 0l0 2.4l-2.5 1.3l-4 4.3l-1-.6l-2-2.7l-2.5-4.9l-.4-2l0-7l.7-3l2-3l3.6-9l.7-7l2.2-4zM208.2 348.5l1.3-.5l2.8 .5l2.2 1.5l.1 1.5l-1.1 1l-1 .2l-4.3-.2l-1.4-1l-.3-1l1.7-2zM191.2 354.5l1.3 .2l1.1 .8l.2 2l-.6 2l-.9 1l-2.8 1.3l-2 .1l-1-.4l-.8-1l.4-2l2.7-3l2.4-1z"/><path fill="#00d8ff" d="M185 260.5l3.5 0l4 2.3l2.3 3.7l1 4l-.3 4l-1.9 5l-3.1 3.4l-2 1.1l-2 .4l-4-1.3l-2-1.8l-2.5-3.8l-1.2-4l.2-4l1.8-4l2.7-3.4l3.5-1.6zM134 338.5l0-.8l1.5 .5l1.7 2.3l1.7 7l-1.5 7l-.9 1.3l-2 1.3l-.5 0l0-18.6zM287.1 340.5l1.4-.7l1.5-.1l0 22.3l-2.6 .5l1.7 3l.3 5l-.9 2.6l-.4 3.4l-1 2l-1.6 1.6l-2 .7l-2-.7l-1-1l-2.5-4.6l-.2-8l.7-2.3l2-2.5l2-.5l4.1 .3l-2.9-3l-.1-4l.9-4l.3-6l2.3-4zM208.2 349.5l1.3-.7l2.3 .7l1.1 1l-.3 1l-4.1 0l-.7-1l.4-1zM189.4 355.5l2.1-.5l1.4 .5l.5 1l-.3 2l-.6 1.2l-1 .8l-2.9 1l-1.1-.2l-1.1-.8l-.1-1l3.1-4z"/><path fill="#02e8f4" d="M183 261.5l2.5-.8l2 0l4 1.7l2.4 3.1l1.4 4l0 4l-1.5 5l-3.3 3.9l-3 1.4l-2 0l-2-.5l-2-1.3l-2.8-3.5l-1.6-4l-.1-4l.9-3l2.5-4l2.6-2zM134 338.5l0-.4l.5 0l1 .5l1.5 1.9l1.7 7l-1.2 6.2l-1 1.7l-2 1.3l-.5 0l0-18.2zM287.4 340.5l2.6-.6l0 20.9l-1.5 .1l-2.4-1.4l-1.2-2l-.7-3l.5-9l1.1-3l1.6-2zM189.3 356.5l2.2-1l1 .6l.1 2.4l-1.1 1.3l-3 .8l-1.1-1.1l1.9-3zM280.5 362.5l1-.5l2-.1l3 1.3l1.5 2.3l.9 4l-1.8 8l-2.6 2.4l-2 .1l-1-.6l-1.6-1.9l-1.6-3l-.2-8l.7-2l1.7-2z"/><path fill="#0ff8e7" d="M183.7 261.5l3.8-.5l4 1.8l2.6 3.7l.9 3l0 4l-1 4l-1.9 3l-1.6 1.5l-3 1.4l-3-.1l-3-1.6l-2.7-3.2l-1.5-4l-.1-4l1-3l2.3-3.8l3.2-2.2zM134 338.5l1.5 .5l1.2 1.5l1.7 7l-1.1 6l-.8 1.5l-2 1.4l-.5 0l0-17.9zM287.8 340.5l2.2-.4l0 20.1l-1.5 0l-2-1.2l-1-1.5l-.8-3l.2-9l1.1-3l1.8-2zM190.3 357.5l1.2-.2l-.4 1.2l-.9 0l.1-1zM281.6 362.5l2.9 .1l1.6 .9l1.3 2l1 4l-1.4 7l-1.5 2.4l-2 .7l-2-.7l-1-1.1l-1.6-2.3l-.6-2l0-6l.4-2l1.3-2l1.6-1z"/><path fill="#1cffdb" d="M184.8 261.5l2.7-.2l4 1.9l2.3 3.3l1 4l-.1 3l-1.5 5l-2.7 3.2l-2 1.2l-2 .4l-3-.6l-3-2.2l-2.4-4l-.8-3l.3-4l1.8-4l2.1-2.5l3.3-1.5zM134 339.5l0-.7l.5 0l2 1.9l1.7 6.8l-1.1 6l-1.6 2l-1 .5l-.5 0l0-16.5zM288.3 340.5l1.7-.2l0 19.4l-1.5 0l-1.8-1.2l-1.7-5l.1-8l1.1-3l2.1-2zM280.5 363.5l2-.8l3 .8l1.4 2l1.2 4l-1.4 7l-1.2 1.9l-1 .7l-2 0l-1-.7l-2.8-3.9l-.1-8l1.9-3z"/><path fill="#29ffce" d="M182.6 262.5l2.9-.9l3 .3l3 1.7l2.5 3.9l.6 5l-.7 4l-2.5 4l-1.9 1.6l-2 .9l-3-.1l-3-1.6l-2.3-2.8l-1.4-3l-.3-4l.5-3l2.3-4l2.3-2zM134 339.5l.5-.4l1 .7l1.2 1.7l1.3 6l-1.2 6l-2.3 2.2l-.5 0l0-16.2zM289.2 340.5l.8 0l0 18.7l-2.5-.5l-1-1.2l-1.2-4l-.3-6l1.4-5l1.1-1.4l1.7-.6zM281.1 363.5l2.4-.4l2 .9l1 1.5l1.3 4l-1.5 7l-1.4 2l-1.4 .5l-1.3-.5l-1.7-1.6l-1.8-3.4l.2-7l2.2-3z"/><path fill="#36ffc1" d="M183.1 262.5l4.4-.6l3 1.3l2 2l1.5 3.3l.3 4l-1.1 5l-2.7 3.6l-3 1.6l-3 0l-3-1.6l-2.2-2.6l-1.6-4l-.1-4l.6-2l2.3-4l2.6-2zM134 339.5l1.5 .7l1 1.3l1.3 6l-1.2 6l-2.1 1.9l-.5 0l0-15.9zM287.3 341.5l1.2-.7l1.5-.2l0 18.1l-1.5-.1l-1-.6l-1-1.7l-.8-2.8l-.5-7l.9-3l1.2-2zM281.8 363.5l1.7-.1l2 1.1l2 5l-1.5 7l-1.5 1.9l-1 .2l-1-.2l-2-1.8l-1.7-3.1l.3-7l1.4-2.2l1.3-.8z"/><path fill="#43ffb4" d="M183.7 262.5l3.8-.4l3 1.4l2.6 3l.8 3l.1 4l-1 4l-2.5 3.4l-2 1.3l-2 .5l-3-.6l-2-1.2l-2-2.4l-1.7-4l-.1-4l1.1-3l1.9-3l3-2zM134 340.5l0-.7l.5 0l2 2.2l1.1 5.5l-1.1 5.6l-2 1.9l-.5 0l0-14.5zM287.6 341.5l2.4-.7l0 17.1l-1.5 0l-1-.7l-1.5-4.7l-.7-6l.9-3l1.4-2zM280.8 364.5l1.7-.8l2 .4l1.3 1.4l1.4 4l-1.1 6l-1.1 2l-1.5 .8l-1-.3l-2-1.7l-1.5-2.8l0-6l1.8-3z"/><path fill="#50ffa7" d="M184.5 262.5l3-.1l3 1.3l2.3 2.8l.9 3l.1 4l-.9 4l-2.4 3.1l-2 1.4l-2 .5l-2-.2l-3-1.6l-1.9-2.2l-1.7-4l-.1-4l1.1-3l2.6-3.6l3-1.4zM134 340.5l.5-.3l1 .7l1 1.6l.9 5l-.9 4.9l-1 1.6l-1 .6l-.5 0l0-14.1zM287.9 341.5l2.1-.5l0 14.6l-1.5 .5l-1-.7l-1-2l-1.1-5.9l1-4l1.5-2zM281.2 364.5l1.3-.5l2 .5l1 1.2l1.4 3.8l-1.2 6l-1.1 2l-1.1 .4l-3-1.9l-1.4-2.5l.1-6l.9-2l1.1-1z"/><path fill="#5dff9a" d="M182.5 263.5l3-.9l3 .3l2.5 1.6l2.1 3l.6 5l-.6 4l-2.6 3.9l-3 1.8l-3-.1l-3-1.5l-1.8-2.1l-1.8-4l.2-5l2.4-4.3l2-1.7zM134 341.5l0-1l.5 0l1.8 2l.9 5l-.7 4.3l-1 1.7l-1 .6l-.5 0l0-12.6zM288.2 341.5l1.8-.3l0 13.2l-2.5-.4l-1-1.7l-.8-3.8l0-2l.8-2.9l1.7-2.1zM282 364.5l1.5 0l1 .5l2.1 4.5l-.8 5l-1.3 2.4l-1 .5l-3-1.7l-1.2-2.2l.1-6l1.1-2.1l1.5-.9z"/><path fill="#6aff8d" d="M182.9 263.5l2.6-.8l3 .5l3 2.1l1.7 3.2l.3 4l-.5 4l-2.5 3.6l-3 1.9l-3 0l-3-1.6l-1.7-1.9l-1.8-4l0-4l.7-2l1.8-3.1l2.4-1.9zM134 341.5l0-.6l.5 0l1.6 1.6l.9 5l-.6 4l-.9 1.5l-1 .6l-.5 0l0-12.1zM288.7 341.5l1.3-.2l0 12.6l-1.5-.1l-1.6-1.3l-1.2-5l1-4l.8-1.2l1.2-.8zM280.8 365.5l1.7-.8l2 .8l1.8 4l-.8 5l-1 1.7l-1 .6l-3-1.3l-1-2l0-6l1.3-2z"/><path fill="#77ff80" d="M183.3 263.5l3.2-.6l2 .5l3 2.3l1.5 2.8l.3 4l-.5 4l-2.3 3.4l-3 1.9l-3 0l-3-1.5l-1.5-1.8l-1.9-4l0-4l.7-2l1.7-2.9l2.8-2.1zM134 341.5l.5-.3l1.4 1.3l.9 5l-.7 4l-1.6 1.7l-.5 0l0-11.7zM287.5 342.5l1-.7l1.5-.3l0 12l-2.5-.7l-1.5-4.3l0-2l1.5-4zM281.2 365.5l1.3-.5l1.4 .5l.9 1l1.2 3l-.5 4.4l-2 2.3l-1 0l-2-1l-.9-1.7l.1-6l1.5-2z"/><path fill="#83ff73" d="M183.8 263.5l2.7-.4l2 .5l3 2.4l1.3 2.5l.4 4l-.6 4l-2.1 3.2l-2 1.5l-2 .6l-2-.1l-3-1.6l-1.4-1.6l-1.9-4l0-4l1.2-3l2.1-2.7l2.3-1.3zM134 342.5l0-1l1.6 1l1 5l-.3 3l-.8 1.7l-1 .6l-.5 0l0-10.3zM287.8 342.5l2.2-.7l0 11.4l-1.5-.1l-1-.8l-1.3-3.8l-.1-2l1.7-4zM281.8 365.5l1.7 .1l.9 .9l1 2l.4 2l-.9 4l-1.4 1.2l-1 .1l-2-.8l-.8-2.5l.2-5l.6-1.2l1.3-.8z"/><path fill="#90ff66" d="M184.3 263.5l3.2-.1l3 1.8l1.8 2.3l.5 2l.1 4l-1 4l-2.7 3l-2.7 1.2l-2-.2l-3-1.5l-2-2.7l-1.3-3.8l.1-3l1.2-3l2-2.5l2.8-1.5zM134 342.5l0-.7l.5 0l1 .8l.9 4.9l-.3 3l-.6 1.3l-1 .6l-.5 0l0-9.9zM288.1 342.5l1.9-.5l0 11l-1.5-.3l-1-.8l-1.2-3.4l.2-2.6l.8-2.4l.8-1zM280.6 366.5l.9-.7l2 .2l1.7 2.5l.3 2l-.4 3l-1.6 1.8l-2 0l-1-.6l-.5-1.2l-.1-5l.7-2z"/><path fill="#9dff5a" d="M185.3 263.5l3.2 .6l2.9 2.4l1 2l.4 4l-.5 4l-.8 1.4l-2.5 2.6l-2.5 1l-2-.1l-3-1.6l-2-2.7l-1.2-3.6l.2-3.4l1.8-3.6l2.2-2l2.8-1zM134 342.5l0-.4l.5 0l1.2 1.4l.5 4l-.3 3l-1.4 1.6l-.5 0l0-9.6zM288.4 342.5l1.6-.3l0 10.5l-1.5-.3l-.9-.9l-1.1-3l0-2.1l1-2.9l.9-1zM281 366.5l1.5-.6l1 .4l1.4 2.2l.2 4l-.6 1.7l-1 .8l-2 .1l-1-.6l-.3-1l-.1-5l.9-2z"/><path fill="#aaff4d" d="M182.9 264.5l2.6-.8l2 .2l3 1.8l1.7 2.8l.4 4l-.5 4l-1.6 2.5l-3 2.1l-3 .1l-3-1.5l-1.1-1.2l-1.9-4l0-4l.7-2l1.3-2.1l2.4-1.9zM134 342.5l.5-.1l1 1.1l.5 4l-.3 3l-1.2 1.3l-.5 0l0-9.3zM289.2 342.5l.8-.1l0 10l-2-.9l-1.5-4l1.3-4l1.4-1zM281.3 366.5l1.2-.3l1 .5l1.4 2.8l-.3 4l-1.1 1.2l-1 .2l-1.5-.4l-.7-1l-.1-5l.3-1.2l.8-.8z"/><path fill="#b7ff40" d="M183.3 264.5l2.2-.7l2 .3l3 1.9l1.5 2.5l.5 4l-.6 4l-1.4 2.2l-3 2.3l-3 0l-3-1.4l-1-1.2l-1.9-3.9l-.1-3.3l.8-2.7l2.2-2.9l1.8-1.1zM134 343.5l0-.7l1.2 .7l.6 4l-.3 3l-1 1l-.5 0l0-8zM288.2 343.5l1.8-.7l0 9.2l-1.6-.5l-1.5-4l1.3-4zM282.2 366.5l1.6 1l1 3l-.5 3l-1.8 1.2l-1.1-.2l-.9-1l-.1-1l.1-4.5l1-1.3l.7-.2z"/><path fill="#c4ff33" d="M183.8 264.5l2.7-.5l2 .8l2.2 1.7l1.3 3l.3 3l-.5 4l-2.4 3l-2.9 1.5l-3-.4l-2-1.2l-2.8-4.9l-.1-3l.8-3l2.1-2.7l2.3-1.3zM134 343.5l0-.4l.8 .4l.8 4l-.1 2.3l-1 1.4l-.5 0l0-7.7zM288.7 343.5l1.3-.2l0 8.3l-1.5-.7l-1.3-3.4l1.5-4zM281.1 367.5l1.4-.6l1 .7l.9 1.9l0 3l-.9 1.4l-1 .5l-1-.2l-.6-.7l-.3-4l.5-2z"/><path fill="#d1ff26" d="M184.2 264.5l2.3-.3l3 1.5l1.6 1.8l.8 2l.2 3l-.5 4l-2.4 3l-2.7 1.3l-2.8-.3l-2.2-1.3l-2-2.9l-.9-2.8l.2-3l.8-2l1.9-2.5l2.7-1.5zM134 344.5l0-.9l.5 0l.3 .9l.5 4l-.8 2.3l-.5 0l0-6.3zM288.3 346.5l.2-.5l1.5-.4l0 4.7l-.5 0l-1-1.3l-.6-1.5l.4-1zM281.4 367.5l1.4 0l1.1 2l0 3l-.4 1l-1 .4l-1.2-.4l-.3-4l.4-2z"/><path fill="#deff19" d="M184.9 264.5l2.6 .3l2.7 1.7l1.2 2l.4 2l-.4 6l-2.5 3l-2.4 1.2l-2.3-.2l-2.7-1.5l-2-2.9l-.8-2.6l.2-3l1.6-3.2l2-1.8l2.4-1zM134 346.5l0-.5l.5 0l.4 2.5l-.4 1.8l-.5 0l0-3.8zM281.4 368.5l1.1-.5l1 1.7l0 2.5l-1 1l-.7-.7l-.4-4z"/><path fill="#ebff0c" d="M183 265.5l2.5-.9l2 .4l2.4 1.5l1.6 3l.2 3l-.5 4l-2.6 3l-2.1 1l-2-.1l-3-1.5l-2.5-4.4l-.1-3l.6-2.3l2-2.8l1.5-.9z"/><path fill="#f8f500" d="M183.4 265.5l2.1-.6l2 .4l2.1 1.2l1.7 3l.3 3l-.6 4l-2.5 2.8l-2 1l-3-.4l-2-1.2l-2.4-4.2l-.1-3l.5-2.1l2-2.7l1.9-1.2z"/><path fill="#ffe600" d="M184 265.5l2.5-.3l2.7 1.3l1.3 1.6l.8 2.4l-.5 6l-2.3 2.6l-2 .9l-3-.3l-2-1.2l-2.3-4l-.1-3l.5-2l1.9-2.6l2.5-1.4z"/><path fill="#ffd700" d="M184.9 265.5l1.6-.1l3 1.6l1.6 3.5l0 4l-.5 2l-2.1 2.3l-2 1l-3-.3l-1.7-1l-2.3-3.3l-.4-1.7l.3-3l1.1-2.2l2-1.9l2.4-.9z"/><path fill="#ffc800" d="M183 266.5l2.5-.8l2 .4l2 1.2l1.1 2.2l.4 3l-.5 3.7l-2 2.3l-1.8 1l-2.2 .1l-2-.9l-2-2.1l-1.1-2.1l.1-4.1l1-1.9l2.5-2z"/><path fill="#ffb900" d="M183.9 266.5l2.6-.3l2 .7l1 .8l1.2 2.8l-.2 5.1l-2 2.5l-2 1.1l-2 .1l-2-.8l-3-4l-.1-3l1.1-2.7l1.3-1.3l2.1-1z"/><path fill="#ffab00" d="M182.2 267.5l2.3-.8l2-.1l2 .6l1.2 1.3l.9 3l-.3 4l-.8 1.3l-2 1.7l-2 .5l-2.5-.5l-1.5-1.2l-1.9-2.8l-.2-2l.4-2l2.4-3z"/><path fill="#ff9c00" d="M182.7 267.5l2.8-.4l3 .4l1.8 3l-.3 5l-1.5 1.9l-2 1.2l-2 .1l-2-.8l-2.7-3.4l-.3-2l.5-2l1.5-2.2l1.2-.8z"/><path fill="#ff8d00" d="M185.6 267.5l1.9 0l1.6 1l1.1 3l-.2 3l-.5 1.5l-1 1.1l-2 1.1l-2 .2l-2-.9l-2-2l-.8-3l.5-2l1.3-1.9l2-1l2.1-.1z"/><path fill="#ff7e00" d="M182 268.5l1.5-.6l3-.1l2.2 .7l1.1 2l.2 2l-.5 3l-1 1.2l-2 1.2l-2 .2l-2-.9l-2-2l-.6-1.7l.1-2l2-3z"/><path fill="#ff6f00" d="M182.4 268.5l5.1-.3l1.5 1.3l.7 2l-.1 3l-.4 1l-1.7 1.6l-2 .7l-2-.3l-3-2.7l-.5-1.3l.1-2l1.2-2l1.1-1z"/><path fill="#ff6000" d="M183.4 268.5l4.1 .1l1 .7l.7 1.2l.1 4l-.8 1.4l-2 1.4l-3-.1l-3-2.7l-.3-2l.3-1.4l1-1.6l1.9-1z"/><path fill="#ff5200" d="M181.9 269.5l2.6-.8l3 .3l.6 .5l1.1 3l-.7 3l-1.1 1l-1.9 .7l-2-.3l-1.9-1.4l-1.1-1.6l-.2-1.4l.2-1l1.4-2z"/><path fill="#ff4300" d="M182.3 269.5l1.2-.4l3 .1l1 .3l.9 1l.5 3l-.4 1.4l-1 1.2l-1 .5l-2 .2l-2-.9l-1.5-1.4l-.4-1l.1-2l1.6-2z"/><path fill="#ff3400" d="M183.1 269.5l3.4 .1l1 .4l1 1.5l-.1 3l-1.9 1.8l-3 0l-2.2-1.8l-.5-1l.2-2l.6-1l1.5-1z"/><path fill="#ff2500" d="M181.9 270.5l2.6-.8l2.9 .8l.9 2l-.8 2.8l-2 1l-2-.4l-1-.6l-1.4-1.8l.1-2l.7-1z"/><path fill="#ff1600" d="M182.3 270.5l2.2-.5l2.3 .5l1.1 2l-.4 2.3l-2 1.2l-2-.4l-1-.7l-1-1.1l-.3-1.3l1.1-2z"/><path fill="#f10800" d="M183.1 270.5l2.4-.1l1.7 1.1l.4 2l-1.1 1.8l-2.4 .2l-2.4-2l-.2-1l.4-1l1.2-1z"/><path fill="#df0000" d="M182.3 271.5l2.2-.7l2 .6l.6 1.1l-.3 2l-1.3 .7l-2-.4l-1.3-1.3l.1-2z"/><path fill="#cd0000" d="M183.3 271.5l1.6 0l1.6 1l.1 1l-.6 1l-1.5 .2l-1.6-1.2l-.4-1l.8-1z"/></g><path fill="none" stroke="#000" stroke-width="0.55" stroke-linejoin="round" d="M254.4 234l-1 1.5l.1 1l4.4-1l.8-1.5M276.6 234l-1.6 6.5l-.5 4.9l-4.3 11.1l-1.9 3l1.6 6l1 2l2.5 3l2.1 2.1l3 2.1l4 .5l4-1.4l3.5 0M195.5 238.4l-3 2.1l-1.5 2l.3 2l1.2 1.4l5 3.3l9-.5l5-2.6l1 .6l0 6.2l1 1.8l4-1.7l2-1.7l3-.6l10-4.7l3-1l4.8-3.5l-.1-1l-2.7-.6l-9 .5l-8-.4l-8 1.5l-7-3.4l-4-.6l-4 .3l-2 .6M174.5 242.1l-2 1.9l-.5 2.5l.5 2l2 2.4l2 .9l2 0l5-2.1l.6-1.2l.3-2l-.9-2.1l-3-2.1l-6-.2M204.5 255.2l-2 .8l-1 1.1l-.8 2.4l.1 2l1.2 2l1.5 1.3l2 1.1l2 .1l1.1-.5l1.8-2l1-4l-.9-2l-2-1.9l-2-.6l-2 .2M256.5 259.4l-1.8 1.1l-.6 1l.1 3l1.3 1.2l3 1l3-.1l2-.7l1.5-1.4l.3-1l-.2-2l-1.6-1.6l-3-.9l-4 .4M290 292l-4.7-1.5l-10.8-5l-2.5-4l-3.5-4.2l-12-2.1l-5-4.9l-2-1.3l-7 .2l-2 .5l-1.2 .8l-.4 2l1.2 4l5.2 4l.7 2l-.3 2l-1.1 1l-3.1 .4l-6-.6l-9.1-2.8l-4.9-2.1l-4 .2l-5-.4l-.9-.7l-.3-1l.8-4l-.3-3l-.9-1l-1.4-.4l-7 1.6l-2-.6l-.7 1.4l0 2l.7 1.4l2 .4l1 1.2l0 3.6l-1.4 2.4l.3 1l1.8 2l.4 1l-3.9 9l-4.2 2.1l-5 1.1l-1.6-.2l-.8-1l2.1-5l6.3 1.1l1.2-1.1l-.4-1l-2.2-2l-.7-2l-.9-.7l-2 .7l-2 1.4l-5.9 .6l-.1 3.2l-1 .5l-1-.7l0-1.5l2-1.5l-7-5.2l-2-3.9l-1.9-6.9l-.1-6l1.3-5l-1.8-7l-2.1-3l-4.2-3l-3.2-3.5l-3.3-5.5l-1.6-7.5M205.6 300.5l1.9 0l1 1.1l.1 2.9l-1.1 1l-2.4 0l-1.6-1.5l.1-1.5l2-2M262.2 312.5l1.3-.5l2 .1l.9 .4l.4 1l-.3 1l-1 .3l-4 0l-.5-.3l.1-1l1.1-1M162.7 324.5l1.8 .1l6 2.1l1.3 1.8l-.6 2l-2.7 2l-4 1.3l-4-.2l-4.7-2.1l-1-2l.9-2l2.8-1.8l4.2-1.2M134 333.2l4.5 1.2l1.9 2.1l1.1 3.7l1.2 7.3l-1.2 15.1l-1.7 6.9l-1.7 3l-2.5 1l-1.6 .1M206.3 345.5l3.2-.8l4 .1l4 .9l6 .6l1 .6l2.9 6.6l-.9 5l.4 3l-.4 1l-2 .8l-7 .8l-8-2l-3 .7l-4-.2l-3 .9l-4 2.1l-7 1.5l-5-.2l-1.2-.4l-.8-.9l0-2.1l1.8-5l1.6-3l1.9-2l6.8-4l4.9-1.9l2-1.4l4-.2l1.8-.5M237.9 390l-.2-2.5l.5-6l2.7-7l-.7-5l.2-4l1.1-2l2.2-2l1.8-4.1l5-1.2l11 3.2l3 2.4l3 1l.9 1.7l-.1 1l-1.7 2l-3.1 1.6l-4 4.4l-5.6 3l-4.1 5l-3.2 7l-.3 1.5M273.6 390l-.9-7.5l-.1-6l1.4-4l.4-4l1.7-8l2.2-6l0-2l-1.3-4l1-7l-.2-9l.8-4l.1-5l1.1-2l1.7-1.3l1-.1l3 1l3 2.7l1.5 .4M183.5 260.5l4-.7l4 1.7l2.8 3l1.8 5l-.2 5l-1.7 5l-3.7 4.2l-3 1.5l-2-.2l-4-2.1l-3.4-4.4l-1.4-4l0-5l1.2-3l2.6-3.8l3-2.2M134 337.3l1.5 .4l1.6 1.8l.9 2l1.2 6l-1.4 7l-2.3 2.7l-1.5 .4M208 348.5l1.5-.6l3 .6l2 1.3l.2 1.7l-1 1l-1.2 .3l-4.5-.3l-1.3-1l-.3-1l1.6-2M190.5 354.5l2 .1l1.1 .9l.2 2l-.6 2l-.8 1l-2.9 1.4l-2 .1l-1-.4l-.8-1.1l.3-2l2.7-3l1.8-1M290 373.3l-.5 .2l0 1.2l.5 0M290 378.5l-1.5 .2l-1 .9l-1.9 1.9l-1.2 2l-.9 .5l-.9-.5l-2.8-4l-1.8-4l-.5-4l.4-7l2.3-4l3.6-9l.5-6l.6-2l1-2l1.6-1.6l2.5-.4M183.4 262.5l4.1-.5l3 1.3l2.7 3.2l.7 2l.3 4l-1.1 5l-2.6 3.5l-3 1.6l-3-.1l-3-1.5l-2.1-2.5l-1.7-4l0-4l.5-2l2.3-3.9l2.9-2.1M134 339.7l1.5 .7l1 1.4l1.2 5.7l-1.2 5.9l-1 1.2l-1.5 .6M290 358.3l-1.5 0l-1-.6l-.6-1.2l-1-3l-.7-6l1.5-5l1.8-1.6l1.5-.2M282.5 363.5l2 .4l1 .9l1.9 5.7l-1.6 6l-1.3 1.7l-1 .3l-1-.3l-2-1.8l-1.6-2.9l.3-7l1.3-2l2-1M184.4 263.5l3.1 0l3 1.7l1.7 2.3l.5 2l.2 4l-1 4l-2.7 3l-2.7 1.1l-2-.1l-3-1.5l-2-2.7l-1.3-3.8l.1-3l1.2-2.9l2-2.6l2.9-1.5M134 341.9l1.3 .6l.6 1l.5 5l-.9 3.2l-1.5 .7M290 352.9l-1.5-.2l-1-.9l-1.3-4.3l1.3-4.3l1-1l1.5-.2M280.7 366.5l.8-.6l2 .1l1.6 2.5l.4 2l-.4 3l-1.6 1.8l-2 0l-1-.6l-.5-1.2l-.1-5l.8-2M182.9 265.5l2.6-1l2 .4l2.5 1.6l1.5 2.9l.3 3.1l-.5 4l-1.5 2l-2.3 1.8l-3 .1l-2.2-.9l-1.8-1.8l-1.5-3.2l-.2-3l.7-2.4l1-1.7l2.4-1.9M134 348.1l.6 .4l-.1 1l-.5 0M182.3 267.5l2.2-.6l3 0l1 .4l1.1 1.2l.9 2.7l-.1 3.3l-.7 2l-2.2 1.9l-2 .5l-2.2-.4l-1.8-1.3l-1.8-2.7l-.3-2l.5-2l1.2-2l1.2-1M182.4 269.5l1.1-.4l3 .1l1 .3l.9 1l.4 3l-.3 1.4l-1 1.1l-1 .6l-2 .2l-2-.9l-1.4-1.4l-.5-1l.1-2l1.7-2"/></g>
<rect x="134.00" y="234.00" width="155.80" height="155.50" fill="none" stroke="#000" stroke-width="0.8"/>
<text x="134.00" y="397.30" font-size="7.50" text-anchor="middle" font-family="DejaVu Sans, Liberation Sans, sans-serif" fill="#262626">0</text>
<text x="132.60" y="392.20" font-size="7.50" text-anchor="end" font-family="DejaVu Sans, Liberation Sans, sans-serif" fill="#262626">0</text>
<text x="167.80" y="397.30" font-size="7.50" text-anchor="middle" font-family="DejaVu Sans, Liberation Sans, sans-serif" fill="#262626">5</text>
<text x="132.60" y="358.47" font-size="7.50" text-anchor="end" font-family="DejaVu Sans, Liberation Sans, sans-serif" fill="#262626">5</text>
<text x="201.59" y="397.30" font-size="7.50" text-anchor="middle" font-family="DejaVu Sans, Liberation Sans, sans-serif" fill="#262626">10</text>
<text x="132.60" y="324.74" font-size="7.50" text-anchor="end" font-family="DejaVu Sans, Liberation Sans, sans-serif" fill="#262626">10</text>
<text x="235.39" y="397.30" font-size="7.50" text-anchor="middle" font-family="DejaVu Sans, Liberation Sans, sans-serif" fill="#262626">15</text>
<text x="132.60" y="291.01" font-size="7.50" text-anchor="end" font-family="DejaVu Sans, Liberation Sans, sans-serif" fill="#262626">15</text>
<text x="269.18" y="397.30" font-size="7.50" text-anchor="middle" font-family="DejaVu Sans, Liberation Sans, sans-serif" fill="#262626">20</text>
<text x="132.60" y="257.28" font-size="7.50" text-anchor="end" font-family="DejaVu Sans, Liberation Sans, sans-serif" fill="#262626">20</text>
<text x="211.90" y="406.60" font-size="7.50" text-anchor="middle" font-family="DejaVu Sans, Liberation Sans, sans-serif" fill="#262626">X (nm)</text>
<text transform="translate(118.00 311.75) rotate(-90)" font-size="7.50" text-anchor="middle" font-family="DejaVu Sans, Liberation Sans, sans-serif" fill="#262626">Y (nm)</text>
<rect x="299.80" y="234.20" width="8.20" height="155.30" fill="url(#cbD)" stroke="#000" stroke-width="0.6"/>
<text x="310.00" y="392.20" font-size="7.50" font-family="DejaVu Sans, Liberation Sans, sans-serif" fill="#262626">0.00</text>
<text x="310.00" y="376.11" font-size="7.50" font-family="DejaVu Sans, Liberation Sans, sans-serif" fill="#262626">0.15</text>
<text x="310.00" y="360.02" font-size="7.50" font-family="DejaVu Sans, Liberation Sans, sans-serif" fill="#262626">0.30</text>
<text x="310.00" y="343.94" font-size="7.50" font-family="DejaVu Sans, Liberation Sans, sans-serif" fill="#262626">0.45</text>
<text x="310.00" y="327.85" font-size="7.50" font-family="DejaVu Sans, Liberation Sans, sans-serif" fill="#262626">0.60</text>
<text x="310.00" y="311.76" font-size="7.50" font-family="DejaVu Sans, Liberation Sans, sans-serif" fill="#262626">0.75</text>
<text x="310.00" y="295.67" font-size="7.50" font-family="DejaVu Sans, Liberation Sans, sans-serif" fill="#262626">0.90</text>
<text x="310.00" y="279.59" font-size="7.50" font-family="DejaVu Sans, Liberation Sans, sans-serif" fill="#262626">1.05</text>
<text x="310.00" y="263.50" font-size="7.50" font-family="DejaVu Sans, Liberation Sans, sans-serif" fill="#262626">1.20</text>
<text x="310.00" y="247.41" font-size="7.50" font-family="DejaVu Sans, Liberation Sans, sans-serif" fill="#262626">1.35</text>
<text transform="translate(336.10 311.85) rotate(-90)" font-size="7.50" text-anchor="middle" font-family="DejaVu Sans, Liberation Sans, sans-serif" fill="#262626"><tspan font-size="7.50">Rescaled number density (1 × 10<tspan dy="-2.8" font-size="5.25">−3</tspan><tspan dy="2.8"> nm</tspan><tspan dy="-2.8" font-size="5.25">−2</tspan><tspan dy="2.8">)</tspan></tspan></text>
<text x="122.00" y="227.00" font-size="10.2" font-weight="bold" font-family="Liberation Sans, Arial, sans-serif" fill="#000">D</text>
<filter id="blE" x="-2%" y="-2%" width="104%" height="104%"><feGaussianBlur stdDeviation="0.45"/></filter><clipPath id="clipE"><rect x="369.80" y="235.00" width="156.00" height="155.50"/></clipPath><g clip-path="url(#clipE)"><g filter="url(#blE)"><rect x="367.80" y="233.00" width="160.00" height="159.50" fill="#0000ad"/><path fill="#0000bf" d="M369.8 235l156 0l0 156l-156 0l0-156zM442.3 309.4l-.9 1.1l.2 1l.7 .7l1.9-1.7l-.1-1l-1.8-.1zM446.3 309.1l-1.8 1.4l1.8 1.8l1.1-.8l-.1-2l-1-.4z"/><path fill="#0000d1" d="M369.8 235l156 0l0 156l-156 0l0-156zM445.3 306.4l-1 .7l-3 .5l-.8 .9l-.9 2l.1 1l1.7 3l1.2 1l3.7 .3l4-1.3l1-1l-.4-3l-1.6-.6l-.3-2.4l-.7-.9l-2-.7l-1 .5z"/><path fill="#0000e3" d="M369.8 235l156 0l0 156l-156 0l0-156zM443.3 304.2l-1.2 1.3l-2.8 1l-1 1.6l-.7 2.4l.3 3l1.4 .8l2 2.4l5 .2l2-.8l2 .1l2-1.1l.8-1.6l-.3-2l1.5-2l-.9-2l-6.1-3.3l-3-.6l-1 .6z"/><path fill="#0000f6" d="M369.8 235l156 0l0 156l-156 0l0-156zM443.3 302.4l-4.3 2.1l-2.2 3l-.8 4l.7 3l1.8 1l1.8 2.2l1 .2l5 .1l2-.8l2 .3l3-1.4l1.1-1.6l.4-3l.9-2l-1.3-3l-5.1-2.4l-2-1.7l-4 0z"/><path fill="#0000ff" d="M369.8 235l156 0l0 156l-156 0l0-156zM443.3 301.2l-5 1.8l-3.7 3.5l-.2 1l.7 2l-.7 2l.2 3l.7 1.1l3 1.4l2 2.1l6 .2l2-.5l2 .1l3-1.5l1.7-1.9l2.1-6l-.2-1l-2.5-4l-2.5-1l-.6-1.6l-4-.8l-4 .1z"/><path fill="#0008ff" d="M369.8 235l156 0l0 156l-156 0l0-156zM397.3 326.1l-1 1.4l.3 1l2.7 .1l1.2-1.1l-.2-.8l-3-.6zM442.3 299.2l-1 .7l-1-.2l-1.9 1.8l-2.1 .3l-2.8 3.7l-.9 2l1 8l1.7 2.4l2 1.1l1.3 1.5l-.3 2l3-1.9l3-.2l4 1l4.4-1.9l4.6-5l1.8-5l-3-6l-2.5-2l.4-2l-3.7-.4l-2 .7l-2-.9l-1 .9l-1 .2l-2-.8z"/><path fill="#0018ff" d="M369.8 235l37.2 0l1.1 4.5l-1.1 3l.2 1l1.1 .2l1.1-.2l.6-1l-.6-2l-.2-5.5l22.2 0l-.2 2.5l2.1 1.5l.7-.5l0-3.5l91.8 0l0 106.4l-1.6 1.1l0 1l1.6 .1l0 47.4l-117.5 0l0-.5l0 .5l-38.5 0l0-80.5l3.1-1l.6-1l-1.2-.7l-2.5-.1l0-38.9l1.1-.3l.4-.6l.3-6.4l-.3-.6l-1.5-.3l0-25.6zM399.3 322.4l-3 .8l-1.9 1.3l-.9 2l0 2l.7 1l5.1 .8l1-.1l1-1.3l1-4.5l-.5-.9l-2.5-1.1zM408.3 304.1l-.8 1.4l.8 1.3l2.6-1.3l.4-1l-1-.9l-2 .5zM428.3 339.4l-.7 1.1l1.7 1.5l2-1.2l.9 .7l1.1-.2l.6-.8l-.6-1.2l-2 1l-3-.9zM445.3 296.1l-4 1.7l-2-.1l-3 .8l-2.7 4l-2.1 2l-1.5 3l1.9 4l-.8 3l.2 1.3l1 1.6l3.4 3.1l-.6 1l.5 1l2.7 2l2.3-1l1-1l1.7-.4l1.1 .4l.5 2l1.4 .4l1-.5l7-4.3l1.9-2.6l2.1-1.2l2-3.9l2-1.9l-.6-2l-1.4-1l-2.2-3l-2.8-6.2l-4-.9l-3-1.7l-2 0l-1 .4zM472.3 246.5l-3 1.3l-.7 1.7l1.6 3l2.1 1l2-.4l.9-.6l.4-1l-.3-1.3l-3-3.7zM487.3 298.7l-.2 1.8l1.2 .4l0-1.7l-1-.5zM495.3 371.3l1 1l.5-.8l-.5-.5l-1 .3zM396.3 368.9l-.6 .6l.6 1.7l1.2-.7l-.4-1l-.8-.6zM411.3 344.5l-2 1l-.4 1l.4 1.2l2-2.1l0-1.1zM444.3 361.1l.2 1.4l.8 .5l1-.4l-.5-1.1l-1.5-.4zM449.3 384.5l-.4 1l.4 .7l1.1-.7l-.1-1l-1 0z"/><path fill="#0028ff" d="M369.8 235l36.2 0l.4 1.5l-.7 2l.4 3l-1.8 2.6l-2-.1l-.4-1.5l.4-1.7l1.6-1.3l0-1l-.6-.5l-1-.3l-1 .4l-2 .9l-1.4 1.5l-.1 1l2.2 3l2.3 .2l2 4l1-.4l1-2.9l4-.8l3 .9l.6-1l-2.6-2.8l-.5-1.2l.1-3l-.6-2.5l19.5 0l-.5 1.6l-1 .5l-1-.9l-4-.2l-1.5 1.5l-.1 1l.6 .8l1 .2l4-1.4l2 2.8l3 .8l3.7-1.2l.2-5.5l68.2 0l.9 1.3l1 .2l.8-1.5l18.7 0l0 73l-2.5-.3l-1.1 .8l1.3 2l2.3 .8l0 29.2l-3.5 1.9l-.4 1.1l1.4 1.2l2.5 0l0 13.8l-.5 0l-.5-1l-1.5-.9l-.7 .9l.7 1.2l2.5-.2l0 15.2l-1.5 .9l-3.9 .9l-.4 1l.3 1.6l2 1.2l1-.6l1-2.1l1.5-.4l0 14.8l-30.1 0l-.4-1l-1-.4l-.8 1.4l-12.6 0l-.6-1.6l-1 .5l-.5 1.1l-12.4 0l-.1-.6l-.2 .6l-5 0l1.5-3.5l.1-2l1.3-2l-2.7-2.4l-2 1.1l-.8 1.3l-.2 3l1.4 4.5l-37.6 0l0-.5l-2.8-1.2l-.5 1.7l-8 0l-.2-1.5l2.1-3l-.4-.6l-2-1.3l-5-1.5l-1 .9l-3.7 .5l-3.3 1.8l-.5 1.2l.2 3.5l-27.2 0l0-35.1l1.7-.4l-1.7-.7l0-13.2l.7-.1l-.7-.1l0-30.3l4.4-.6l1.9-3l-.8-.8l-5.5 .2l0-36.5l1.8 .1l2.6-1l.7-1l-1.6-.7l-.8-1.3l-.1-3l.9-3l-.2-1l-3.3-1.5l0-23zM374.3 243l-1 1.4l-.2 1.1l.2 1.4l1 .9l.7-1.3l-.7-3.5zM377.3 254.2l-.3 1.3l1.3 1.7l1 .1l2.3-.8l-.8-1l-2.5-1.5l-1 .2zM384.3 275.3l-1.3 1.2l.3 1.1l4-.2l.2-.9l-.9-1l-2.3-.2zM386.3 238.3l-1.4 1.2l1.4 1l1-1l-.4-1l-.6-.2zM389.3 288.9l-1 1l-.6 1.6l.6 1.2l2 1.4l.6-2.6l-1.6-2.6zM397.3 256.3l-1 1.1l-1 2.4l-2.2 .7l-.8 1.1l2 .1l1-.9l3-1l.6-2.3l-.6-1.1l-1-.1zM405.3 354.5l-1.1 1l0 1l.1 .5l1 .5l1-2l-1-1zM411.3 300.3l-1 .4l-1 1.8l-2 1.3l-.7 2.7l.7 1.2l1 0l4.5-2.2l-.2-4l-1.3-1.2zM418.3 305l0 1l1 .7l1 2.2l1 .5l1.5-1.9l.2-2l-4.7-.5zM423.3 296.8l-1.1 1.7l-.3 1l.4 .7l1.1-1.7l-.1-1.7zM425.3 336.4l0 5.1l.6 1l2.4 .6l4-.4l1.2 .8l.8 2l1 1.1l1 0l1-.7l-.1-2.4l-1.5-2l-.8-3l-.6-.6l-4 .1l-2.1-.5l-1.9-1.3l-1 .2zM428.3 247.2l-.9 .3l.9 1.2l.5-.2l.1-1l-.6-.3zM435.3 249.4l-.4 1.1l.4 .9l3 3.3l-1-4.9l-1-1.2l-1 .8zM443.3 267.6l-.1 3.9l1.1 1.3l1-1.3l0-1l-1.8-2l-.2-.9zM450.3 256.9l-1 .6l-.2 1l.3 1l1.9 .7l1-.4l.8-1.3l0-1l-.8-.7l-2 .1zM460.3 267.4l-.8 1.1l.8 1.3l2.2-.3l1.2-1l-2.4-1.4l-1 .3zM464.3 238.5l-.5 1l1.5 1.5l1-.2l-.5-1.3l-1.5-1zM469.3 242.6l-2 2.1l-1.1 4.8l.1 1.1l2 3.6l7 1l.5 .3l.3 2l2 0l.3-1l-1.9-2l.4-4l-1.7-4l-2-2l-2.9-.6l-1-1.3zM481.3 347.5l-1 .1l-.9 .9l.1 1l.8 .8l1.3 .2l2.1-1l-.3-1l-2.1-1zM484.3 360.4l-.5 1.1l.5 .5l1 .1l.8-.6l-.7-1l-1.1-.1zM487.3 296.8l-1 .7l-.5 2l1.1 2l1.4 .7l1.2-.7l.3-3l-.5-1.3l-1-.6l-1 .2zM490.3 252.3l2 1.2l1.1 0l.4-1l-.5-.7l-1-.2l-2 .7zM497.3 253.3l-.4 .2l.4 1.1l2 .3l.7-.4l-2.7-1.2zM502.3 373.3l-1.1 3.2l2.1 1.4l1.4-1.4l.1-1l-1.5-2.8l-1 .6zM510.3 252.1l-2 1.4l-.5 1l1.5 .6l2-.1l.7-.5l.4-1l-.4-1l-.7-.5l-1 .1zM513.3 281.3l-1 1.2l1 .9l1 .1l1.2-1l.1-1l-.3-.3l-1-.4l-1 .5zM518.3 258.8l-1.6 2.7l.1 2l2.5 2.7l1 .5l.8-.2l.2-4l-1.5-3l-1.5-.7zM522.3 255.4l-.5 1.1l.5 1l1-.3l.5-.7l-.5-1.7l-1 .6zM377.3 368l-1.4 1.5l.4 .8l1 .2l2.6-2l-.6-.7l-1-.3l-1 .5zM379.3 354.2l-.9 1.3l.2 1l.5 1l1.2 .1l1.1-2.1l-.6-1l-1.5-.3zM384.3 282.6l-.6 .9l-.3 3l-1.9 2l0 1l.8 1.3l2 .7l1-.1l.7-.9l.1-1l-.8-2l1.4-2l-2.4-2.9zM388.3 319l-.9 .5l-.1 1l1 .8l3.4-.8l-.4-1.3l-3-.2zM392.3 300.2l-1 1.3l1 1.1l1.1-1.1l-.4-1l-.7-.3zM396.3 322.2l-3.9 2.3l-.4 5l1.2 1l7.1 1.6l1-.6l1.1-2l.3-3l1-3l-1.3-1l-3.1-.9l-3 .6zM410.3 343.1l-2.5 2.4l-.2 3l-.9 3l.6 2l2 0l1.8-1l-1.2-2l.2-1l2.2-2.5l1.1-2.5l-.3-1l-.8-.6l-2 .2zM421.3 349.1l-3 3.5l1 .5l3-.4l1-.2l1-.9l.7-2.1l-.7-.9l-3 .5zM429.3 376.7l-2 2.8l4 .7l1.3-.7l.1-1l-.4-.7l-3-1.1zM437.3 365.4l-1 1.1l1 .4l1-.4l-1-1.1zM436.3 288.1l-1 1.6l-1 .7l-2 .5l-1 1.5l1.2 2.1l-.9 1l-.2 1l1.3 2l-.1 2l-1.1 1l-2.4 1l-1.5 2l-1.3 .5l-.3 1.5l3 3l-.1 4l1.3 3l3.1 4l-.4 2l.6 1l2.5 1l1.3 1.3l1 .1l3-.6l6.2 2.2l.8-.4l.3-1.6l4.7-3.5l3-1l1-1l2 .1l1-.6l.2-4l.8-1.6l2.2-2.4l.1-5l-1.1-1l-2.2-.8l-1.2-1.2l-.4-2l.6-2.2l-2-.9l-2-1.8l-3-1l-2-2.1l-4 .1l-3-.7l-2-3.9l-2 0l-2-1.1l-1 .2zM443.3 273.5l-2 1l2 .1l0-1.1zM452.3 269.7l-.9 .8l-.1 3l.5 2l1.5 .9l1.1-.9l.3-4l-.6-1l-1.8-.8zM464.3 281.3l0 .6l1 1l2 .9l.9-.3l-.2-1l-1.7-1.5l-1-.3l-1 .6zM469.3 291.4l-1 .6l0 1l1 0l.4-.5l-.4-1.1zM472.3 270.2l-1.3 1.3l.4 1l.9 1l2-.4l.5-.6l-.5-1.6l-1-.7l-1 0zM480.3 381.3l-.6 1.2l1.6 2.2l.6-.2l.1-2l-.7-1.1l-1-.1zM487.3 379.1l-.5 .4l.5 .9l1-.9l1 .4l.5-.4l-.5-1l-1 1l-1-.4zM493.3 344.5l-2.4 2l-1.3 2l0 1l.7 1.1l1-.1l1.4-1l.7-2l-.1-3zM494.3 369.1l-1 1.2l0 1.2l1 1.4l1.5 .6l2.2-1l1.4-2l.1-1l-.2-.3l-2 .5l-3-.6zM495.3 261.6l-.7 .9l1.7 .5l0-1l-1-.4zM499.3 359.4l0 1.3l1 .9l1 .1l.5-1.2l-.5-1.1l-1-.3l-1 .3zM508.3 301.5l-1 1l.6 1l1.4 .6l1.8-.6l.1-1l-1.9-1l-1 0zM514.3 315.2l-1.3 1.3l0 1l1.3 .7l3.1-1.7l.4-1l-1.5-.8l-2 .5zM385.3 309l-.9 1.5l.9 2.1l1.6-1.1l.6-1l-.2-1.1l-1-.7l-1 .3zM391.3 304.6l-.6 .9l.3 1l1.3 1.8l1 .1l1.1-.9l.3-1l-.4-.8l-1-.9l-2-.2zM395.3 368.3l-.8 1.2l.7 3l1.1 .3l1.1-.3l1.2-1l-.5-3l-.8-1l-2 .8zM396.3 357.2l-.4 .3l.2 1l1.6 0l0-1l-1.4-.3zM403.3 378.2l-.8 .3l-.2 1l2 1.5l.4-1.5l-.3-1l-1.1-.3zM413.3 380.3l-.7 1.2l.7 1.9l1-.6l.4-1.3l-.4-1.2l-1 0zM421.3 357.3l0 1.9l1 .7l1.2-.4l1.1-2l-.3-.4l-2-.4l-1 .6zM438.3 376.3l-.6 1.2l.6 .5l.9-.5l-.9-1.2zM442.3 359l-.7 .5l-.1 1l2.8 3.6l1 1.1l2-.2l1.6 1.5l-1 3l.4 1.7l1 .6l2-.5l1.5-1.8l-3.1-4l-1.4-4l-4-2.6l-1-.3l-1 .4zM457.3 330.1l-1 1.4l1 .8l2-.1l.1-.7l-.7-1l-1.4-.4zM441.3 281.3l-1.6 1.2l.6 2l1 .1l2-2.1l-.7-1l-1.3-.2zM452.3 286.3l0 2.5l1 .1l1-1.1l-.1-1.3l-.9-.7l-1 .5zM467.3 367.9l-.7 .6l.1 1l.6 .4l1.7-.4l.5-1l-2.2-.6zM468.3 334.2l-.8 1.3l.1 1l.7 1.3l1 .6l1.3-.9l.5-1l-.1-1l-1.7-1.3l-1 0zM496.3 332.1l-.7 .4l0 1l1.7 .7l.7-.7l-.5-1l-1.2-.4zM385.3 336.4l-.8 1.1l.8 .5l.5-.5l-.5-1.1zM386.3 353.2l-.9 2.3l.5 2l-.5 1l-2.1 1.7l-.9 2.3l.1 1l.8 .5l1.1-.5l2.5-3l-.2-2l1.3-4l-1.7-1.3zM421.3 385.1l-1.1 1.4l.1 .6l1.4-.6l.6-1l-1-.4zM449.3 383.3l-1 .7l-.5 1.5l.5 1.8l1 .2l1.4-1l.8-2l-1.2-1.4l-1 .2zM470.3 378.8l-1.1 1.7l-2.9 .8l-2.2 1.2l2.2 3l2-1.5l1.8-2.5l1.7-1l0-1l-1.5-.7zM474.3 337.2l-.3 .3l1.3 1.4l1-.2l.3-1.2l-.3-1l-1 0l-1 .7zM509.3 323.2l-1 .3l-.3 1l1.3 1.8l1.7 1.2l1.3-.3l.2-.7l-.5-1l-1.7-2l-1-.3zM509.3 335.1l-1 1.4l1 .4l1.9-1.4l-.9-.9l-1 .5zM510.3 380.4l-.4 1.1l.4 .6l2 0l.5-.6l-.5-1l-2-.1zM436.1 291.5l1.2-.4l2 1l1.6 1.4l.3 1l-1.9 1.8l-3-.7l-1.4-1.1l-.4-1l1.6-2zM402.8 386.5l1.5-.5l2.2 1.5l.4 1l-.3 2.5l-7.6 0l1.6-3.5l2.2-1z"/><path fill="#0038ff" d="M369.8 235l9.6 0l.7 1.5l1.2 .2l3-.9l.2-.8l8.2 0l.6 1.1l1 0l2.8 2.4l-.7 3l1.5 3l4.3 3l.7 2l2.4 1.5l1.3-1.5l.7-2.1l3-1.5l4 2.1l2-1l2 .1l1.5-.6l-.1-2l-1.4-2l-1-.4l-2 .8l-1-.1l-1.5-1.3l-.6-1l-.8-5.5l3.9 0l-.2 3.5l1.2 .7l1.4-1.7l-.2-2.5l4.4 0l-1.2 2.5l-.1 2l.7 1.4l3.9 1.6l-2.6 3l.3 1l1.9 1l-.2 1l-2.3 1l0 1.3l1.6 .7l2.4-.3l1-.9l2.6-.8l1.8-2l-.6-1l-2.4-1l-1-1l0-1l.6-.5l3 .3l10-2.2l2.8 2.4l1.6 3l-.2 2l-1.8 5l1.3 2l1.3 .8l1.1-.8l1.9-6.8l1-.7l2 1.5l1 .1l3-.5l.8-.6l.2-2l1-2l-1-1.4l-1-.2l-1.7 .6l-3.3 3.6l-1 .2l-1-.4l-1.9-2.4l-1.1-.1l-1.3-.9l2.3-3.8l1 .1l2 3l2-.4l1.9-1.9l-2.3-2l-.6-3.5l3.3 0l.7 1.3l2 .5l2 2.6l2 .1l4.8 4l-1.3 3l.3 4l.8 3l-.4 1l.6 1l1.2 .6l6 .9l1.6 1.5l2.7 1l2.7 3.6l1 0l.6-.6l.1-2l-1.4-2l-.3-3.2l-2-1l-.6-5.8l-1.4-2l-2.5-3l-6.2-4l-1.3-2l-3-.3l-2 .9l-.6-3.1l7.1 0l.5 1.3l1 .1l1-.6l.2-.8l8.9 0l.8 1.5l1.2 1l.7 2l-.3 1l-1.9 1l.4 1l1-.1l1-1.6l2-.7l.7-1.6l-.7-1.4l-1.8-.6l.1-1.5l13 0l0 .5l-1.3 1l-1.4 4l0 1l1.4 .9l2-.4l2.6-1.5l.8-3l-.1-2.5l3.1 0l.5 1.5l1.3 1l5.8 1.8l3 0l1 .7l1.1 5.5l1.2 1l.6 2l-.9 2.7l-2 .7l-1-.1l-2-1.3l-4 2.1l-4 .6l-3-1l-5-.6l-.3-1.1l2.4-2l.4-1l-1.3-2l-1.2-.9l-1 .2l-3 3.9l-1 .3l-2-.9l-1 .4l-.2 1l1.4 3l2.8 3l4-1.1l2 1.5l2 .7l4-1l4.4 .9l.9 1l-2.3 .5l-.6 1.5l.1 1l-1.8 1l-.7 1l1 1.7l3 .4l3-1l2 .7l1.2 1.2l3.8 .8l.9 1.2l.1 3.6l2 1.2l.7-.8l.4-3l1.4-2l-1-6l.3-1l3.7-1.9l0 48.4l-4.5 .5l-.7 1l.5 2l1.2 1.5l3.5 1.1l0 15.4l-3.5-1.2l-1-4l-1-.2l-1.4 1.4l-.2 1l.9 3l.7 .5l2-.1l1 1.8l2.5 .2l0 9.6l-1.5 .2l-2 1l-1.5 1.8l-.1 1l1.6 1.7l3.5 .3l0 10.9l-4.5-2.6l-1 .4l-.4 1.3l1.4 2.3l0 4.2l1 .7l.8-.2l-.2-2l2.9-.3l0 4.5l-2.5-.6l-.2 .4l0 1l.8 1l1.9 .6l0 4.1l-.5 0l-1.4-1.7l-1.6-2.5l-1.4 1.5l-1.6 4.1l-2-1.9l-3 0l-1.4 2.8l.9 1l2.5 1l2 1.6l.3 1.4l.7 .7l3 1.5l1 0l2-2.4l.5 0l0 10.2l-2.5-.3l-1.6-1.7l-1.4-.3l-.1 1.3l2.6 2l.4 1.5l-26.1 0l-.7-1.5l-2.1-1.4l-2 1.2l-3-.3l-1 .6l-.7 1.4l-5.8 0l.2-2.5l2.8-3l0-1l-1-1l-1.5-2.6l-1-.8l-2-.2l-1 1.2l-.6 2.4l.1 2l1.8 2l-.4 1l-1.7 2.5l-3.3 0l-3.3-5.5l0-2l1.4-1.3l3-.6l.4-1.1l-1.4-2l-5-1.9l-1 2.4l-1 .7l-5-.9l-2-1.3l-3.2 6l.7 5l-.5 2.5l-8.3 0l.7-2.5l1.8-2l1-2l-.2-1l-2-1.7l-2 .6l-2.3 4.1l-.5 1l.1 3.5l-2.6 0l-.7-1.5l-1-.4l-1 .7l-.4 1.2l-8.1 0l-1.1-1.5l-3.4-.8l-2.8-2.2l-.5-5l-2.7-1.9l-2-2.4l-1 .4l-1 2.1l-4.5-1.2l.9-3l-.2-2l-3.4-3l-1.3-2l-1.5-1l-2 .3l-.8 .7l-.3 2l-.7 1l.8 2.4l4 2.5l2.5 4.1l.1 1l-.6 .7l-3 0l-1.3-1.7l-.2-4l-.5-.5l-1-.4l-2 .9l-1.4 0l-.6-1l.8-3l-.9-2l-.2-2l-.3-1l-1.4-1l-1-.2l-4 1.5l-.6 .7l.4 3l-1 1l.2 1.3l1-.2l1.4 .9l.4 5l-.9 2l1 2l.7 7.5l-26.1 0l0-34.2l5.5-.3l-.4-1l-2.6-1.3l-2.5-.4l0-10.8l3.5-1.2l1.8 .7l3.2 2.6l1.1-.6l-1.4-2l-.4-2l-1.3-1.6l-4-.8l-2.5 1l0-11.8l.5 0l.3-.8l-.3-.6l-.5 0l0-6.2l.9-.2l.6-1l-1.5-.8l0-6l2.5 .1l2 1l1.8 1.7l.3 3l4.9-.8l2.8 .8l.2 1l-1 2l-2.7 1l-.1 1l1.3 2l.3 2l1.2 .5l1-.5l.5-1l-.9-2l.4-1.1l1 0l1 1.8l.2 2.3l1.8 .6l2-.4l.4 .8l0 3l.6 .9l2 .1l3 1.2l5 .3l2.6-4.5l.7-5l-.3-1.1l-1-.7l-5-1l-4 .9l-1.4-3.1l-5.6-1.1l-1.1-2.9l.2-1l.9-.9l2.4-.1l.8-1l-.4-1l-2.8-2.6l-2-.2l-1 1.1l-.8 1.7l-.1 2l-1.1 1.4l-4 .3l-2.4-2.7l-.2-1l.6-1.2l1.9-1.8l.1-2l-2-.6l-4 1.5l-2.5-.2l0-34.6l2.5 0l4.6-2.1l.2-1l-3-2l-.8-.9l-.2-1.1l.7-2l2.4-2l1.1-1.7l3-.6l5 .7l1-.3l2-1.5l2-.5l2.5-5.1l-.5-1.7l-2-1.4l-1 2.7l-3 .7l-3 2.4l-3.1-.7l-.8-1l0-1l1.1-1l.2-1l.3-3l-.6-2l.4-1l1.9-2l-.9-1l-1.5-.1l-2.8 2.1l1.1 3l-1 1l-.3 1.8l-.1-1.8l-.9-1.5l-.4-2.5l-1.3-2l.5-2l-.2-1l-.6-.1l-1 .5l0 1.4l.7 1.2l-1.2 2l-.7 3l.4 4l-1.5 4l-1.2 .2l0-18.7zM384.3 237.4l-.8 1.1l-.2 2l4.6 2l-.9 3l.3 .3l3-.6l.5-.7l-.3-1l-2.6-2l1.1-2l-.1-1l-1.6-1.3l-2-.3l-1 .5zM398.3 254.4l-2 .8l-2 3.5l-6 3.1l-2 .5l-1.2 1.2l-.4 1l1.6 .7l2-.6l3 .2l1.9-1.3l2.1-.7l1.5-1.3l2.5-1l1.4-2l.7-2l-1.1-1.6l-2-.5zM406.3 253.1l-2.9 3.4l.7 1l1.2-.5l3-.1l1.9-1.4l0-1l-.9-.8l-3-.6zM415.3 252l-1.5 1.5l.3 1l1.2 .7l2-.2l0-1.5l-1-1.2l-1-.3zM425.3 263.8l-1.5 1.7l.5 .7l1-.1l.6-.6l.4-1l-1-.7zM430.3 272l-1.5 1.5l.5 .6l2.4-.6l.2-1l-.6-.5l-1 0zM436.3 245.3l-2.9 2.2l.6 2l-1.1 2l0 1l2.4 .8l2 2.7l2 .5l1.2-1l-.1-1l-1.4-2l-1.1-4l.4-3l-1-.7l-1 .5zM441.3 262.7l-.3 .8l1.5 1l-1.7 4l.5 2.1l-1 .7l-4.6 .2l.2 1l1.4 1l2 2.6l4 .3l2.8-3.9l.5-4l.7-.2l1 .5l1.3 1.7l1.5 6l2.2 1.2l1.2-.2l2.4-6l-.1-1l-1.5-1.1l-4.4-1.9l1-3l-.6-1l-1-.5l-1 .1l-2 1.4l-1 .2l-3-1.2l-1-.9l-1 .1zM449.3 256.1l-.9 .4l-.4 1l.7 3l1.6 .7l2-.1l1.8-2.6l.4-1l-.6-1l-1.6-.8l-3 .4zM457.3 276.9l-.9 .6l-.1 2.1l-3 .3l-3 2.2l-.8 2.4l1.2 2l0 2l-.9 1l-.4 2l-3.1 .7l-2.3-.7l-1.9-4l0-1l2.6-4l.3-2l-.4-1l-5.3 .6l-2-2.3l-1 .3l-1.5 1.4l0 1l2.5 1.1l.8 .9l1.5 4l-.3 .6l-2-.3l-2.7 .7l-1.3 1.5l-2 .9l-1.4 1.6l-.8 2l1.2 4l-1.1 2l-2.9 1.9l-1 1.5l-.7-.4l-.1-1l.8-1l-.1-2l.7-3l-.6-3l-1-1l-4-.6l-.4 .6l.3 1l2.1 2l.1 1l-2.4 4l-.7 2l-5-1.1l-2-1.4l-1-.1l-3.4 1.6l-3.9 8l0 1l.9 2l1.4 .5l1-.5l.4-2l.8-1l1.8-1.1l3.2-.9l1.8-2.2l1.1 1.2l-.2 2l-.9 2l1 1.4l3 0l3 1l1.2-.4l1.8-1.9l2 .1l.5 .8l-.5 2l1 3l-.3 2l2.3 1.4l1.4 1.6l-.4 .9l-2 .1l-.4 1l1.1 3l-.9 3l1.2 .7l3 .3l1-1.4l1-.6l3 .9l1-1.1l2 0l3.6 1.2l1.4 1.5l1 .2l4-3.3l2-.4l1.8-1l-.3-2l.5-.5l4-.5l.8 1l.1 2l-.9 1.4l-1.4 .6l.4 1l-2 .8l-.8 1.2l-.5 2l.3 1.4l4 .6l2.1-1l-.1-2.3l1-.7l-1.2-2l.3-1l2.9-2l.4-1l-.1-1l-1.4-2l-.9-2.8l-.2-2.2l2.2-2.8l1-.5l2 2.6l2-.8l2 .3l2.9 3.2l-.2 1l-2.1 3l0 1l2.4 3.2l2-1.8l1.5-.4l-.5-5l-1.2-2l1.2-1l4 0l.4-1l-.4-1.5l-4-.4l-2 .3l-1.1-.4l-1.9-1.9l-3-.7l-4 .3l-1.1-1.7l1-2l-.1-2l-3.8-1.4l-1.3-1.6l.6-2l2.7-1.9l0-1.3l-1-.6l-4 .7l-4.9-2.9l-.7-1l0-2l2.4-3l-.8-5l2-2.6l2-1.4l.2-2l-1.2-.6zM460.3 244.7l-.5 .8l.5 1l1 .3l1.3-.3l.7-1l-1-.7l-2-.1zM466.3 258.8l-1.5 1.7l.5 1.1l1 .1l1.4-1.2l-1.4-1.7zM479.3 277.1l-5 .8l-2.9 2.6l.2 1l1.7 .5l2-1l1 0l3 1.1l1-1.2l.2-1.4l-.6-2l-.6-.4zM483.3 248.3l-2.6 3.2l-.1 1l1.7 .9l1.3-3.9l-.3-1.2zM485.3 268.6l-.8 .9l.4 1l1.4 .2l0-1.2l-1-.9zM504.3 246.1l-.9 1.4l.9 .5l.9-1.5l-.9-.4zM487.3 260l-1.2 1.5l-.4 2l1.6-.2l1.2-.8l-.2-2.1l-1-.4zM492.3 276.4l-1.2 1.1l.5 1l3.7 1.4l-1-3.3l-1-.4l-1 .2zM494.3 260.3l-1.1 1.2l0 1l.6 1l1.5 .7l2-.5l.4-1.2l-.6-2l-.8-.5l-2 .3zM502.3 274l-2 2.4l-2.5 1.1l.3 2l1.2 .9l2-.4l3.3-2.5l.8-2l-.1-1.3l-1-.7l-2 .5zM510.3 291.1l-1.3 1.4l-.4 1l.4 1l1.3 .8l3 .3l1 .6l2 4.3l1-.1l.3-.9l-.6-2l.6-1l4.2-2l.7-1l-1.2-2l-1-.7l-1.3 .7l-1.7 2.4l-1 0l-4-3.3l-1-.1l-1 .6zM512.3 271.8l-.6 1.7l.6 1.4l1-1.4l.1-1l-1.1-.7zM514.3 279.3l-2 .7l-1.3 1.5l0 1l1.3 1.6l3 .3l3.2-2.9l.4-1l-.6-1.3l-2 .8l-2-.7zM373.3 328.9l-.6 1.6l.6 1.2l1 .6l1.8-.8l.4-1l-.9-1l-1.3-.7l-1 .1zM385.3 334.4l-3 3.1l-.2 1l1 2l1.2 .6l1-.1l2.3-2.5l.1-1l-1.2-3l-1.2-.1zM390.3 338.3l-.4 .2l.4 1.4l4 1.8l1-.3l.7-.9l0-1l-.7-.8l-2 .6l-2-1.1l-1 .1zM400.3 336.8l-1.8 2.7l1.8 1.6l1-.9l.3-1.7l-.3-1l-1-.7zM373.3 277.3l-.9 1.2l0 1l.9 .9l1.3 .1l.4-1l-.7-1.4l-1-.8zM384.3 274l-2.2 1.5l-1.6 2l.3 4l1.5 2.1l.1 1.9l-.4 1l-1.7 1.1l-3-1.4l-1 .1l-2.2 1.2l-.4 1l.4 1l1.4 1l-2 3l1.1 5l.7 1.3l2 .3l2-1.6l1 0l.9-1l.1-2.1l-.6-1.9l-1.4-1.5l0-.9l1-.2l2 1.4l3 .7l2.7 4.5l2.3 1.3l-1.3 6.7l2 4l2.3 .2l2.7-2.2l.7-3l-1.4-1.1l-.5-2.9l-1-2l.9-3l-.4-.7l-1.2-.3l-.8-1.5l-1-3.5l.7-3l-1.7-2.2l-2.8-.8l-.7-1l.7-2l2.6-2l1.2-4l-1-.9l-1 1.3l-1 .2l-2-1.2l-2 .1zM398.3 313l-.9 .5l-.2 1l1.1 1.1l1-.3l.6-.8l-.1-1l-1.5-.5zM418.3 331.4l-1.7 1.1l-.2 1l.9 1.9l1 1l1 0l.4-2.9l-.4-1.3l-1-.8zM421.3 317.2l-1 1.3l0 1.2l2 .2l1.8-.4l.1-1l-.9-.8l-2-.5zM426.3 319.4l-.4 1.1l.4 1.6l1.5-.6l-1.5-2.1zM438.3 328.6l-.3 .9l1.3 1.2l1.3-1.2l-2.3-.9zM454.3 348.2l-3 1l-.4 1.3l-2 2l.4 1l-.7 2l.7 1.6l2.3-.6l.3-1l-.5-4l.9-.9l2 0l1.1-1.1l-.1-1l-1-.3zM468.3 317.3l-3 .5l-.8 .7l.4 2l4.4-.1l.8-.9l-.8-1.6l-1-.6zM474.3 329.3l-.5 1.2l.5 1.8l1 .2l1-.6l3.1-.4l.2-1l-1-1l-3.3-.5l-1 .3zM461.3 256.3l-.4 1.2l.4 .4l1-.3l.7-1.1l-1.7-.2zM471.3 269.4l-1.5 1.1l-.4 1l1.9 3l2 .7l2-.1l.8-1.6l-.5-3l-2.3-1.5l-1-.2l-1 .6zM472.3 305.2l-.9 .3l.2 1l.7 .9l1.3 .1l.7-1.3l-.6-.7l-1.4-.3zM479.3 295.8l-.2 .7l1.2 .7l.2-.7l-1.2-.7zM486.3 294.2l-1.6 3.3l0 2l.4 1l2.2 2.2l5.5 1.8l-.3 2l1.8 3.5l1 .1l2-2.9l2 .2l1-.7l0-2.4l-1-.4l-4 .9l-1-.4l-.5-.9l.2-2l1.6-2l.2-1l-2.5-1.8l-2-.6l-1.9-1.6l-2.1-.5l-1 .2zM499.3 296.3l-2 .8l-.3 .4l.5 1l.8 .8l1 .1l3-.2l.4-.7l-1.1-2l-1.3-.6l-1 .4zM504.3 298.3l-1.4 1.2l.6 1l1.8 .7l1 2.3l2.5 2l-2.1 2l-.3 1l1.2 4l1.7 .9l1-1.3l.7-2.6l-1.2-4l2.2-1l.6-1l.1-1l-1.4-1.4l-4-1.3l-2-1.6l-1 .1zM513.3 314.4l-3 2.1l-.5 1l.5 1.2l4 .8l4.4-3l.2-1l-.5-1l-1.1-.5l-4 .4zM382.3 349l-1.1 1.5l1.2 2l-4.1 .2l-1.9 3.8l1.9 2.5l2-.1l1.2 .6l.2 1l-.7 3l2.4 3l-.4 1l1.1 1l1.2 .1l2-.9l4 .4l.7-.6l-.1-2l-2-3l0-1l-1.4-2l0-1l1.8-2l.1-1l1.6-2l-.7-1.2l-3-.3l-5-3.2l-1 .2zM390.3 343.1l-.8 1.4l.8 1l1.3-1l-1.3-1.4zM376.3 301.4l-.8 1.1l1.8 .9l.4-.9l-1.4-1.1zM409.3 342.2l-2.5 2.3l-.1 3l-1.4 5.2l-3-.1l1-2.4l-1-.6l-3-.2l-1 3.1l1 1.4l1.6 .6l-.3 1l-1.3 .6l-3-.3l-1.6 .7l-.6 1l1 2l4.2 1l3 2.5l1 .3l1-.4l.4-2.4l2-3l.8-2l.8-.9l2-.1l1.6-1l.6-1l-1-2l.1-1l3.2-5l-1.2-2l-1.3-.8l-2 0l-1 .5zM438.3 332.4l-4 1l.8 2.1l-1.1 1l-4.7-.4l-3-1.3l-2 .3l-1 1.4l0 4.1l-1.7 1.9l.7 .7l1 0l2 1l2 .1l4-.9l1.6 1.1l1.4 3.2l2 .4l1.4-.6l1-1l-.4-3l1-1.8l2-.7l1 .3l1 1.2l1.1 0l-.2-1l-2.7-3l-1.2-.5l-1 .3l-1 2.8l-1.3-.6l-.6-1l.9-3l1-.5l2.2-3.5l-1.2-.5l-1 .4zM467.3 333.1l-.7 3.4l.3 2l.7 1l-.8 1l-2.1 1l-1.8 3l.4 .7l4 1.6l1-.4l1.4-2.9l0-2l.5-1l2.1-1.5l1 .2l3 2.2l1 .1l-.3 2l-1.6 2l-.1 1l2 1.5l1.4 2.5l2.6 1.1l3.5-1.1l.9-2l-1.4-4.3l-4 1.4l-1-1.1l-.2-2l-.8-.9l-1-.1l-.1-1l1-3l-.9-2.1l-1-.8l-4 .1l-3-1.7l-2 .1zM461.3 265.2l-2 1.4l-1.3 2.9l1.3 1.8l2 .1l2 .8l1.2-.7l1.9-3l0-1l-3.1-.8l-2-1.5zM485.3 335.4l.7 1.1l1.3 .6l.3-.6l-.3-1l-1-.6l-1 .5zM500.3 313.8l-.9 .7l.3 3l1.6 1.9l2 .2l.5-2.1l-.3-1l-2.2-2.5l-1-.2zM504.3 336.1l-.4 .4l.4 1.1l1.7-1.1l-1.7-.4zM508.3 322.1l-2 1.4l-.3 1l.5 1l2.8 3.3l4-.2l.2-2.1l-2.2-3.7l-1-1l-1-.1l-1 .4zM517.3 329l-2.4 1.5l-.6 1l-.2 1l1.4 2l.3 2l2.5 3.8l4-.3l.5-.5l-.5-2l2-2l-1-2.8l-1-1.5l-2-.4l-3-1.8zM377.3 366l-3.2 3.5l-.2 1l1 1l1.4 .5l2-.4l3.8-3.1l-.3-1l-1.5-1.5l-3 0zM413.3 363.2l-.2 1.3l-1.2 2l0 1l1.4 .8l1.2-1.8l.1-1l-.7-2l-.6-.3zM422.3 346.9l-3 2.9l-2 1.1l-.6 1.6l.6 3.7l3.3 4.3l.7 .5l2 .1l1.8-.6l1.2-1.2l1-.1l3 1.5l7-.9l2 2.3l3 1l1.3 1.4l.7 2l2 1.8l0 .3l-3.1 .9l-1.1 2l-.8 4.5l-3-1.2l-2.6-.3l.5 3l2.1 2.4l1-.1l2-1.2l1-1.6l1.6-.5l.1-3l2.3-1.4l1 .3l.9 1.1l1.6 5l1.5 1.9l1-.4l4-4l2.3-1.5l-.3-3l1-2.1l1.7-1.9l.4-1l-.5-1l-1.6-1.2l-1 .2l-3 2.4l-1-.3l-4-4.1l-1-2.3l-5-3.3l-.9-1.4l.2-1l2.8-2l.3-1l-.6-1l-2.8-1.2l-2 .1l-1 .6l0 1.5l1.9 3l0 1l-1.9 1.7l-2-.3l-.7-1.4l-2.3-1.3l-2-2.2l-2-.9l-2 .4l-3 3.8l-2-.8l.1-1l1.6-3l-.5-3l-1.2-.6l-2 0zM463.3 349.4l-1 1.1l1 1l1.7 0l1.1-1l-.8-1.3l-2 .2zM466.3 354l-.5 3.5l1.1 2l-1.6 2l1 4l-1 2l.3 2l.7 1.3l1 .2l3-.5l2 1.1l.7-.1l.5-1l-.4-2l-3.9-2l.9-2l-.6-3l1-2l-.3-3l-.9-1.5l-2-.2l-1-.8zM467.3 351.2l-.5 .3l.5 1.3l2 .7l.6-1l-.6-1.3l-1-.4l-1 .4zM475.3 356.5l-.4 2l-1.6 1l-2 3l.1 1l1.4 1l.7 2l.8 .7l4-2.7l1.1-2l-2.1-4.8l-1-1l-1-.2zM461.3 274.1l-1 1.4l1 1l1.1-1l-1.1-1.4zM466.3 279.3l-3 .9l-1 1.3l.2 1l4.5 3l.8 4l-1 4l.5 1.2l1 .1l2.6-1.3l.1-2l-.9-2l2.2-4l-2-3l.3-1l-4.3-2.2zM495.3 331.3l-1 1.2l.1 3l-2.2 1l-.5 1l1.6 1.7l1.3-.7l.7-2l3.4-1l2.6-2.5l1.1-.5l.5-1l-.6-.4l-1 .3l-5-.6l-1 .5zM505.3 353.5l-.9 1l.9 1.7l1-.4l.2-1.3l-1.2-1zM509.3 333.2l-2.9 3.3l1.9 1.6l1 0l2-1l1.3-1.6l-.3-1l-2-1.9l-1 .6zM516.3 364.4l-1 .5l-.9 1.6l.9 .6l.9-.6l.4-1l-.3-1.1zM375.3 376.1l-1.2 1.4l-.8 3.5l-1.4 .5l-.3 1l.7 .3l1 .1l1-.9l1-.2l4-3l1 .2l1.7 3.5l-1 3l.3 1l1 0l.5-2l1.5-2.2l3.8-.8l-.7-2l-1.1-.9l-6-.4l-2-1.7l-3-.4zM428.3 374.4l-.9 3.1l-2.4 2l-.2 1l6.5 .9l1-.5l1.5-1.4l-.5-2l-3-3.2l-2 .1zM434.3 364l-.8 1.5l1.6 2l3.2 1.2l1.5-.2l.2-1l-1.7-3.4l-4-.1zM476.3 372.5l-1 2l1 1.9l2-1l1.4-1.9l-.7-1l-2.7 0zM494.3 342.5l-1 0l-2 1.9l-2.9 1.1l-.4 3l.3 3l1 1.2l3-1.1l1.8-2.1l1.3-5l-.1-1.1l-1-.9zM497.3 348.9l-.3 .6l.4 1l.9 .6l1.1-.6l.3-1l-.4-.3l-1-.5l-1 .2zM502.3 357.4l-5 1.2l-3-1l-1 .5l-1 2.5l-3 1.6l-1.8-1.7l-3.2-1.6l-1.4 .6l-.8 2l1.2 1.5l2.2 1.5l.6 3l1.2 .2l3-2.1l1-2.3l1-.5l.8-1.3l3.2-1.3l1 .1l2.9 5.2l-2.9 2.3l-4 .3l-1 1.6l.4 2.8l1.6 2.2l3-.4l2-1.4l1 .5l.1 1.1l-.9 2l3.2 3l1 3l1.9 2l.5 3l1.2 .6l5 .5l.6-1.1l-.6-2.7l-.5-.3l2.3-2l-.1-2l-1.7-1.2l-2-.1l-1 .9l-1 1.9l-1 .2l-1.8-1.7l-.4-1l1.2-3l-1.9-6l1.3-2l.1-1l-1.5-2.8l-1.4-1.2l.7-5l-.1-1l-1.2-.1zM489.3 374.9l-2 2.3l-2 1.2l-.4 1.1l.1 1l2.3 2.5l3.4-1.5l1.3-2l.2-1l-1.1-3l-.8-.6l-1 0zM501.3 386.7l0 1.7l1.1-.9l-1.1-.8zM438.1 235l6 0l.2 1.3l.6 .2l-1.6 .3l-2-1.1l-1 0l-2 1.7l-.2-2.4zM516.2 235l9.6 0l0 7.2l-2.3 .3l.8 1.4l1.5 .1l0 11.9l-.5 0l-.1-1.4l-1.3-2l-.6-4.5l-5.5-1.5l-2-3l0-1l1.6-5l-1.2-2.5zM447.4 237.5l1.1 0l.3 1l-.5 .4l-.9-1.4zM516.9 252.5l.4-.6l3.1 .6l.5 2l-1.1 2l-2.5 .9l-1.1 2.1l-1.9 1.9l-4.7-1.9l-.5-1l.4-1l5.8-2.7l1.6-2.3zM372.7 253.5l1.6-.2l.1 1.2l-1.1-.1l-.6-.9zM431 355.5l1.9 0l-.6 .8l-1-.1l-.3-.7zM386.7 363.5l.6-1l1.8 1l.2 2l-1 1.2l-3.5-1.2l1.9-2zM454.3 371.5l1 .1l.7 .9l-.1 1l-.8 1l-1.8 .4l-.6-.4l0-1l.6-1.3l1-.7zM397.5 374.5l.8-.6l1.5 .6l.5 1l-.6 2l.6 2l2.2 2l0 1l-1.2 .8l-3 .9l-1.6-.7l-.7-1l.5-4l1.4-2l-.4-2zM416.2 381.5l1.1-.7l1 .4l1.9 1.3l.4 1l-3.4 5l-1 2.5l-3.4 0l3.4-9.5zM403.1 387.5l1.2-.1l1 .7l.6 2.9l-5.6 0l1-2.4l1.8-1.1z"/><path fill="#0048ff" d="M375.8 235l2.3 0l0 .5l-.8 .8l-1.5-.8l0-.5zM386.9 235l3.7 0l0 .5l-1.3 .8l-1 0l-1.4-.8l0-.5zM412.5 235l1.7 0l-.9 1.9l-.8-1.9zM418.6 235l2.1 0l0 .5l-1.4 1.3l-.7-1.8zM472.2 235l4.3 0l0 .5l2.4 2l-.1 1l-1.3 2l.1 2l4.5 2l.4 1l-.1 1l-2.1 3.5l-1-.2l-.3-1.3l-4.4-6l-1.8-1l-3.3-3l2.3-2l.4-1.5zM490 235l2.3 0l0 .5l-1 .9l-1-.3l-.3-1.1zM518.1 235l7.7 0l0 6.1l-3.5-1l-.7 .4l-.3 1l.8 3l-1.8 1.4l-1.9-.4l-.8-2l.3-3l1.3-2l-1.1-3.5zM369.8 236.5l0-.7l1.8 .7l.7 4l-1 4.4l-.9 1.6l0 1l.9 .8l.2 1.2l-1.2 1.3l-.5 0l0-14.3zM487 238.5l1.3-.7l3 .1l.4 4.6l-.4 .5l-4.1 .5l-.9 1.2l-1 .5l-1.8-1.7l1.8-1.7l1.7-3.3zM503 239.5l1.3-.7l3.4 .7l.9 1l.1 2l.6 .6l2 .4l-2 2.7l-1.6-.7l.2-2l-.6-.5l-2-.3l-2.8 3.8l-.4 3l-.8 .8l-1 .2l-.7-1l-.5-6l1.2-2l2.7-2zM460.1 241.5l1.2-.2l.9 1.2l-.9 .7l-1-.1l-.8-.6l.6-1zM382.7 243.5l1.6-.8l1 .5l-.1 1.3l-1.1 1l.2 1l3.7 2l0 1l-3.7 1.2l-2 1.9l-.5-.1l-.1-1l.6-1l-.2-3l.8-1l-.6-2l.4-1zM439.5 243.5l.8-.6l2 .5l2.2 4.1l-.3 2l-1.9 3.2l-1 .7l-1.3-.9l-.7-2l.2-7zM394.2 246.5l.1-.3l1 .3l1 1.1l1 .2l1-.7l1 .3l.5 1.1l3.5 3l0 2.1l-1 .8l-7-2.7l-1.6-3.2l.5-2zM510.8 246.5l1.5-.6l2 .6l1.4 1l.4 2l-.8 1l-1.7 0l-2.8-4zM506.8 247.5l.5-.3l2 .8l.6 1.5l-.5 1l-1.1 .6l-2.9 .4l-.8-1l.2-1l2-2zM459.8 248.5l3.5-.6l.9 1.6l.2 3l-1.1 1.6l-2 .5l-2.3-.1l-.7 5l-2 3l-1 0l-1-1l-.1-1l1.7-3l.2-2l-1.9-4l1.1-1l3-.6l1.5-1.4zM415.8 249.5l2.5-.7l.8 .7l-.8 1.8l-2.5-.8l0-1zM524.8 249.5l.5-.8l.5 0l0 2.4l-.5 0l-.5-1.6zM412.7 250.5l.9 0l.1 1l-1.4 1.1l-1.6-.1l-.5-1l2.5-1zM485.2 250.5l3.7 4l0 1l-.6 .7l-2 .1l-1.1-.8l-.3-3l.3-2zM419 252.5l2.3-.2l3 .8l1 1.3l3-1.2l1 .4l2-.2l4 1.8l1 1.8l1 .3l3 .1l2-1.7l1 .2l1.3 1.6l0 1l-2.3 1.6l-3 .5l-1.3 .9l.7 2l1.9 2l-.3 1.4l-2.7 2.6l-1.3 .6l-3-.6l-1 .3l-.6-.3l-.4-1l1-1.7l-.1-1.3l.5-1l1.6-1l.6-1l-.6-1.8l-1-.6l-3-.4l-4 .7l-1.1-.9l-.9-2.3l-2-1.3l-2-.2l-1-.7l-.6-1.5l.3-1zM449.6 253.5l.7-.5l.8 .5l.1 1l-1.5 0l-.1-1zM392.6 254.5l.7-.5l1.3 .5l-.3 1.8l-1 1.4l-1.2-.2l-.2-2l.7-1zM412.2 255.5l4.1 1l.7 2l-.7 1.8l-6-1.4l-4 2l-1-.5l-.5-.9l.5-1l4-.4l2.9-2.6zM494.2 255.5l1.2 0l1.2 1l.1 1l-1.4 .8l-2-.6l-.3-1.2l1.2-1zM500.6 257.5l1.7-.6l1.4 1.6l.2 1l-1.8 3l1 3l-.3 3l.5 1.2l1 .9l3-3l2 .2l.5-1.3l1.5-.6l2 1.7l3 .8l-.6 2.1l2.2 3l2.4 .7l2.5-.7l-.5-.6l0-1.8l1.4-4.6l-.5-6l1.1-.8l1.5-.3l0 15.3l-.5 0l-.6 .8l.6 1.4l.5 0l0 3.1l-.5 0l-.5 1.5l1 .5l0 9.4l-1.5-.3l-2.1-2.6l-1.9-.7l-1.8 .7l-1.1 2l-1.1 .7l-2-.4l-2-1.1l-2.5-.2l-.9-1l4.4-3.2l2 .4l2.2 2.8l1.7-3l-.6-2l1.9-3l.2-2l-2.4-1.2l-2 1.2l-1-.2l-.6-.8l-.2-3l.7-3l-.6-1l-2.3-.6l-.6 .6l-2.1 4l-.3 2.1l-2 1l-.8-1.1l-.3-3l-1.9-1.3l-3.7 1.3l-4.3 3.2l-2-1.6l-3 0l-1.2-.6l-1-3l-2.5-4l-.1-2l.8-1l1-.3l1-.1l1.1 1.4l.9 .4l6-1.1l1-1.3l.6-4l1.7-2zM511.4 258.5l.9-.9l1 .1l.6 .8l-1.6 .8l-.9-.8zM378 259.5l3.3-.3l3.6 1.3l.1 1l-.7 .6l-2 .3l-2 1.1l-.1 1l1 2l-.9 1.4l-1 .2l-1-.5l-2-2l-2-1.1l2-2.2l1.7-2.8zM401.7 260.5l.6-.2l.6 1.2l0 3l.4 .7l2-1.2l.7 .5l1.3 3.7l2 .1l1.6 1.2l.4 1l-.3 1l-1.1 1l-.6 2.8l-1 .8l-2-1.2l0 1.1l1 1.6l4-.2l1-4l.8-.9l2.9-1l.7-2l1.6-.9l1 0l1 .9l-1.7 3l.1 1l2.6 .4l.7 .6l.3 1.1l1 .3l1.1-.4l-2.7-4l1.6-1.5l4 .8l.1 .7l-1.8 4l1.7 1l1 .2l2-1.2l2-.4l2-1.6l1.2 1l-.6 2l-2.1 2l-.3 2l-2 3l-.2 2.3l-3 1.3l-2 2l-5-1.5l-2 .8l-3-.7l-3 .6l-1 .8l-1-.2l-.2-1.4l1.6-3l-3.8-1l.6-1l-1.2-.4l-2 1.3l-.6 2.1l2.5 4l.1 1.6l2 .5l2-1.6l3 .4l2 1.5l1-.3l1 .4l2.5 2.5l.4 1l-.9 1.6l-1 .7l-2 .9l-2 .2l-.9-.4l-.6-1l1.3-4l-.8-.5l-3 .4l-1 2.1l-1 .8l-4-1.8l-2 2.8l-1.9 .2l-.8 1l.7 1.2l1 .1l1-.8l2.1 3.5l-.1 2l-1 .8l-1 0l-1.3-.8l-.7-2.3l-1-.4l-2 .9l-1-.2l-1.5-3l.4-1l1.6-1l.7-3l1.8-1.2l2.8-.8l.2-.5l-.2-5.5l-1.5-2l.7-1l-.1-3l-2.5-2l.3-1l1.6-1l.2-1l-.5-.6l-2 1.2l-3-2.2l-2 .5l-1.1-.9l-.4-1l.5-1.4l2 1l1-.3l.8-1.3l-.1-1l-.7-.6l-2 .2l-1-.6l-.7-1l.5-2l1-1l2.7-1l4.9-3zM407.3 268.9l-.5 2.6l.5 .5l2-.5l-2-2.6zM412.3 280.8l-.8 .7l-.2 1l1 .7l1-.1l.7-.6l.2-1l-1.9-.7zM421.3 277.4l-2 .6l-1.1 1.5l.1 1l2 3.3l1 .3l2-2.2l.3-1.4l-1.3-2.9l-1-.2zM471.2 260.5l2.1-.7l2 .2l1.1 .5l.2 1l-2.7 3l-.9 2l-3.7 2.5l-1-.4l-.1-2.1l-.9-.8l-3 .3l-1.3-1.5l-.2-1l.5-.4l3-.1l4.9-2.5zM489.8 260.5l1.5-.6l.8 .6l0 2l-.8 1.4l-1.2-.4l-.6-2l.3-1zM407.2 261.5l.8 1l-.7 .7l-.8-.7l.7-1zM418 261.5l1.3-.8l1.1 1.8l-1.1 1.2l-.6-.2l-.7-2zM386.9 266.5l1.4-.4l1 .3l.8 1.1l-.3 3l-.5 .6l-1-1.3l-1-.5l-1.3 .2l-1.7 1.6l-2.4-1.6l.1-1l2.3-1.7l2.6-.3zM481 266.5l1.3-.1l.3 3.1l2.9 3l1.1 3l2.8 2l.5 2l-2.8 1l-3.1 3l-.8 2l.4 2l-3.3 .9l-1-.2l-.5-.7l2.3-4l.2-3.3l1.3-3.7l-2.3-2l-2-2.9l-.5-2.1l.5-.6l1.8-.4l.9-2zM379.3 269.5l1-.1l1.1 2.1l2.5 1l-.6 1.1l-3 1.8l-1.1 .1l-.7 1l-.3 2l-.9 1.1l-1-.5l-.2-2.6l-2.4-3l-.1-1l5.7-3zM412.8 269.5l.5-.5l1.5 .5l-.5 .6l-1 .1l-.5-.7zM448 272.5l1.1 1l.2 2l-1 1.7l-2 .7l-1-.3l-.1-2.1l2.1-2.9l.7-.1zM369.8 273.5l0-.5l.5 0l1.4 1.5l-.1 2l-1.3 .8l-.5 0l0-3.8zM470.1 276.5l1.6 0l.4 1l-.8 1.2l-1.2-.2l-.4-1l.4-1zM448.7 277.5l1.6 .1l1.3 .9l-3.3 4.4l-1 .3l-1-.7l.9-4l1.5-1zM463.2 277.5l1.1-.8l.5 .8l-.5 1.1l-1-.1l-.1-1zM509.5 278.5l.8-.9l1 .9l-1 1.7l-1-.4l.2-1.3zM369.8 279.5l.5 0l2 1.8l7 1.2l2 1.8l.1 1.2l-1.1 .8l-2-1.2l-4 .8l-3 3.7l-1.5 .3l0-10.4zM396.9 279.5l.7 0l0 4l-1.3 1.5l-1 .2l-1.3-.7l-.7-1l.2-1l3.4-3zM433.8 283.5l2.5-.8l1 .7l.1 1.1l-.8 1l-1.3 .2l-1.6-1.2l.1-1zM455.8 283.5l1.5-.8l2 .8l.8 1l-.2 2l1.4 1l1-.3l1-1.8l1.4 .1l.4 1l-.8 3l1.4 2l-.4 2.7l-1 .6l-3-.5l-1 1.2l-1 .4l-1-.1l-3.9-2.3l-.3-1l.4-1l2.2-1l-1.3-6l.4-1zM445.9 284.5l.4-.5l1.1 1.5l1.8 1l0 1l-1.9 .3l-2-.6l-.4-1.7l1-1zM486.6 285.5l1.7-.5l1 .2l2 3.2l2 1.7l1 .5l2-.9l2 2.7l1.5 1.1l-2.5 .6l-2 1.2l-1-.1l-.9-.7l-.4-3l-.7-.6l-2-.2l-1-.7l-3.1-3.5l.4-1zM502.1 285.5l1.2-.6l.6 .6l-.6 .9l-1 0l-.2-.9zM501.1 286.5l1.2 0l2 1.3l2.9 2.7l0 1l-.9 2l1 2l0 1.5l-2-.7l-4.7-2.8l.6-4l-1.1-2l1-1zM399 287.5l1.3-.7l.6 .7l-1.6 .4l-.3-.4zM444.9 288.5l.4-.6l1 0l.6 2.6l-.6 .4l-1-.3l-.4-2.1zM395.3 289.5l1-.2l1.2 1.2l-.5 2l-1.7 .8l-1.9-.8l-.4-1l.3-1l2-1zM472.3 289.5l1-.2l1.2 1.2l-.2 1.4l-1 1.3l-1-.8l-.4-1.9l.4-1zM478.2 291.5l1.1-.5l2.4 .5l2.6 1.5l.4 1.5l-.4 1.2l-1 .5l-1-.2l-1-.6l-1-1.6l-1-.5l-2 1l-1-.6l.3-1.2l1.6-1zM383 294.5l.3-.4l1.1 .4l-.4 1l.5 2l-1.2 2l.2 2l1.8 1.2l.7-2.2l.9-1l1.5 0l.5 1l-1.6 3.6l-2.7 2.4l-1.9 3l-.7 3l-2.7 .5l-1.8-1.5l-.3-1l2.7-3l.7-4l-.4-1l.1-2l2.7-2l-.5-2l.5-2zM523.3 295.5l1 .3l1 1.3l.5 0l0 7.8l-1.5 0l-2-1.2l-2.8 2.8l-.1 3l-1.3 2l.4 1l-4.2 .7l-1.7-1.7l-.5-2l.2-2.2l2-2.8l-.4-3l-1.6-1.8l-2-.3l-2.9-1.9l2.9-.9l2 .5l2 2.3l.9 2.1l1.1 .5l2.3-1.5l.7-2.2l1.6-1.8l2.4-1zM471.9 296.5l1.4-.1l2.3 2.1l2.7-.1l2 1.2l2-.3l5 4.3l3 1.7l1 3.7l-5 .4l-1-.5l-1-2.4l-2.2-1l-.8-4l-1 .1l-.6 1.9l-1.6 2l.3 1l2.9 .4l.4 2.6l-1.4 .7l-2-1l-2 1.3l-1.1-1l.6-4l-.4-1l-2.8-1l-1.6-3l.9-4zM465.8 297.5l.5-.4l1.6 1.4l-.6 1.8l-2.6 3.2l-1.4 .3l-1.3-.3l-.9-1l.1-1l3.1-1.5l1.5-2.5zM369.8 300.5l0-.8l1.5-.1l.8 .9l1.3 4l-.8 1l-2.8 0l0-5zM505.2 304.5l1.1 .5l0 .8l-1 .3l-.6-.6l.5-1zM410 308.5l1.3-.4l1.3 .4l1.1 2l2.6 2.8l3-.8l1.7 1l.1 1l-2.5 2l-.2 5l-2.1 .7l-3-1.2l-2-.1l-3 2.9l-2 .2l.1-2.5l-1.4-2l.6-1l1.7-1.3l2 .8l2-.5l1.4-1l.8-2l-1.3-2l-3.2-2l-.1-1l1.1-1zM501.1 308.5l2.2-1l1.4 2l1 3l2.8 3l.1 1l-1.2 3l-.1 2l-3 1.1l-1 2.9l-2 1l-1-.3l-.4-.7l-.6-3.1l1-.8l4-.2l1.2-2.9l-.3-2l-.9-2.3l-3-2.1l-3 0l-1 .7l-1.1-.3l1.1-2.3l3.8-1.7zM397.7 309.5l.6-.8l.8 .8l-.8 .8l-.6-.8zM395.2 310.5l1.1 1l-2.4 4l-1.6 1.2l-2.8-.2l-.4-1l.8-1l1.8-1l.7-2l2.8-1zM482.7 311.5l1.6-.8l1 .6l1 2.1l1 .5l3-.2l2 .4l.7 1.4l-.5 1l-1.2 .2l-2-.8l-1.5 1.6l.8 2l-.3 .4l-1 .2l-1-.9l-2 .2l-.6-1.9l.9-2l-.1-1l-1.2-.5l-.8-1.5l.2-1zM369.8 312.5l2.5 .2l2.4 1.8l.4 1l-.2 1l-.6 1.6l-1 .9l-2-2.4l-1.5-.5l0-3.6zM519.6 312.5l1.7-.4l4.5 1l0 13.4l-2.1-1l-.6-1l-.8-5.5l-2-.3l-1 .7l-.6 2.1l-1.6 2l1.1 3l-.9 1l-2 .6l-3.4-6.6l.3-1l2.1 .5l1-.3l1-.5l1-1.5l2-.6l.8-1.6l-.5-4zM403.2 313.5l1.1-.3l2 .8l.5 1.5l-.5 .7l-2-.4l-1-.9l-.1-1.4zM425.2 313.5l.4 2l-.3 1.3l-1-.3l-.6-1l1.5-2zM395.8 316.5l1.5 .3l1 .9l3-1.8l1 .1l1 .4l.7 1.1l-.4 2l-.7 1l-1.6 .3l-4-1.8l-1 .3l-1-.4l-.5-1.4l1-1zM496.2 316.5l1.1-.4l.4 .4l.4 2l-.8 .8l-1-1l-.1-1.8zM376.1 320.5l1.2-.9l1 0l1.4 4.9l-2.4 .6l-1 1.8l-1.2-.4l-1.5-2l2.5-4zM483.8 320.5l.5-.9l.5 .9l.5 3.2l-1.1-.2l-.4-3zM492.6 320.5l.7-.4l.8 .4l0 1l-.8 .7l-1.3-.7l.6-1zM419.9 321.5l2.4-.5l2 .2l.3 1.3l-.7 2l1.4 1.4l2 .7l.5 .9l-.2 2l.7 1.2l4.1 .8l.1 3l-.4 0l-.4-1l-2.4-1.2l-.3 1.2l-.7 .3l-6-.2l-1-.6l-2-3.5l-1-.1l-2 1.3l-1.5-.2l-.5-1.4l2-2l5.1-.6l-.1-1l-1.8-2l-.3-1l.7-1zM466.2 322.5l2.1-1l1 .3l.7 1.7l-.7 1.9l-2 0l-.8-.9l-.3-2zM488.4 322.5l1.9-.8l.8 .8l-.8 2l-2.4 0l-.7-1l1.2-1zM481 324.5l.3-.3l1.6 2.3l-.6 1.9l-1 .5l-1.2-1.4l.2-2l.7-1zM409.8 326.5l1.5-.7l1 .7l-1.2 3l-2.1 1l.4 2l.9 .9l2 .5l2-1l3.4 5.6l3.6-.2l.9 1.2l-2.6 4l.6 3l-.2 1l-.9 1l-2.3 1l-1.5 1.9l-1 .4l-1.2-1.3l.1-1l1.1-2l2.8-1l.1-1l-.6-2l-2.3-1.7l-1-1.4l-3 .1l-2 1.2l-3 .3l-.9 .5l.5 2l-2.6 2.6l-1-.2l-2-2l-1-.3l-2 1.7l-.7-2.8l2.7-.2l2 .7l1-.2l1.3-1.3l.6-3l-1.4-5l1.3-3l2.2-2.4l3 .1l1.5-2.7zM469.4 326.5l.9-1l1.9 1l.1 1l-1 2.5l-1.8-2.5l-.1-1zM476.2 326.5l1.1-.4l1.6 .4l-.3 1l-1.3 .3l-1.1-.3l0-1zM464.6 327.5l.7-.4l.7 .4l.7 2l0 1l-1.2 2l.2 5l-.4 1.3l-2 .5l-1 2.3l-1 .2l-1-1.7l-1-.5l-2 .4l-2-2.2l-1.1 2.7l-1.9 1.2l-1-.1l-1-1.1l-.3-2l.2-1l1.5-1l1.5 0l1.1 .7l1-.3l1-1l1-.2l3 .8l2 1.1l1.5-2.1l0-2l.7-2l-.5-3l.6-1zM377.9 328.5l3.8 1l1.7 3l-.3 2l-.6 1l-1.7 1l-1.5 2.7l-1-.1l-2-1.6l.1-1l1.7-1l.5-1l-.7-6zM387.4 328.5l1.9 .1l.1 1.9l-1.1 .9l-2 .4l-1.5-1.3l.3-1l2.3-1zM452.5 330.5l.8-.5l.4 .5l-.4 1.2l-.8-1.2zM489.1 330.5l1.2-.5l2.6 1.5l0 3l-1.6 1.1l-1 .3l-1-.4l-2.8-3l.1-1l.7-.6l1.8-.4zM369.8 331.5l0-1l.5 0l2.2 2l.9 2l-.4 2l-3.2 .6l0-5.6zM504.7 332.5l.6-.6l2-.1l.4 1.7l-1.4 1.1l-1.8-.1l-.4-1l.6-1zM390 333.5l3.3-1l1.3 1l.1 2l-1.4 1.4l-4-.2l-1-1.2l1.7-2zM442.3 333.5l5-.5l.4 .5l-1.4 .1l-3 4l-2.4-1.1l-.5-1l1.9-2zM397 334.5l1.3-.9l1.8 .9l-1.8 2l-1.3-1l0-1zM500.7 335.5l.6-.7l1 0l.5 3.7l2.5 .9l2-.3l2 .3l4-2.4l1 .2l1.8 2.3l.2 3.2l2.9 .8l1.1 1.9l1 .5l4.5 .7l0 8.3l-1.1-.4l-.6-1l.2-2l-1-1l-2.1 0l-2.5 1l-.2 3l-2.4 3l.2 1.3l2.4 2.7l-.3 1l-3.1 .9l-1 .9l-2.7 5.2l-.2 3l-1.1 1.7l-1 .5l-2-.3l-.9-.9l-.4-2l1.7-4l0-3l.7-2l-.4-1l-2.3-1l0-1l1.8-4l-.2-2l-2-1.7l-1 0l-1.7 3.7l-1 1l-2.3 .8l-1-.2l-.8-1.6l1.5-3l2.7-2l.6-1l-1-1.6l-5-.8l.2-3.6l-1.1-3l1.5-3l3.8-2zM489.2 338.5l1.4 0l.8 1l-.2 1l-.9 .4l-1.6-.4l-.1-1l.6-1zM473 340.5l1.3 .7l.7 1.3l-1.2 5l-1.5 .6l-2-.4l-.9-1.2l.3-1l1.5-4l1.8-1zM379.9 341.5l.4-.5l1 .1l3.6 1.4l1.2 1l1.2 2.2l2 1.3l1 .1l2-.9l1 0l3 1.4l.8 .9l.3 2l-.8 3l-.3 .4l-3-1.6l-2-2.4l-1-.2l-1.1 .8l-1.9-2.8l-1-.5l-4 .3l-2.3 2l-.7 1.4l-2 .9l-2 1.9l-1 .3l-2-.8l-2.5-.2l0-9l3.5-.7l4 2.8l2 .4l1-.8l.3-1.2l-.7-3zM482.2 341.5l1.1-.4l.3 .4l-1.3 1l-.1-1zM429.7 344.5l1.9 0l.9 1l.3 2l-.5 1.2l-1 .6l-2 .3l-1 .6l-1-.4l-.2-3.3l.8-1l1.8-1zM440.7 344.5l8.6-.1l2.8 1.1l-.9 2l-1.9 2.2l-1 .5l-5-2.1l-2-.1l-.8-.5l.2-3zM475 349.5l.3-.6l1 1.7l-1-.1l-.3-1zM434.4 350.5l.9-.6l2-.3l1 .8l.1 2.1l-1.1 1l-1.1 0l-1.2-1l-.6-2zM455.7 351.5l1.6-.2l2 .8l2 3.1l0 .6l-1 .5l-1-1.8l-4.1-2l.5-1zM472.8 351.5l1.5-.4l.7 .4l-.1 1l-1.3 2l-.3 2l-1 .6l-1.5-2.6l.5-1.4l1.5-1.6zM482.6 352.5l3.7-.8l1 3.7l2.9 2.1l-.6 1l-1.3 .6l-4-1.7l-2.5-3.9l.8-1zM412.8 354.5l1.5-.4l.5 .4l1.5 3.4l1.7 1.6l0 2l5.3 1.1l4-.6l4.2 1.5l.1 1l-1.1 1l-.3 1l1.1 1.5l2-.1l2 1.2l2 .1l1 .9l2-.2l1 .6l-1 3.3l-1 .2l-3-1.3l-4 1l-.8-1.2l-.2-2.7l-4.2 2.7l-.6 1l.4 3l-.6 1.3l-3 1.4l-1-.4l-.6-3.3l-1.1-1l-.9-2l-1.4-1.1l-3.3-.9l.3-1.1l1.7-1.9l.1-1l-.7-2l-.2-2l-.9-1.4l-1-.2l-4.8 1.6l1.3 2l-.8 2l-.7 .3l-4-.8l.3-1.5l2-2l-1.4-2l.8-2l2.3-2.7l2-.2l1.5-1.1zM425.3 368.4l-.5 .1l.5 1.5l1.2-1.5l-1.2-.1zM454.3 356.5l1-.4l2 1.3l3-.8l1 .1l1 1.3l.3 1.5l-1.3 1.3l-4-2.3l-2 4.1l-1-.8l-1 .3l-.7-.6l.4-1l-.2-2l1.5-2zM369.8 357.5l4.3 1l1.4 1l1.6 3l-.2 2l-2.6 2.6l-2.4 1.4l.4 2l2.3 3l-.7 2l-1.6 1.5l-1-.7l-1-1.6l-.5 0l0-10.1l1.5-.9l.4-1.2l-.4-1.6l-1.5-.6l0-2.8zM392 360.5l.3-.6l1-.4l2 1.2l3.5 .8l3.6 3l1.1 3l-.4 1l-.8 .9l-.7-.9l-.5-2l-3.8-1l-2 .5l-1-.4l-2.3-4.1l0-1zM460.9 362.5l.4-.5l2-.1l1.4 2.6l-.4 1l-1 .3l-1-.8l-1.2-1.5l-.2-1zM494.9 362.5l1.4-.4l1 .7l.1 2.7l-1.1 1.1l-2-.1l-.9-1l.5-2l1-1zM441.1 364.5l1.2-.1l.6 1.1l.2 1l-.8 1.2l-1.3-1.2l-.3-1l.4-1zM480.8 364.5l.5-.7l1 .1l1 .8l.9 .8l1.1 3.2l1 .7l4-.7l.5 .8l0 3l-2.5 1.1l-1 .9l-.9 2l-2 1l-1.1 1.9l-.9-.9l.3-1l-.4-.5l-2.9-.5l2.9-3.5l2-.1l2 1.1l.9-.5l-.9-2.2l-1-1.3l-5 1l-3 .1l-1-.6l.3-3l.7-1l3.5-2zM518.9 365.5l.4-.7l1 .1l0 .9l-1 1.3l-.4-1.6zM461.1 369.5l3.2 0l.1 2l-.9 1l-.2 1.1l2.4 1.9l-.4 1.4l-1 .5l-2-.3l-2.5-3.6l-.3-2l.8-1.5l.8-.5zM382.1 370.5l4.6 0l4.6 5.5l2 1.1l.2 1.4l-.4 1l-.8 .7l-2 .3l-4.3-4l-.7-2.2l-2 0l-2 1.8l-1 0l-3-1.2l-.3-.4l.3-.4l3-2.9l1.8-.7zM468.7 371.5l1.5 0l1.1 1.2l1.6 .8l.1 1l-.7 1.6l-1-.4l-1-1.2l-2.5-1l-.5-1l1.4-1zM445.9 375.5l.4-1l.5 4l-1.9 1l-1.9 3l-1.2 4l-2.5 1.1l-1.6 3.4l-4.1 0l-.3-2.5l1-.9l1.3-.1l.4-1l-2.7-.5l-2.7-2.5l2.7-2.4l2-1l1.2 .4l.8 2.5l2 .4l1-.4l.6-.5l.5-2l4.5-3l0-2zM511.6 376.5l1.7-.8l1 .6l5 5.5l2-.2l3 1.7l1.5-.3l0 4.4l-1.9-.9l-.6-1.9l-2 .4l-.9-.5l-1.1-1.7l-2.1 1.7l-1.1 2l1.2 .9l1 .1l2.8 2l.5 1.5l-9.2 0l0-.5l2.3-2l-.8-3l1.4-3l.1-2l-.4-1l-3.7-1.9l-2 .4l-.4-.5l.4-.5l2 .3l.3-.8zM407.2 379.5l.1-.4l1 .2l.3 1.2l-1.1 0l-.3-1zM454.7 379.5l.6-.2l1 .8l.5 1.4l-1.4 2l-.1 1l1.4 4l-.7 2.5l-5.9 0l.7-2.5l3.3-4l.1-1l-1.3-2l1.8-2zM493.9 379.5l.4-.7l1 .9l.7 .8l.1 1l-2.8 1.2l-.3-1.2l.9-2zM499.6 379.5l.7-.3l1.6 1.3l.2 3l-2 2l-.8 4.7l-3.6-2.7l-.3-1l.9-1.8l1.7-1.2l-.2-2l1.8-2zM378.1 381.5l1.2-.7l1 .5l.5 1.2l-1.5 4.8l-1 0l-1.5-2.8l-.2-1l1.5-2zM398.6 381.5l.7-.3l1.3 .3l0 1l-2 0l0-1zM425.5 382.5l2.8-.4l.7 .4l.2 1l-1.9 2l-1-.6l-.8-1.4l0-1zM384.7 383.5l1.6-.8l1.7 .8l1 1l.3 3.2l2 .8l2-.1l1.4 1.1l.2 1.5l-8.5 0l-.1-2.5l-2.3-2l-.3-1l1-2zM416.4 383.5l.9-.9l1.6 .9l-.2 1l-1.4 1.3l-1-.2l.1-2.1zM369.8 384.5l.5-.3l2 .8l1 3.1l1 .8l5-1.3l1.2 .9l-1.2 .6l-.6 1.9l-4.8 0l-.6-1.5l-3.5-.2l0-4.8zM486.1 387.5l.4 0l0 1l-.5 2.5l-3.4 0l.1-1.5l.6-.8l2.8-1.2zM403.2 388.5l1.1 .1l.9 2.4l-3.9 0l.6-1.5l1.3-1zM503.5 388.5l.8-.7l3 1.5l3 .2l1 1.5l-9.5 0l1.7-2.5z"/><path fill="#0058ff" d="M523 235l2.8 0l0 5.2l-1.5-.4l-1.2-1.3l-.5-1l.4-2.5zM369.8 237.5l0-.4l.5 0l.9 1.4l.1 2l-1 3.6l-.5 0l0-6.6zM472.7 237.5l.6-.7l2-.1l1.8 .8l.3 1l-1.1 1.6l-2 .3l-1.6-.9l-.7-1l.7-1zM518.8 241.5l.5-.7l1.6 2.7l-.6 1.4l-1 .1l-.5-.5l0-3zM479.2 244.5l1.3 1l-.2 .6l-1 .6l-1.1-1.2l1-1zM441.7 247.5l.6-.5l1 .6l.2 .9l-2.2 3.3l-.7-.3l-.4-1l.1-1.1l1.4-1.9zM461.8 249.5l.9 0l.7 1l-.1 1.3l-1 1l-1-.2l-1-1.1l.3-1l1.2-1zM399 251.5l.3-.9l1.7 .9l-.7 .8l-1.3-.8zM427.5 255.5l.8-.8l3 .4l1.2 .4l.5 1l-1.7 1.4l-3 .7l-.8-3.1zM500.8 259.5l.5-.4l1.1 .4l-1.1 1.4l-1 .4l-.1-.8l.6-1zM378.6 260.5l1.7-.4l1.4 .4l-.6 1l-1.8 .5l-.8-.5l.1-1zM470.6 262.5l1.7-.5l.6 .5l-.6 2.4l-2 1.4l-.9-1.8l1.2-2zM500.2 262.5l.1-.7l1 2.7l-1 .7l-.9-.7l.8-2zM524.8 262.5l1-.3l0 7.7l-1.1-.4l-.3-1l-.1-5l.5-1zM435.4 264.5l.9-.7l1 .5l.7 1.2l-.2 1l-2.5 2.4l-1.1-.4l-.2-1l1.4-3zM394.2 266.5l1.1-.9l.4 .9l-.4 .3l-1.1-.3zM488.1 266.5l.2-.3l1.1 1.3l-.1 1.1l-1.1-1.1l-.1-1zM495.7 266.5l1.6-.5l1.5 .5l1.5 1.4l1.5 3.6l-1.5 .3l-2 1.4l-1.2 .3l-.8-.9l.1-1.1l1.4-2l-2.4-1l-1-1l1.3-1zM506.6 270.5l.7-.8l1-.2l1.6 1l.1 1l-.7 1l-1 .3l-1.6-1.3l-.1-1zM481.8 272.5l.5-.6l1-.1l1.1 .7l.7 2l-.8 1.4l-2.2-1.4l-.5-1l.2-1zM491.2 272.5l1.1-.1l.2 1.1l-1.2 .1l-.1-1.1zM484.4 277.5l.9-.9l1.7 .9l.5 1l-2.2 1l-2 2.1l-.7-1.1l1.8-3zM522.2 280.5l1.1-.5l-.5 3.5l.5 .5l2.5-.9l0 6.6l-.8-.2l-3.2-3l0-2l-.9-2l1.3-2zM369.8 282.5l0-.9l.5 0l1.6 .9l3.4 .3l1.5 .7l-3.5 1.7l-2 1.8l-1.5 .2l0-4.7zM423.4 286.5l.9-.6l1-.1l.5 .7l-.5 .6l-1 .1l-.9-.7zM513.9 286.5l1.2 1l0 2l-.8 .2l-1.6-1.2l-.1-1l1.3-1zM460.2 289.5l1.2 0l.5 1l-.1 1l-.5 .3l-1-.5l-.1-1.8zM417.2 293.5l2.3 1l.4 1l-.6 .6l-2 .2l-.7-1.8l.6-1zM400.9 294.5l.8 0l-.6 1l-.8 .3l0-.9l.6-.4zM523.7 298.5l2.1-.2l0 5.4l-1.5 0l-1.3-1.2l-.3-2l1-2zM473.1 300.5l.2-.9l4 1.1l1.4 1.8l-.4 1l-1 .3l-1-.8l-2.2-.5l-.8-.8l-.2-1.2zM369.8 301.5l.5 0l.5 1l-.5 .7l-.5 0l0-1.7zM483.3 302.5l1-.2l1 .4l2 2.2l1.2 .6l.5 1l-.1 1l-1.6 .4l-1-.5l-2.8-2.9l-.4-1l.2-1zM517.8 302.5l1.5-.4l.4 .4l.4 1l-.8 1.1l-1 .4l-1-.3l-.3-1.2l.8-1zM513.9 308.5l.4-.5l1-.3l.5 .8l-.3 1l.4 2l-.6 .5l-1-.4l-.5-1.1l.1-2zM379.2 310.5l1.1-.5l.2 1.5l-1.2 .1l-.1-1.1zM371.4 314.5l.9-.4l1 .4l.1 1l-1.1 .1l-.9-1.1zM524.2 319.5l1.6 0l0 5.9l-1.5-.9l-.6-3l.5-2zM422.7 327.5l1.6-.7l1.3 .7l.5 1l-1 3l-.8 .9l-2-.4l-1.2-1.5l-.2-1l.4-.8l1.4-1.2zM405 330.5l1.3-.4l1 .4l1.4 3l2 2l-.4 .7l-1.3 .3l-.4 1l.6 2l-.9 1l-3-.5l-1.4-2.5l-.2-5l1.3-2zM369.8 332.5l.5-.3l1 .5l.7 .8l.2 2l-2.4 .5l0-3.5zM488.7 332.5l1.6-1l1.3 1l-1.3 1.2l-1-.3l-.6-.9zM499.1 337.5l1.3 0l.3 1l-2.4 1.6l-.4-1.6l1.2-1zM512 339.5l1.3-.4l.9 .4l.6 1l-.5 1.3l-2-.6l-.5-.7l.2-1zM417.6 340.5l1.7-.5l.6 .5l-.6 1.1l-1 .5l-1.1-.6l.4-1zM501.2 340.5l1.1-.8l2.3 .8l1.7 1.9l3-.1l.8 1.2l-.1 1l-1.7 .8l-1.2-.8l-.8-1.8l-1 3.8l1.3 1l-.1 1l-2.2-.2l-1-.8l-1-4.2l-1.6-1.8l.5-1zM472.2 342.5l1.1-.3l.4 1.3l-1.4 2.6l-1 .6l-.7-.2l1.6-4zM382.2 343.5l1.1-.5l1.1 .5l.6 2l-.7 .8l-1.1 .2l-1.4-1l.4-2zM369.8 345.5l1.1 0l1.3 1l.1 1l-1 2l3 1.6l0 .8l-4.5-.1l0-6.3zM448.4 345.5l1.1 0l.8 1l-1 1.8l-1 .5l-2-1.3l2.1-2zM513 345.5l1.3-.4l2.5 .4l.4 2l-.7 1l-1.2 .3l-1-.5l-.8-.8l-.5-2zM430.1 346.5l.2-.7l1-.1l.3 .8l-.3 .7l-1.2-.7zM509 348.5l1.3-.3l1 .4l.7 .9l-.8 3l1.1 1.6l2.3 .4l.1 4l1.8 3l-2.2 1.4l-2 3.2l-2 1.5l-1-1.3l-.3-1.8l1.7-2l.1-1l-.5-1.4l-1.6-1.6l-.3-1l.4-3l-1.2-3l.2-2l1.2-1zM394 349.5l1.3-.1l.4 1.1l-.4 .3l-1.5-.3l.2-1zM515.1 352.5l.5 0l.4 1l-.7 .6l-.5-.6l.3-1zM499.5 354.5l.8-.9l.5 .9l-.5 1l-.8-1zM408.3 358.5l1-.8l1 0l.4 .8l-1.4 1.3l-1.1-.3l.1-1zM373.8 362.5l.5-.4l1 .5l0 1.3l-1 .6l-1.1-1l.6-1zM394.1 362.5l.2-.7l3-.2l3.3 2.9l-1.3 .6l-4-.4l-1.2-2.2zM419 363.5l2.1 0l.7 1l-.6 2l.5 2l-.4 1.3l-1 .3l-1.5-.6l-.3-1l1.4-2l-1.1-2l.2-1zM507.6 370.5l1.7-1l.5 1l0 2l-1.2 1l-1.4-1l.4-2zM460.9 371.5l.4-.4l.5 .4l.3 1l-.8 1.2l-.6-1.2l.2-1zM371.1 372.5l1.2 .5l0 1.5l-1.1-1l-.1-1zM422.2 373.5l1.1-.6l2 1.5l.8 2.1l-.7 1l-2.1 0l0-2l-1.1-2zM433.2 382.5l1.1-.6l1 .6l.2 1l-.6 1l-.6 .3l-1-.5l-.3-.8l.2-1zM385.3 384.5l1-.5l.8 .5l.2 1.5l-1 .5l-1-.5l-.3-.5l.3-1zM369.8 386.5l0-.9l.5 0l1.1 .9l.2 1l-1.8 .8l0-1.8zM453.2 386.5l1.1-.4l1.4 1.4l-1 3.5l-3.2 0l-.1-1.5l1.8-3zM388.2 389.5l1.9 1l0 .5l-2.6 0l.7-1.5zM503.9 389.5l1.4-.4l1.7 1.4l0 .5l-3.6 0l.5-1.5zM375.9 390.5l1.4-.2l.1 .7l-1.5 0l0-.5zM391.4 390.5l1.9-.6l.4 1.1l-2.3 0l0-.5zM402.5 390.5l.8-.7l1 .4l.1 .8l-1.9 0l0-.5z"/><path fill="#0068ff" d="M369.8 283.5l.5-.2l1.3 1.2l-1.3 1.4l-.5 0l0-2.4zM524.6 299.5l1.2-.2l0 2.9l-1.6-.7l-.2-1l.6-1zM369.8 333.5l1 0l.5 1.2l-1.5 .4l0-1.6zM405.5 337.5l.8-.5l.6 1.5l-.6 .4l-.8-1.4zM512.9 360.5l.9 0l-.5 1.3l-1-.3l.6-1z"/></g><path fill="none" stroke="#000018" stroke-width="0.50" stroke-linejoin="round" d="M444.3 303.4l-1 .4l-1.6 1.7l-2.4 .8l-.9 1.2l-1 3l.2 3l3.7 3.4l5 .1l2-.7l2 .1l1.8-.9l1-1l-.1-3l1.5-2l-.2-1.2l-1-1.1l-6-3.2l-3-.6M450.3 300.4l-8 .7l-5 1.9l-2.6 2.5l-1 2l.6 2l-.3 4l.3 1.5l1 1.4l2.5 1.1l2.5 2.3l4-.3l3 .4l3-.4l3-1.6l1-1l1.6-2.4l1.9-5l-2.5-5.2l-2-.9l-1-1.9l-2-1.1M406.5 235l.4 5.5l-1.2 3l.1 1l2.5 .2l3.9-1.2l-.9-.9l-1-2.1l.2-3l-.6-2.5M430.6 235l-1.1 3.5l2.1 1l.7 .9l1 .3l2-1.2l-.1-4.5M505.3 235l0 .5l0-.5M423.3 237.1l-.6 .4l.4 1l1.8-1l-1.6-.4M400.3 239.4l-1.8 1.1l-.2 1l2 2.1l1.9-4.1l-1.9-.1M471.3 245.1l-2 .8l-1.3 1.6l-.8 3l2.1 2.9l3 .9l3-.1l1.2-1.7l-.2-2.5l-2-3.7l-2-1.6l-1 .4M436.3 249.6l-.7 .9l.7 1.2l1 .2l0-1.4l-1-.9M509.3 253.4l0 .6l1 .4l1-.3l.4-.6l-.4-1l-1 .1l-1 .8M450.3 257.3l-.8 1.2l.5 1l1.9 0l.8-1l-.2-1l-1.2-.4l-1 .2M397.3 257.6l-.8 .9l-.2 1.1l1.4-.1l.4-1l-.8-.9M518.3 260.2l-.9 2.3l.2 1l1.7 1.9l1 .2l.5-3.1l-.5-1l-2-1.3M369.8 269.7l2.4-.2l.4-1l-.5-1l-.1-4l.6-2l-1.3-2l-1.5-.3M472.3 271.1l-.4 .4l.4 .9l1.3 .1l.3-1l-.6-.6l-1 .2M452.3 272l-.3 2.5l.3 1l1 .3l.9-2.3l-.9-1.8l-1 .3M441.3 281.9l-.9 .6l.2 1l.7 .3l1.3-1.3l-1.3-.6M382.3 288.5l-.2 1l.7 1l1.5 .4l.9-.4l.1-1l-1-1l-1-.5l-1 .5M437.3 288.4l-1 .1l0 1.6l3 1.2l2 1.4l.3-.2l.3-1l-.6-1.5l-1-.5l-1 .1l-2-1.2M389.3 290.3l-.8 1.2l.8 1.1l1.1-1.1l-1.1-1.2M433.3 291.3l-.4 .2l.4 1l1-.2l.4-.8l-1.4-.2M444.3 294.5l-3 2l-2 .4l-3.1-.4l-.9-.3l-1-1.1l-1 .1l-1 1.3l2 2l-1 2.5l-1 1.1l-3 1.3l-.8 2.1l-1.4 0l-.5 1l1.7 1.2l1.4 1.8l.2 2l-.6 1l1.5 4l3.3 4l-.4 2l.6 .6l4 2.3l3-.9l5 1.5l1-.2l5.8-4.3l2.4-1l.8-1.4l1-.6l2 .3l1-4.6l2.5-2.7l.5-4l-.6-1l-3.5-2l-.8-1l-.8-4l-2.3-2.3l-3-.6l-2-2.1l-1-.3l-5 .3M487.3 297.5l-.9 1l-.2 1l1.1 2l1 .3l.9-1.3l-.2-2l-.7-1.1l-1 .1M410.3 302.5l-3 2l-.3 1l.3 1.5l1 .3l3.7-1.8l.3-1l-.4-1l-.6-1l-1 0M508.3 302.3l.7 1.2l.9 0l.4-1l-1-.4l-1 .2M392.3 305.2l-.7 .3l.1 1l.6 .8l1 .3l.8-1.1l-.8-1.1l-1-.2M421.3 306.1l-.7 .4l.7 1.2l1-1.2l-1-.4M386.3 309.3l-1 .3l-.4 .9l.4 1.2l1-.3l.5-.9l-.5-1.2M525.8 308.8l-1.5-.1l-.5 .8l.7 1l1.3 .3M369.8 310.9l3.5-.7l1.2-1.7l-.4-1l-4.3-.3M515.3 315.3l-1.7 1.2l.4 1l1.3-.1l2-1.9l-1-.4l-1 .2M397.3 322.3l-4.1 2.2l-.5 5l1.9 1l3.7 .3l2 .9l2-3.2l0-2l1-3l-3-1.3l-3 .1M509.3 324.4l1 1.7l1 .7l.4-.3l-1.4-2.1l-1 0M468.3 334.9l-.2 1.6l1.2 1l1-1l0-1l-1-.8l-1 .2M427.3 338.4l-.8 1.1l-.1 2l1.9 1.1l1 .1l2-.6l1.7 .4l1.2 1l1.1 2.1l1.1-.1l0-2l-1.4-1l-.7-3.9l-1-.3l-3 .5l-3-.4M525.8 340.9l-2.9 1.6l-.4 1l.8 .7l2.5 .1M411.3 343.4l-3.1 2.1l-.2 4l-.9 2l.2 1.2l1 .2l1.5-.4l-.8-2l.1-1l2.9-3l.9-2l-.6-1.1l-1 0M492.3 347.3l-1 .3l-1 1.9l1 .4l.7-.4l.3-2.2M422.3 349.2l-1 .5l-.8 1.8l2.8 .4l1-1.1l0-1.4l-2-.2M384.3 360.3l-.9 1.2l-.1 1.4l1-.1l1.5-2.3l-.5-.6l-1 .4M443.3 359.5l-.5 1l1.5 3l1 .7l1 0l1.4-.7l-.2-2l-3.2-1.9l-1-.1M396.3 368.1l-1.4 1.4l.4 1.6l1 1l1.6-.6l.2-1l-.6-2l-1.2-.4M449.3 367.9l-.8 1.6l.4 1l1.8 0l.4-1l-.8-1.2l-1-.4M494.3 369.8l-.4 1.7l.7 1l1.7 .6l1.2-.6l.5-1l-.4-1l-2.3-.9l-1 .2M503.3 374.4l-1 .5l-.2 .6l.1 1l1.1 .4l.8-1.4l-.8-1.1M525.8 374.4l-.6 .1l-.2 1l.8 .1M521.3 376l-.6 1.5l1.6 1.1l1-.9l.3-1.2l-.3-.7l-1-.2l-1 .4M429.3 378.4l2 1.3l1-1.2l-1-.6l-2 .5M460.3 382.2l-1.2 1.3l-.2 3l.4 1.6l1 1.4l1.5-2l0-2l.8-2l-1.3-1.5l-1 .2M449.3 383.7l-.9 .8l-.2 1l.3 1l.8 .5l1.1-.5l.7-2l-.8-.9l-1 .1M400.3 385.3l-2.2 1.2l-.7 1l.9 2l2-2.9l2.7-1.1l-.7-.8l-2 .6M409.8 391l-.5-1.5l2.2-3l-1.2-1l-4-1.5l-1.3 .5l-.1 1l1.7 1l1.4 2l-1 2.5M480.4 391l-.1-.6l-.7 .1l0 .5M494.7 391l-.4-.6l-.1 .6M378.9 235l.4 1.6l1 .6l2-.1l1 .4l-.7 2l-.3 .4l-2-.1l-4 1.9l-.7-1.2l1-3l-1.3-1l-2 .4l-.5 .6l.3 3l-1.6 6l.6 3l-.8 1.6l-1.5 .8M391.9 235l.2 1.5l1.4 2l-1.2 3.8l-1 .5l-2-1.3l.6-2l-.6-1.7l-3-1.6l-.7-1.2M414.9 235l-.6 3l-1 1.3l-1.5-4.3M421.4 235l-1.5 3.5l.4 2.6l1.9 2.4l-.9 1.4l-4.5-4.4l1.7-3l-.6-2.5M453.4 235l1 1.5l2.9 1.5l.3 1.5l-1.3 .5l-3-1.4l-.8-1.1l-.2-1l.9-1.5M466.7 235l-.4 1.2l-3 .3l-1 .6l-1-.3l-.1-1.8M478.6 235l1.9 3.5l-1.4 1l-.3 2l.5 1l2 .7l3-1.9l1.9-3.8l2.1-1.9l.1-.6M493.6 235l-.3 2.5l-1.2 3l.2 1l2 1.8l4-1.5l1.7-1.3l.3-4.5l.5-1M501.4 235l1.9 2.8l5 1.2l2 1.3l3.2 .2l-.2 3.4l3.2 3.6l.3 1l-.5 1.8l-2 1.1l-1-.2l-2-1.7l-2.4 2l-2.6 .8l-2-.2l-2-1l-4 .6l-2-.2l-.5-1l2.5-1.4l.3-.6l-.3-2.4l-3-2.2l-1-.1l-2 1.8l-2-1.7l-1 .2l-.7 .4l0 2l-2.3 .4l-.7 .6l1.6 4l2.7 3l.4 2l-.4 1l-.6 .3l-2-.2l-2 4.2l-1 1.4l-1 0l-.6-3.7l-.9-1l-.6-3l.1-.6l1-.2l1.2 .8l.3-1l-.2-3l1.2-3l-1.5-1.1l-1 .7l-3 4.5l-1.1-4.1l-2.2-3l-1.7-2.1l-4-3l-1.9-.9l-.7-1l.2-1l2.8-1l.6-1.5M394.7 239.5l.6-.3l.4 .3l-.4 2.2l-1.5-1.2l.9-1M413.3 240.5l1-.7l1.7 .7l.3 1l-1 .6l-1 0l-.8-.6l-.2-1M459.9 240.5l1.4-.3l3.9 3.3l-.9 .8l-5-.3l-2.6-2.5l3.2-1M447 241.5l.3-.4l1 .3l1 2.1l2 0l.8 1l-.8 1.6l-1 .5l-1.4-1.1l-.6-1.7l-2-.3l-.1-1l.8-1M382.6 242.5l1.7-.7l2 .7l.4 1l-.9 2l.4 1l3.1 .6l.1 .4l-.7 3l-3.2 1l-2.2 2.1l-1 0l-2.2-1.1l1.1-3l.3-3l-.4-2l.3-1l1.2-1M525.8 241.7l-3.1-.2l-.1 1l.7 1.7l1 .8l1.5 .1M505.3 244l-2.1 2.5l.1 2.7l1-.3l1.8-2.4l.3-2l-1.1-.5M525.8 245.8l-5.5 .8l-2-.4l-.6-.7l-.9-3l1.3-5l-1.1-2.5M414.3 252l-1 1.5l.2 1l.8 .9l2 .2l1.1 .9l.9 1.8l2 .9l1 1.1l1-.6l.5-1.2l-.2-1l-1.3-.9l-2-.3l-.8-.8l-1.2-2.8l-1-.9l-1-.2l-1 .4M516.9 253.5l.4-.6l2 0l1 .6l0 1l-1 1.5l-2.2 .5l-1.8 3.3l-1 .6l-3.7-.9l-.4-1l.6-1l4.5-1.8l1.6-2.2M525.8 252.9l-.5 0l-1-1.3l-.3-2.1l.3-1.1l1.5-.6M463.7 257.5l.6-.3l.4 .3l.2 1l-.6 1.3l-1 .1l-.6-.4l-.2-1l1.2-1M494.3 259.4l-1 .6l-.5 1.5l.4 2l2.1 1.1l2-.5l.7-1.6l-.2-3l-.5-.7l-3 .6M428.3 261.2l-1 1l-2-.3l-2 1.7l-1-1.1l-.2 1l-1.8 2l.5 1l2.5 .4l2 1l3 .2l.4-.6l-.4-4l2-1l2 .7l1.5-.7l0-1l-.5-.4l-4-.5l-1 .6M410.3 263.5l-1 1l2 0l.2-1l-1.2 0M477.3 263.3l-1 .4l-1.6 1.8l.2 1l1.4 1.5l2.1-.5l1.2-1l.1-1l-2.4-2.2M472.3 268.2l-3.3 2.3l-.1 1l1.6 3l2.8 2l-.7 2l-1.3 1.3l-2.5-.3l-1-4l-.5-.4l-1.2 1.4l-.1 2l-3.7 1.7l-.7 1.3l.7 1.7l4.1 2.3l.5 4l-.7 5l1.1 1.1l2 .6l.3-.7l1.7-1l.3-2l-.7-3l1.4-1.9l3.1 1.9l.9 1.3l.3-.3l-.1-3l1.8-2l2-3.3l1-5.7l-1-.8l-2 1.1l-1.5-.3l0-4l-.7-3l-3.8-1.3M447.2 270.5l.1-.6l1 .2l1 1.4l1.2 5l3.3 2l-3.5 2.9l-1.9 3.1l1.8 2l.2 1l-.6 1l-1.5 1l0 1l-.8 1l-1.2 .3l-1-.1l-1-.8l-1.4-3.4l.6-2l1.4-2l.8-4l-1.4-.8l-4.2 .8l-.8-.3l-.8-1.7l1.8-.7l3 .6l3.2-4.9l.7-2M430.3 270.7l-2.5 2.8l-.3 1l.8 .8l3-.8l1.3-1l.1-2l-2.4-.8M512.3 271.1l-1 1.4l-.5 2l1.5 2.1l1 .4l.7-4.5l-.2-1l-1.5-.4M369.8 272l2.5 .2l5.4-2.7l.2-1l-1.6-1.5l-2-1l-.8-1.5l.8-1.9l2-1.5l1-1.7l1-.6l2-.2l5 .9l5-2l3.3-6l-1.3-4l0-3.4l1-.8l2-.4l1 .3l1.4 2.3l3.7 2l.9 2l2.1 2l.3 2l-.3 1l-2.1 1.5l-1.7-1.5l-1.3-.4l-3 .4l-2.7 4l-3.3 1l-6 3.8l-2.5 .2l0 1l.5 .4l3 1l3-.7l3 .6l2-1.7l6-3l1.8-1.6l1.2-1.9l1 1l2-1l3-.3l1.7-.8l1.2-2l-1.9-1.5l-2.2-.5l-.5-1l.7-1.6l3-3.3l1.4 .9l.6 1.7l1 .2l3-1.5l4-.1l.8 .7l-.4 2l1.1 1l4.5 .8l6-3.9l1.1 1.1l-1.4 2l.1 1l1.2 1.1l2 .4l1.7 2.5l2.3 .4l1-.4l.8-1l0-1l-2.1-3l-.7-3l.4-3l-.4-1.7l-1-.2l-.6 .9l-2.4 1.5l-1-.2l-1-1l-3-.1l0-.8l3 .4l1-1l2-.3l2 .4l1-.1l1-1.1l2-.3l2 1.6l1.8 3l-.3 3l-1.9 4l.2 1l2.2 2.1l2 .8l.6 5.1l-1.6 1.2l-2-2.5l-1-.3l-3 .9l-1 .7l2.4 3l-.8 2l-2.5 3l-4.1 .5l-.7 .5l2.7 2l1.5 2l-.3 1l-3.2 2.3l-.5 1.7l.5 1l3 .8l.8 1.2l.2 2l-1.8 1l-2.2 .1l-1-.4l-.6 .3l0 2l-1.9 1l-1.5 1.9l-1 .6l-2-1.3l-4-.3l-2-1.1l-1 .5l-.5 .7l.1 1l2.7 3l.3 1l-2.6 4.2l-1 .6l-4-.6l-2-1.5l-1 0l-2 1l-1-.2l-1-1.3l-1 .2l-1 1.6l0 1l.8 1l-.2 3l-1.6 1.8l-3.3 1.2l-.6 1l.6 3l-3.7 1l-.9 1l-.1 1l.7 1l1.3 .7l1-.2l1.7-1.5l.8-2l1.5-.8l1 .1l3 1.2l2 3.6l.1-1.1l1.1-2l-.2-1l-2-1.4l-.1-1.6l2.1-1.7l4-.8l.6 .5l-.4 2l.5 1l1.3 1l3 0l3 1.1l2-.7l2-1.6l.5 .2l.2 4l-.7 3.3l-1 .6l-3-2.2l-1-.1l-1.3 1.4l-.6 2l.9 1l4-.3l.5 .3l.5 1l0 2.5l1-.1l1-.7l.8 .3l-.5 1l.3 1l1 1l-.4 2l.4 1l3.4 .7l1.6 1.3l-.2 2l.5 2l-.9 .6l-2-.7l-2 .1l-4-1.3l-4 2l-2-5.3l-1-.3l-2 1.2l-.5 .7l.3 2l2.1 3l1.1 .2l2-.9l1.5 1.7l.1 1l-.1 1l-2 2l.1 5l-1.6 1.8l-2.3 1.2l-1.1 2l.4 1l0 2l3.5 5l1.5 .9l4-.1l2-1.3l3 1.7l3-.6l4 0l.9 1.4l-1.9 .6l-2-.3l-1.9 2.7l0 1l2.9 1.7l3 1l1 .1l1.5-.8l-1.1-4l.6-.9l1-.3l1.9 1.2l1.2 3l-.4 1l-1.5 1l-1.7 5l-.5 .4l-4-1.3l-2.3 .9l1.3 1.4l.8 2.6l1.2 1.1l1 2l1-.1l.4-1l2.6-2.4l2-1.1l.6-3.5l1.4-.7l1.3 .7l1 5l-2.3 6.9l-1.6 1.1l-.4 2.4l-3-.8l-1.8 1.4l-.5 1.5M456.9 273.5l1.4-.7l1.3 .7l-.3 1.1l-1 .8l-2 .5l-.1-1.4l.7-1M502.3 273.5l-2 2l-2.3 1l-1.7 1.6l-2-2.1l-1-.3l-3 .7l.2 1.1l.8 1.6l2 1.4l1 2.1l2-1.3l2 .7l3 0l2 .7l2-1.1l1 0l1.7 1.9l-2 1l-.8 1l.5 1l1.6 1.1l3-2.1l-1.7-1l-.2-1l.7-1l-.8-3.1l-1-.2l-2 2l-1-.9l-.5-.8l1.8-2l.3-3l-.6-1l-1-.4l-2 .4M373.3 274.9l-2 3.6l.3 1l1.7 1.4l2-.1l.5-.3l-1.4-5l-1.1-.6M395.3 276.7l-2.4 2.8l-.2 1l.6 .4l1-.3l.1-1.1l3-2l-1.1-.8l-1 0M518.3 278.3l-2 1.1l-3-.9l-1 .6l-1.9 2.4l0 1l.9 1.9l5 .8l1-.4l.1-1.3l1.7-2l.7-2l-.5-1l-1-.2M400.3 281.1l-.9 .4l-.1 1.5l1-.2l.4-1.3l-.4-.4M474 282.5l1.3-.6l2 .6l-2 .7l-1 1.6l-1 .4l-1.6-1.7l.6-.7l1.7-.3M407.3 285.4l0 1.8l1 .6l1-.9l.4-1.4l-1.4-.5l-1 .4M496.3 285.4l-1.4 1.1l1.4 1.5l2 .9l0-2.3l-2-1.2M485.3 288.2l-1.5 1.3l1.5 .8l1 1.8l1 .4l1.2-2l-1.2-1.6l-2-.7M399.3 290l-.7 1.5l0 1l.7 .2l2.2-1.2l0-1l-1.2-.8l-1 .3M525.8 292.4l-3.2-.9l-1.3-1.7l-1-.1l-3 2.9l-1 .1l-4-2.5l-1 0l-2 .5l-1.5 2.8l1.5 2.3l2 0l2.1 .7l2.2 4l.7 .6l1.5-.6l.2-3l2.3-2l3-1.2l2.5-.5M369.8 292.9l.9-.4l-.9-.6M381.6 293.5l1.7-.6l1.9 .6l.2 3l4.5 3l-1.7 6l1.4 2l0 1l-.3 .2l-2-1.5l-2-.1l-1.9 2.4l-.5 3l-.6 .7l-3 .5l-1-.3l-1.8-1.9l-.3-1l2.6-3l0-7l.5-1l2-1l.5-2l-.2-3M427 294.5l.3-.5l1 .1l1 1l.4 1.4l-.4 1.7l-1 1.4l-1 .5l-1-.3l-.4-1.3l.9-2l.2-2M479.3 294.6l-.8 .9l-.2 1l1 1.2l2 .3l.5-.5l-.4-1l-2.1-1.9M525.8 305.5l-2.5 .1l-1-.3l-1.8 1.2l-.4 1l.3 2l1.7 2l3.7 .9M488.3 310l-.9 .5l-.5 1l.6 1l4 0l.2-1l-3.4-1.5M369.8 312l3.4 .5l2.2 2l.5 1l-.6 3.1l1 .3l5-1.5l2 .5l.3 .6l-.4 1l-2.9 .9l-.5 1.1l1.2 3l-.4 2l1.7 1.4l3-.7l4 .5l1 .8l0 3.3l3 .1l3 1.7l2-.6l3 .5l3.8-6l-.1-5l-.7-1l-3-.3l-4-1.1l-2 .7l-.7-.3l-1.3-2.7l-5-.8l-1.4-2.5l.4-1.3l3-.2l1.3-2.5l2.7-.7l2.1-1.3l.8-1l-.1-1l1.1-2l-2.4-2l-1.2-4l.7-2l1.5-1l-.3-1l-3.2-.8l-.7-1.2l-.5-3l.1-1l.8-1l0-2l-1.7-2.2l-3.3-.8l.3-1.7l2.2-1.3l.9-3l1.1-1l0-1l-1.2-1.6l-1-.4l-2 1.8l-2-1.4l-1 .1l-5 3.5l-1.1 3l-1 1l3.5 3l.3 2l-.7 1.2l-1 .4l-3-1.3l-2.7 .7l-1.1 1l-.4 1l.3 2l-.4 1l-1.2 1l-.1 1l1.7 2l-.1 4l.5 2l1.4 2l-.2 1l-2.7 1.6l-2.5-.2M499.3 313.3l-.8 .2l-.4 1l1.2 3.6l2 2.3l2 0l.8-.9l.4-2l-.8-2l-2.4-2.1l-2-.1M464 315.5l1.3-1l1.4 2l-1.4 .5l-1-.3l-.3-1.2M469 316.5l1.3-.7l3 2.7l-.1 1l-.9 1.1l-1 0l-2.3-4.1M369.8 320.2l1.5-.4l.5-1.3l-.5-.9l-1.5-.5M411.3 322.2l-.5 .3l.5 1.2l1.4-1.2l-1.4-.3M495.3 322.3l-2.4 2.2l-.4 1l.2 1l-.7 2l1.3 1.3l2-2.3l3-1.4l.2-.6l-1.2-2l-2-1.2M416.3 323.5l-.9 1l1.9 1.1l1.7-.1l0-1l-.7-1.4l-2 .4M458 324.5l.3-.5l1 0l0 1.7l-1 .2l-.3-1.4M486.3 326.4l.3 2.1l-1.3 0l-1-.6l-1 1l0 1.3l1 1.2l1-.1l4.4-3.8l.3-1l-.7-.4l-2-.3l-1 .6M525.8 327.1l-3-1.6l-1.5-4l-1-.1l-2.1 2.1l.5 4l-.4 .5l-3 1.3l-1-.7l-.8-3.1l-1.9-3l-1.3-1.6l-.9-.4l1.1-1l3.8 .5l1-.3l3-2.2l1-2l-1-1.6l-5-.1l-1.2-.3l-.6-1l-.1-4l-.8-2l2.3-2l.3-2l-.9-1.4l-5-2l-2-1.6l-2-.2l-2-1.8l-1-.3l-6 1.2l-2.2-.9l-.8-1.4l-3.2-.6l-.8-1l-1 .2l-2.4 4.8l.2 2l1.6 2l1.6 1.5l4 1.7l2 5.5l1 1l1 .1l2-3.2l3-.3l1-1.3l0-3l-1-.9l-2-.4l-2 1.4l-1 .3l-.5-.4l-.4-1l.3-1l1.6-1.7l1 .1l1 1.3l2-1.1l1 .3l3.8 2.1l.5 1l1.4 1l.7 1l-2 2l0 1l.8 2l.3 2l1.5 1.6l1.8 .4l-.1 1l-.8 2l.1 3l-.7 1l-3 2l0 2l2.7 3.4l1 .5l3 .1l1.3 1l-.1 3l.9 1l.5 2l1.4 1.7l1.6 3.3l1.4 .4l.6 .6l.7 2l1.7 1.1l3.5 .3M369.8 328.6l2.1-.1l.2 2l2.2 2.9l3.1-1.9l-1.1-2.3l-4-2.7l-.7-3l-1.8-.7M435.1 329.5l1.2-.2l1 2.2l-1 .5l-1.4-.5l.2-2M496.3 330.2l-2 1l-.4 3.3l-2.7 2l-.3 1l2.4 2.7l2-1.6l1-1.7l3-1.2l2-1.9l2-.8l1.3-2.5l-.3-.8l-1-.2l-4 1.1l-3-.4M509.3 332.3l-2 2.5l-1 .6l-2.5 .1l-.6 1l.1 1.3l1 .6l2-.6l3 .7l3-1.5l.9-1.5l0-1l-2.9-2.6l-1 .4M385.3 333.3l-1.5 2.2l-2.5 2l0 2l2 1.6l2 .7l2-2.3l1-.5l1.5 1.5l.1 1l-1.9 2l1.3 2.2l1 .4l3.7-1.6l-.4-1l.9-1l2.8-1.3l3 1.3l1-.6l.9-2.4l-.9-3.2l-1-.4l-2 2.2l-1 .2l-2-.7l-2 .6l-2-.7l-2 .3l-1-.5l-.7-1.8l1.1-2l-.4-.8l-2 .8l-1-.2M525.8 334.2l-1.5-.5l-.7-2.2l.7-1l1.5 0M525.8 338.9l-1.5-.1l-.7-1.3l2.2-1.1M471.1 340.5l1.2-.9l1 .1l2.1 1.8l.7 2l-1.3 2l-.1 1l2.3 2l1.3 2.3l2 1.3l4-.7l1-.7l1.1-2.2l-.1-2.3l1 .1l.4 5.2l.6 2.2l3 .1l1.7 2.7l-1.3 3l-2.4 1.4l-5-2.5l-2 .2l-1 2.9l3.3 3l.9 3l.8 .8l2-.1l1.5-.7l4.5-5.7l2-.8l1 .2l.8 1.3l.4 3l-1.2 1.5l-1 .4l-3 0l-1 .8l-.5 3.3l1.2 3l-.7 .9l-2-1.4l-1 .2l-2 2.5l-2.6 1.8l-.4 2l1.5 2l.1 1l-.6 .3l-1-.6l-.5-1.7l-2.5-1.9l-3.4-1.1l-.6 1l0 1.6l-1.6-2.6l3.6-3.5l1.6-2.5l-6-1l.6-4l3.6-3l1.1-2l-1.5-3l.4-2l-1.8-1l-1.3-2l-1 0l-.8 3l-.7 1l-1.2 .7l-1-.9l-1.5-3.8l1-3l1.8-2l-3.3-1.7l-.6-1.3l2.4-6M459.3 341l-.6 .5l-.2 2l.8 1.1l.9-1.1l0-1l-.9-1.5M369.8 343.4l3.5-1.1l1 .3l4 3.2l1-.1l.6-1.2l-2.3-5l-3.3-2.6l-.7 .6l-3.8 .7M446.7 353.5l.6-.6l.9 .6l-.9 3.6l-1 .1l-1.5-.7l-.6-1l.5-1l2-1M481.3 355.1l-1.5 2.4l2.5 .5l0-2.1l-1-.8M525.8 355.9l-1.2-.4l-3.3-2.7l-1 .4l-1.4 2.3l-1.6 1.6l0 1.4l1 .3l2-1.1l-.1 3.8l1.4 2l.3 2l-1.6 2.7l-2 1.8l-3 .1l-1-1.1l-1 0l-.5 .5l0 2l-.9 3l2.4 .8l3 2l1 2.2l4 1.7l1 .2l2-2.1l.5 0M369.8 357.1l6.5 .8l2 2.1l2-.6l.7 1.1l-.7 3.7l-4 1.8l-3 3.5l-.1 1l1.1 1.5l2 .9l1-.1l2.7-2.3l2.3-1.2l3 0l2-.8l1.8 1l-.1 2l3.3 3.8l1-.3l.7 .5l.4 3l-1.3 3l1.3 3l0 3l1 2l.1 1.5M413.3 362.2l-1.2 1.3l.1 1l-.9 2l0 1l1 1.1l1 .4l1.5-1.5l.7-2l-.7-3l-1.5-.3M369.8 363l.9-.5l-.2-1l-.7-.2M515.3 364.2l-1.4 2.3l.4 1.9l2.8-1.9l.8-2l-.6-.7l-2 .4M525.8 363.8l-1.3-.3l-.3-1l.3-1l1.3-.6M525.8 370.3l-.5 0l-1.2-1.8l.2-.5l1.5 .1M414.7 374.5l.6-.5l2.5 1.5l-1.5 2.6l-2 0l-.6-.6l1-3M406.9 377.5l.4-.3l1 .7l1.4 1.6l.2 1l-.3 1l-1.3 .4l-1-.3l-.8-1.1l-.2-2l.6-1M398.3 378.5l3.6 3l-.1 1l-2.5 1.1l-1.3-.1l-.9-2l1.2-3M416.1 382.5l1.2-.8l1 .2l1.6 1.6l-.3 1l-3.3 4l-1 .1l0-3.1l.8-3M369.8 382.9l3.9 1.6l.6 2.7l2 0l.5-.7l-1.2-3l.4-1l3.3-2.8l1 .5l1.2 2.3l-1.1 4l1.2 1l1.5 3.5M501.3 385.8l-.7 1.7l.7 1.8l1-.4l.7-1.4l-.7-1.2l-1-.5M525.8 388.1l-1.5-.2l-2-1.7l-3-1.2l-.5 .5l.2 1l3 3l.4 1.5M372.3 391l0-.5l-2.5-.4M380.7 391l-.4-.7l-.4 .7M385.5 391l0-2.5l-2.4-2l.3-2l1.4-2l1.5-.4l2 .6l2.4 1.8l0 2l.6 .6l1.1-.6l-1.8-4l-3.4-4l-3.9-1.7l-3 .4l-5-1.9l-5 6.2l-.5 0M400.7 391l.6-1.8l2-1.4l1 0l.8 .7l.5 2.5M414 391l.3-1l.5 1M432.6 391l-.3-1.1l-1-1.2l-3-.1l-2.6-2.1l-1.2-3l0-1l.8-1.1l3-.1l3 .6l3-2.4l-.4-2l-3.6-4.3l-2 .5l-.8 .8l-.4 3l-.8 .8l-3 1.9l-1-.3l-1.1-1.4l-.2-2l-2.1-1l-.2-2l-.7-1l-3.7 0l-3.1-2l-2.7-3l-1.2-.4l-2.4 .4l-2.6 3.8l-1-.4l-1-3.6l-3-1.3l-2 .7l-1.5-.2l-2.6-4l-.5-2l-1.5-1l.1-1.4l2-1.2l1 .2l3 3l3 .5l5 3.5l1 0l1.2-1.6l-.2-2l.4-1l2.3-4l3.3-.8l1.8-2.2l-1-2l0-1l3.7-5l-.4-1l-2.1-1.8l-1-.5l-2 0l-3.5 2.3l-.8 2l.3 2l-1 3.2l-1 1.1l-.3-2.3l-.7-.7l-2 0l-2-1.4l-1.2 2.1l-.3 3l1 2l-.5 .8l-4 .4l-1.4-.2l.1-2l-1.7-2.1l-3-.1l-2-2l-3-1.1l-1 .1l-1 .8l-1.1 2.4l-2.5 1l-1.4 2.2l-2 .1l-2-1l-2.5-.4M449.5 391l.7-2.5l2.7-4l0-1l-1.4-2l2.8-2.9l4.8-3.1l.3-1l-.6-2l.3-2l1.2-1.5l2-1.5l0-1l-1-1.4l-2.3-1.6l-.2-2l-.5-.5l-.8 .5l.6 2l-2.8 2.5l-1-.4l-1-1.5l-2-1.4l-.5-1.2l.5-2l-.3-1l1.9-2l.2-1l-.8-3.2l4-2.6l2-.3l.2-.9l-1.2-1.6l-4 .4l-2 1.1l-2 2.6l-1 .5l-2-1.4l-3-1.3l-3 .1l-.6 .6l0 2l1.7 3l.1 1l-1.2 1l-1-.3l-1.9-1.7l-2.1-.7l-2-2.5l-2-.9l-2 .3l-3 3l-1-.2l1.2-3l-.3-3l-.9-1.5l-2 .2l-1.2-.7l1.2-1.2l2 1l6-1.6l1.2 .8l1.5 4l1.3 .3l3.6-1.3l.5-1l-.6-3l.5-.8l1-.4l4 1.3l6-.1l.3-1l-1.1-2l-.6-3l.4-1.2l-2-1.2l-1 .1l-.9 1.3l-.1 1l1 .8l1.2 2.2l0 1l-1.2 .7l-1-.6l-1.6-2.1l-4.2-3l.4-2l1.8-2l0-2l.6-1.5l1-.3l1.1 .8l-.6 2l.5 .2l4-1.2l3-2.3l4-1.1l1 1.4l-1.3 2l-.7 2.5l-2 .3l-2-1.5l-.4 .7l.2 2l-.6 1l.8 .4l2-.7l2 .3l2-.8l6 .5l.9-4.7l-.4-3l2.3-2l.2-1l-.5-2l.4-1l3.1-.6l2.4 .6l.6 2.6l2.4 3.4l-.9 4l1.1 2l-1.6 .5l-4-2l-1.3 .5l-.9 3l.2 4l-2 1.1l-2.7 3.9l-.1 1l.8 .7l2.3 .3l.6 1l-1.9 1.1l-2-.7l-1.6 .6l-.1 1l.7 .1l4 4.3l.6 1.6l-1.2 2l1.1 5l.9 2l0 1l-1.3 2l1.2 3l.7 .8l4-.4l2 1.4l2-.2l.3 .4l-.3 2l.3 2l-.3 .4l-2 .3l-1-.2l-2-1.6l-1 .2l-.6 .9l.2 2l-.6 .6l-5-.9l-2-1.9l-1 .6l-1.3 2.6l-.3 2l-1.2 2l.9 5l-.7 2.5M475 391l-3-7.5l3.3-.6l1 .1l.4 2.5l1.8 2l.1 1l-1.8 2.5M482.1 391l.5-2.5l3.7-3.4l3 1.1l1.4-.7l-.4-1.2l-1.8-.8l3.2-2l1.2-3l-.1-2l2.5-1.3l2-.1l2-1.3l.3 .7l-.3 .5l-2.8 2.5l-.6 1l1.4 .9l1-.9l0-1l1-.1l2 1.3l1.4 1.8l.6 2.5l1.9 2.5l.2 2l1.9 1.2l5 .5l1.2-.7l-.4-4l1.5-2l-.1-2l-1.2-1.1l-2-.7l-2 .7l-1 1.6l-1 .3l-1.2-.8l-.3-1l1.4-2l.1-1l-1.6-3l-.5-3l1.4-3l-.9-2l.6-2l-2-1.1l-.3-1.9l1-3l1.3-.7l.6-1.3l.1-1l-.7-1.1l-1-.6l-1 .3l-1 3.4l-4 1.4l-2.3-.4l-1.3-2l.6-2.4l3-1.8l1.3-1.8l-2.3-1.3l-1.6 .3l-.4 1l0 2.5l-1 .7l-1.3-1.2l1-2l.8-5l-.5-1.9l-1-.7l-1 0l-3 2.3l-4-.2l-.8-1.5l1.4-3l1.7-2l.1-1l-2.4-2.5l-1-.2l-.9 .7l.4 2l1.4 1l.3 1l-1.8 4l-3.4 2.2l-1.1-.2l-.2-1l.8-2l2.2-2l-1.3-2l-.4-2.3l-1-.4l-2 1l-1.9-2.3l.9-1l2-.2l1.5-.8l-.1-1l-1.4-1.4l-3-.7l-1.5-.9l1.5-2l2.6-1l-.8-2l-.1-4l1.3-1.3l2 .2l1-.4l.2-1.5l-.7-2l-1.5-1l-5 .5l-1-1.5l-3-2l1-1l2-.6l.6-1.4l-.2-1l-3.4-1.5l-1-2.1l-1-.6l-1.5 1.2l-.1 1l2.6 2.9l0 2.8l.6 .3l-4.6 1.3l-1-.2l-.6-1.1l.6-1.3l1.4-.7l.5-1l-1.9-1.9l-3-.4l-1.9-1.7l0-1l.9-1l2.1-1l.9-2l-.1-1l-1.9-.7l-4 1.1l-2-1.6l-2-.8l-.8-1l0-2l2.1-3l-.7-5l1.4-1.4l2-.9l1-2.7l2-.4l1-1l1-2.8l1.7-1.8l2.2-5l-.9-.8l-2 0l-1-.5l-2-2.3l-1-.4l-3 5.6l-5.4-1.6l-.2-1l.6-.9l2 0l.5-1.1l-.1-1l-2-2l2.3-4l-.2-1l-1.5-1.6l-4.1 .6l-.9-.9l0-1.1l1.1-2l.4-2l.5-.3l2 1.6l5-1.4l.7-.9l.3-2.3l3 1.2l2-.6l1 .6l.3 1.1l.4 5l-.7 1.1l-1 .6l-3 .7l-.4 1.6l.9 3l-1.9 1l-.3 1l.7 .9l1-.3l1-1.9l1 .7l3 .4l2.3-.8l.9-1l-.2-1l-1.1-1l.1-1l1-.5l1.6 .5l.4 1.2l1 .6l2-.7l3.4 .9l.9 1l.8 2l1.9 1.7l3-.3l.9 6.6l2.3 2l.8 2.8l1 .5l.7-.3l-.5-3l-3-5l0-2l.6-1l2.2-1l.7-1l.1-3l2.6-1l-.3-1l.5-1l1.4-1.2l2-.5l3 2.4l1 .1l3-1.2l1.5 .4l1.2 1l-.1 2l-2.1 3l.5 1.4l1 1.2l4 .4l2-1.1l1 .2l2 1.7l4 .9l.3 1.3l-.3 2l.5 1l1.5 1.3l1 .3l1-.9l.5-2.7l1.4-3l-1-6l1.1-1.3l2.5-.9M497.9 391l-.9-1.5l-2.7-2.2l-2 1.4l-3-.4l-1 .4l-1 1.1l-.4 1.2M369.8 237.2l.8 .3l.5 2l-.8 2.8l-.5 0M472.9 237.5l1.4-.6l2 .2l.9 1.4l-.9 1.4l-2 .3l-2-1.7l.6-1M525.8 240.1l-1.5-.4l-.9-1.2l-.3-1l.5-2.5M519 241.5l.3-.4l.4 .4l1 2l-.4 1.3l-1 .1l-.4-.4l.1-3M442.1 247.5l1.3 1l-2.1 3.1l-1-1.3l1.8-2.8M460.9 250.5l1.4-1l.9 1l0 1l-.9 1l-1-.3l-.6-.7l.2-1M427.8 255.5l.5-.5l3 .3l1.1 1.2l-2.1 1.4l-2 0l-.5-2.4M378.9 260.5l2.5 0l-.8 1l-1.3 .2l-.4-1.2M470.9 262.5l1.4-.2l.3 1.2l-1.3 2l-1 .4l-.3-1.4l.9-2M436 264.5l.9 0l.7 1l-.2 1l-2.1 2.2l-1.1-1.2l1.8-3M496 266.5l2.1 0l1.9 2l1.4 3l-2.1 .4l-2 1.4l-.7-.8l.1-1l1.8-2l-2.2-.7l-1.3-1.3l1-1M507 270.5l1.3-.7l1.3 .7l.2 1l-.5 .7l-1 .3l-1.3-1l0-1M525.8 269.6l-.6-.1l-.6-1l-.1-5l.6-1l.7-.1M482.1 272.5l1.2-.6l1 .7l.7 1.9l-.7 .9l-2-.9l-.5-1l.3-1M484.8 277.5l.5-.5l1 .3l.7 1.2l-1.7 .6l-.9-.6l.4-1M521.6 281.5l.7-.7l.4 .7l-.4 1.9l-1-.1l-.2-.8l.5-1M369.8 281.8l2.5 1l4 .7l-3 1.5l-2 1.8l-1.5 .2M512.9 287.5l1.4-.8l.7 1.8l-.5 1l-1.5-1l-.1-1M525.8 289.4l-.5 0l-1-1.5l-2.2-1.4l-.1-1l.3-.7l3.5-1.6M416.9 294.5l.4-.7l1 .1l1 .6l.4 1l-1.4 .7l-1-.4l-.4-1.3M473.4 300.5l.9-.3l3 .8l1 .9l0 1.2l-1 .5l-1-.9l-2-.4l-.8-.8l-.1-1M369.8 302l.7 .5l-.7 .3M483.9 302.5l1.4 .4l3 2.7l.5 .9l-.2 1l-1.8 0l-3.1-3l-.5-1l.7-1M518.1 302.5l1.4 0l.3 1l-.5 .9l-1.5 .1l-.6-1l.9-1M525.8 303.6l-1.5-.1l-1-.9l-.4-2.1l.4-1.5l1-.5l1.5 0M514.2 308.5l.5 0l.6 1.8l.3 1.2l-.3 .3l-1.2-1.3l.1-2M525.8 325.1l-1.2-.6l-.7-3l.4-1.6l1.5-.1M422.9 327.5l1.4-.6l1.1 .6l.5 1l-1.6 3.7l-1 .1l-1-.5l-1.1-1.3l.1-1.5l1.6-1.5M405.1 330.5l1.2-.3l1 .5l1.2 2.8l1.7 2l-1.9 1l.6 3l-.6 .7l-2 .1l-1-.5l-1.2-2.3l-.2-5l1.2-2M369.8 332.4l1.5 .4l1 1.7l-.3 1l-2.2 .4M489 332.5l1.3-.6l1 .6l-1 .9l-1.3-.9M498.1 338.5l1.2-.7l1 .7l-2 .7l-.2-.7M512.4 339.5l1.3 0l.8 1l-.2 .7l-2-.4l.1-1.3M417.9 340.5l1.7 0l-1.3 1.3l-.6-.3l.2-1M501.5 340.5l.8-.6l1 .1l2.2 1.5l.5 1l-.7 2.6l-1 .9l-1-.6l-2-3.9l.2-1M473.2 342.5l.1 1.5l-1 1.6l-1.2 .9l1.2-3.8l.9-.2M507.6 342.5l1.7 .1l.6 .9l-.6 1.3l-1 .3l-.8-.6l.1-2M382.5 343.5l.8-.3l1 .5l.5 .8l-.5 1.5l-1 .3l-1.2-.8l.4-2M369.8 345.5l2.1 1l0 1l-1.4 2l1.8 1.7l1.1 .3l-3.6 .1M514.1 345.5l2.2 .2l.6 1.8l-.6 .8l-1 .3l-1.5-1.1l-.2-1l.5-1M447.5 346.5l1.8-.9l.8 .9l-.8 1.6l-1 .5l-1.5-1.1l.7-1M509.8 348.5l1.5 .3l.5 .7l-.7 3l1.2 1.9l1.9 1.1l.3 3l1.7 3l-1.9 1.2l-2.7 3.8l-1.3 .6l-1-1.3l-.1-1.3l1.6-2l.1-1l-.6-1.7l-1.4-1.3l.1-4l-1.2-3l.4-2l1.6-1M374.2 362.5l1.1 1l-1 .8l-.9-.8l.8-1M394.2 362.5l1.1-.7l2 0l3.1 2.7l-1.1 .4l-4-.4l-1.1-2M419.9 363.5l1.7 1l-1 2l.7 2.5l-1 .8l-1.2-.3l-.3-1l1.4-2l-1.1-2l.8-1M507.9 370.5l.4-.5l1 .1l.5 1.4l-.5 1.4l-1 .5l-1-.9l-.1-1l.7-1M422.8 373.5l.5-.3l2 1.4l.7 1.9l-.7 .9l-1.5 .1l-1-4M433.5 382.5l.8-.5l.7 .5l.3 1l-.7 1l-1.3-.6l.2-1.4M385.7 384.5l1 0l.5 1l-.9 .7l-1-.5l.4-1.2M369.8 385.8l1.4 .7l.2 1l-1.6 .7M376.3 391l0-.5l.2 .5M387.7 391l.6-1.3l1.4 .8l0 .5M391.8 391l.5-.8l1 0l.3 .8M402.7 391l.6-1l1 .4l0 .6M451.8 391l.2-2.5l1.3-2l1-.3l1.3 1.3l-1.1 3.5M503.6 391l.4-1.5l1.3-.3l1.5 1.3l0 .5"/></g>
<rect x="369.80" y="235.00" width="156.00" height="155.50" fill="none" stroke="#000" stroke-width="0.8"/>
<text x="369.80" y="398.10" font-size="7.50" text-anchor="middle" font-family="DejaVu Sans, Liberation Sans, sans-serif" fill="#262626">0</text>
<text x="368.30" y="392.70" font-size="7.50" text-anchor="end" font-family="DejaVu Sans, Liberation Sans, sans-serif" fill="#262626">0</text>
<text x="403.64" y="398.10" font-size="7.50" text-anchor="middle" font-family="DejaVu Sans, Liberation Sans, sans-serif" fill="#262626">5</text>
<text x="368.30" y="358.97" font-size="7.50" text-anchor="end" font-family="DejaVu Sans, Liberation Sans, sans-serif" fill="#262626">5</text>
<text x="437.48" y="398.10" font-size="7.50" text-anchor="middle" font-family="DejaVu Sans, Liberation Sans, sans-serif" fill="#262626">10</text>
<text x="368.30" y="325.24" font-size="7.50" text-anchor="end" font-family="DejaVu Sans, Liberation Sans, sans-serif" fill="#262626">10</text>
<text x="471.32" y="398.10" font-size="7.50" text-anchor="middle" font-family="DejaVu Sans, Liberation Sans, sans-serif" fill="#262626">15</text>
<text x="368.30" y="291.51" font-size="7.50" text-anchor="end" font-family="DejaVu Sans, Liberation Sans, sans-serif" fill="#262626">15</text>
<text x="505.16" y="398.10" font-size="7.50" text-anchor="middle" font-family="DejaVu Sans, Liberation Sans, sans-serif" fill="#262626">20</text>
<text x="368.30" y="257.78" font-size="7.50" text-anchor="end" font-family="DejaVu Sans, Liberation Sans, sans-serif" fill="#262626">20</text>
<text x="447.80" y="407.70" font-size="7.50" text-anchor="middle" font-family="DejaVu Sans, Liberation Sans, sans-serif" fill="#262626">X (nm)</text>
<text transform="translate(354.30 312.75) rotate(-90)" font-size="7.50" text-anchor="middle" font-family="DejaVu Sans, Liberation Sans, sans-serif" fill="#262626">Y (nm)</text>
<rect x="535.50" y="234.90" width="8.20" height="155.60" fill="url(#cbE)" stroke="#000" stroke-width="0.6"/>
<text x="545.70" y="393.20" font-size="7.50" font-family="DejaVu Sans, Liberation Sans, sans-serif" fill="#262626">0.00</text>
<text x="545.70" y="377.08" font-size="7.50" font-family="DejaVu Sans, Liberation Sans, sans-serif" fill="#262626">0.15</text>
<text x="545.70" y="360.96" font-size="7.50" font-family="DejaVu Sans, Liberation Sans, sans-serif" fill="#262626">0.30</text>
<text x="545.70" y="344.84" font-size="7.50" font-family="DejaVu Sans, Liberation Sans, sans-serif" fill="#262626">0.45</text>
<text x="545.70" y="328.72" font-size="7.50" font-family="DejaVu Sans, Liberation Sans, sans-serif" fill="#262626">0.60</text>
<text x="545.70" y="312.61" font-size="7.50" font-family="DejaVu Sans, Liberation Sans, sans-serif" fill="#262626">0.75</text>
<text x="545.70" y="296.49" font-size="7.50" font-family="DejaVu Sans, Liberation Sans, sans-serif" fill="#262626">0.90</text>
<text x="545.70" y="280.37" font-size="7.50" font-family="DejaVu Sans, Liberation Sans, sans-serif" fill="#262626">1.05</text>
<text x="545.70" y="264.25" font-size="7.50" font-family="DejaVu Sans, Liberation Sans, sans-serif" fill="#262626">1.20</text>
<text x="545.70" y="248.13" font-size="7.50" font-family="DejaVu Sans, Liberation Sans, sans-serif" fill="#262626">1.35</text>
<text transform="translate(572.20 312.70) rotate(-90)" font-size="7.50" text-anchor="middle" font-family="DejaVu Sans, Liberation Sans, sans-serif" fill="#262626"><tspan font-size="7.50">Rescaled number density (1 × 10<tspan dy="-2.8" font-size="5.25">−3</tspan><tspan dy="2.8"> nm</tspan><tspan dy="-2.8" font-size="5.25">−2</tspan><tspan dy="2.8">)</tspan></tspan></text>
<text x="343.00" y="225.80" font-size="10.2" font-weight="bold" font-family="Liberation Sans, Arial, sans-serif" fill="#000">E</text>
</svg>
</body></html>
